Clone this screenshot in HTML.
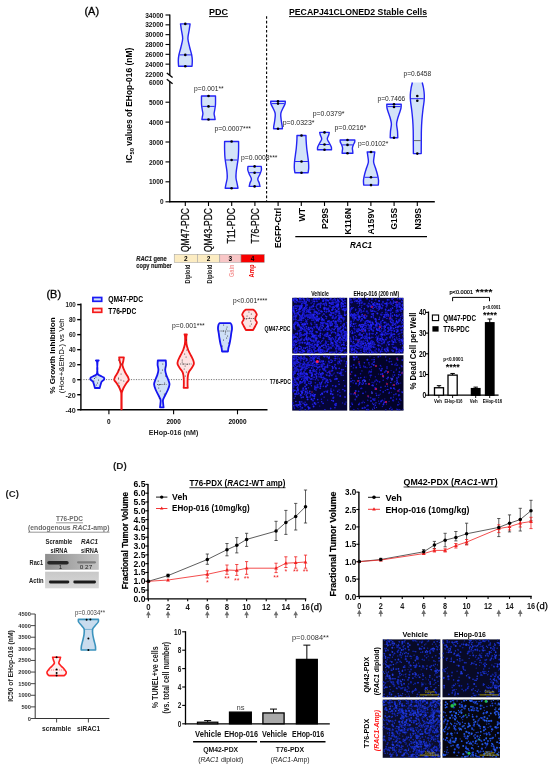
<!DOCTYPE html>
<html><head><meta charset="utf-8"><title>Figure</title>
<style>
html,body{margin:0;padding:0;background:#fff;}
body{width:550px;height:772px;overflow:hidden;}
svg{display:block;font-family:'Liberation Sans', Arial, sans-serif;}
</style></head>
<body>
<svg width="550" height="772" viewBox="0 0 550 772">
<rect width="550" height="772" fill="#fff"/>
<text x="84.5" y="14.6" font-size="10.5" textLength="14.5" lengthAdjust="spacingAndGlyphs" stroke="#000" stroke-width="0.3">(A)</text>
<text x="218.5" y="14.5" font-size="9" font-weight="bold" text-anchor="middle" textLength="19" lengthAdjust="spacingAndGlyphs">PDC</text>
<line x1="209" y1="16.6" x2="228" y2="16.6" stroke="#000" stroke-width="0.9"/>
<text x="289" y="14.5" font-size="9" font-weight="bold" textLength="138" lengthAdjust="spacingAndGlyphs">PECAPJ41CLONED2 Stable Cells</text>
<line x1="289" y1="16.6" x2="427" y2="16.6" stroke="#000" stroke-width="0.9"/>
<line x1="169.8" y1="14.5" x2="169.8" y2="75" stroke="#000" stroke-width="1.3"/>
<line x1="166.8" y1="73" x2="172.6" y2="77.6" stroke="#000" stroke-width="1.3"/>
<line x1="166.8" y1="79.2" x2="172.6" y2="83.8" stroke="#000" stroke-width="1.3"/>
<line x1="169.8" y1="81.8" x2="169.8" y2="202.2" stroke="#000" stroke-width="1.3"/>
<line x1="165.5" y1="15" x2="169.8" y2="15" stroke="#000" stroke-width="1.1"/>
<text x="163.5" y="17.6" font-size="7.2" font-weight="bold" text-anchor="end" fill="#111" textLength="18.3" lengthAdjust="spacingAndGlyphs">34000</text>
<line x1="165.5" y1="24.83" x2="169.8" y2="24.83" stroke="#000" stroke-width="1.1"/>
<text x="163.5" y="27.43" font-size="7.2" font-weight="bold" text-anchor="end" fill="#111" textLength="18.3" lengthAdjust="spacingAndGlyphs">32000</text>
<line x1="165.5" y1="34.66" x2="169.8" y2="34.66" stroke="#000" stroke-width="1.1"/>
<text x="163.5" y="37.26" font-size="7.2" font-weight="bold" text-anchor="end" fill="#111" textLength="18.3" lengthAdjust="spacingAndGlyphs">30000</text>
<line x1="165.5" y1="44.49" x2="169.8" y2="44.49" stroke="#000" stroke-width="1.1"/>
<text x="163.5" y="47.09" font-size="7.2" font-weight="bold" text-anchor="end" fill="#111" textLength="18.3" lengthAdjust="spacingAndGlyphs">28000</text>
<line x1="165.5" y1="54.32" x2="169.8" y2="54.32" stroke="#000" stroke-width="1.1"/>
<text x="163.5" y="56.92" font-size="7.2" font-weight="bold" text-anchor="end" fill="#111" textLength="18.3" lengthAdjust="spacingAndGlyphs">26000</text>
<line x1="165.5" y1="64.15" x2="169.8" y2="64.15" stroke="#000" stroke-width="1.1"/>
<text x="163.5" y="66.75" font-size="7.2" font-weight="bold" text-anchor="end" fill="#111" textLength="18.3" lengthAdjust="spacingAndGlyphs">24000</text>
<text x="163.5" y="76.6" font-size="7.2" font-weight="bold" text-anchor="end" fill="#111" textLength="18.3" lengthAdjust="spacingAndGlyphs">22000</text>
<text x="163.5" y="85" font-size="7.2" font-weight="bold" text-anchor="end" fill="#111" textLength="14.5" lengthAdjust="spacingAndGlyphs">6000</text>
<line x1="165.5" y1="102.2" x2="169.8" y2="102.2" stroke="#000" stroke-width="1.1"/>
<text x="163.5" y="104.8" font-size="7.2" font-weight="bold" text-anchor="end" fill="#111" textLength="14.5" lengthAdjust="spacingAndGlyphs">5000</text>
<line x1="165.5" y1="122.1" x2="169.8" y2="122.1" stroke="#000" stroke-width="1.1"/>
<text x="163.5" y="124.7" font-size="7.2" font-weight="bold" text-anchor="end" fill="#111" textLength="14.5" lengthAdjust="spacingAndGlyphs">4000</text>
<line x1="165.5" y1="142" x2="169.8" y2="142" stroke="#000" stroke-width="1.1"/>
<text x="163.5" y="144.6" font-size="7.2" font-weight="bold" text-anchor="end" fill="#111" textLength="14.5" lengthAdjust="spacingAndGlyphs">3000</text>
<line x1="165.5" y1="161.9" x2="169.8" y2="161.9" stroke="#000" stroke-width="1.1"/>
<text x="163.5" y="164.5" font-size="7.2" font-weight="bold" text-anchor="end" fill="#111" textLength="14.5" lengthAdjust="spacingAndGlyphs">2000</text>
<line x1="165.5" y1="181.8" x2="169.8" y2="181.8" stroke="#000" stroke-width="1.1"/>
<text x="163.5" y="184.4" font-size="7.2" font-weight="bold" text-anchor="end" fill="#111" textLength="14.5" lengthAdjust="spacingAndGlyphs">1000</text>
<text x="131.8" y="105.3" font-size="8.45" font-weight="bold" text-anchor="middle" transform="rotate(-90 131.8 105.3)">IC<tspan font-size="5.8" dy="2">50</tspan><tspan dy="-2"> values of EHop-016 (nM)</tspan></text>
<line x1="169.2" y1="201.8" x2="434.8" y2="201.8" stroke="#000" stroke-width="1.4"/>
<line x1="185.3" y1="201.8" x2="185.3" y2="206" stroke="#000" stroke-width="1.1"/>
<text x="188.9" y="208" font-size="10" text-anchor="end" textLength="44" lengthAdjust="spacingAndGlyphs" transform="rotate(-90 188.9 208)" stroke="#000" stroke-width="0.25">QM47-PDC</text>
<line x1="208.5" y1="201.8" x2="208.5" y2="206" stroke="#000" stroke-width="1.1"/>
<text x="212.1" y="208" font-size="10" text-anchor="end" textLength="44" lengthAdjust="spacingAndGlyphs" transform="rotate(-90 212.1 208)" stroke="#000" stroke-width="0.25">QM43-PDC</text>
<line x1="231.7" y1="201.8" x2="231.7" y2="206" stroke="#000" stroke-width="1.1"/>
<text x="235.3" y="208" font-size="10" text-anchor="end" textLength="35.5" lengthAdjust="spacingAndGlyphs" transform="rotate(-90 235.3 208)" stroke="#000" stroke-width="0.25">T11-PDC</text>
<line x1="254.9" y1="201.8" x2="254.9" y2="206" stroke="#000" stroke-width="1.1"/>
<text x="258.5" y="208" font-size="10" text-anchor="end" textLength="35.5" lengthAdjust="spacingAndGlyphs" transform="rotate(-90 258.5 208)" stroke="#000" stroke-width="0.25">T76-PDC</text>
<line x1="278.1" y1="201.8" x2="278.1" y2="206" stroke="#000" stroke-width="1.1"/>
<text x="281.4" y="208" font-size="9" font-weight="bold" text-anchor="end" textLength="40" lengthAdjust="spacingAndGlyphs" transform="rotate(-90 281.4 208)">EGFP-Ctrl</text>
<line x1="301.3" y1="201.8" x2="301.3" y2="206" stroke="#000" stroke-width="1.1"/>
<text x="304.6" y="208" font-size="9" font-weight="bold" text-anchor="end" textLength="13.5" lengthAdjust="spacingAndGlyphs" transform="rotate(-90 304.6 208)">WT</text>
<line x1="324.5" y1="201.8" x2="324.5" y2="206" stroke="#000" stroke-width="1.1"/>
<text x="327.8" y="208" font-size="9" font-weight="bold" text-anchor="end" textLength="21" lengthAdjust="spacingAndGlyphs" transform="rotate(-90 327.8 208)">P29S</text>
<line x1="347.7" y1="201.8" x2="347.7" y2="206" stroke="#000" stroke-width="1.1"/>
<text x="351" y="208" font-size="9" font-weight="bold" text-anchor="end" textLength="26.5" lengthAdjust="spacingAndGlyphs" transform="rotate(-90 351 208)">K116N</text>
<line x1="370.9" y1="201.8" x2="370.9" y2="206" stroke="#000" stroke-width="1.1"/>
<text x="374.2" y="208" font-size="9" font-weight="bold" text-anchor="end" textLength="26.5" lengthAdjust="spacingAndGlyphs" transform="rotate(-90 374.2 208)">A159V</text>
<line x1="394.1" y1="201.8" x2="394.1" y2="206" stroke="#000" stroke-width="1.1"/>
<text x="397.4" y="208" font-size="9" font-weight="bold" text-anchor="end" textLength="21.5" lengthAdjust="spacingAndGlyphs" transform="rotate(-90 397.4 208)">G15S</text>
<line x1="417.3" y1="201.8" x2="417.3" y2="206" stroke="#000" stroke-width="1.1"/>
<text x="420.6" y="208" font-size="9" font-weight="bold" text-anchor="end" textLength="21.5" lengthAdjust="spacingAndGlyphs" transform="rotate(-90 420.6 208)">N39S</text>
<line x1="165.5" y1="201.8" x2="169.8" y2="201.8" stroke="#000" stroke-width="1.1"/>
<text x="163.5" y="204.4" font-size="7.2" font-weight="bold" text-anchor="end" fill="#111" textLength="3.6" lengthAdjust="spacingAndGlyphs">0</text>
<line x1="266.6" y1="16.2" x2="266.6" y2="201" stroke="#000" stroke-width="1.1" stroke-dasharray="2.6,2"/>
<line x1="295.3" y1="236.7" x2="427" y2="236.7" stroke="#000" stroke-width="1.3"/>
<text x="361" y="248.3" font-size="9" font-weight="bold" text-anchor="middle" font-style="italic" textLength="22" lengthAdjust="spacingAndGlyphs">RAC1</text>
<text x="136.3" y="260.8" font-size="7.2" font-weight="bold" fill="#222" textLength="30.5" lengthAdjust="spacingAndGlyphs" stroke="#222" stroke-width="0.2"><tspan font-style="italic">RAC1</tspan> gene</text>
<text x="136.3" y="267.8" font-size="7.2" font-weight="bold" fill="#222" textLength="35.5" lengthAdjust="spacingAndGlyphs" stroke="#222" stroke-width="0.2">copy number</text>
<rect x="174.2" y="254.4" width="23.1" height="8" fill="#fcecc2" stroke="#999" stroke-width="0.5"/>
<text x="185.75" y="261" font-size="6.5" font-weight="bold" text-anchor="middle">2</text>
<rect x="197.3" y="254.4" width="22.5" height="8" fill="#fcecc2" stroke="#999" stroke-width="0.5"/>
<text x="208.55" y="261" font-size="6.5" font-weight="bold" text-anchor="middle">2</text>
<rect x="219.8" y="254.4" width="21.2" height="8" fill="#f8c6c6" stroke="#999" stroke-width="0.5"/>
<text x="230.4" y="261" font-size="6.5" font-weight="bold" text-anchor="middle">3</text>
<rect x="241" y="254.4" width="23.3" height="8" fill="#f80000" stroke="#999" stroke-width="0.5"/>
<text x="252.65" y="261" font-size="6.5" font-weight="bold" text-anchor="middle">4</text>
<text x="189.6" y="264.5" font-size="6.6" font-weight="bold" text-anchor="end" fill="#222" textLength="19" lengthAdjust="spacingAndGlyphs" transform="rotate(-90 189.6 264.5)">Diploid</text>
<text x="211.7" y="264.5" font-size="6.6" font-weight="bold" text-anchor="end" fill="#222" textLength="19" lengthAdjust="spacingAndGlyphs" transform="rotate(-90 211.7 264.5)">Diploid</text>
<text x="233.5" y="264.5" font-size="6.6" font-weight="bold" text-anchor="end" fill="#f59a9a" textLength="12.5" lengthAdjust="spacingAndGlyphs" transform="rotate(-90 233.5 264.5)">Gain</text>
<text x="254.2" y="264.5" font-size="6.6" font-weight="bold" text-anchor="end" fill="#f00000" textLength="13" lengthAdjust="spacingAndGlyphs" transform="rotate(-90 254.2 264.5)">Amp</text>
<path d="M190.1,23.9 C189.95,24.92 189.57,27.57 189.2,30 C188.83,32.43 187.83,35.67 187.9,38.5 C187.97,41.33 188.97,44.25 189.6,47 C190.23,49.75 191.25,52.73 191.7,55 C192.15,57.27 192.25,58.72 192.3,60.6 C192.35,62.48 192.05,65.35 192,66.3 L178.6,66.3 C178.55,65.35 178.25,62.48 178.3,60.6 C178.35,58.72 178.45,57.27 178.9,55 C179.35,52.73 180.37,49.75 181,47 C181.63,44.25 182.63,41.33 182.7,38.5 C182.77,35.67 181.77,32.43 181.4,30 C181.03,27.57 180.65,24.92 180.5,23.9 Z" fill="#d3e3f8" stroke="#2424f4" stroke-width="1.4" stroke-linejoin="round"/>
<line x1="179.43" y1="54.9" x2="191.17" y2="54.9" stroke="#2424f4" stroke-width="1"/>
<circle cx="185.3" cy="23.9" r="1.3" fill="#000"/>
<circle cx="185.3" cy="54.9" r="1.3" fill="#000"/>
<circle cx="185.3" cy="66.3" r="1.3" fill="#000"/>
<path d="M215.5,96 C215.5,97.33 215.62,101.75 215.5,104 C215.38,106.25 215.03,107.9 214.8,109.5 C214.57,111.1 214.12,112.35 214.1,113.6 C214.08,114.85 214.53,116.02 214.7,117 C214.87,117.98 215.03,119.08 215.1,119.5 L201.9,119.5 C201.97,119.08 202.13,117.98 202.3,117 C202.47,116.02 202.92,114.85 202.9,113.6 C202.88,112.35 202.43,111.1 202.2,109.5 C201.97,107.9 201.62,106.25 201.5,104 C201.38,101.75 201.5,97.33 201.5,96 Z" fill="#d3e3f8" stroke="#2424f4" stroke-width="1.4" stroke-linejoin="round"/>
<line x1="202.31" y1="106.4" x2="214.69" y2="106.4" stroke="#2424f4" stroke-width="1"/>
<circle cx="208.5" cy="96" r="1.3" fill="#000"/>
<circle cx="208.5" cy="106.4" r="1.3" fill="#000"/>
<circle cx="208.5" cy="119.5" r="1.3" fill="#000"/>
<path d="M238.6,141.5 C238.6,142.92 238.67,147.25 238.6,150 C238.53,152.75 238.43,155.5 238.2,158 C237.97,160.5 237.53,162.67 237.2,165 C236.87,167.33 236.4,169.83 236.2,172 C236,174.17 235.83,176 236,178 C236.17,180 236.87,182.3 237.2,184 C237.53,185.7 237.87,187.5 238,188.2 L225.2,188.2 C225.33,187.5 225.67,185.7 226,184 C226.33,182.3 227.03,180 227.2,178 C227.37,176 227.2,174.17 227,172 C226.8,169.83 226.33,167.33 226,165 C225.67,162.67 225.23,160.5 225,158 C224.77,155.5 224.67,152.75 224.6,150 C224.53,147.25 224.6,142.92 224.6,141.5 Z" fill="#d3e3f8" stroke="#2424f4" stroke-width="1.4" stroke-linejoin="round"/>
<line x1="225.79" y1="160" x2="237.41" y2="160" stroke="#2424f4" stroke-width="1"/>
<circle cx="231.6" cy="141.5" r="1.3" fill="#000"/>
<circle cx="231.6" cy="160" r="1.3" fill="#000"/>
<circle cx="231.6" cy="188.2" r="1.3" fill="#000"/>
<path d="M261.2,166.4 C261.23,167 261.6,168.73 261.4,170 C261.2,171.27 260.6,172.5 260,174 C259.4,175.5 257.93,177.5 257.8,179 C257.67,180.5 258.83,181.77 259.2,183 C259.57,184.23 259.87,185.83 260,186.4 L249.2,186.4 C249.33,185.83 249.63,184.23 250,183 C250.37,181.77 251.53,180.5 251.4,179 C251.27,177.5 249.8,175.5 249.2,174 C248.6,172.5 248,171.27 247.8,170 C247.6,168.73 247.97,167 248,166.4 Z" fill="#d3e3f8" stroke="#2424f4" stroke-width="1.4" stroke-linejoin="round"/>
<line x1="249.25" y1="172.7" x2="259.95" y2="172.7" stroke="#2424f4" stroke-width="1"/>
<circle cx="254.6" cy="166.4" r="1.3" fill="#000"/>
<circle cx="254.6" cy="172.7" r="1.3" fill="#000"/>
<circle cx="254.6" cy="186.4" r="1.3" fill="#000"/>
<path d="M285.3,101.3 C285.25,101.75 285.42,102.8 285,104 C284.58,105.2 283.5,106.9 282.8,108.5 C282.1,110.1 281.07,111.68 280.8,113.6 C280.53,115.52 280.97,117.93 281.2,120 C281.43,122.07 282,124.53 282.2,126 C282.4,127.47 282.37,128.33 282.4,128.8 L273.6,128.8 C273.63,128.33 273.6,127.47 273.8,126 C274,124.53 274.57,122.07 274.8,120 C275.03,117.93 275.47,115.52 275.2,113.6 C274.93,111.68 273.9,110.1 273.2,108.5 C272.5,106.9 271.42,105.2 271,104 C270.58,102.8 270.75,101.75 270.7,101.3 Z" fill="#d3e3f8" stroke="#2424f4" stroke-width="1.4" stroke-linejoin="round"/>
<line x1="271.46" y1="103.6" x2="284.54" y2="103.6" stroke="#2424f4" stroke-width="1"/>
<circle cx="278" cy="101.3" r="1.3" fill="#000"/>
<circle cx="278" cy="103.6" r="1.3" fill="#000"/>
<circle cx="278" cy="128.8" r="1.3" fill="#000"/>
<path d="M306,135.5 C306.02,136.25 305.98,137.92 306.1,140 C306.22,142.08 306.45,145.5 306.7,148 C306.95,150.5 307.3,152.67 307.6,155 C307.9,157.33 308.32,159.83 308.5,162 C308.68,164.17 308.77,166.22 308.7,168 C308.63,169.78 308.2,171.92 308.1,172.7 L294.9,172.7 C294.8,171.92 294.37,169.78 294.3,168 C294.23,166.22 294.32,164.17 294.5,162 C294.68,159.83 295.1,157.33 295.4,155 C295.7,152.67 296.05,150.5 296.3,148 C296.55,145.5 296.78,142.08 296.9,140 C297.02,137.92 296.98,136.25 297,135.5 Z" fill="#d3e3f8" stroke="#2424f4" stroke-width="1.4" stroke-linejoin="round"/>
<line x1="295.06" y1="161.5" x2="307.94" y2="161.5" stroke="#2424f4" stroke-width="1"/>
<circle cx="301.5" cy="135.5" r="1.3" fill="#000"/>
<circle cx="301.5" cy="161.5" r="1.3" fill="#000"/>
<circle cx="301.5" cy="172.7" r="1.3" fill="#000"/>
<path d="M329.3,132.4 C329.2,132.83 329.03,133.9 328.7,135 C328.37,136.1 327.2,137.67 327.3,139 C327.4,140.33 328.63,141.67 329.3,143 C329.97,144.33 330.93,145.87 331.3,147 C331.67,148.13 331.47,149.33 331.5,149.8 L317.5,149.8 C317.53,149.33 317.33,148.13 317.7,147 C318.07,145.87 319.03,144.33 319.7,143 C320.37,141.67 321.6,140.33 321.7,139 C321.8,137.67 320.63,136.1 320.3,135 C319.97,133.9 319.8,132.83 319.7,132.4 Z" fill="#d3e3f8" stroke="#2424f4" stroke-width="1.4" stroke-linejoin="round"/>
<line x1="319.45" y1="144.5" x2="329.55" y2="144.5" stroke="#2424f4" stroke-width="1"/>
<circle cx="324.5" cy="132.4" r="1.3" fill="#000"/>
<circle cx="324.5" cy="144.5" r="1.3" fill="#000"/>
<circle cx="324.5" cy="149.8" r="1.3" fill="#000"/>
<path d="M354.8,140 C354.78,140.33 354.95,141.17 354.7,142 C354.45,142.83 353.68,144 353.3,145 C352.92,146 352.5,147 352.4,148 C352.3,149 352.62,150.12 352.7,151 C352.78,151.88 352.87,152.92 352.9,153.3 L342.1,153.3 C342.13,152.92 342.22,151.88 342.3,151 C342.38,150.12 342.7,149 342.6,148 C342.5,147 342.08,146 341.7,145 C341.32,144 340.55,142.83 340.3,142 C340.05,141.17 340.22,140.33 340.2,140 Z" fill="#d3e3f8" stroke="#2424f4" stroke-width="1.4" stroke-linejoin="round"/>
<line x1="342.15" y1="144.9" x2="352.85" y2="144.9" stroke="#2424f4" stroke-width="1"/>
<circle cx="347.5" cy="140" r="1.3" fill="#000"/>
<circle cx="347.5" cy="144.9" r="1.3" fill="#000"/>
<circle cx="347.5" cy="153.3" r="1.3" fill="#000"/>
<path d="M374.8,152 C374.7,152.67 374.4,154.33 374.2,156 C374,157.67 373.38,160 373.6,162 C373.82,164 374.88,166 375.5,168 C376.12,170 376.8,172 377.3,174 C377.8,176 378.33,178.15 378.5,180 C378.67,181.85 378.33,184.25 378.3,185.1 L363.7,185.1 C363.67,184.25 363.33,181.85 363.5,180 C363.67,178.15 364.2,176 364.7,174 C365.2,172 365.88,170 366.5,168 C367.12,166 368.18,164 368.4,162 C368.62,160 368,157.67 367.8,156 C367.6,154.33 367.3,152.67 367.2,152 Z" fill="#d3e3f8" stroke="#2424f4" stroke-width="1.4" stroke-linejoin="round"/>
<line x1="364.54" y1="177.3" x2="377.46" y2="177.3" stroke="#2424f4" stroke-width="1"/>
<circle cx="371" cy="152" r="1.3" fill="#000"/>
<circle cx="371" cy="177.3" r="1.3" fill="#000"/>
<circle cx="371" cy="185.1" r="1.3" fill="#000"/>
<path d="M401.2,104.3 C401.17,104.92 401.28,106.55 401,108 C400.72,109.45 400.03,111.33 399.5,113 C398.97,114.67 398.28,116.17 397.8,118 C397.32,119.83 396.65,121.83 396.6,124 C396.55,126.17 397.3,128.72 397.5,131 C397.7,133.28 397.75,136.58 397.8,137.7 L390.2,137.7 C390.25,136.58 390.3,133.28 390.5,131 C390.7,128.72 391.45,126.17 391.4,124 C391.35,121.83 390.68,119.83 390.2,118 C389.72,116.17 389.03,114.67 388.5,113 C387.97,111.33 387.28,109.45 387,108 C386.72,106.55 386.83,104.92 386.8,104.3 Z" fill="#d3e3f8" stroke="#2424f4" stroke-width="1.4" stroke-linejoin="round"/>
<line x1="387.42" y1="106.6" x2="400.58" y2="106.6" stroke="#2424f4" stroke-width="1"/>
<circle cx="394" cy="104.3" r="1.3" fill="#000"/>
<circle cx="394" cy="107" r="1.3" fill="#000"/>
<circle cx="394" cy="137.7" r="1.3" fill="#000"/>
<path d="M422.2,82.5 C422.42,83.42 423.15,85.92 423.5,88 C423.85,90.08 424.2,92.83 424.3,95 C424.4,97.17 424.33,98.5 424.1,101 C423.87,103.5 423.27,106.83 422.9,110 C422.53,113.17 422.15,116.67 421.9,120 C421.65,123.33 421.5,126.67 421.4,130 C421.3,133.33 421.33,136.07 421.3,140 C421.27,143.93 421.22,151.33 421.2,153.6 L413.4,153.6 C413.38,151.33 413.33,143.93 413.3,140 C413.27,136.07 413.3,133.33 413.2,130 C413.1,126.67 412.95,123.33 412.7,120 C412.45,116.67 412.07,113.17 411.7,110 C411.33,106.83 410.73,103.5 410.5,101 C410.27,98.5 410.2,97.17 410.3,95 C410.4,92.83 410.75,90.08 411.1,88 C411.45,85.92 412.18,83.42 412.4,82.5 Z" fill="#d3e3f8" stroke="none" stroke-width="0"/>
<path d="M422.2,82.5 C422.42,83.42 423.15,85.92 423.5,88 C423.85,90.08 424.2,92.83 424.3,95 C424.4,97.17 424.33,98.5 424.1,101 C423.87,103.5 423.27,106.83 422.9,110 C422.53,113.17 422.15,116.67 421.9,120 C421.65,123.33 421.5,126.67 421.4,130 C421.3,133.33 421.33,136.07 421.3,140 C421.27,143.93 421.22,151.33 421.2,153.6 L413.4,153.6 C413.38,151.33 413.33,143.93 413.3,140 C413.27,136.07 413.3,133.33 413.2,130 C413.1,126.67 412.95,123.33 412.7,120 C412.45,116.67 412.07,113.17 411.7,110 C411.33,106.83 410.73,103.5 410.5,101 C410.27,98.5 410.2,97.17 410.3,95 C410.4,92.83 410.75,90.08 411.1,88 C411.45,85.92 412.18,83.42 412.4,82.5" fill="none" stroke="#2424f4" stroke-width="1.4" stroke-linejoin="round"/>
<line x1="410.92" y1="98.7" x2="423.68" y2="98.7" stroke="#2424f4" stroke-width="1"/>
<circle cx="417.3" cy="96" r="1.3" fill="#000"/>
<circle cx="417.3" cy="100.8" r="1.3" fill="#000"/>
<circle cx="417.3" cy="153.6" r="1.3" fill="#000"/>
<line x1="413.9" y1="140.6" x2="420.7" y2="140.6" stroke="#444" stroke-width="0.8"/>
<text x="194" y="91.3" font-size="7.6" fill="#1e1e1e" textLength="29.6" lengthAdjust="spacingAndGlyphs">p=0.001**</text>
<text x="214.5" y="131" font-size="7.6" fill="#1e1e1e" textLength="36.5" lengthAdjust="spacingAndGlyphs">p=0.0007***</text>
<text x="241" y="159.5" font-size="7.6" fill="#1e1e1e" textLength="36.5" lengthAdjust="spacingAndGlyphs">p=0.0008***</text>
<text x="282.7" y="125" font-size="7.6" fill="#1e1e1e" textLength="31.8" lengthAdjust="spacingAndGlyphs">p=0.0323*</text>
<text x="312.7" y="115.8" font-size="7.6" fill="#1e1e1e" textLength="31.8" lengthAdjust="spacingAndGlyphs">p=0.0379*</text>
<text x="334.5" y="130" font-size="7.6" fill="#1e1e1e" textLength="31.8" lengthAdjust="spacingAndGlyphs">p=0.0216*</text>
<text x="357.9" y="145.7" font-size="7.6" fill="#1e1e1e" textLength="30.4" lengthAdjust="spacingAndGlyphs">p=0.0102*</text>
<text x="377.6" y="100.8" font-size="7.6" fill="#1e1e1e" textLength="27.7" lengthAdjust="spacingAndGlyphs">p=0.7466</text>
<text x="403.5" y="76.3" font-size="7.6" fill="#1e1e1e" textLength="27.7" lengthAdjust="spacingAndGlyphs">p=0.6458</text>
<text x="46.5" y="297.6" font-size="10.5" textLength="14.5" lengthAdjust="spacingAndGlyphs" stroke="#000" stroke-width="0.3">(B)</text>
<line x1="80.9" y1="303.5" x2="80.9" y2="410.3" stroke="#000" stroke-width="1.4"/>
<line x1="77.2" y1="304.6" x2="80.9" y2="304.6" stroke="#000" stroke-width="1.4"/>
<text x="75.8" y="307.4" font-size="7.8" font-weight="bold" text-anchor="end" fill="#1a1a1a" textLength="10.35" lengthAdjust="spacingAndGlyphs">100</text>
<line x1="77.2" y1="319.62" x2="80.9" y2="319.62" stroke="#000" stroke-width="1.4"/>
<text x="75.8" y="322.42" font-size="7.8" font-weight="bold" text-anchor="end" fill="#1a1a1a" textLength="6.9" lengthAdjust="spacingAndGlyphs">80</text>
<line x1="77.2" y1="334.64" x2="80.9" y2="334.64" stroke="#000" stroke-width="1.4"/>
<text x="75.8" y="337.44" font-size="7.8" font-weight="bold" text-anchor="end" fill="#1a1a1a" textLength="6.9" lengthAdjust="spacingAndGlyphs">60</text>
<line x1="77.2" y1="349.66" x2="80.9" y2="349.66" stroke="#000" stroke-width="1.4"/>
<text x="75.8" y="352.46" font-size="7.8" font-weight="bold" text-anchor="end" fill="#1a1a1a" textLength="6.9" lengthAdjust="spacingAndGlyphs">40</text>
<line x1="77.2" y1="364.68" x2="80.9" y2="364.68" stroke="#000" stroke-width="1.4"/>
<text x="75.8" y="367.48" font-size="7.8" font-weight="bold" text-anchor="end" fill="#1a1a1a" textLength="6.9" lengthAdjust="spacingAndGlyphs">20</text>
<line x1="77.2" y1="379.7" x2="80.9" y2="379.7" stroke="#000" stroke-width="1.4"/>
<text x="75.8" y="382.5" font-size="7.8" font-weight="bold" text-anchor="end" fill="#1a1a1a" textLength="3.45" lengthAdjust="spacingAndGlyphs">0</text>
<line x1="77.2" y1="394.72" x2="80.9" y2="394.72" stroke="#000" stroke-width="1.4"/>
<text x="75.8" y="397.52" font-size="7.8" font-weight="bold" text-anchor="end" fill="#1a1a1a" textLength="10.35" lengthAdjust="spacingAndGlyphs">-20</text>
<line x1="77.2" y1="409.74" x2="80.9" y2="409.74" stroke="#000" stroke-width="1.4"/>
<text x="75.8" y="412.54" font-size="7.8" font-weight="bold" text-anchor="end" fill="#1a1a1a" textLength="10.35" lengthAdjust="spacingAndGlyphs">-40</text>
<line x1="80.2" y1="409.8" x2="267.5" y2="409.8" stroke="#000" stroke-width="1.4"/>
<line x1="108.9" y1="409.8" x2="108.9" y2="414.3" stroke="#000" stroke-width="1.1"/>
<text x="108.9" y="424.3" font-size="6.8" font-weight="bold" text-anchor="middle" textLength="3.6" lengthAdjust="spacingAndGlyphs">0</text>
<line x1="173.6" y1="409.8" x2="173.6" y2="414.3" stroke="#000" stroke-width="1.1"/>
<text x="173.6" y="424.3" font-size="6.8" font-weight="bold" text-anchor="middle" textLength="14.4" lengthAdjust="spacingAndGlyphs">2000</text>
<line x1="237.5" y1="409.8" x2="237.5" y2="414.3" stroke="#000" stroke-width="1.1"/>
<text x="237.5" y="424.3" font-size="6.8" font-weight="bold" text-anchor="middle" textLength="18" lengthAdjust="spacingAndGlyphs">20000</text>
<text x="173.6" y="435.4" font-size="7.8" font-weight="bold" text-anchor="middle" fill="#222" textLength="49.5" lengthAdjust="spacingAndGlyphs">EHop-016 (nM)</text>
<line x1="80.9" y1="379.6" x2="267" y2="379.6" stroke="#555" stroke-width="0.8" stroke-dasharray="1.2,1.3"/>
<text x="55" y="355.5" font-size="7.8" font-weight="bold" text-anchor="middle" textLength="76.5" lengthAdjust="spacingAndGlyphs" transform="rotate(-90 55 355.5)">% Growth Inhibition</text>
<text x="64.4" y="355.8" font-size="7.6" text-anchor="middle" textLength="75" lengthAdjust="spacingAndGlyphs" transform="rotate(-90 64.4 355.8)">(Hoe+&amp;EthD-) vs Veh</text>
<rect x="92.9" y="297.5" width="8.8" height="3.8" fill="#cfe0f7" stroke="#1b1bf5" stroke-width="1.7"/>
<rect x="92.9" y="308.5" width="8.8" height="3.8" fill="#fde3e3" stroke="#f51b1b" stroke-width="1.7"/>
<text x="108.3" y="302.3" font-size="8.2" font-weight="bold" textLength="34.7" lengthAdjust="spacingAndGlyphs">QM47-PDC</text>
<text x="108.3" y="313.5" font-size="8.2" font-weight="bold" textLength="28" lengthAdjust="spacingAndGlyphs">T76-PDC</text>
<path d="M98.7,360.5 C98.5,360.83 97.7,360.42 97.5,362.5 C97.3,364.58 97.12,370.83 97.5,373 C97.88,375.17 98.75,374.75 99.8,375.5 C100.85,376.25 103.08,376.83 103.8,377.5 C104.52,378.17 104.43,378.83 104.1,379.5 C103.77,380.17 102.35,380.75 101.8,381.5 C101.25,382.25 101.15,382.92 100.8,384 C100.45,385.08 99.88,387.33 99.7,388 L94.9,388 C94.72,387.33 94.15,385.08 93.8,384 C93.45,382.92 93.35,382.25 92.8,381.5 C92.25,380.75 90.83,380.17 90.5,379.5 C90.17,378.83 90.08,378.17 90.8,377.5 C91.52,376.83 93.75,376.25 94.8,375.5 C95.85,374.75 96.72,375.17 97.1,373 C97.48,370.83 97.3,364.58 97.1,362.5 C96.9,360.42 96.1,360.83 95.9,360.5 Z" fill="#cfe0f7" stroke="#1414f0" stroke-width="1.8" stroke-linejoin="round"/>
<path d="M123.9,357.3 C123.8,357.92 123.53,359.63 123.3,361 C123.07,362.37 122.22,363.67 122.5,365.5 C122.78,367.33 124.08,370.08 125,372 C125.92,373.92 127.38,375.67 128,377 C128.62,378.33 128.95,379 128.7,380 C128.45,381 127.37,381.67 126.5,383 C125.63,384.33 124.25,386.5 123.5,388 C122.75,389.5 122.3,390.83 122,392 C121.7,393.17 121.75,392.12 121.7,395 C121.65,397.88 121.7,406.92 121.7,409.3 L121.3,409.3 C121.3,406.92 121.35,397.88 121.3,395 C121.25,392.12 121.3,393.17 121,392 C120.7,390.83 120.25,389.5 119.5,388 C118.75,386.5 117.37,384.33 116.5,383 C115.63,381.67 114.55,381 114.3,380 C114.05,379 114.38,378.33 115,377 C115.62,375.67 117.08,373.92 118,372 C118.92,370.08 120.22,367.33 120.5,365.5 C120.78,363.67 119.93,362.37 119.7,361 C119.47,359.63 119.2,357.92 119.1,357.3 Z" fill="#fde3e3" stroke="#f01414" stroke-width="1.8" stroke-linejoin="round"/>
<path d="M165.8,360.5 C165.83,361.25 166.1,363.42 166,365 C165.9,366.58 165.15,368.33 165.2,370 C165.25,371.67 165.78,373.33 166.3,375 C166.82,376.67 167.77,378.42 168.3,380 C168.83,381.58 169.58,382.83 169.5,384.5 C169.42,386.17 168.58,388.08 167.8,390 C167.02,391.92 165.6,394.33 164.8,396 C164,397.67 163.27,398.67 163,400 C162.73,401.33 163.1,402.78 163.2,404 C163.3,405.22 163.53,406.75 163.6,407.3 L160,407.3 C160.07,406.75 160.3,405.22 160.4,404 C160.5,402.78 160.87,401.33 160.6,400 C160.33,398.67 159.6,397.67 158.8,396 C158,394.33 156.58,391.92 155.8,390 C155.02,388.08 154.18,386.17 154.1,384.5 C154.02,382.83 154.77,381.58 155.3,380 C155.83,378.42 156.78,376.67 157.3,375 C157.82,373.33 158.35,371.67 158.4,370 C158.45,368.33 157.7,366.58 157.6,365 C157.5,363.42 157.77,361.25 157.8,360.5 Z" fill="#cfe0f7" stroke="#1414f0" stroke-width="1.8" stroke-linejoin="round"/>
<path d="M186.9,334.3 C186.8,334.75 186.37,335.38 186.3,337 C186.23,338.62 186.18,341.83 186.5,344 C186.82,346.17 187.42,348 188.2,350 C188.98,352 190.32,354.17 191.2,356 C192.08,357.83 193.07,359.63 193.5,361 C193.93,362.37 194.1,363.03 193.8,364.2 C193.5,365.37 192.52,366.7 191.7,368 C190.88,369.3 189.53,370.67 188.9,372 C188.27,373.33 188.12,374.67 187.9,376 C187.68,377.33 187.65,378.33 187.6,380 C187.55,381.67 187.57,384.7 187.6,386 C187.63,387.3 187.77,387.5 187.8,387.8 L183.6,387.8 C183.63,387.5 183.77,387.3 183.8,386 C183.83,384.7 183.85,381.67 183.8,380 C183.75,378.33 183.72,377.33 183.5,376 C183.28,374.67 183.13,373.33 182.5,372 C181.87,370.67 180.52,369.3 179.7,368 C178.88,366.7 177.9,365.37 177.6,364.2 C177.3,363.03 177.47,362.37 177.9,361 C178.33,359.63 179.32,357.83 180.2,356 C181.08,354.17 182.42,352 183.2,350 C183.98,348 184.58,346.17 184.9,344 C185.22,341.83 185.17,338.62 185.1,337 C185.03,335.38 184.6,334.75 184.5,334.3 Z" fill="#fde3e3" stroke="#f01414" stroke-width="1.8" stroke-linejoin="round"/>
<path d="M230.5,323.2 C230.68,323.5 231.35,324.03 231.6,325 C231.85,325.97 232.05,327.67 232,329 C231.95,330.33 231.53,331.5 231.3,333 C231.07,334.5 230.9,336.17 230.6,338 C230.3,339.83 229.87,342.33 229.5,344 C229.13,345.67 228.65,346.75 228.4,348 C228.15,349.25 228.07,350.92 228,351.5 L222,351.5 C221.93,350.92 221.85,349.25 221.6,348 C221.35,346.75 220.87,345.67 220.5,344 C220.13,342.33 219.7,339.83 219.4,338 C219.1,336.17 218.93,334.5 218.7,333 C218.47,331.5 218.05,330.33 218,329 C217.95,327.67 218.15,325.97 218.4,325 C218.65,324.03 219.32,323.5 219.5,323.2 Z" fill="#cfe0f7" stroke="#1414f0" stroke-width="1.8" stroke-linejoin="round"/>
<path d="M253.3,309.6 C253.63,309.92 254.72,310.68 255.3,311.5 C255.88,312.32 256.77,313.5 256.8,314.5 C256.83,315.5 255.72,316.58 255.5,317.5 C255.28,318.42 255.27,319.17 255.5,320 C255.73,320.83 256.93,321.5 256.9,322.5 C256.87,323.5 255.93,324.75 255.3,326 C254.67,327.25 253.47,329.33 253.1,330 L245.9,330 C245.53,329.33 244.33,327.25 243.7,326 C243.07,324.75 242.13,323.5 242.1,322.5 C242.07,321.5 243.27,320.83 243.5,320 C243.73,319.17 243.72,318.42 243.5,317.5 C243.28,316.58 242.17,315.5 242.2,314.5 C242.23,313.5 243.12,312.32 243.7,311.5 C244.28,310.68 245.37,309.92 245.7,309.6 Z" fill="#fde3e3" stroke="#f01414" stroke-width="1.8" stroke-linejoin="round"/>
<circle cx="95.89" cy="377" r="0.5" fill="#2a2a2a"/>
<circle cx="94.51" cy="378.5" r="0.5" fill="#2a2a2a"/>
<circle cx="98.51" cy="380" r="0.5" fill="#2a2a2a"/>
<circle cx="93.88" cy="381" r="0.5" fill="#2a2a2a"/>
<circle cx="97.59" cy="383" r="0.5" fill="#2a2a2a"/>
<circle cx="96.23" cy="385" r="0.5" fill="#2a2a2a"/>
<circle cx="118.41" cy="360" r="0.5" fill="#2a2a2a"/>
<circle cx="121.55" cy="364" r="0.5" fill="#2a2a2a"/>
<circle cx="118.26" cy="370" r="0.5" fill="#2a2a2a"/>
<circle cx="121.04" cy="374" r="0.5" fill="#2a2a2a"/>
<circle cx="118.49" cy="378" r="0.5" fill="#2a2a2a"/>
<circle cx="118.63" cy="379" r="0.5" fill="#2a2a2a"/>
<circle cx="120.97" cy="380" r="0.5" fill="#2a2a2a"/>
<circle cx="123.79" cy="381" r="0.5" fill="#2a2a2a"/>
<circle cx="118.87" cy="383" r="0.5" fill="#2a2a2a"/>
<circle cx="119.56" cy="386" r="0.5" fill="#2a2a2a"/>
<circle cx="162.82" cy="364" r="0.5" fill="#2a2a2a"/>
<circle cx="165.38" cy="367" r="0.5" fill="#2a2a2a"/>
<circle cx="162.42" cy="370" r="0.5" fill="#2a2a2a"/>
<circle cx="160.97" cy="373" r="0.5" fill="#2a2a2a"/>
<circle cx="165.61" cy="376" r="0.5" fill="#2a2a2a"/>
<circle cx="158.17" cy="381" r="0.5" fill="#2a2a2a"/>
<circle cx="164.67" cy="383" r="0.5" fill="#2a2a2a"/>
<circle cx="160.12" cy="384.5" r="0.5" fill="#2a2a2a"/>
<circle cx="158.95" cy="385" r="0.5" fill="#2a2a2a"/>
<circle cx="158.74" cy="388" r="0.5" fill="#2a2a2a"/>
<circle cx="160.27" cy="391" r="0.5" fill="#2a2a2a"/>
<circle cx="164.33" cy="394" r="0.5" fill="#2a2a2a"/>
<circle cx="159.25" cy="398" r="0.5" fill="#2a2a2a"/>
<circle cx="186.35" cy="340" r="0.5" fill="#2a2a2a"/>
<circle cx="186.81" cy="350" r="0.5" fill="#2a2a2a"/>
<circle cx="184.68" cy="354" r="0.5" fill="#2a2a2a"/>
<circle cx="186.08" cy="357" r="0.5" fill="#2a2a2a"/>
<circle cx="182.2" cy="360" r="0.5" fill="#2a2a2a"/>
<circle cx="182.18" cy="362" r="0.5" fill="#2a2a2a"/>
<circle cx="183.35" cy="364" r="0.5" fill="#2a2a2a"/>
<circle cx="187.14" cy="364.5" r="0.5" fill="#2a2a2a"/>
<circle cx="185.12" cy="366" r="0.5" fill="#2a2a2a"/>
<circle cx="184.21" cy="369" r="0.5" fill="#2a2a2a"/>
<circle cx="186.38" cy="372" r="0.5" fill="#2a2a2a"/>
<circle cx="185.33" cy="376" r="0.5" fill="#2a2a2a"/>
<circle cx="223.6" cy="325" r="0.5" fill="#2a2a2a"/>
<circle cx="227.06" cy="327" r="0.5" fill="#2a2a2a"/>
<circle cx="226.39" cy="329" r="0.5" fill="#2a2a2a"/>
<circle cx="223.21" cy="331" r="0.5" fill="#2a2a2a"/>
<circle cx="225.52" cy="332" r="0.5" fill="#2a2a2a"/>
<circle cx="225.18" cy="334" r="0.5" fill="#2a2a2a"/>
<circle cx="227.63" cy="336" r="0.5" fill="#2a2a2a"/>
<circle cx="226.61" cy="338" r="0.5" fill="#2a2a2a"/>
<circle cx="223.52" cy="340" r="0.5" fill="#2a2a2a"/>
<circle cx="228.36" cy="343" r="0.5" fill="#2a2a2a"/>
<circle cx="222.33" cy="346" r="0.5" fill="#2a2a2a"/>
<circle cx="248.93" cy="312" r="0.5" fill="#2a2a2a"/>
<circle cx="251.3" cy="314" r="0.5" fill="#2a2a2a"/>
<circle cx="247.06" cy="316" r="0.5" fill="#2a2a2a"/>
<circle cx="249.42" cy="318" r="0.5" fill="#2a2a2a"/>
<circle cx="246.27" cy="319" r="0.5" fill="#2a2a2a"/>
<circle cx="250.68" cy="321" r="0.5" fill="#2a2a2a"/>
<circle cx="251.35" cy="324" r="0.5" fill="#2a2a2a"/>
<circle cx="250.01" cy="326" r="0.5" fill="#2a2a2a"/>
<line x1="157" y1="384.5" x2="166.5" y2="384.5" stroke="#333" stroke-width="0.7" stroke-dasharray="1,0.8"/>
<line x1="180" y1="364" x2="191.5" y2="364" stroke="#333" stroke-width="0.7" stroke-dasharray="1,0.8"/>
<line x1="219.5" y1="331" x2="230.5" y2="331" stroke="#333" stroke-width="0.7" stroke-dasharray="1,0.8"/>
<line x1="244" y1="318.5" x2="255" y2="318.5" stroke="#333" stroke-width="0.7" stroke-dasharray="1,0.8"/>
<text x="172" y="327.5" font-size="7.6" fill="#222" textLength="32.7" lengthAdjust="spacingAndGlyphs">p=0.001***</text>
<text x="233.1" y="303" font-size="7.6" fill="#222" textLength="34.3" lengthAdjust="spacingAndGlyphs">p&lt;0.001****</text>
<text x="320" y="295.5" font-size="6.4" font-weight="bold" text-anchor="middle" textLength="17.6" lengthAdjust="spacingAndGlyphs">Vehicle</text>
<text x="376.3" y="295.5" font-size="6.4" font-weight="bold" text-anchor="middle" textLength="45.8" lengthAdjust="spacingAndGlyphs">EHop-016 (200 nM)</text>
<text x="290.5" y="331.2" font-size="6.4" font-weight="bold" text-anchor="end" textLength="26" lengthAdjust="spacingAndGlyphs">QM47-PDC</text>
<text x="290.8" y="383.6" font-size="6.4" font-weight="bold" text-anchor="end" textLength="21" lengthAdjust="spacingAndGlyphs">T76-PDC</text>
<line x1="428.5" y1="311.5" x2="428.5" y2="395.8" stroke="#000" stroke-width="1.3"/>
<line x1="425.3" y1="395.2" x2="428.5" y2="395.2" stroke="#000" stroke-width="1.1"/>
<text x="426.3" y="398.1" font-size="8.2" font-weight="bold" text-anchor="end" textLength="3.7" lengthAdjust="spacingAndGlyphs">0</text>
<line x1="425.3" y1="374.5" x2="428.5" y2="374.5" stroke="#000" stroke-width="1.1"/>
<text x="426.3" y="377.4" font-size="8.2" font-weight="bold" text-anchor="end" textLength="7.4" lengthAdjust="spacingAndGlyphs">10</text>
<line x1="425.3" y1="353.8" x2="428.5" y2="353.8" stroke="#000" stroke-width="1.1"/>
<text x="426.3" y="356.7" font-size="8.2" font-weight="bold" text-anchor="end" textLength="7.4" lengthAdjust="spacingAndGlyphs">20</text>
<line x1="425.3" y1="333.1" x2="428.5" y2="333.1" stroke="#000" stroke-width="1.1"/>
<text x="426.3" y="336" font-size="8.2" font-weight="bold" text-anchor="end" textLength="7.4" lengthAdjust="spacingAndGlyphs">30</text>
<line x1="425.3" y1="312.4" x2="428.5" y2="312.4" stroke="#000" stroke-width="1.1"/>
<text x="426.3" y="315.3" font-size="8.2" font-weight="bold" text-anchor="end" textLength="7.4" lengthAdjust="spacingAndGlyphs">40</text>
<line x1="427.9" y1="395.2" x2="498.6" y2="395.2" stroke="#000" stroke-width="1.3"/>
<line x1="439" y1="385.68" x2="439" y2="387.75" stroke="#000" stroke-width="1"/>
<line x1="436.8" y1="385.68" x2="441.2" y2="385.68" stroke="#000" stroke-width="1"/>
<rect x="434.5" y="387.75" width="9" height="7.45" fill="#fff" stroke="#000" stroke-width="1.3"/>
<line x1="452.6" y1="373.46" x2="452.6" y2="375.12" stroke="#000" stroke-width="1"/>
<line x1="450.4" y1="373.46" x2="454.8" y2="373.46" stroke="#000" stroke-width="1"/>
<rect x="448" y="375.12" width="9.2" height="20.08" fill="#fff" stroke="#000" stroke-width="1.3"/>
<line x1="475.7" y1="387.13" x2="475.7" y2="388.58" stroke="#000" stroke-width="1"/>
<line x1="473.5" y1="387.13" x2="477.9" y2="387.13" stroke="#000" stroke-width="1"/>
<rect x="471.4" y="388.58" width="8.6" height="6.62" fill="#000" stroke="#000" stroke-width="1.3"/>
<line x1="489.75" y1="319.02" x2="489.75" y2="322.75" stroke="#000" stroke-width="1"/>
<line x1="487.55" y1="319.02" x2="491.95" y2="319.02" stroke="#000" stroke-width="1"/>
<rect x="485.5" y="322.75" width="8.5" height="72.45" fill="#000" stroke="#000" stroke-width="1.3"/>
<line x1="438.9" y1="395.2" x2="438.9" y2="398" stroke="#000" stroke-width="0.9"/>
<line x1="452.6" y1="395.2" x2="452.6" y2="398" stroke="#000" stroke-width="0.9"/>
<line x1="475.7" y1="395.2" x2="475.7" y2="398" stroke="#000" stroke-width="0.9"/>
<line x1="489.7" y1="395.2" x2="489.7" y2="398" stroke="#000" stroke-width="0.9"/>
<text x="438" y="402.8" font-size="5.6" font-weight="bold" text-anchor="middle" textLength="7.8" lengthAdjust="spacingAndGlyphs">Veh</text>
<text x="453.4" y="402.8" font-size="5.6" font-weight="bold" text-anchor="middle" textLength="18" lengthAdjust="spacingAndGlyphs">EHop-016</text>
<text x="473.7" y="402.8" font-size="5.6" font-weight="bold" text-anchor="middle" textLength="7.8" lengthAdjust="spacingAndGlyphs">Veh</text>
<text x="492.4" y="402.8" font-size="5.6" font-weight="bold" text-anchor="middle" textLength="19.5" lengthAdjust="spacingAndGlyphs">EHop-016</text>
<rect x="432.4" y="315" width="6.2" height="5.6" fill="#fff" stroke="#000" stroke-width="1.1"/>
<rect x="432.4" y="326.2" width="6.2" height="5.4" fill="#000"/>
<text x="443.2" y="321.2" font-size="8.2" font-weight="bold" textLength="32.8" lengthAdjust="spacingAndGlyphs">QM47-PDC</text>
<text x="443.2" y="331.8" font-size="8.2" font-weight="bold" textLength="26.3" lengthAdjust="spacingAndGlyphs">T76-PDC</text>
<path d="M452.6,301.2 V297.4 H489.5 V301.2" fill="none" stroke="#000" stroke-width="1"/>
<text x="449.5" y="293.6" font-size="6.2" textLength="23.5" lengthAdjust="spacingAndGlyphs" stroke="#000" stroke-width="0.2">p&lt;0.0001</text>
<text x="475.5" y="295.2" font-size="9" font-weight="bold" textLength="17" lengthAdjust="spacingAndGlyphs">****</text>
<text x="491.7" y="309.2" font-size="5.2" font-weight="bold" text-anchor="middle" textLength="17.7" lengthAdjust="spacingAndGlyphs">p&lt;0.0001</text>
<text x="490" y="317.8" font-size="8.5" font-weight="bold" text-anchor="middle" textLength="14" lengthAdjust="spacingAndGlyphs">****</text>
<text x="453.3" y="361.3" font-size="5.2" font-weight="bold" text-anchor="middle" textLength="20" lengthAdjust="spacingAndGlyphs">p&lt;0.0001</text>
<text x="452.8" y="370" font-size="8.5" font-weight="bold" text-anchor="middle" textLength="14" lengthAdjust="spacingAndGlyphs">****</text>
<text x="416.2" y="351" font-size="8.2" font-weight="bold" text-anchor="middle" textLength="77" lengthAdjust="spacingAndGlyphs" transform="rotate(-90 416.2 351)">% Dead Cell per Well</text>
<defs><filter id="mb" x="-5%" y="-5%" width="110%" height="110%"><feGaussianBlur stdDeviation="0.45"/></filter></defs>
<rect x="292.2" y="297.8" width="55" height="55.7" fill="#05053a"/>
<clipPath id="cb1"><rect x="292.2" y="297.8" width="55" height="55.7"/></clipPath>
<g clip-path="url(#cb1)"><g filter="url(#mb)"><g fill="#1c1cd8"><circle cx="336.0" cy="301.6" r="0.7"/><circle cx="299.3" cy="311.6" r="1.0"/><circle cx="313.8" cy="320.0" r="0.9"/><circle cx="346.8" cy="323.8" r="0.6"/><circle cx="342.5" cy="340.0" r="0.9"/><circle cx="297.0" cy="350.5" r="0.8"/><circle cx="300.8" cy="328.3" r="1.0"/><circle cx="307.4" cy="340.8" r="0.9"/><circle cx="338.4" cy="305.4" r="0.8"/><circle cx="329.1" cy="321.7" r="0.8"/><circle cx="306.1" cy="305.4" r="1.0"/><circle cx="297.1" cy="301.0" r="0.8"/><circle cx="314.5" cy="317.2" r="0.7"/><circle cx="299.9" cy="327.0" r="1.0"/><circle cx="304.9" cy="334.0" r="1.0"/><circle cx="326.4" cy="305.2" r="0.8"/><circle cx="304.9" cy="347.8" r="0.6"/><circle cx="342.4" cy="350.2" r="1.0"/><circle cx="314.5" cy="311.1" r="0.9"/><circle cx="299.9" cy="308.5" r="0.8"/><circle cx="309.8" cy="318.3" r="0.7"/><circle cx="344.7" cy="345.1" r="0.6"/><circle cx="305.9" cy="303.9" r="0.9"/><circle cx="346.4" cy="322.4" r="0.6"/><circle cx="313.1" cy="340.6" r="1.0"/><circle cx="336.9" cy="340.5" r="0.6"/><circle cx="308.6" cy="338.0" r="1.0"/><circle cx="296.5" cy="308.8" r="0.7"/><circle cx="340.8" cy="352.8" r="0.6"/><circle cx="304.9" cy="342.8" r="1.1"/><circle cx="309.4" cy="309.1" r="0.9"/><circle cx="303.7" cy="312.4" r="0.8"/><circle cx="312.9" cy="318.4" r="0.8"/><circle cx="324.4" cy="334.8" r="0.6"/><circle cx="341.5" cy="305.2" r="0.9"/><circle cx="294.6" cy="327.4" r="0.7"/><circle cx="336.9" cy="307.5" r="0.8"/><circle cx="301.8" cy="353.3" r="0.9"/><circle cx="310.7" cy="339.6" r="1.0"/><circle cx="346.0" cy="336.8" r="0.7"/><circle cx="298.1" cy="309.3" r="0.6"/><circle cx="337.6" cy="333.0" r="0.6"/><circle cx="326.2" cy="299.5" r="0.8"/><circle cx="311.3" cy="337.0" r="0.7"/><circle cx="307.8" cy="309.8" r="0.8"/><circle cx="299.2" cy="330.9" r="0.9"/><circle cx="301.1" cy="316.1" r="1.1"/><circle cx="335.9" cy="338.6" r="0.7"/><circle cx="341.4" cy="316.1" r="1.0"/><circle cx="335.3" cy="305.6" r="0.9"/><circle cx="296.5" cy="344.5" r="0.7"/><circle cx="306.7" cy="310.8" r="0.8"/><circle cx="315.2" cy="351.3" r="0.9"/><circle cx="293.3" cy="300.4" r="1.1"/><circle cx="340.2" cy="317.0" r="0.8"/><circle cx="310.4" cy="315.5" r="0.9"/><circle cx="312.9" cy="306.0" r="0.9"/><circle cx="303.9" cy="335.0" r="1.0"/><circle cx="328.7" cy="346.2" r="0.7"/><circle cx="327.5" cy="349.8" r="0.9"/><circle cx="341.5" cy="332.7" r="0.6"/><circle cx="332.2" cy="324.0" r="1.1"/><circle cx="330.9" cy="343.9" r="0.9"/><circle cx="323.2" cy="320.2" r="0.7"/><circle cx="306.2" cy="299.9" r="0.7"/><circle cx="294.3" cy="312.1" r="1.1"/><circle cx="339.9" cy="347.3" r="0.8"/><circle cx="316.3" cy="306.1" r="0.7"/><circle cx="330.8" cy="303.5" r="1.0"/><circle cx="307.2" cy="323.7" r="1.0"/><circle cx="300.3" cy="329.7" r="0.7"/><circle cx="299.9" cy="351.8" r="1.1"/><circle cx="306.8" cy="335.6" r="0.9"/><circle cx="326.4" cy="311.8" r="0.8"/><circle cx="316.4" cy="301.3" r="0.8"/><circle cx="294.4" cy="335.5" r="0.6"/><circle cx="344.3" cy="325.1" r="0.8"/><circle cx="315.2" cy="311.8" r="1.1"/><circle cx="314.1" cy="337.4" r="1.0"/><circle cx="321.6" cy="320.3" r="0.7"/><circle cx="293.8" cy="337.8" r="0.6"/><circle cx="330.4" cy="341.0" r="0.7"/><circle cx="338.4" cy="320.4" r="0.9"/><circle cx="319.1" cy="341.5" r="0.8"/><circle cx="328.1" cy="311.8" r="0.7"/><circle cx="322.3" cy="304.1" r="0.7"/><circle cx="339.7" cy="328.5" r="1.0"/><circle cx="322.1" cy="351.7" r="0.8"/><circle cx="317.5" cy="304.5" r="1.1"/><circle cx="301.4" cy="339.3" r="1.0"/><circle cx="344.8" cy="353.1" r="0.9"/><circle cx="311.8" cy="340.9" r="1.0"/><circle cx="300.8" cy="298.8" r="0.9"/><circle cx="300.5" cy="332.8" r="1.1"/><circle cx="313.6" cy="309.6" r="0.6"/><circle cx="295.8" cy="333.8" r="1.0"/><circle cx="312.9" cy="334.4" r="0.6"/><circle cx="344.7" cy="305.4" r="0.6"/><circle cx="346.9" cy="314.4" r="0.7"/><circle cx="340.7" cy="352.4" r="0.7"/><circle cx="294.3" cy="325.9" r="0.8"/><circle cx="332.3" cy="300.5" r="0.6"/><circle cx="304.5" cy="327.9" r="0.9"/><circle cx="332.4" cy="313.0" r="0.7"/><circle cx="337.6" cy="334.8" r="0.9"/><circle cx="302.0" cy="350.6" r="0.9"/><circle cx="307.3" cy="315.8" r="1.0"/><circle cx="339.0" cy="330.1" r="0.7"/><circle cx="296.6" cy="322.6" r="0.8"/><circle cx="301.9" cy="301.4" r="0.7"/><circle cx="303.4" cy="309.1" r="1.0"/><circle cx="300.2" cy="348.9" r="0.7"/><circle cx="315.8" cy="335.6" r="1.0"/><circle cx="328.4" cy="309.5" r="0.9"/><circle cx="308.2" cy="317.2" r="0.8"/><circle cx="303.2" cy="313.4" r="0.9"/><circle cx="324.0" cy="314.5" r="0.7"/><circle cx="311.5" cy="324.6" r="0.8"/><circle cx="335.5" cy="314.4" r="0.9"/><circle cx="333.3" cy="304.1" r="0.8"/><circle cx="335.7" cy="336.9" r="1.0"/><circle cx="304.2" cy="311.4" r="0.9"/><circle cx="308.6" cy="351.3" r="1.1"/><circle cx="314.8" cy="314.5" r="0.9"/><circle cx="311.7" cy="344.8" r="0.7"/><circle cx="317.2" cy="342.9" r="0.8"/><circle cx="312.2" cy="352.2" r="1.0"/><circle cx="336.8" cy="345.2" r="0.8"/><circle cx="301.3" cy="307.6" r="1.0"/><circle cx="329.0" cy="348.0" r="0.8"/><circle cx="303.9" cy="310.3" r="0.9"/><circle cx="295.5" cy="322.6" r="1.0"/><circle cx="335.0" cy="299.4" r="0.8"/><circle cx="320.4" cy="330.6" r="1.0"/><circle cx="336.4" cy="351.3" r="1.1"/><circle cx="331.9" cy="337.9" r="0.7"/><circle cx="298.0" cy="339.0" r="0.8"/><circle cx="335.9" cy="324.3" r="0.7"/><circle cx="321.3" cy="311.8" r="0.8"/><circle cx="296.9" cy="341.3" r="0.9"/><circle cx="292.6" cy="309.2" r="1.0"/><circle cx="313.2" cy="336.8" r="1.0"/><circle cx="313.8" cy="341.7" r="0.9"/><circle cx="327.3" cy="349.0" r="0.7"/><circle cx="318.5" cy="351.1" r="1.0"/><circle cx="302.5" cy="342.8" r="0.9"/><circle cx="320.2" cy="351.1" r="1.0"/><circle cx="293.5" cy="344.0" r="0.8"/><circle cx="343.0" cy="329.8" r="1.0"/><circle cx="333.6" cy="313.1" r="0.8"/><circle cx="310.9" cy="328.1" r="1.0"/><circle cx="309.9" cy="309.3" r="1.0"/><circle cx="339.2" cy="342.5" r="0.7"/><circle cx="309.4" cy="312.5" r="0.8"/><circle cx="313.3" cy="334.1" r="0.7"/><circle cx="335.5" cy="311.8" r="0.9"/><circle cx="340.2" cy="348.4" r="1.0"/><circle cx="305.4" cy="347.5" r="0.6"/><circle cx="308.9" cy="315.3" r="0.6"/><circle cx="307.0" cy="350.3" r="0.6"/><circle cx="314.9" cy="351.1" r="1.0"/><circle cx="326.5" cy="324.1" r="1.0"/><circle cx="312.5" cy="345.2" r="0.7"/><circle cx="341.5" cy="331.0" r="0.9"/><circle cx="296.1" cy="298.1" r="0.9"/><circle cx="335.4" cy="311.0" r="0.6"/><circle cx="308.2" cy="339.4" r="0.8"/><circle cx="340.0" cy="336.0" r="0.8"/><circle cx="322.9" cy="301.3" r="0.6"/><circle cx="295.0" cy="313.8" r="0.7"/><circle cx="312.1" cy="347.4" r="0.9"/><circle cx="332.3" cy="317.9" r="0.7"/><circle cx="303.6" cy="318.0" r="1.1"/><circle cx="328.2" cy="329.5" r="0.9"/><circle cx="335.6" cy="317.7" r="1.0"/><circle cx="340.5" cy="304.1" r="0.6"/><circle cx="305.1" cy="309.9" r="0.6"/><circle cx="331.3" cy="313.0" r="1.1"/><circle cx="300.2" cy="307.2" r="1.0"/><circle cx="327.7" cy="323.7" r="0.9"/><circle cx="344.6" cy="332.3" r="0.9"/><circle cx="322.6" cy="334.1" r="0.7"/><circle cx="309.3" cy="310.0" r="0.7"/><circle cx="325.0" cy="352.2" r="0.6"/><circle cx="301.3" cy="347.5" r="0.9"/><circle cx="346.8" cy="309.6" r="0.9"/><circle cx="339.4" cy="352.9" r="1.0"/><circle cx="294.0" cy="324.4" r="1.0"/><circle cx="311.1" cy="349.8" r="0.7"/><circle cx="301.1" cy="353.3" r="1.1"/><circle cx="326.9" cy="327.5" r="0.8"/><circle cx="331.2" cy="330.5" r="0.7"/><circle cx="303.5" cy="326.1" r="1.0"/><circle cx="315.1" cy="348.1" r="1.0"/><circle cx="344.8" cy="335.4" r="1.1"/><circle cx="343.1" cy="298.1" r="0.8"/><circle cx="338.1" cy="330.6" r="0.8"/><circle cx="305.6" cy="306.4" r="0.8"/><circle cx="331.0" cy="321.7" r="0.6"/><circle cx="346.6" cy="338.7" r="1.0"/><circle cx="315.1" cy="344.8" r="0.6"/><circle cx="299.2" cy="301.5" r="0.9"/><circle cx="331.6" cy="304.2" r="0.9"/><circle cx="322.0" cy="328.1" r="1.0"/><circle cx="346.6" cy="352.8" r="0.7"/><circle cx="332.7" cy="304.2" r="0.7"/><circle cx="305.0" cy="330.4" r="0.8"/><circle cx="336.8" cy="312.8" r="0.8"/><circle cx="338.5" cy="328.3" r="1.0"/><circle cx="346.0" cy="340.1" r="1.1"/><circle cx="309.3" cy="346.3" r="0.6"/><circle cx="328.3" cy="327.4" r="0.8"/></g><g fill="#2020e8"><circle cx="344.9" cy="306.2" r="0.7"/><circle cx="292.9" cy="344.1" r="0.7"/><circle cx="330.5" cy="312.3" r="0.7"/><circle cx="321.5" cy="341.2" r="0.7"/><circle cx="344.7" cy="318.1" r="0.7"/><circle cx="321.2" cy="349.8" r="1.0"/><circle cx="299.4" cy="306.3" r="1.0"/><circle cx="318.7" cy="341.1" r="0.6"/><circle cx="340.4" cy="350.3" r="0.9"/><circle cx="341.5" cy="306.4" r="0.9"/><circle cx="308.4" cy="351.3" r="1.1"/><circle cx="345.6" cy="303.6" r="0.6"/><circle cx="326.4" cy="300.2" r="1.1"/><circle cx="326.8" cy="327.4" r="0.8"/><circle cx="330.0" cy="352.5" r="1.0"/><circle cx="308.9" cy="310.8" r="0.9"/><circle cx="331.8" cy="325.3" r="0.9"/><circle cx="337.7" cy="330.3" r="0.9"/><circle cx="338.2" cy="328.9" r="0.9"/><circle cx="306.1" cy="301.9" r="1.0"/><circle cx="318.5" cy="335.9" r="0.9"/><circle cx="316.9" cy="312.8" r="1.1"/><circle cx="339.2" cy="313.4" r="0.9"/><circle cx="299.1" cy="325.8" r="1.0"/><circle cx="294.1" cy="316.6" r="0.9"/><circle cx="345.5" cy="315.2" r="0.7"/><circle cx="300.3" cy="319.7" r="1.1"/><circle cx="311.5" cy="351.0" r="1.1"/><circle cx="294.9" cy="324.2" r="1.1"/><circle cx="310.0" cy="338.9" r="0.9"/><circle cx="302.3" cy="342.5" r="1.0"/><circle cx="301.7" cy="305.2" r="1.0"/><circle cx="308.4" cy="329.4" r="1.0"/><circle cx="315.0" cy="298.8" r="1.0"/><circle cx="332.7" cy="307.4" r="0.7"/><circle cx="343.1" cy="303.9" r="1.0"/><circle cx="314.4" cy="344.9" r="0.7"/><circle cx="294.5" cy="350.1" r="0.8"/><circle cx="316.3" cy="299.1" r="0.8"/><circle cx="308.0" cy="343.0" r="0.9"/><circle cx="337.8" cy="306.6" r="1.0"/><circle cx="342.3" cy="303.6" r="0.9"/><circle cx="341.4" cy="302.6" r="0.7"/><circle cx="338.5" cy="309.1" r="1.1"/><circle cx="324.8" cy="351.1" r="0.9"/><circle cx="302.7" cy="314.6" r="1.0"/><circle cx="301.3" cy="334.4" r="0.7"/><circle cx="330.3" cy="325.7" r="0.8"/><circle cx="293.3" cy="345.6" r="0.9"/><circle cx="294.3" cy="328.1" r="1.0"/><circle cx="296.0" cy="342.3" r="0.9"/><circle cx="318.8" cy="348.2" r="0.7"/><circle cx="316.8" cy="298.6" r="0.9"/><circle cx="318.3" cy="320.8" r="0.9"/><circle cx="293.2" cy="337.9" r="1.0"/><circle cx="343.0" cy="318.2" r="0.9"/><circle cx="337.9" cy="331.3" r="0.8"/><circle cx="342.8" cy="340.3" r="0.7"/><circle cx="318.9" cy="319.1" r="1.0"/><circle cx="340.9" cy="326.9" r="0.9"/><circle cx="297.5" cy="322.7" r="0.9"/><circle cx="342.9" cy="337.1" r="0.8"/><circle cx="338.9" cy="318.5" r="1.0"/><circle cx="306.3" cy="304.7" r="0.7"/><circle cx="336.6" cy="348.7" r="0.8"/><circle cx="304.4" cy="301.0" r="0.9"/><circle cx="299.9" cy="297.9" r="0.9"/><circle cx="312.0" cy="300.1" r="0.7"/><circle cx="299.8" cy="307.8" r="1.0"/><circle cx="301.8" cy="305.4" r="0.9"/><circle cx="320.8" cy="322.6" r="0.7"/><circle cx="316.8" cy="299.2" r="0.7"/><circle cx="322.7" cy="351.0" r="1.1"/><circle cx="306.6" cy="344.4" r="0.8"/><circle cx="298.9" cy="320.4" r="0.9"/><circle cx="302.5" cy="315.9" r="0.9"/><circle cx="314.1" cy="303.3" r="0.6"/><circle cx="320.5" cy="305.8" r="0.9"/><circle cx="300.8" cy="340.1" r="0.7"/><circle cx="328.0" cy="335.9" r="0.7"/><circle cx="295.7" cy="308.5" r="0.6"/><circle cx="294.1" cy="334.8" r="0.7"/><circle cx="317.9" cy="342.1" r="0.8"/><circle cx="295.9" cy="348.7" r="1.0"/><circle cx="332.6" cy="337.5" r="0.6"/><circle cx="320.2" cy="335.5" r="0.9"/><circle cx="337.6" cy="328.9" r="0.7"/><circle cx="299.5" cy="333.5" r="0.7"/><circle cx="312.0" cy="309.3" r="0.7"/><circle cx="342.0" cy="350.4" r="0.8"/><circle cx="347.0" cy="331.4" r="0.7"/><circle cx="328.4" cy="329.3" r="0.8"/><circle cx="308.7" cy="316.9" r="0.6"/><circle cx="316.5" cy="312.3" r="1.1"/><circle cx="323.4" cy="345.2" r="1.0"/><circle cx="310.2" cy="331.4" r="1.1"/><circle cx="337.2" cy="335.6" r="0.8"/><circle cx="335.8" cy="342.0" r="1.0"/><circle cx="319.9" cy="347.6" r="1.1"/><circle cx="293.5" cy="307.0" r="1.0"/><circle cx="294.9" cy="301.9" r="0.9"/><circle cx="326.6" cy="304.6" r="0.7"/><circle cx="306.5" cy="331.6" r="1.1"/><circle cx="294.7" cy="340.9" r="0.8"/><circle cx="299.5" cy="314.7" r="0.8"/><circle cx="298.8" cy="324.9" r="0.8"/><circle cx="296.5" cy="351.9" r="1.1"/><circle cx="313.3" cy="306.2" r="1.0"/><circle cx="339.4" cy="317.2" r="0.9"/><circle cx="295.8" cy="340.0" r="0.7"/><circle cx="300.4" cy="335.7" r="0.9"/><circle cx="322.7" cy="340.6" r="0.7"/><circle cx="338.8" cy="329.6" r="0.8"/><circle cx="339.7" cy="328.5" r="1.0"/><circle cx="313.9" cy="347.1" r="0.8"/><circle cx="339.9" cy="342.5" r="0.7"/><circle cx="337.5" cy="299.8" r="0.8"/><circle cx="294.9" cy="345.8" r="0.9"/><circle cx="293.0" cy="338.0" r="0.7"/><circle cx="329.3" cy="335.4" r="0.7"/><circle cx="331.0" cy="322.4" r="1.0"/><circle cx="310.0" cy="344.7" r="1.0"/><circle cx="313.7" cy="299.6" r="0.9"/><circle cx="328.2" cy="336.5" r="0.7"/><circle cx="303.3" cy="324.0" r="1.0"/><circle cx="294.1" cy="326.4" r="0.9"/><circle cx="315.0" cy="344.4" r="1.0"/><circle cx="308.9" cy="312.4" r="0.7"/><circle cx="319.5" cy="327.7" r="0.8"/><circle cx="337.4" cy="301.9" r="0.6"/><circle cx="294.0" cy="341.7" r="0.9"/><circle cx="300.5" cy="317.0" r="0.7"/><circle cx="295.9" cy="341.4" r="1.0"/><circle cx="336.6" cy="304.5" r="0.6"/><circle cx="309.7" cy="346.6" r="0.9"/><circle cx="313.7" cy="298.3" r="0.7"/><circle cx="346.3" cy="338.7" r="0.9"/><circle cx="343.1" cy="301.5" r="0.9"/><circle cx="324.0" cy="320.3" r="0.7"/><circle cx="345.3" cy="327.4" r="0.9"/><circle cx="307.7" cy="352.0" r="1.0"/><circle cx="334.0" cy="302.1" r="0.6"/><circle cx="336.4" cy="323.1" r="0.7"/><circle cx="339.4" cy="316.7" r="0.8"/><circle cx="334.1" cy="329.6" r="1.0"/><circle cx="326.0" cy="323.3" r="0.9"/><circle cx="345.9" cy="328.2" r="0.6"/><circle cx="342.4" cy="344.4" r="0.6"/><circle cx="343.4" cy="326.7" r="0.9"/><circle cx="331.6" cy="352.9" r="0.8"/><circle cx="302.0" cy="303.4" r="0.8"/><circle cx="295.5" cy="308.4" r="0.8"/><circle cx="343.7" cy="328.7" r="0.7"/><circle cx="321.1" cy="311.2" r="1.0"/><circle cx="297.8" cy="324.4" r="1.1"/><circle cx="332.9" cy="345.6" r="1.1"/><circle cx="304.1" cy="299.8" r="0.7"/><circle cx="314.9" cy="337.3" r="1.0"/><circle cx="345.4" cy="348.2" r="1.0"/><circle cx="323.6" cy="307.9" r="0.7"/><circle cx="316.7" cy="316.7" r="1.1"/><circle cx="332.6" cy="317.8" r="1.0"/><circle cx="309.5" cy="343.0" r="0.9"/><circle cx="327.5" cy="333.1" r="1.1"/><circle cx="325.3" cy="345.1" r="0.9"/><circle cx="299.4" cy="346.2" r="0.9"/><circle cx="302.6" cy="349.5" r="0.6"/><circle cx="336.0" cy="342.5" r="0.9"/><circle cx="297.3" cy="334.8" r="0.7"/><circle cx="319.8" cy="326.9" r="0.6"/><circle cx="297.1" cy="300.5" r="0.7"/><circle cx="339.1" cy="334.6" r="0.9"/><circle cx="309.9" cy="307.4" r="0.8"/><circle cx="312.8" cy="317.5" r="0.7"/><circle cx="306.1" cy="334.3" r="1.0"/><circle cx="305.4" cy="337.5" r="0.6"/><circle cx="344.2" cy="324.0" r="1.0"/><circle cx="296.0" cy="322.6" r="1.1"/><circle cx="316.0" cy="319.0" r="1.1"/><circle cx="303.6" cy="299.1" r="1.0"/><circle cx="306.3" cy="326.6" r="0.9"/><circle cx="310.7" cy="340.5" r="0.7"/><circle cx="340.0" cy="317.7" r="0.8"/><circle cx="293.4" cy="308.6" r="1.0"/><circle cx="339.4" cy="319.3" r="1.0"/><circle cx="301.1" cy="307.9" r="0.9"/><circle cx="316.7" cy="324.7" r="0.9"/><circle cx="340.7" cy="331.3" r="0.8"/><circle cx="339.5" cy="348.8" r="0.7"/><circle cx="343.8" cy="344.8" r="1.0"/><circle cx="320.1" cy="337.1" r="0.9"/><circle cx="295.1" cy="352.8" r="1.0"/><circle cx="327.7" cy="344.5" r="0.7"/><circle cx="318.3" cy="341.6" r="1.1"/><circle cx="301.0" cy="335.9" r="0.8"/><circle cx="312.4" cy="328.7" r="0.9"/><circle cx="311.1" cy="303.1" r="0.7"/><circle cx="319.6" cy="313.5" r="0.9"/><circle cx="318.6" cy="349.6" r="1.1"/><circle cx="312.0" cy="331.5" r="1.1"/><circle cx="299.5" cy="349.0" r="0.9"/><circle cx="300.9" cy="306.1" r="1.0"/><circle cx="322.1" cy="298.6" r="0.8"/><circle cx="307.9" cy="300.0" r="0.9"/><circle cx="336.4" cy="310.6" r="0.7"/><circle cx="319.0" cy="318.4" r="0.8"/><circle cx="307.7" cy="349.2" r="0.8"/><circle cx="304.9" cy="303.3" r="1.0"/></g><g fill="#1616c0"><circle cx="311.8" cy="331.8" r="0.7"/><circle cx="295.1" cy="297.8" r="0.7"/><circle cx="326.0" cy="301.7" r="0.8"/><circle cx="335.7" cy="324.1" r="0.9"/><circle cx="335.2" cy="339.6" r="0.7"/><circle cx="336.6" cy="305.9" r="1.1"/><circle cx="293.7" cy="309.7" r="1.0"/><circle cx="306.5" cy="321.1" r="1.1"/><circle cx="316.6" cy="331.9" r="0.9"/><circle cx="338.0" cy="306.8" r="0.9"/><circle cx="315.4" cy="317.7" r="0.8"/><circle cx="307.1" cy="305.0" r="1.1"/><circle cx="314.5" cy="327.7" r="0.8"/><circle cx="339.3" cy="301.5" r="0.8"/><circle cx="328.3" cy="328.2" r="1.1"/><circle cx="340.1" cy="335.1" r="0.7"/><circle cx="294.7" cy="308.1" r="0.6"/><circle cx="345.1" cy="352.0" r="0.7"/><circle cx="304.2" cy="308.0" r="0.6"/><circle cx="319.9" cy="309.0" r="0.6"/><circle cx="337.1" cy="305.8" r="0.8"/><circle cx="328.4" cy="337.7" r="0.8"/><circle cx="296.5" cy="306.0" r="1.0"/><circle cx="322.4" cy="315.2" r="0.8"/><circle cx="296.3" cy="302.8" r="0.7"/><circle cx="299.5" cy="343.5" r="1.0"/><circle cx="311.1" cy="315.4" r="0.6"/><circle cx="313.7" cy="346.3" r="1.1"/><circle cx="305.9" cy="312.6" r="0.7"/><circle cx="343.5" cy="320.7" r="0.7"/><circle cx="311.1" cy="314.4" r="1.1"/><circle cx="307.1" cy="339.7" r="0.9"/><circle cx="342.8" cy="333.8" r="0.7"/><circle cx="321.3" cy="322.2" r="0.6"/><circle cx="315.0" cy="337.3" r="0.8"/><circle cx="333.2" cy="299.6" r="0.8"/><circle cx="326.1" cy="312.4" r="0.8"/><circle cx="333.3" cy="345.0" r="0.7"/><circle cx="292.4" cy="347.0" r="0.8"/><circle cx="298.0" cy="331.0" r="0.7"/><circle cx="297.2" cy="306.9" r="0.8"/><circle cx="328.9" cy="321.1" r="1.0"/><circle cx="300.0" cy="342.7" r="0.9"/><circle cx="308.8" cy="344.4" r="1.1"/><circle cx="319.9" cy="334.4" r="0.7"/><circle cx="303.1" cy="320.3" r="0.7"/><circle cx="317.1" cy="326.8" r="1.0"/><circle cx="346.8" cy="332.9" r="1.0"/><circle cx="304.4" cy="314.0" r="0.8"/><circle cx="317.0" cy="301.3" r="0.9"/><circle cx="300.2" cy="299.3" r="1.1"/><circle cx="330.5" cy="338.8" r="0.9"/><circle cx="335.8" cy="333.8" r="0.8"/><circle cx="293.4" cy="312.1" r="1.0"/><circle cx="342.3" cy="340.6" r="0.8"/><circle cx="323.8" cy="313.8" r="0.9"/><circle cx="341.3" cy="339.3" r="0.9"/><circle cx="332.0" cy="352.1" r="0.9"/><circle cx="339.1" cy="335.7" r="0.8"/><circle cx="314.2" cy="298.5" r="0.8"/><circle cx="311.7" cy="345.2" r="0.8"/><circle cx="346.3" cy="335.6" r="1.0"/><circle cx="297.8" cy="305.8" r="1.0"/><circle cx="307.8" cy="316.8" r="0.6"/><circle cx="308.3" cy="343.9" r="0.9"/><circle cx="312.5" cy="343.6" r="0.9"/><circle cx="335.0" cy="323.0" r="1.0"/><circle cx="309.2" cy="301.0" r="1.0"/><circle cx="336.6" cy="340.8" r="0.9"/><circle cx="295.3" cy="305.9" r="1.1"/><circle cx="324.6" cy="322.4" r="0.8"/><circle cx="343.1" cy="319.2" r="0.6"/><circle cx="309.9" cy="310.8" r="0.8"/><circle cx="297.6" cy="313.9" r="0.6"/><circle cx="325.2" cy="344.0" r="1.0"/><circle cx="338.5" cy="348.8" r="0.8"/><circle cx="299.5" cy="334.9" r="0.9"/><circle cx="294.2" cy="336.9" r="1.0"/><circle cx="345.4" cy="310.3" r="0.7"/><circle cx="305.4" cy="316.5" r="1.1"/><circle cx="337.0" cy="345.0" r="0.9"/><circle cx="325.7" cy="329.6" r="0.7"/><circle cx="317.5" cy="328.3" r="0.8"/><circle cx="314.0" cy="349.3" r="1.1"/><circle cx="322.8" cy="325.2" r="1.1"/><circle cx="295.3" cy="299.0" r="0.9"/><circle cx="310.7" cy="317.4" r="0.9"/><circle cx="314.1" cy="353.1" r="1.0"/><circle cx="323.8" cy="330.2" r="1.1"/><circle cx="320.7" cy="326.6" r="0.8"/><circle cx="311.1" cy="327.3" r="0.7"/><circle cx="312.4" cy="302.0" r="0.7"/><circle cx="327.2" cy="300.2" r="1.0"/><circle cx="339.2" cy="315.3" r="1.0"/><circle cx="305.6" cy="319.5" r="0.7"/><circle cx="301.7" cy="317.8" r="1.1"/><circle cx="314.0" cy="318.0" r="1.0"/><circle cx="314.4" cy="301.4" r="1.0"/><circle cx="334.8" cy="347.0" r="0.7"/><circle cx="325.6" cy="300.4" r="0.7"/><circle cx="347.1" cy="332.1" r="0.9"/><circle cx="338.7" cy="349.4" r="1.0"/><circle cx="333.0" cy="316.0" r="1.0"/><circle cx="297.1" cy="300.0" r="0.7"/><circle cx="300.1" cy="301.8" r="1.0"/><circle cx="299.7" cy="341.0" r="0.7"/><circle cx="326.4" cy="346.4" r="1.1"/><circle cx="337.6" cy="304.6" r="1.0"/><circle cx="316.4" cy="341.9" r="0.6"/><circle cx="338.2" cy="330.6" r="1.1"/><circle cx="326.6" cy="309.6" r="1.0"/><circle cx="294.7" cy="305.9" r="0.7"/><circle cx="340.2" cy="340.9" r="0.9"/><circle cx="339.1" cy="311.5" r="1.0"/><circle cx="292.5" cy="312.9" r="0.6"/><circle cx="314.2" cy="350.2" r="0.6"/><circle cx="323.2" cy="352.8" r="0.9"/><circle cx="306.4" cy="337.4" r="1.0"/><circle cx="328.0" cy="328.4" r="0.9"/><circle cx="304.1" cy="329.5" r="1.0"/><circle cx="344.8" cy="309.6" r="1.0"/><circle cx="345.3" cy="308.7" r="1.0"/><circle cx="306.9" cy="315.9" r="0.8"/><circle cx="341.6" cy="333.2" r="0.9"/><circle cx="321.1" cy="325.3" r="0.7"/><circle cx="326.2" cy="318.5" r="0.8"/><circle cx="329.1" cy="339.0" r="0.6"/><circle cx="347.1" cy="343.3" r="0.7"/><circle cx="311.0" cy="323.2" r="0.9"/><circle cx="303.3" cy="302.9" r="0.7"/><circle cx="336.0" cy="337.2" r="0.8"/><circle cx="311.1" cy="350.4" r="0.6"/><circle cx="323.5" cy="300.1" r="1.1"/><circle cx="329.2" cy="339.3" r="1.0"/><circle cx="337.6" cy="320.4" r="0.9"/><circle cx="328.7" cy="348.2" r="0.8"/><circle cx="313.6" cy="316.3" r="0.7"/><circle cx="333.4" cy="299.8" r="0.7"/><circle cx="319.3" cy="352.1" r="1.1"/><circle cx="301.1" cy="329.8" r="1.0"/><circle cx="341.4" cy="309.0" r="0.6"/><circle cx="332.8" cy="307.3" r="0.6"/><circle cx="345.6" cy="341.1" r="0.9"/><circle cx="317.0" cy="344.4" r="1.0"/><circle cx="294.5" cy="343.8" r="0.8"/><circle cx="329.5" cy="320.8" r="0.7"/><circle cx="333.0" cy="316.8" r="1.0"/><circle cx="300.5" cy="335.2" r="0.9"/><circle cx="341.6" cy="339.2" r="0.9"/><circle cx="299.4" cy="337.0" r="0.9"/><circle cx="312.0" cy="336.8" r="1.0"/><circle cx="321.8" cy="323.8" r="0.7"/><circle cx="317.2" cy="316.8" r="0.8"/><circle cx="335.7" cy="339.2" r="0.7"/><circle cx="311.7" cy="306.9" r="1.1"/><circle cx="312.2" cy="347.1" r="0.6"/><circle cx="338.9" cy="345.1" r="0.8"/><circle cx="309.2" cy="314.3" r="0.9"/><circle cx="338.9" cy="321.8" r="0.7"/><circle cx="316.5" cy="337.2" r="0.8"/><circle cx="301.1" cy="299.8" r="0.8"/><circle cx="330.2" cy="339.4" r="0.7"/><circle cx="316.7" cy="338.4" r="1.1"/><circle cx="343.7" cy="317.6" r="0.7"/><circle cx="304.5" cy="308.6" r="0.8"/><circle cx="296.3" cy="323.0" r="0.7"/><circle cx="299.9" cy="318.1" r="1.0"/><circle cx="302.8" cy="324.0" r="1.0"/><circle cx="304.6" cy="351.3" r="0.8"/><circle cx="324.3" cy="322.7" r="0.9"/><circle cx="341.6" cy="351.4" r="0.6"/><circle cx="322.0" cy="320.1" r="1.0"/><circle cx="345.5" cy="306.1" r="0.9"/><circle cx="306.7" cy="312.6" r="0.6"/><circle cx="338.3" cy="321.4" r="0.6"/><circle cx="343.5" cy="309.8" r="0.8"/><circle cx="326.0" cy="348.0" r="0.8"/><circle cx="299.4" cy="301.3" r="0.8"/><circle cx="314.0" cy="326.9" r="1.0"/><circle cx="298.0" cy="301.7" r="0.8"/><circle cx="334.6" cy="318.5" r="1.1"/><circle cx="326.2" cy="303.6" r="0.9"/><circle cx="301.5" cy="307.5" r="0.8"/><circle cx="298.1" cy="343.1" r="0.7"/><circle cx="328.5" cy="300.9" r="0.7"/><circle cx="292.8" cy="340.3" r="1.0"/><circle cx="304.7" cy="315.5" r="1.1"/><circle cx="336.4" cy="353.0" r="1.0"/><circle cx="309.7" cy="317.0" r="1.0"/><circle cx="336.4" cy="321.4" r="0.7"/><circle cx="316.7" cy="305.7" r="0.7"/><circle cx="344.4" cy="305.9" r="1.0"/><circle cx="298.6" cy="312.0" r="0.9"/><circle cx="312.0" cy="352.3" r="0.8"/><circle cx="343.3" cy="332.1" r="0.8"/><circle cx="346.7" cy="336.1" r="1.0"/><circle cx="336.3" cy="316.6" r="0.9"/><circle cx="340.7" cy="342.9" r="0.8"/><circle cx="297.6" cy="325.3" r="0.7"/><circle cx="344.1" cy="353.4" r="0.9"/><circle cx="344.9" cy="300.4" r="1.0"/><circle cx="304.0" cy="331.3" r="0.6"/><circle cx="305.0" cy="323.6" r="1.1"/><circle cx="309.5" cy="299.4" r="0.7"/><circle cx="317.2" cy="318.4" r="1.1"/><circle cx="298.3" cy="339.4" r="0.7"/><circle cx="303.1" cy="312.3" r="1.0"/><circle cx="297.8" cy="320.5" r="0.7"/><circle cx="294.7" cy="337.6" r="0.7"/><circle cx="307.0" cy="307.3" r="0.8"/><circle cx="332.1" cy="346.0" r="0.7"/><circle cx="303.0" cy="326.7" r="0.8"/><circle cx="339.6" cy="337.3" r="0.6"/><circle cx="332.5" cy="309.4" r="1.0"/><circle cx="327.1" cy="336.4" r="0.6"/><circle cx="314.7" cy="322.2" r="1.0"/><circle cx="300.7" cy="306.4" r="1.0"/><circle cx="341.2" cy="321.6" r="1.0"/><circle cx="298.9" cy="309.7" r="0.8"/><circle cx="302.3" cy="298.1" r="0.8"/><circle cx="311.9" cy="316.5" r="0.9"/><circle cx="334.1" cy="332.2" r="1.0"/></g><g fill="#2626f8"><circle cx="295.5" cy="336.9" r="1.1"/><circle cx="307.9" cy="319.3" r="0.6"/><circle cx="301.4" cy="320.2" r="0.7"/><circle cx="339.7" cy="313.3" r="0.8"/><circle cx="344.8" cy="331.3" r="0.7"/><circle cx="311.1" cy="333.6" r="0.7"/><circle cx="332.1" cy="307.3" r="0.7"/><circle cx="318.3" cy="349.9" r="1.0"/><circle cx="326.6" cy="346.8" r="0.6"/><circle cx="296.9" cy="300.1" r="1.1"/><circle cx="341.6" cy="302.9" r="1.0"/><circle cx="330.3" cy="335.4" r="0.9"/><circle cx="344.4" cy="335.8" r="1.0"/><circle cx="331.4" cy="348.0" r="0.8"/><circle cx="335.4" cy="321.6" r="1.0"/><circle cx="318.9" cy="348.6" r="0.7"/><circle cx="301.4" cy="306.8" r="1.1"/><circle cx="322.5" cy="323.0" r="1.0"/><circle cx="333.4" cy="320.8" r="0.9"/><circle cx="297.3" cy="347.8" r="0.9"/><circle cx="315.6" cy="340.3" r="1.1"/><circle cx="344.0" cy="338.0" r="1.0"/><circle cx="331.0" cy="314.9" r="0.8"/><circle cx="296.7" cy="310.5" r="0.8"/><circle cx="292.6" cy="314.1" r="0.6"/><circle cx="293.5" cy="310.8" r="1.1"/><circle cx="335.6" cy="348.7" r="0.7"/><circle cx="327.9" cy="324.6" r="0.7"/><circle cx="338.5" cy="335.2" r="0.8"/><circle cx="325.2" cy="328.4" r="0.8"/><circle cx="316.8" cy="332.3" r="1.0"/><circle cx="314.2" cy="301.5" r="0.8"/><circle cx="335.0" cy="326.3" r="0.9"/><circle cx="332.5" cy="343.2" r="1.1"/><circle cx="307.3" cy="343.2" r="0.9"/><circle cx="300.0" cy="308.9" r="0.9"/><circle cx="346.9" cy="338.1" r="0.9"/><circle cx="338.6" cy="339.3" r="1.0"/><circle cx="318.0" cy="344.6" r="1.0"/><circle cx="344.8" cy="310.8" r="1.0"/><circle cx="303.2" cy="351.0" r="0.9"/><circle cx="334.1" cy="352.3" r="0.8"/><circle cx="335.5" cy="332.8" r="0.8"/><circle cx="319.8" cy="318.9" r="0.7"/><circle cx="307.6" cy="347.1" r="0.6"/><circle cx="306.3" cy="338.9" r="0.7"/><circle cx="306.5" cy="336.8" r="0.7"/><circle cx="331.4" cy="332.9" r="0.8"/><circle cx="320.8" cy="303.4" r="0.9"/><circle cx="320.4" cy="333.4" r="0.9"/><circle cx="332.3" cy="332.0" r="0.7"/><circle cx="337.0" cy="305.9" r="1.0"/><circle cx="317.9" cy="314.2" r="0.7"/><circle cx="327.3" cy="334.5" r="1.1"/><circle cx="321.9" cy="345.9" r="1.0"/><circle cx="330.5" cy="325.5" r="0.8"/><circle cx="320.3" cy="324.8" r="0.6"/><circle cx="326.6" cy="316.7" r="0.8"/><circle cx="323.8" cy="320.0" r="0.6"/><circle cx="337.6" cy="340.9" r="0.9"/><circle cx="346.5" cy="345.6" r="0.7"/><circle cx="332.3" cy="302.5" r="1.0"/><circle cx="296.6" cy="315.1" r="0.7"/><circle cx="312.2" cy="333.7" r="0.8"/><circle cx="312.9" cy="335.9" r="1.0"/><circle cx="342.9" cy="325.3" r="0.8"/><circle cx="318.9" cy="329.4" r="1.0"/><circle cx="293.7" cy="299.7" r="1.0"/><circle cx="344.3" cy="348.5" r="0.9"/><circle cx="327.4" cy="351.1" r="0.8"/><circle cx="338.2" cy="300.4" r="1.0"/><circle cx="307.1" cy="344.6" r="0.7"/><circle cx="295.3" cy="347.7" r="0.7"/><circle cx="338.1" cy="304.4" r="1.1"/><circle cx="324.3" cy="309.1" r="1.0"/><circle cx="338.5" cy="346.0" r="0.6"/><circle cx="337.1" cy="346.0" r="1.0"/><circle cx="323.9" cy="347.8" r="0.7"/><circle cx="294.2" cy="351.9" r="0.8"/><circle cx="308.1" cy="311.4" r="0.9"/><circle cx="320.9" cy="352.9" r="1.1"/><circle cx="337.4" cy="326.6" r="1.0"/><circle cx="307.0" cy="332.9" r="1.0"/><circle cx="340.1" cy="298.0" r="0.9"/><circle cx="340.2" cy="331.6" r="0.8"/><circle cx="313.3" cy="315.7" r="1.0"/><circle cx="313.1" cy="314.5" r="1.0"/><circle cx="345.5" cy="331.7" r="0.8"/><circle cx="341.2" cy="351.0" r="0.7"/><circle cx="308.7" cy="327.7" r="0.9"/><circle cx="343.3" cy="306.4" r="0.8"/><circle cx="322.7" cy="319.4" r="0.8"/><circle cx="297.3" cy="312.8" r="0.7"/><circle cx="303.6" cy="350.8" r="0.7"/><circle cx="329.5" cy="302.9" r="1.0"/><circle cx="295.8" cy="315.1" r="0.7"/><circle cx="301.9" cy="318.2" r="0.9"/><circle cx="293.6" cy="337.0" r="1.1"/><circle cx="303.8" cy="348.7" r="0.6"/><circle cx="330.2" cy="338.9" r="0.9"/><circle cx="322.1" cy="311.7" r="0.8"/><circle cx="297.3" cy="333.3" r="0.9"/><circle cx="329.1" cy="311.0" r="0.9"/><circle cx="324.5" cy="311.2" r="0.7"/><circle cx="334.0" cy="307.2" r="0.9"/><circle cx="338.3" cy="311.9" r="0.7"/><circle cx="292.4" cy="344.6" r="1.0"/><circle cx="302.5" cy="335.1" r="0.7"/><circle cx="326.7" cy="351.3" r="0.8"/><circle cx="302.4" cy="328.7" r="0.9"/><circle cx="295.5" cy="316.6" r="1.1"/><circle cx="299.7" cy="298.2" r="0.8"/><circle cx="343.1" cy="330.4" r="0.8"/><circle cx="343.0" cy="309.6" r="1.0"/><circle cx="314.5" cy="335.6" r="0.6"/><circle cx="321.0" cy="350.2" r="0.6"/><circle cx="321.3" cy="317.3" r="0.8"/><circle cx="306.6" cy="322.0" r="0.7"/><circle cx="317.7" cy="319.9" r="0.9"/><circle cx="340.3" cy="337.8" r="0.8"/><circle cx="342.2" cy="300.6" r="0.8"/><circle cx="322.2" cy="319.0" r="1.0"/><circle cx="328.7" cy="349.3" r="0.7"/><circle cx="336.9" cy="311.1" r="1.0"/><circle cx="309.9" cy="318.0" r="0.8"/><circle cx="320.9" cy="323.0" r="0.8"/><circle cx="323.2" cy="300.9" r="1.0"/><circle cx="299.4" cy="309.4" r="1.1"/><circle cx="331.3" cy="342.5" r="0.8"/><circle cx="312.0" cy="334.7" r="0.6"/><circle cx="319.8" cy="347.4" r="1.1"/><circle cx="333.5" cy="306.4" r="0.6"/><circle cx="326.2" cy="336.3" r="0.8"/><circle cx="324.8" cy="308.0" r="1.1"/><circle cx="329.9" cy="337.3" r="0.6"/><circle cx="327.2" cy="308.9" r="1.0"/><circle cx="297.3" cy="337.8" r="0.7"/><circle cx="342.1" cy="336.0" r="0.8"/><circle cx="319.1" cy="298.7" r="1.0"/><circle cx="341.1" cy="331.8" r="0.8"/><circle cx="310.4" cy="312.6" r="0.8"/><circle cx="343.8" cy="342.8" r="0.9"/><circle cx="300.1" cy="330.5" r="0.6"/><circle cx="346.0" cy="333.9" r="0.9"/><circle cx="309.2" cy="350.4" r="0.8"/><circle cx="314.4" cy="335.8" r="0.8"/><circle cx="294.6" cy="313.3" r="0.9"/><circle cx="339.8" cy="337.5" r="1.0"/><circle cx="344.7" cy="313.0" r="0.7"/><circle cx="316.2" cy="338.6" r="1.0"/><circle cx="299.6" cy="298.5" r="0.9"/><circle cx="314.2" cy="335.3" r="0.7"/><circle cx="305.5" cy="348.4" r="0.6"/><circle cx="293.8" cy="319.1" r="0.7"/><circle cx="301.1" cy="327.4" r="0.9"/><circle cx="304.2" cy="339.9" r="1.0"/><circle cx="293.0" cy="317.9" r="0.7"/><circle cx="327.9" cy="326.2" r="1.1"/><circle cx="328.7" cy="344.4" r="0.6"/><circle cx="319.0" cy="303.9" r="0.8"/><circle cx="298.7" cy="324.5" r="0.7"/><circle cx="292.8" cy="334.2" r="0.6"/><circle cx="330.7" cy="298.7" r="1.0"/><circle cx="305.0" cy="324.4" r="1.1"/><circle cx="337.7" cy="297.8" r="0.7"/><circle cx="299.6" cy="315.7" r="0.7"/><circle cx="317.2" cy="316.3" r="0.8"/><circle cx="332.0" cy="310.1" r="0.9"/><circle cx="336.4" cy="326.4" r="1.0"/><circle cx="330.7" cy="315.4" r="0.9"/><circle cx="306.5" cy="339.1" r="1.1"/><circle cx="304.7" cy="308.1" r="1.0"/><circle cx="331.6" cy="338.7" r="0.7"/><circle cx="328.1" cy="300.5" r="0.9"/><circle cx="341.9" cy="299.2" r="0.9"/><circle cx="333.0" cy="308.9" r="0.8"/><circle cx="344.7" cy="315.1" r="1.0"/><circle cx="310.2" cy="353.0" r="1.1"/><circle cx="322.3" cy="325.7" r="0.7"/><circle cx="320.3" cy="349.7" r="0.7"/><circle cx="302.3" cy="324.5" r="1.1"/><circle cx="314.4" cy="317.5" r="0.8"/><circle cx="338.9" cy="338.4" r="0.9"/><circle cx="341.4" cy="317.3" r="1.1"/><circle cx="292.9" cy="347.4" r="0.8"/><circle cx="297.1" cy="349.3" r="0.7"/><circle cx="294.3" cy="316.1" r="0.7"/><circle cx="335.3" cy="328.3" r="0.6"/><circle cx="297.9" cy="313.2" r="1.0"/><circle cx="317.3" cy="345.9" r="1.1"/><circle cx="315.1" cy="324.0" r="0.6"/><circle cx="329.5" cy="337.5" r="0.6"/><circle cx="340.1" cy="299.0" r="0.6"/><circle cx="309.2" cy="329.4" r="0.8"/><circle cx="327.9" cy="321.4" r="0.9"/><circle cx="320.3" cy="307.2" r="0.8"/><circle cx="297.2" cy="348.1" r="0.7"/><circle cx="310.6" cy="312.6" r="0.7"/><circle cx="297.7" cy="325.8" r="0.7"/><circle cx="323.1" cy="322.7" r="0.9"/><circle cx="326.3" cy="334.5" r="0.6"/><circle cx="328.7" cy="308.1" r="0.7"/><circle cx="337.2" cy="324.7" r="0.7"/><circle cx="341.4" cy="345.1" r="0.8"/><circle cx="323.6" cy="326.5" r="0.6"/><circle cx="293.0" cy="310.5" r="0.8"/><circle cx="320.6" cy="352.5" r="0.9"/><circle cx="298.5" cy="314.0" r="0.7"/><circle cx="316.7" cy="320.4" r="1.0"/><circle cx="301.3" cy="348.9" r="0.6"/><circle cx="304.3" cy="351.3" r="0.9"/></g><g fill="#1a1acc"><circle cx="340.4" cy="315.3" r="0.9"/><circle cx="315.2" cy="318.4" r="1.1"/><circle cx="344.5" cy="334.3" r="0.8"/><circle cx="302.7" cy="352.6" r="0.7"/><circle cx="333.4" cy="339.0" r="0.9"/><circle cx="293.5" cy="350.8" r="0.7"/><circle cx="336.5" cy="343.4" r="0.7"/><circle cx="341.6" cy="334.7" r="0.9"/><circle cx="325.7" cy="341.0" r="0.7"/><circle cx="332.1" cy="328.8" r="0.9"/><circle cx="317.1" cy="327.5" r="1.1"/><circle cx="322.7" cy="322.3" r="0.8"/><circle cx="307.0" cy="298.7" r="0.7"/><circle cx="294.2" cy="298.8" r="1.1"/><circle cx="294.6" cy="344.3" r="0.9"/><circle cx="319.1" cy="298.0" r="1.0"/><circle cx="296.9" cy="341.1" r="0.7"/><circle cx="321.0" cy="330.3" r="0.7"/><circle cx="307.5" cy="315.4" r="0.7"/><circle cx="306.8" cy="347.3" r="0.9"/><circle cx="302.5" cy="310.2" r="0.9"/><circle cx="336.4" cy="301.3" r="0.6"/><circle cx="325.6" cy="316.1" r="0.8"/><circle cx="316.4" cy="308.1" r="0.7"/><circle cx="302.6" cy="301.4" r="0.7"/><circle cx="294.4" cy="314.2" r="0.7"/><circle cx="302.9" cy="302.0" r="0.7"/><circle cx="337.0" cy="343.4" r="0.8"/><circle cx="314.6" cy="342.1" r="0.7"/><circle cx="316.1" cy="306.5" r="0.6"/><circle cx="340.8" cy="323.5" r="0.6"/><circle cx="295.1" cy="349.4" r="1.1"/><circle cx="330.1" cy="347.4" r="1.0"/><circle cx="305.8" cy="338.2" r="0.6"/><circle cx="309.2" cy="311.7" r="0.8"/><circle cx="328.1" cy="341.5" r="0.6"/><circle cx="295.8" cy="317.3" r="0.7"/><circle cx="341.4" cy="307.2" r="0.7"/><circle cx="316.5" cy="307.6" r="0.6"/><circle cx="295.2" cy="329.4" r="0.9"/><circle cx="304.5" cy="330.3" r="0.7"/><circle cx="314.3" cy="312.5" r="0.9"/><circle cx="341.3" cy="330.9" r="0.9"/><circle cx="306.8" cy="328.6" r="1.0"/><circle cx="340.6" cy="316.1" r="1.1"/><circle cx="343.8" cy="340.5" r="1.1"/><circle cx="311.4" cy="316.0" r="1.0"/><circle cx="333.0" cy="307.2" r="1.0"/><circle cx="304.9" cy="316.4" r="0.9"/><circle cx="330.8" cy="330.5" r="1.0"/><circle cx="324.1" cy="303.9" r="0.8"/><circle cx="311.9" cy="334.3" r="0.8"/><circle cx="328.4" cy="309.5" r="0.7"/><circle cx="335.4" cy="309.4" r="0.9"/><circle cx="341.2" cy="331.7" r="0.9"/><circle cx="335.5" cy="344.5" r="0.9"/><circle cx="335.3" cy="300.0" r="1.0"/><circle cx="325.7" cy="334.5" r="1.1"/><circle cx="339.6" cy="308.1" r="0.6"/><circle cx="295.1" cy="299.6" r="1.0"/><circle cx="307.8" cy="297.9" r="0.8"/><circle cx="336.8" cy="346.1" r="0.7"/><circle cx="329.9" cy="348.7" r="0.6"/><circle cx="324.5" cy="298.3" r="0.9"/><circle cx="303.9" cy="302.9" r="0.7"/><circle cx="335.5" cy="306.5" r="0.8"/><circle cx="325.6" cy="303.0" r="1.0"/><circle cx="336.1" cy="306.5" r="0.6"/><circle cx="298.2" cy="323.2" r="0.7"/><circle cx="300.1" cy="333.4" r="0.9"/><circle cx="343.8" cy="319.5" r="1.0"/><circle cx="305.9" cy="321.3" r="0.8"/><circle cx="336.7" cy="347.1" r="0.6"/><circle cx="308.0" cy="314.8" r="0.7"/><circle cx="316.4" cy="326.3" r="1.1"/><circle cx="293.9" cy="316.4" r="0.9"/><circle cx="308.0" cy="317.4" r="0.9"/><circle cx="321.1" cy="303.3" r="0.8"/><circle cx="341.0" cy="321.2" r="0.7"/><circle cx="303.6" cy="347.5" r="0.6"/><circle cx="319.6" cy="328.6" r="0.9"/><circle cx="311.7" cy="307.2" r="0.6"/><circle cx="316.4" cy="332.3" r="0.6"/><circle cx="311.6" cy="332.8" r="0.7"/><circle cx="315.9" cy="340.0" r="1.0"/><circle cx="309.3" cy="333.4" r="1.0"/><circle cx="298.4" cy="340.3" r="1.1"/><circle cx="301.1" cy="322.6" r="0.7"/><circle cx="333.5" cy="302.5" r="1.1"/><circle cx="293.6" cy="319.8" r="0.8"/><circle cx="301.9" cy="338.2" r="0.6"/><circle cx="329.3" cy="329.4" r="0.9"/><circle cx="326.3" cy="343.0" r="0.9"/><circle cx="304.4" cy="339.0" r="0.7"/><circle cx="312.7" cy="330.1" r="0.9"/><circle cx="304.7" cy="329.7" r="0.9"/><circle cx="331.9" cy="300.2" r="0.6"/><circle cx="306.2" cy="308.6" r="1.0"/><circle cx="344.4" cy="298.6" r="0.7"/><circle cx="318.8" cy="299.6" r="0.6"/><circle cx="330.3" cy="322.8" r="1.1"/><circle cx="296.4" cy="316.1" r="1.0"/><circle cx="323.9" cy="319.4" r="0.6"/><circle cx="318.8" cy="310.4" r="1.0"/><circle cx="295.7" cy="353.0" r="0.9"/><circle cx="329.7" cy="314.7" r="1.0"/><circle cx="324.5" cy="305.8" r="0.7"/><circle cx="322.5" cy="350.0" r="1.1"/><circle cx="338.3" cy="315.6" r="1.0"/><circle cx="294.8" cy="322.7" r="0.7"/><circle cx="327.8" cy="308.8" r="1.1"/><circle cx="336.0" cy="302.7" r="1.0"/><circle cx="311.9" cy="317.9" r="0.9"/><circle cx="300.6" cy="352.5" r="0.7"/><circle cx="318.9" cy="347.4" r="0.9"/><circle cx="292.3" cy="339.4" r="0.9"/><circle cx="306.9" cy="334.5" r="0.6"/><circle cx="300.7" cy="311.8" r="0.8"/><circle cx="330.4" cy="322.8" r="1.0"/><circle cx="326.5" cy="327.0" r="0.7"/><circle cx="303.2" cy="329.6" r="0.7"/><circle cx="315.9" cy="331.6" r="0.7"/><circle cx="302.7" cy="352.5" r="0.9"/><circle cx="306.6" cy="315.2" r="1.0"/><circle cx="294.5" cy="344.4" r="0.7"/><circle cx="314.4" cy="309.1" r="0.7"/><circle cx="326.5" cy="303.9" r="0.7"/><circle cx="294.3" cy="327.1" r="0.6"/><circle cx="342.0" cy="339.3" r="1.0"/><circle cx="301.3" cy="319.3" r="1.1"/><circle cx="305.4" cy="330.5" r="1.0"/><circle cx="346.8" cy="308.2" r="0.8"/><circle cx="343.3" cy="347.6" r="0.6"/><circle cx="322.9" cy="322.7" r="1.0"/><circle cx="326.7" cy="311.3" r="0.6"/><circle cx="333.6" cy="313.1" r="1.1"/><circle cx="306.8" cy="311.4" r="0.9"/><circle cx="331.4" cy="340.8" r="0.9"/><circle cx="304.2" cy="323.3" r="0.8"/><circle cx="327.5" cy="329.9" r="1.1"/><circle cx="338.2" cy="333.5" r="0.9"/><circle cx="343.8" cy="308.6" r="1.0"/><circle cx="324.7" cy="304.8" r="0.8"/><circle cx="330.3" cy="324.1" r="1.1"/><circle cx="339.0" cy="328.8" r="0.9"/><circle cx="325.9" cy="341.9" r="1.0"/><circle cx="331.1" cy="338.8" r="1.1"/><circle cx="334.5" cy="298.2" r="0.7"/><circle cx="334.6" cy="341.0" r="1.0"/><circle cx="345.0" cy="302.9" r="0.9"/><circle cx="345.2" cy="333.6" r="0.9"/><circle cx="295.9" cy="319.6" r="1.0"/><circle cx="338.7" cy="301.8" r="1.0"/><circle cx="295.9" cy="337.0" r="0.7"/><circle cx="330.0" cy="299.6" r="1.0"/><circle cx="318.3" cy="328.3" r="0.7"/><circle cx="298.8" cy="351.3" r="0.7"/><circle cx="301.4" cy="330.4" r="0.8"/><circle cx="340.1" cy="321.2" r="1.0"/><circle cx="347.1" cy="333.4" r="0.7"/><circle cx="299.7" cy="320.4" r="0.6"/><circle cx="313.9" cy="304.3" r="0.7"/><circle cx="335.9" cy="323.0" r="1.0"/><circle cx="317.6" cy="308.8" r="0.9"/><circle cx="320.4" cy="343.1" r="1.1"/><circle cx="292.9" cy="335.4" r="1.0"/><circle cx="338.8" cy="346.8" r="1.1"/><circle cx="323.7" cy="303.7" r="1.0"/><circle cx="331.7" cy="321.7" r="0.9"/><circle cx="347.2" cy="329.1" r="0.7"/><circle cx="336.3" cy="348.1" r="1.0"/><circle cx="345.9" cy="338.0" r="0.8"/><circle cx="319.1" cy="297.9" r="1.0"/><circle cx="329.5" cy="305.7" r="0.9"/><circle cx="318.2" cy="313.2" r="0.8"/><circle cx="324.7" cy="335.5" r="1.1"/><circle cx="326.1" cy="342.7" r="0.7"/><circle cx="293.1" cy="342.4" r="1.0"/><circle cx="330.1" cy="306.5" r="0.9"/><circle cx="323.5" cy="338.4" r="1.1"/><circle cx="300.4" cy="340.2" r="1.1"/><circle cx="311.5" cy="345.2" r="0.7"/><circle cx="342.5" cy="347.9" r="1.1"/><circle cx="297.0" cy="313.4" r="0.9"/><circle cx="304.5" cy="309.5" r="0.9"/><circle cx="326.5" cy="334.2" r="1.0"/><circle cx="304.4" cy="335.1" r="0.8"/><circle cx="301.1" cy="322.2" r="0.7"/><circle cx="300.6" cy="346.5" r="0.8"/><circle cx="309.7" cy="348.4" r="1.0"/><circle cx="316.5" cy="350.9" r="1.0"/><circle cx="335.2" cy="326.6" r="1.1"/><circle cx="320.2" cy="304.0" r="0.9"/><circle cx="326.6" cy="308.3" r="0.9"/><circle cx="305.6" cy="330.5" r="0.6"/><circle cx="295.2" cy="319.0" r="0.9"/><circle cx="312.0" cy="320.2" r="0.9"/></g></g></g>
<rect x="349.3" y="297.8" width="54.2" height="55.7" fill="#05053a"/>
<clipPath id="cb2"><rect x="349.3" y="297.8" width="54.2" height="55.7"/></clipPath>
<g clip-path="url(#cb2)"><g filter="url(#mb)"><g fill="#1c1cd8"><circle cx="365.0" cy="327.6" r="0.9"/><circle cx="393.9" cy="334.2" r="0.9"/><circle cx="381.4" cy="336.2" r="0.7"/><circle cx="369.5" cy="348.5" r="0.9"/><circle cx="358.0" cy="314.1" r="1.0"/><circle cx="364.6" cy="330.8" r="0.7"/><circle cx="366.5" cy="333.7" r="0.7"/><circle cx="400.2" cy="307.4" r="0.6"/><circle cx="402.5" cy="306.6" r="0.7"/><circle cx="362.5" cy="346.7" r="0.9"/><circle cx="355.5" cy="339.6" r="0.8"/><circle cx="355.7" cy="323.6" r="0.8"/><circle cx="397.9" cy="311.1" r="0.8"/><circle cx="381.0" cy="314.5" r="0.9"/><circle cx="401.9" cy="313.9" r="0.7"/><circle cx="380.8" cy="325.9" r="0.7"/><circle cx="393.4" cy="301.0" r="0.6"/><circle cx="395.8" cy="325.1" r="0.8"/><circle cx="371.5" cy="351.2" r="0.8"/><circle cx="351.8" cy="346.7" r="0.7"/><circle cx="351.7" cy="313.9" r="0.7"/><circle cx="402.4" cy="340.7" r="0.7"/><circle cx="358.8" cy="328.9" r="1.0"/><circle cx="377.9" cy="342.1" r="0.7"/><circle cx="395.5" cy="323.4" r="0.8"/><circle cx="361.0" cy="350.1" r="0.7"/><circle cx="397.0" cy="306.8" r="0.9"/><circle cx="398.6" cy="320.1" r="0.8"/><circle cx="387.3" cy="333.5" r="0.7"/><circle cx="403.3" cy="338.4" r="0.9"/><circle cx="388.9" cy="299.9" r="0.8"/><circle cx="353.5" cy="338.6" r="0.7"/><circle cx="369.9" cy="349.0" r="0.7"/><circle cx="357.0" cy="315.9" r="0.7"/><circle cx="365.8" cy="318.0" r="0.7"/><circle cx="379.4" cy="319.2" r="0.7"/><circle cx="372.9" cy="333.9" r="0.7"/><circle cx="350.0" cy="347.9" r="0.7"/><circle cx="383.9" cy="316.9" r="0.8"/><circle cx="380.6" cy="322.7" r="0.8"/><circle cx="376.3" cy="348.6" r="0.7"/><circle cx="368.2" cy="324.8" r="1.0"/><circle cx="400.6" cy="351.1" r="0.9"/><circle cx="373.1" cy="330.9" r="0.7"/><circle cx="355.0" cy="350.9" r="0.9"/><circle cx="361.0" cy="298.7" r="0.7"/><circle cx="384.4" cy="341.2" r="0.9"/><circle cx="365.4" cy="331.7" r="0.7"/><circle cx="358.9" cy="316.5" r="0.8"/><circle cx="385.8" cy="339.4" r="1.0"/><circle cx="402.7" cy="343.7" r="0.9"/><circle cx="387.1" cy="347.1" r="0.7"/><circle cx="351.8" cy="352.5" r="1.0"/><circle cx="370.9" cy="341.2" r="0.8"/><circle cx="372.0" cy="330.1" r="0.8"/><circle cx="373.7" cy="305.5" r="1.0"/><circle cx="384.0" cy="342.7" r="1.0"/><circle cx="386.2" cy="314.7" r="0.8"/><circle cx="369.5" cy="353.2" r="0.6"/><circle cx="361.3" cy="310.2" r="0.7"/><circle cx="367.2" cy="337.8" r="0.7"/><circle cx="350.6" cy="314.2" r="0.6"/><circle cx="353.2" cy="336.6" r="0.7"/><circle cx="371.5" cy="328.9" r="0.7"/><circle cx="373.3" cy="330.8" r="0.9"/><circle cx="402.7" cy="299.3" r="0.7"/><circle cx="399.8" cy="333.4" r="0.7"/><circle cx="349.4" cy="301.8" r="0.8"/><circle cx="400.3" cy="351.0" r="1.0"/><circle cx="351.3" cy="314.5" r="1.0"/><circle cx="394.6" cy="339.4" r="1.0"/><circle cx="399.1" cy="338.8" r="0.7"/><circle cx="393.2" cy="341.8" r="0.7"/><circle cx="385.3" cy="330.1" r="0.8"/><circle cx="349.6" cy="312.2" r="0.7"/><circle cx="397.6" cy="304.6" r="0.9"/><circle cx="391.0" cy="327.8" r="0.9"/><circle cx="398.5" cy="321.8" r="0.9"/><circle cx="392.7" cy="312.5" r="0.8"/><circle cx="376.7" cy="336.2" r="0.6"/><circle cx="396.1" cy="306.2" r="0.8"/><circle cx="388.2" cy="327.7" r="1.0"/><circle cx="376.9" cy="324.2" r="1.0"/><circle cx="394.3" cy="336.3" r="0.6"/><circle cx="349.6" cy="305.3" r="0.9"/><circle cx="353.5" cy="307.6" r="0.7"/><circle cx="354.4" cy="316.5" r="1.0"/><circle cx="359.1" cy="308.7" r="0.8"/><circle cx="355.5" cy="310.2" r="0.6"/><circle cx="401.5" cy="330.2" r="0.9"/><circle cx="398.7" cy="303.0" r="0.7"/><circle cx="361.7" cy="302.8" r="1.0"/><circle cx="375.8" cy="324.8" r="0.8"/><circle cx="394.6" cy="331.3" r="0.7"/><circle cx="378.8" cy="307.0" r="1.0"/><circle cx="375.5" cy="334.5" r="0.7"/><circle cx="372.5" cy="342.4" r="0.9"/><circle cx="386.5" cy="325.1" r="1.0"/><circle cx="398.2" cy="351.8" r="0.8"/><circle cx="390.6" cy="318.1" r="1.0"/><circle cx="360.5" cy="327.3" r="0.8"/><circle cx="352.5" cy="349.9" r="1.0"/><circle cx="400.6" cy="318.6" r="0.6"/><circle cx="351.0" cy="302.4" r="0.8"/><circle cx="391.2" cy="334.4" r="1.0"/><circle cx="396.4" cy="352.5" r="1.0"/><circle cx="351.6" cy="323.2" r="0.8"/><circle cx="362.3" cy="331.5" r="0.7"/><circle cx="392.1" cy="299.2" r="0.9"/><circle cx="378.5" cy="323.5" r="0.9"/><circle cx="359.1" cy="341.1" r="0.8"/><circle cx="402.3" cy="340.4" r="1.0"/><circle cx="351.3" cy="351.0" r="0.6"/><circle cx="366.3" cy="325.9" r="0.8"/><circle cx="376.0" cy="351.6" r="0.7"/><circle cx="356.0" cy="338.0" r="0.6"/><circle cx="381.4" cy="351.0" r="0.7"/><circle cx="357.4" cy="343.2" r="0.6"/><circle cx="376.2" cy="306.6" r="0.7"/><circle cx="390.1" cy="337.4" r="1.0"/><circle cx="396.1" cy="342.6" r="0.7"/><circle cx="366.1" cy="321.3" r="0.9"/><circle cx="359.2" cy="353.0" r="0.8"/><circle cx="364.9" cy="318.4" r="0.8"/><circle cx="364.6" cy="347.9" r="0.8"/><circle cx="386.2" cy="306.4" r="0.7"/><circle cx="384.6" cy="314.5" r="0.6"/><circle cx="355.9" cy="318.1" r="1.0"/><circle cx="398.3" cy="351.1" r="0.6"/><circle cx="398.1" cy="311.7" r="0.6"/><circle cx="359.0" cy="311.2" r="0.8"/><circle cx="360.8" cy="345.3" r="1.0"/><circle cx="392.8" cy="337.0" r="0.7"/><circle cx="381.4" cy="338.5" r="0.8"/><circle cx="360.0" cy="300.2" r="0.9"/><circle cx="361.5" cy="326.4" r="0.7"/><circle cx="363.1" cy="324.9" r="0.9"/><circle cx="366.5" cy="348.1" r="0.9"/><circle cx="396.3" cy="302.1" r="1.0"/><circle cx="359.1" cy="319.1" r="1.0"/><circle cx="372.0" cy="299.1" r="1.0"/><circle cx="388.0" cy="342.2" r="0.9"/><circle cx="366.1" cy="349.6" r="1.0"/><circle cx="401.9" cy="301.5" r="1.0"/><circle cx="385.8" cy="322.3" r="0.8"/><circle cx="367.4" cy="339.8" r="0.8"/><circle cx="392.4" cy="325.2" r="1.0"/><circle cx="350.3" cy="311.1" r="1.0"/><circle cx="359.9" cy="329.7" r="0.7"/><circle cx="389.1" cy="329.8" r="0.7"/><circle cx="400.1" cy="350.5" r="1.0"/><circle cx="368.0" cy="313.1" r="0.8"/><circle cx="384.6" cy="334.4" r="0.8"/><circle cx="379.4" cy="326.9" r="0.8"/><circle cx="387.1" cy="338.1" r="0.7"/><circle cx="382.2" cy="338.8" r="0.9"/><circle cx="402.3" cy="325.8" r="0.8"/><circle cx="366.8" cy="315.6" r="0.7"/><circle cx="368.4" cy="345.1" r="0.9"/><circle cx="375.5" cy="305.7" r="0.8"/><circle cx="372.1" cy="333.6" r="0.9"/><circle cx="397.3" cy="305.6" r="1.0"/><circle cx="401.3" cy="307.9" r="0.7"/><circle cx="392.2" cy="298.3" r="0.8"/><circle cx="359.6" cy="333.7" r="0.9"/><circle cx="366.5" cy="346.0" r="0.8"/><circle cx="365.1" cy="321.4" r="0.6"/><circle cx="366.7" cy="316.5" r="0.7"/><circle cx="401.1" cy="339.7" r="1.0"/><circle cx="396.8" cy="315.8" r="1.0"/><circle cx="351.1" cy="325.1" r="0.6"/><circle cx="382.9" cy="320.5" r="0.8"/><circle cx="376.7" cy="304.2" r="1.0"/><circle cx="353.3" cy="321.1" r="0.7"/><circle cx="358.8" cy="317.2" r="1.0"/><circle cx="369.2" cy="330.5" r="1.0"/><circle cx="370.7" cy="342.2" r="0.9"/><circle cx="356.6" cy="331.0" r="0.9"/><circle cx="364.4" cy="316.1" r="1.0"/><circle cx="359.8" cy="343.1" r="0.7"/><circle cx="351.9" cy="345.1" r="0.6"/><circle cx="359.2" cy="346.5" r="1.0"/><circle cx="363.2" cy="337.8" r="0.8"/><circle cx="385.5" cy="332.7" r="1.0"/><circle cx="389.0" cy="303.5" r="0.7"/><circle cx="382.8" cy="305.6" r="0.9"/><circle cx="394.3" cy="330.9" r="1.0"/><circle cx="382.2" cy="347.8" r="0.7"/><circle cx="373.4" cy="324.4" r="0.7"/><circle cx="353.4" cy="316.0" r="0.9"/><circle cx="357.4" cy="345.1" r="1.0"/><circle cx="396.6" cy="308.1" r="0.8"/><circle cx="373.1" cy="308.4" r="0.9"/><circle cx="402.8" cy="335.8" r="0.8"/><circle cx="373.3" cy="346.7" r="0.8"/><circle cx="401.6" cy="321.6" r="0.7"/></g><g fill="#2020e8"><circle cx="378.9" cy="342.4" r="0.6"/><circle cx="380.0" cy="339.7" r="0.8"/><circle cx="358.9" cy="343.9" r="0.6"/><circle cx="373.1" cy="344.0" r="0.8"/><circle cx="354.3" cy="349.3" r="0.9"/><circle cx="370.0" cy="328.0" r="1.0"/><circle cx="362.7" cy="336.5" r="0.7"/><circle cx="359.5" cy="303.4" r="0.8"/><circle cx="359.8" cy="333.8" r="0.6"/><circle cx="361.1" cy="341.3" r="0.9"/><circle cx="360.7" cy="300.5" r="1.0"/><circle cx="402.3" cy="298.5" r="0.9"/><circle cx="374.8" cy="305.1" r="0.9"/><circle cx="373.2" cy="315.9" r="0.8"/><circle cx="364.4" cy="303.9" r="0.8"/><circle cx="398.8" cy="326.4" r="0.9"/><circle cx="371.1" cy="329.5" r="0.7"/><circle cx="402.6" cy="347.4" r="0.8"/><circle cx="399.2" cy="336.2" r="0.7"/><circle cx="403.3" cy="322.6" r="0.9"/><circle cx="349.8" cy="299.9" r="0.8"/><circle cx="352.2" cy="348.6" r="1.0"/><circle cx="382.1" cy="308.0" r="0.8"/><circle cx="391.3" cy="330.6" r="0.9"/><circle cx="393.4" cy="300.9" r="0.6"/><circle cx="369.4" cy="352.6" r="0.8"/><circle cx="393.5" cy="323.0" r="0.8"/><circle cx="381.6" cy="334.2" r="0.9"/><circle cx="378.9" cy="319.4" r="0.7"/><circle cx="385.6" cy="309.3" r="0.9"/><circle cx="402.8" cy="320.0" r="0.7"/><circle cx="363.9" cy="316.9" r="1.0"/><circle cx="351.9" cy="307.9" r="0.8"/><circle cx="352.2" cy="316.2" r="0.6"/><circle cx="370.7" cy="322.8" r="0.8"/><circle cx="388.1" cy="323.4" r="0.6"/><circle cx="361.1" cy="347.6" r="0.9"/><circle cx="363.8" cy="348.6" r="0.8"/><circle cx="403.4" cy="343.4" r="0.9"/><circle cx="360.8" cy="343.6" r="0.7"/><circle cx="380.4" cy="334.2" r="0.7"/><circle cx="350.3" cy="315.5" r="0.9"/><circle cx="370.9" cy="324.5" r="1.0"/><circle cx="380.7" cy="327.3" r="0.8"/><circle cx="394.1" cy="302.0" r="0.8"/><circle cx="378.7" cy="349.0" r="0.7"/><circle cx="389.5" cy="341.5" r="0.8"/><circle cx="367.9" cy="320.5" r="0.7"/><circle cx="372.7" cy="311.0" r="1.0"/><circle cx="403.2" cy="328.8" r="0.7"/><circle cx="370.5" cy="350.1" r="0.9"/><circle cx="370.4" cy="346.7" r="0.9"/><circle cx="403.4" cy="325.4" r="0.8"/><circle cx="367.5" cy="320.8" r="0.9"/><circle cx="361.6" cy="329.2" r="0.7"/><circle cx="389.1" cy="328.0" r="0.6"/><circle cx="389.1" cy="333.5" r="0.7"/><circle cx="394.7" cy="338.9" r="0.6"/><circle cx="396.2" cy="348.2" r="0.9"/><circle cx="362.0" cy="319.1" r="1.0"/><circle cx="358.1" cy="345.9" r="0.9"/><circle cx="368.3" cy="347.2" r="0.6"/><circle cx="380.0" cy="331.3" r="0.9"/><circle cx="369.6" cy="338.5" r="0.9"/><circle cx="394.5" cy="314.4" r="0.6"/><circle cx="380.5" cy="351.5" r="0.9"/><circle cx="371.9" cy="325.1" r="0.8"/><circle cx="398.9" cy="350.9" r="0.6"/><circle cx="403.3" cy="306.7" r="0.6"/><circle cx="401.1" cy="311.4" r="0.7"/><circle cx="359.1" cy="330.2" r="0.8"/><circle cx="354.0" cy="298.9" r="0.8"/><circle cx="363.9" cy="351.3" r="0.9"/><circle cx="387.8" cy="347.7" r="0.7"/><circle cx="378.7" cy="349.9" r="0.6"/><circle cx="365.3" cy="343.1" r="1.0"/><circle cx="388.3" cy="331.3" r="0.9"/><circle cx="359.0" cy="316.6" r="1.0"/><circle cx="393.7" cy="328.6" r="0.9"/><circle cx="371.1" cy="326.8" r="1.0"/><circle cx="359.8" cy="317.1" r="1.0"/><circle cx="359.2" cy="334.7" r="1.0"/><circle cx="350.4" cy="345.9" r="1.0"/><circle cx="365.2" cy="329.9" r="1.0"/><circle cx="394.5" cy="306.5" r="0.6"/><circle cx="375.7" cy="326.9" r="0.7"/><circle cx="377.1" cy="308.6" r="0.7"/><circle cx="397.2" cy="330.1" r="0.7"/><circle cx="379.2" cy="309.0" r="0.9"/><circle cx="402.9" cy="325.9" r="1.0"/><circle cx="361.0" cy="320.4" r="0.9"/><circle cx="369.3" cy="325.7" r="0.8"/><circle cx="401.3" cy="309.3" r="0.7"/><circle cx="353.4" cy="337.3" r="0.8"/><circle cx="357.7" cy="348.5" r="0.8"/><circle cx="371.7" cy="302.1" r="0.9"/><circle cx="392.0" cy="330.2" r="0.8"/><circle cx="402.3" cy="353.1" r="0.6"/><circle cx="397.5" cy="331.0" r="0.8"/><circle cx="358.6" cy="316.5" r="1.0"/><circle cx="361.1" cy="342.7" r="0.8"/><circle cx="379.0" cy="300.7" r="0.8"/><circle cx="382.8" cy="333.7" r="0.7"/><circle cx="392.6" cy="316.5" r="0.6"/><circle cx="376.8" cy="340.3" r="0.7"/><circle cx="358.2" cy="342.3" r="1.0"/><circle cx="376.3" cy="303.0" r="0.6"/><circle cx="383.8" cy="339.9" r="0.8"/><circle cx="379.2" cy="300.9" r="1.0"/><circle cx="351.2" cy="341.3" r="0.9"/><circle cx="379.0" cy="305.1" r="0.6"/><circle cx="367.5" cy="353.2" r="1.0"/><circle cx="351.6" cy="308.5" r="1.0"/><circle cx="388.4" cy="351.0" r="0.6"/><circle cx="388.3" cy="315.7" r="1.0"/><circle cx="397.4" cy="322.8" r="1.0"/><circle cx="384.8" cy="326.1" r="1.0"/><circle cx="363.8" cy="333.3" r="0.7"/><circle cx="357.7" cy="329.4" r="0.9"/><circle cx="375.7" cy="319.5" r="1.0"/><circle cx="349.8" cy="351.7" r="0.8"/><circle cx="403.2" cy="341.7" r="0.8"/><circle cx="369.5" cy="333.4" r="0.9"/><circle cx="391.2" cy="304.2" r="0.7"/><circle cx="376.7" cy="328.1" r="0.6"/><circle cx="352.3" cy="316.4" r="0.9"/><circle cx="356.9" cy="344.4" r="1.0"/><circle cx="356.1" cy="350.5" r="0.6"/><circle cx="397.2" cy="339.5" r="0.6"/><circle cx="351.0" cy="321.5" r="1.0"/><circle cx="400.0" cy="303.8" r="0.9"/><circle cx="357.9" cy="331.4" r="0.9"/><circle cx="363.4" cy="316.2" r="1.0"/><circle cx="398.0" cy="309.9" r="0.7"/><circle cx="393.0" cy="351.0" r="1.0"/><circle cx="387.9" cy="348.6" r="0.6"/><circle cx="352.5" cy="326.5" r="0.7"/><circle cx="351.5" cy="346.2" r="1.0"/><circle cx="384.9" cy="326.9" r="0.9"/><circle cx="354.1" cy="314.2" r="0.9"/><circle cx="357.2" cy="331.7" r="0.7"/><circle cx="371.6" cy="346.6" r="1.0"/><circle cx="352.3" cy="333.3" r="0.9"/><circle cx="390.6" cy="322.1" r="0.7"/></g><g fill="#1616c0"><circle cx="392.0" cy="350.2" r="0.9"/><circle cx="360.3" cy="347.8" r="0.6"/><circle cx="396.5" cy="352.9" r="1.0"/><circle cx="379.3" cy="298.1" r="0.7"/><circle cx="350.7" cy="339.8" r="1.0"/><circle cx="381.9" cy="332.7" r="0.9"/><circle cx="360.0" cy="309.3" r="1.0"/><circle cx="375.8" cy="311.7" r="0.8"/><circle cx="386.6" cy="306.8" r="0.9"/><circle cx="354.7" cy="301.4" r="0.9"/><circle cx="354.4" cy="326.6" r="0.8"/><circle cx="399.7" cy="320.0" r="0.9"/><circle cx="370.5" cy="321.5" r="0.9"/><circle cx="363.8" cy="341.7" r="0.7"/><circle cx="358.5" cy="306.5" r="0.7"/><circle cx="396.2" cy="327.0" r="0.8"/><circle cx="379.1" cy="343.1" r="0.8"/><circle cx="368.0" cy="306.8" r="1.0"/><circle cx="381.8" cy="349.2" r="0.9"/><circle cx="351.9" cy="325.7" r="0.6"/><circle cx="391.5" cy="322.6" r="0.9"/><circle cx="360.7" cy="309.4" r="0.7"/><circle cx="361.9" cy="305.5" r="0.8"/><circle cx="381.1" cy="330.1" r="0.8"/><circle cx="381.7" cy="304.2" r="1.0"/><circle cx="354.9" cy="332.8" r="0.6"/><circle cx="352.8" cy="316.2" r="0.7"/><circle cx="391.2" cy="333.1" r="1.0"/><circle cx="386.4" cy="345.1" r="0.7"/><circle cx="362.4" cy="336.6" r="0.7"/><circle cx="396.6" cy="320.6" r="0.6"/><circle cx="378.1" cy="336.8" r="0.8"/><circle cx="375.7" cy="299.7" r="0.9"/><circle cx="373.4" cy="346.2" r="0.9"/><circle cx="376.4" cy="329.7" r="0.7"/><circle cx="374.8" cy="347.3" r="0.9"/><circle cx="357.3" cy="303.2" r="0.8"/><circle cx="363.6" cy="316.9" r="0.9"/><circle cx="402.6" cy="308.3" r="0.6"/><circle cx="371.2" cy="346.6" r="1.0"/><circle cx="355.7" cy="309.5" r="0.9"/><circle cx="379.7" cy="317.9" r="0.8"/><circle cx="373.4" cy="304.3" r="1.0"/><circle cx="399.6" cy="338.5" r="0.7"/><circle cx="358.8" cy="325.7" r="0.8"/><circle cx="402.5" cy="306.4" r="0.6"/><circle cx="358.9" cy="348.8" r="0.7"/><circle cx="354.0" cy="352.7" r="0.9"/><circle cx="396.3" cy="329.4" r="0.7"/><circle cx="392.4" cy="346.9" r="0.7"/><circle cx="371.2" cy="345.8" r="0.8"/><circle cx="386.7" cy="337.6" r="0.8"/><circle cx="381.2" cy="343.8" r="0.8"/><circle cx="362.1" cy="337.3" r="0.6"/><circle cx="367.7" cy="343.5" r="1.0"/><circle cx="349.5" cy="302.9" r="0.7"/><circle cx="379.7" cy="325.3" r="0.7"/><circle cx="402.6" cy="350.1" r="0.9"/><circle cx="363.8" cy="349.1" r="0.6"/><circle cx="353.7" cy="339.6" r="0.7"/><circle cx="373.1" cy="351.8" r="0.7"/><circle cx="370.4" cy="305.2" r="0.9"/><circle cx="382.1" cy="343.5" r="1.0"/><circle cx="378.3" cy="330.2" r="0.9"/><circle cx="364.7" cy="303.7" r="1.0"/><circle cx="361.0" cy="346.3" r="0.7"/><circle cx="362.1" cy="330.9" r="0.6"/><circle cx="378.2" cy="310.2" r="0.8"/><circle cx="367.2" cy="305.4" r="0.9"/><circle cx="362.7" cy="301.8" r="0.6"/><circle cx="367.6" cy="322.4" r="0.7"/><circle cx="367.0" cy="334.7" r="0.8"/><circle cx="399.1" cy="314.9" r="0.7"/><circle cx="398.5" cy="334.2" r="1.0"/><circle cx="373.1" cy="304.1" r="1.0"/><circle cx="352.2" cy="301.8" r="0.6"/><circle cx="370.4" cy="321.5" r="0.8"/><circle cx="365.1" cy="353.2" r="0.6"/><circle cx="388.8" cy="330.0" r="1.0"/><circle cx="376.5" cy="303.8" r="0.9"/><circle cx="355.8" cy="347.7" r="0.9"/><circle cx="396.1" cy="318.6" r="0.8"/><circle cx="400.5" cy="344.5" r="0.7"/><circle cx="380.8" cy="335.0" r="0.7"/><circle cx="391.1" cy="309.7" r="1.0"/><circle cx="387.4" cy="342.9" r="0.8"/><circle cx="358.0" cy="339.7" r="0.7"/><circle cx="397.8" cy="329.3" r="0.7"/><circle cx="390.9" cy="329.7" r="0.6"/><circle cx="361.9" cy="347.6" r="1.0"/><circle cx="383.0" cy="301.8" r="1.0"/><circle cx="363.6" cy="304.0" r="0.6"/><circle cx="362.8" cy="342.5" r="0.8"/><circle cx="365.3" cy="322.1" r="0.6"/><circle cx="378.8" cy="335.7" r="0.6"/><circle cx="385.5" cy="312.6" r="0.8"/><circle cx="355.0" cy="346.8" r="1.0"/><circle cx="374.0" cy="327.8" r="1.0"/><circle cx="381.0" cy="321.4" r="0.9"/><circle cx="381.3" cy="325.2" r="0.8"/><circle cx="391.8" cy="335.7" r="0.7"/><circle cx="397.8" cy="348.9" r="0.7"/><circle cx="376.0" cy="337.5" r="0.7"/><circle cx="386.5" cy="316.1" r="1.0"/><circle cx="383.0" cy="314.6" r="0.6"/><circle cx="391.4" cy="304.0" r="0.8"/><circle cx="360.4" cy="345.5" r="1.0"/><circle cx="399.5" cy="349.6" r="1.0"/><circle cx="352.6" cy="331.6" r="0.7"/><circle cx="399.7" cy="320.4" r="0.6"/><circle cx="392.2" cy="341.3" r="0.9"/><circle cx="381.5" cy="326.7" r="0.8"/><circle cx="356.9" cy="339.4" r="1.0"/><circle cx="401.3" cy="330.1" r="1.0"/><circle cx="356.1" cy="328.9" r="0.7"/><circle cx="365.5" cy="337.4" r="0.6"/><circle cx="386.2" cy="348.8" r="1.0"/><circle cx="369.3" cy="327.1" r="1.0"/><circle cx="390.1" cy="319.8" r="0.8"/><circle cx="381.1" cy="323.4" r="0.7"/><circle cx="376.2" cy="307.0" r="0.9"/><circle cx="355.3" cy="323.6" r="0.7"/><circle cx="351.8" cy="330.6" r="0.8"/><circle cx="397.3" cy="301.8" r="0.7"/><circle cx="390.6" cy="301.5" r="0.6"/><circle cx="361.3" cy="303.1" r="0.9"/><circle cx="357.7" cy="299.9" r="0.7"/><circle cx="349.6" cy="336.5" r="0.6"/><circle cx="395.9" cy="347.5" r="0.9"/><circle cx="381.0" cy="339.2" r="0.7"/><circle cx="373.5" cy="333.5" r="0.6"/><circle cx="387.5" cy="313.5" r="0.6"/><circle cx="366.1" cy="311.8" r="0.6"/><circle cx="358.0" cy="320.6" r="0.6"/><circle cx="354.2" cy="319.8" r="1.0"/><circle cx="392.7" cy="338.0" r="0.7"/><circle cx="351.0" cy="309.2" r="1.0"/><circle cx="399.3" cy="325.8" r="0.9"/><circle cx="379.4" cy="317.1" r="0.6"/><circle cx="386.6" cy="333.9" r="1.0"/><circle cx="365.8" cy="347.5" r="0.9"/><circle cx="379.9" cy="340.2" r="0.9"/><circle cx="359.9" cy="339.8" r="0.7"/><circle cx="387.0" cy="302.5" r="0.9"/><circle cx="375.1" cy="344.4" r="0.7"/><circle cx="402.9" cy="349.6" r="1.0"/><circle cx="390.5" cy="308.8" r="0.6"/><circle cx="368.1" cy="353.5" r="0.7"/><circle cx="356.4" cy="347.9" r="0.6"/><circle cx="371.3" cy="328.7" r="0.7"/><circle cx="366.3" cy="351.1" r="1.0"/><circle cx="375.0" cy="350.2" r="0.8"/><circle cx="357.5" cy="329.8" r="1.0"/><circle cx="374.6" cy="307.4" r="0.7"/><circle cx="352.2" cy="346.3" r="0.9"/><circle cx="400.2" cy="298.4" r="0.9"/><circle cx="354.8" cy="329.8" r="0.7"/><circle cx="352.9" cy="318.7" r="0.6"/><circle cx="360.7" cy="335.0" r="0.6"/><circle cx="386.8" cy="353.4" r="0.8"/><circle cx="375.0" cy="352.1" r="0.9"/><circle cx="402.7" cy="303.0" r="0.6"/><circle cx="356.4" cy="326.0" r="0.8"/><circle cx="377.7" cy="338.1" r="1.0"/><circle cx="373.1" cy="323.8" r="0.7"/><circle cx="356.6" cy="300.4" r="0.6"/><circle cx="360.6" cy="321.2" r="0.7"/><circle cx="365.9" cy="327.9" r="0.8"/><circle cx="383.3" cy="326.6" r="0.8"/><circle cx="390.6" cy="310.8" r="1.0"/><circle cx="375.5" cy="305.7" r="0.7"/><circle cx="366.7" cy="323.3" r="0.6"/></g><g fill="#2626f8"><circle cx="373.1" cy="341.8" r="0.8"/><circle cx="371.0" cy="306.7" r="1.0"/><circle cx="393.3" cy="303.1" r="0.9"/><circle cx="372.9" cy="323.8" r="0.9"/><circle cx="373.4" cy="347.3" r="0.6"/><circle cx="403.3" cy="309.4" r="0.9"/><circle cx="394.3" cy="324.3" r="0.8"/><circle cx="403.2" cy="326.1" r="0.9"/><circle cx="357.0" cy="319.7" r="0.7"/><circle cx="350.7" cy="338.1" r="0.7"/><circle cx="382.6" cy="334.8" r="1.0"/><circle cx="355.2" cy="314.6" r="0.6"/><circle cx="386.0" cy="313.9" r="0.6"/><circle cx="376.9" cy="325.9" r="0.8"/><circle cx="385.1" cy="303.6" r="0.9"/><circle cx="400.7" cy="310.0" r="0.8"/><circle cx="371.2" cy="311.2" r="0.8"/><circle cx="356.1" cy="345.0" r="0.9"/><circle cx="387.6" cy="349.7" r="0.9"/><circle cx="350.3" cy="324.6" r="1.0"/><circle cx="367.5" cy="298.5" r="0.6"/><circle cx="394.1" cy="347.7" r="0.9"/><circle cx="362.7" cy="326.5" r="0.8"/><circle cx="402.3" cy="305.0" r="0.9"/><circle cx="390.8" cy="314.9" r="0.7"/><circle cx="393.0" cy="327.9" r="0.6"/><circle cx="360.2" cy="330.5" r="0.8"/><circle cx="372.0" cy="314.1" r="0.8"/><circle cx="364.6" cy="345.9" r="0.8"/><circle cx="383.0" cy="302.8" r="0.6"/><circle cx="375.4" cy="319.1" r="1.0"/><circle cx="384.1" cy="328.8" r="0.6"/><circle cx="385.1" cy="314.9" r="0.7"/><circle cx="371.7" cy="353.0" r="1.0"/><circle cx="369.6" cy="344.0" r="0.9"/><circle cx="354.1" cy="352.3" r="0.8"/><circle cx="369.4" cy="334.7" r="0.8"/><circle cx="376.8" cy="353.0" r="0.8"/><circle cx="379.7" cy="324.4" r="0.9"/><circle cx="388.8" cy="310.2" r="1.0"/><circle cx="367.9" cy="348.9" r="0.9"/><circle cx="362.2" cy="327.6" r="0.8"/><circle cx="351.6" cy="349.8" r="1.0"/><circle cx="371.5" cy="329.3" r="0.7"/><circle cx="363.9" cy="324.9" r="1.0"/><circle cx="379.9" cy="306.2" r="0.9"/><circle cx="362.0" cy="335.1" r="1.0"/><circle cx="359.7" cy="305.1" r="0.7"/><circle cx="359.7" cy="325.0" r="1.0"/><circle cx="386.6" cy="303.8" r="1.0"/><circle cx="384.5" cy="328.0" r="0.7"/><circle cx="366.8" cy="320.5" r="0.6"/><circle cx="386.9" cy="318.5" r="0.7"/><circle cx="354.2" cy="349.0" r="0.7"/><circle cx="361.5" cy="338.1" r="1.0"/><circle cx="381.8" cy="334.6" r="0.9"/><circle cx="379.2" cy="328.4" r="0.8"/><circle cx="374.7" cy="302.7" r="0.7"/><circle cx="384.4" cy="322.6" r="1.0"/><circle cx="366.8" cy="333.2" r="0.6"/><circle cx="402.6" cy="350.0" r="0.8"/><circle cx="363.6" cy="329.0" r="0.9"/><circle cx="396.8" cy="312.1" r="0.6"/><circle cx="378.7" cy="345.5" r="1.0"/><circle cx="373.1" cy="352.7" r="0.7"/><circle cx="400.0" cy="342.1" r="0.7"/><circle cx="392.5" cy="308.1" r="0.9"/><circle cx="395.5" cy="302.5" r="0.8"/><circle cx="352.8" cy="314.9" r="0.9"/><circle cx="397.6" cy="298.8" r="0.6"/><circle cx="393.5" cy="298.0" r="0.7"/><circle cx="366.1" cy="345.0" r="0.9"/><circle cx="384.1" cy="316.7" r="1.0"/><circle cx="353.6" cy="324.1" r="1.0"/><circle cx="373.4" cy="304.3" r="1.0"/><circle cx="364.4" cy="308.8" r="0.7"/><circle cx="400.9" cy="309.3" r="0.8"/><circle cx="401.9" cy="340.1" r="0.9"/><circle cx="375.8" cy="321.6" r="0.9"/><circle cx="364.5" cy="317.4" r="0.9"/><circle cx="364.2" cy="347.6" r="0.7"/><circle cx="368.6" cy="343.2" r="1.0"/><circle cx="356.2" cy="344.1" r="0.7"/><circle cx="399.3" cy="352.7" r="0.8"/><circle cx="377.4" cy="341.6" r="0.7"/><circle cx="349.9" cy="331.8" r="0.9"/><circle cx="396.2" cy="304.7" r="0.9"/><circle cx="364.9" cy="338.6" r="0.8"/><circle cx="369.3" cy="322.0" r="1.0"/><circle cx="350.4" cy="326.1" r="0.9"/><circle cx="377.4" cy="313.5" r="1.0"/><circle cx="380.5" cy="307.9" r="0.7"/><circle cx="363.8" cy="340.8" r="0.6"/><circle cx="354.7" cy="314.0" r="0.7"/><circle cx="395.6" cy="327.5" r="0.8"/><circle cx="365.1" cy="323.2" r="0.9"/><circle cx="390.8" cy="328.1" r="1.0"/><circle cx="396.7" cy="332.1" r="0.8"/><circle cx="387.4" cy="299.9" r="0.8"/><circle cx="385.1" cy="326.9" r="1.0"/><circle cx="387.9" cy="350.7" r="0.9"/><circle cx="397.1" cy="310.3" r="0.9"/><circle cx="391.6" cy="322.5" r="0.6"/><circle cx="359.2" cy="339.5" r="0.8"/><circle cx="359.4" cy="316.5" r="0.9"/><circle cx="371.8" cy="344.0" r="0.6"/><circle cx="361.4" cy="324.7" r="0.8"/><circle cx="390.8" cy="313.3" r="0.8"/><circle cx="376.8" cy="333.0" r="0.9"/><circle cx="388.9" cy="344.5" r="1.0"/><circle cx="380.4" cy="338.7" r="0.8"/><circle cx="376.9" cy="329.7" r="0.6"/><circle cx="363.1" cy="343.7" r="1.0"/><circle cx="362.3" cy="324.3" r="0.6"/><circle cx="360.6" cy="326.1" r="0.9"/><circle cx="399.4" cy="306.7" r="1.0"/><circle cx="377.6" cy="303.9" r="0.9"/><circle cx="393.0" cy="320.9" r="0.8"/><circle cx="356.9" cy="300.9" r="1.0"/><circle cx="364.8" cy="351.9" r="0.7"/><circle cx="384.6" cy="349.4" r="0.8"/><circle cx="401.5" cy="308.3" r="0.7"/><circle cx="350.9" cy="345.6" r="0.7"/><circle cx="355.3" cy="335.5" r="0.6"/><circle cx="402.8" cy="320.0" r="0.9"/><circle cx="349.8" cy="298.5" r="0.8"/><circle cx="362.0" cy="329.6" r="1.0"/><circle cx="368.9" cy="346.6" r="1.0"/><circle cx="401.1" cy="327.1" r="0.7"/><circle cx="399.5" cy="298.6" r="0.9"/><circle cx="390.4" cy="316.3" r="0.8"/><circle cx="390.5" cy="321.3" r="0.8"/><circle cx="402.3" cy="309.3" r="0.7"/><circle cx="368.7" cy="306.3" r="0.7"/><circle cx="382.8" cy="339.5" r="0.8"/><circle cx="387.8" cy="310.6" r="0.6"/><circle cx="352.6" cy="332.9" r="0.9"/><circle cx="375.7" cy="324.9" r="1.0"/><circle cx="371.9" cy="337.2" r="0.7"/><circle cx="365.3" cy="330.5" r="1.0"/><circle cx="372.5" cy="322.4" r="0.9"/><circle cx="392.9" cy="325.3" r="0.8"/><circle cx="367.4" cy="341.0" r="0.9"/><circle cx="380.3" cy="353.4" r="0.9"/><circle cx="402.1" cy="341.7" r="0.8"/><circle cx="384.5" cy="316.0" r="0.7"/><circle cx="397.8" cy="327.0" r="1.0"/><circle cx="369.0" cy="321.2" r="0.8"/><circle cx="379.2" cy="330.1" r="0.8"/><circle cx="397.8" cy="331.0" r="0.9"/><circle cx="401.9" cy="323.0" r="0.8"/><circle cx="386.1" cy="351.5" r="0.8"/><circle cx="364.4" cy="349.7" r="0.9"/><circle cx="377.7" cy="330.1" r="0.9"/><circle cx="396.6" cy="315.7" r="0.9"/><circle cx="396.6" cy="349.6" r="0.9"/><circle cx="390.2" cy="318.2" r="0.6"/><circle cx="381.8" cy="328.6" r="0.7"/><circle cx="355.0" cy="318.1" r="1.0"/><circle cx="353.4" cy="341.7" r="0.7"/><circle cx="355.7" cy="315.7" r="0.6"/><circle cx="379.4" cy="304.3" r="1.0"/><circle cx="394.8" cy="315.3" r="0.7"/><circle cx="370.3" cy="343.6" r="0.9"/><circle cx="379.1" cy="328.1" r="0.6"/><circle cx="370.4" cy="345.7" r="0.8"/><circle cx="371.1" cy="325.3" r="1.0"/><circle cx="403.4" cy="329.4" r="0.7"/><circle cx="396.6" cy="321.5" r="0.9"/><circle cx="358.9" cy="298.5" r="1.0"/><circle cx="401.6" cy="351.6" r="1.0"/><circle cx="363.0" cy="331.0" r="0.6"/><circle cx="362.2" cy="314.7" r="0.9"/><circle cx="376.8" cy="323.0" r="0.9"/><circle cx="386.9" cy="314.4" r="0.7"/><circle cx="376.7" cy="329.0" r="0.9"/><circle cx="377.4" cy="339.4" r="0.8"/><circle cx="353.0" cy="317.7" r="0.8"/><circle cx="377.6" cy="338.5" r="0.9"/><circle cx="354.1" cy="343.5" r="0.7"/><circle cx="391.2" cy="335.6" r="0.9"/><circle cx="388.1" cy="324.5" r="0.8"/><circle cx="361.9" cy="344.2" r="0.7"/><circle cx="393.4" cy="342.2" r="0.9"/><circle cx="394.5" cy="334.2" r="0.8"/><circle cx="388.2" cy="314.6" r="0.8"/><circle cx="366.8" cy="336.2" r="0.7"/><circle cx="380.6" cy="346.1" r="0.7"/><circle cx="366.9" cy="298.6" r="0.8"/><circle cx="371.4" cy="316.9" r="0.9"/><circle cx="359.0" cy="301.7" r="0.9"/><circle cx="356.8" cy="351.9" r="1.0"/><circle cx="403.1" cy="317.0" r="0.7"/><circle cx="373.3" cy="313.8" r="0.9"/><circle cx="382.5" cy="320.5" r="0.7"/><circle cx="369.3" cy="337.5" r="0.9"/></g><g fill="#1a1acc"><circle cx="386.9" cy="312.2" r="0.7"/><circle cx="356.6" cy="315.0" r="0.8"/><circle cx="400.2" cy="310.1" r="1.0"/><circle cx="357.8" cy="340.4" r="0.7"/><circle cx="360.7" cy="350.6" r="0.7"/><circle cx="396.6" cy="314.7" r="0.7"/><circle cx="359.2" cy="330.0" r="0.8"/><circle cx="384.6" cy="327.5" r="0.8"/><circle cx="400.7" cy="326.3" r="0.8"/><circle cx="351.9" cy="302.2" r="0.7"/><circle cx="366.7" cy="333.8" r="0.8"/><circle cx="357.6" cy="319.5" r="0.8"/><circle cx="369.0" cy="342.3" r="0.6"/><circle cx="361.4" cy="302.3" r="0.7"/><circle cx="373.2" cy="330.4" r="1.0"/><circle cx="403.0" cy="350.3" r="1.0"/><circle cx="392.7" cy="305.3" r="0.7"/><circle cx="350.1" cy="312.1" r="0.8"/><circle cx="374.5" cy="344.5" r="0.9"/><circle cx="365.8" cy="325.2" r="0.9"/><circle cx="376.0" cy="320.3" r="0.9"/><circle cx="378.7" cy="349.5" r="1.0"/><circle cx="392.6" cy="334.6" r="1.0"/><circle cx="401.8" cy="332.5" r="0.9"/><circle cx="358.2" cy="312.4" r="1.0"/><circle cx="396.0" cy="312.1" r="0.6"/><circle cx="369.1" cy="303.8" r="0.8"/><circle cx="385.1" cy="329.6" r="0.7"/><circle cx="362.1" cy="341.3" r="0.8"/><circle cx="353.8" cy="346.0" r="0.9"/><circle cx="365.1" cy="336.1" r="0.9"/><circle cx="380.6" cy="307.4" r="0.7"/><circle cx="362.1" cy="311.6" r="0.7"/><circle cx="369.5" cy="301.0" r="0.7"/><circle cx="377.3" cy="306.1" r="0.7"/><circle cx="355.7" cy="345.1" r="0.9"/><circle cx="390.7" cy="316.6" r="0.7"/><circle cx="388.5" cy="315.5" r="0.8"/><circle cx="403.2" cy="339.0" r="0.7"/><circle cx="371.3" cy="305.4" r="0.7"/><circle cx="363.7" cy="311.1" r="0.9"/><circle cx="354.6" cy="345.2" r="0.7"/><circle cx="390.4" cy="314.6" r="0.7"/><circle cx="386.2" cy="323.6" r="0.6"/><circle cx="384.9" cy="330.6" r="0.9"/><circle cx="353.0" cy="342.9" r="0.8"/><circle cx="356.4" cy="336.6" r="0.8"/><circle cx="379.7" cy="307.3" r="0.9"/><circle cx="365.2" cy="336.9" r="0.9"/><circle cx="382.1" cy="337.4" r="0.7"/><circle cx="396.2" cy="351.3" r="0.7"/><circle cx="396.7" cy="304.0" r="0.7"/><circle cx="358.2" cy="320.2" r="0.8"/><circle cx="366.9" cy="311.2" r="1.0"/><circle cx="399.2" cy="340.4" r="1.0"/><circle cx="374.3" cy="343.0" r="0.7"/><circle cx="354.8" cy="315.3" r="0.9"/><circle cx="386.9" cy="334.4" r="0.6"/><circle cx="364.6" cy="348.9" r="1.0"/><circle cx="378.1" cy="340.7" r="0.8"/><circle cx="369.0" cy="346.9" r="0.8"/><circle cx="392.0" cy="319.5" r="0.9"/><circle cx="396.3" cy="310.7" r="0.9"/><circle cx="355.3" cy="298.1" r="0.8"/><circle cx="378.3" cy="351.1" r="0.6"/><circle cx="401.9" cy="349.4" r="0.7"/><circle cx="376.2" cy="349.6" r="0.6"/><circle cx="371.7" cy="351.3" r="0.9"/><circle cx="357.8" cy="344.2" r="0.8"/><circle cx="370.7" cy="310.1" r="0.9"/><circle cx="371.8" cy="340.8" r="0.9"/><circle cx="370.5" cy="345.7" r="0.9"/><circle cx="399.8" cy="319.2" r="0.6"/><circle cx="356.0" cy="300.5" r="0.9"/><circle cx="351.0" cy="299.8" r="1.0"/><circle cx="363.6" cy="326.2" r="0.7"/><circle cx="356.6" cy="312.5" r="0.7"/><circle cx="349.6" cy="308.1" r="0.7"/><circle cx="382.9" cy="318.9" r="0.6"/><circle cx="377.7" cy="345.3" r="0.7"/><circle cx="352.8" cy="349.6" r="0.9"/><circle cx="373.5" cy="317.7" r="0.8"/><circle cx="361.5" cy="316.2" r="0.9"/><circle cx="370.9" cy="338.0" r="0.7"/><circle cx="396.6" cy="307.0" r="0.7"/><circle cx="351.9" cy="302.6" r="0.8"/><circle cx="368.5" cy="337.7" r="0.8"/><circle cx="361.1" cy="312.1" r="0.9"/><circle cx="390.6" cy="302.7" r="0.9"/><circle cx="354.8" cy="332.4" r="0.8"/><circle cx="396.2" cy="337.0" r="0.6"/><circle cx="395.2" cy="341.0" r="1.0"/><circle cx="392.0" cy="344.3" r="0.7"/><circle cx="357.4" cy="353.4" r="1.0"/><circle cx="387.0" cy="305.0" r="1.0"/><circle cx="393.6" cy="344.3" r="0.7"/><circle cx="384.9" cy="335.4" r="0.7"/><circle cx="363.1" cy="320.7" r="0.6"/><circle cx="394.9" cy="342.5" r="0.6"/><circle cx="397.8" cy="316.0" r="1.0"/><circle cx="359.9" cy="333.2" r="0.9"/><circle cx="388.1" cy="328.3" r="1.0"/><circle cx="399.6" cy="314.5" r="0.7"/><circle cx="372.2" cy="314.3" r="0.8"/><circle cx="392.6" cy="344.3" r="0.9"/><circle cx="390.3" cy="302.5" r="0.8"/><circle cx="400.8" cy="316.6" r="0.9"/><circle cx="392.8" cy="323.1" r="1.0"/><circle cx="368.5" cy="303.2" r="0.8"/><circle cx="399.5" cy="302.8" r="0.9"/><circle cx="366.9" cy="334.8" r="1.0"/><circle cx="361.9" cy="331.1" r="0.8"/><circle cx="354.1" cy="328.4" r="0.9"/><circle cx="349.9" cy="338.4" r="0.9"/><circle cx="375.2" cy="324.4" r="0.6"/><circle cx="390.1" cy="329.9" r="0.8"/><circle cx="399.1" cy="304.8" r="1.0"/><circle cx="361.1" cy="352.8" r="1.0"/><circle cx="385.7" cy="310.7" r="0.7"/><circle cx="374.4" cy="311.4" r="0.8"/><circle cx="391.6" cy="319.4" r="1.0"/><circle cx="371.2" cy="347.4" r="0.9"/><circle cx="380.8" cy="331.0" r="0.7"/><circle cx="381.7" cy="308.4" r="0.9"/><circle cx="358.9" cy="346.4" r="0.8"/><circle cx="403.0" cy="329.8" r="0.7"/><circle cx="387.6" cy="331.5" r="0.8"/><circle cx="389.2" cy="319.0" r="0.7"/><circle cx="372.0" cy="343.5" r="0.7"/><circle cx="385.2" cy="350.7" r="0.9"/><circle cx="366.7" cy="338.3" r="1.0"/><circle cx="400.4" cy="306.1" r="0.7"/><circle cx="364.0" cy="349.7" r="0.7"/><circle cx="361.5" cy="307.3" r="0.7"/><circle cx="392.4" cy="315.7" r="0.9"/><circle cx="390.2" cy="337.1" r="1.0"/><circle cx="396.8" cy="338.0" r="0.8"/><circle cx="358.9" cy="340.8" r="0.9"/><circle cx="360.4" cy="334.9" r="0.6"/><circle cx="392.0" cy="340.4" r="0.8"/><circle cx="403.0" cy="349.5" r="1.0"/><circle cx="388.6" cy="334.0" r="0.6"/><circle cx="379.5" cy="339.0" r="0.9"/><circle cx="402.2" cy="315.4" r="0.8"/><circle cx="400.9" cy="353.4" r="0.7"/><circle cx="360.7" cy="334.4" r="0.6"/><circle cx="390.6" cy="308.6" r="0.6"/><circle cx="390.6" cy="326.7" r="0.9"/><circle cx="371.8" cy="306.3" r="0.9"/><circle cx="382.7" cy="351.4" r="0.6"/><circle cx="373.0" cy="337.5" r="0.7"/><circle cx="397.2" cy="315.6" r="0.7"/><circle cx="384.9" cy="317.3" r="0.9"/><circle cx="400.3" cy="299.1" r="0.7"/><circle cx="368.0" cy="328.6" r="0.8"/><circle cx="369.2" cy="350.9" r="0.8"/><circle cx="365.8" cy="340.3" r="0.7"/><circle cx="367.1" cy="298.7" r="0.9"/><circle cx="383.6" cy="331.4" r="1.0"/><circle cx="367.3" cy="347.2" r="0.7"/><circle cx="379.0" cy="349.7" r="0.9"/><circle cx="362.5" cy="329.3" r="0.9"/><circle cx="350.7" cy="322.3" r="0.8"/><circle cx="399.5" cy="320.8" r="1.0"/><circle cx="382.1" cy="312.6" r="0.8"/><circle cx="372.1" cy="344.1" r="0.9"/><circle cx="360.1" cy="298.9" r="0.9"/><circle cx="389.5" cy="325.3" r="0.8"/><circle cx="381.6" cy="341.0" r="1.0"/><circle cx="381.8" cy="315.1" r="0.7"/><circle cx="360.9" cy="338.6" r="0.8"/><circle cx="359.7" cy="310.4" r="0.9"/></g><circle cx="372.0" cy="307.0" r="0.9" fill="#c01050"/><circle cx="365.0" cy="315.0" r="0.8" fill="#a01060"/><circle cx="390.0" cy="318.0" r="0.8" fill="#b01050"/><circle cx="380.0" cy="327.0" r="0.9" fill="#c01050"/><circle cx="397.0" cy="302.0" r="0.7" fill="#c01050"/><circle cx="358.0" cy="341.0" r="0.7" fill="#a01060"/><circle cx="363.0" cy="331.0" r="0.7" fill="#a01060"/></g></g>
<rect x="292.2" y="355.2" width="55" height="55.4" fill="#050536"/>
<clipPath id="cb3"><rect x="292.2" y="355.2" width="55" height="55.4"/></clipPath>
<g clip-path="url(#cb3)"><g filter="url(#mb)"><g fill="#1c1cd8"><circle cx="314.9" cy="361.8" r="0.9"/><circle cx="315.3" cy="362.4" r="0.7"/><circle cx="339.9" cy="360.0" r="0.8"/><circle cx="309.2" cy="408.2" r="1.0"/><circle cx="321.1" cy="375.9" r="0.9"/><circle cx="292.3" cy="361.7" r="1.0"/><circle cx="320.4" cy="374.7" r="0.7"/><circle cx="296.0" cy="357.0" r="0.6"/><circle cx="306.8" cy="396.6" r="0.7"/><circle cx="313.8" cy="359.9" r="0.9"/><circle cx="292.8" cy="362.0" r="0.9"/><circle cx="293.5" cy="363.7" r="1.0"/><circle cx="304.6" cy="363.7" r="0.9"/><circle cx="341.9" cy="369.7" r="1.0"/><circle cx="313.5" cy="362.1" r="0.9"/><circle cx="319.5" cy="372.4" r="0.6"/><circle cx="299.2" cy="377.9" r="0.6"/><circle cx="297.8" cy="386.5" r="0.7"/><circle cx="318.0" cy="367.7" r="0.8"/><circle cx="297.4" cy="369.2" r="1.0"/><circle cx="309.0" cy="381.5" r="0.8"/><circle cx="316.9" cy="387.5" r="1.0"/><circle cx="299.1" cy="364.3" r="0.6"/><circle cx="305.1" cy="386.5" r="1.0"/><circle cx="327.2" cy="356.7" r="1.0"/><circle cx="306.3" cy="395.3" r="0.8"/><circle cx="314.2" cy="357.9" r="0.9"/><circle cx="321.4" cy="364.1" r="0.6"/><circle cx="292.7" cy="381.2" r="1.0"/><circle cx="303.2" cy="388.2" r="0.9"/><circle cx="322.9" cy="379.7" r="0.9"/><circle cx="296.1" cy="381.5" r="0.6"/><circle cx="305.4" cy="370.0" r="0.7"/><circle cx="309.0" cy="377.5" r="0.7"/><circle cx="344.8" cy="390.4" r="0.6"/><circle cx="338.1" cy="363.7" r="0.7"/><circle cx="313.2" cy="371.6" r="0.7"/><circle cx="303.8" cy="364.1" r="0.9"/><circle cx="326.3" cy="381.0" r="1.0"/><circle cx="320.2" cy="388.3" r="1.0"/><circle cx="304.8" cy="390.0" r="0.6"/><circle cx="329.2" cy="375.7" r="0.9"/><circle cx="337.8" cy="356.8" r="0.6"/><circle cx="307.7" cy="393.0" r="1.0"/><circle cx="292.7" cy="382.6" r="0.8"/><circle cx="301.5" cy="397.5" r="0.8"/><circle cx="300.8" cy="372.9" r="0.9"/><circle cx="309.7" cy="372.5" r="1.0"/><circle cx="294.4" cy="359.6" r="0.8"/><circle cx="337.9" cy="394.8" r="0.6"/><circle cx="293.1" cy="389.2" r="0.7"/><circle cx="315.8" cy="387.7" r="0.9"/><circle cx="340.2" cy="396.0" r="0.9"/><circle cx="302.4" cy="389.0" r="0.6"/><circle cx="324.2" cy="391.9" r="0.8"/><circle cx="346.9" cy="363.1" r="0.9"/><circle cx="317.2" cy="363.0" r="0.6"/><circle cx="316.9" cy="362.9" r="1.0"/><circle cx="325.2" cy="361.8" r="0.6"/><circle cx="345.0" cy="397.0" r="0.9"/><circle cx="312.7" cy="365.7" r="1.0"/><circle cx="330.7" cy="408.5" r="0.9"/><circle cx="329.1" cy="371.7" r="0.8"/><circle cx="318.9" cy="364.5" r="0.7"/><circle cx="300.2" cy="363.8" r="0.9"/><circle cx="310.9" cy="381.5" r="0.7"/><circle cx="300.8" cy="359.8" r="0.9"/><circle cx="328.8" cy="361.5" r="1.0"/><circle cx="322.8" cy="367.9" r="0.6"/><circle cx="310.6" cy="395.8" r="0.8"/><circle cx="321.1" cy="383.7" r="0.9"/><circle cx="298.3" cy="377.4" r="0.6"/><circle cx="316.5" cy="378.0" r="0.9"/><circle cx="333.2" cy="398.1" r="1.0"/><circle cx="314.3" cy="364.7" r="0.8"/><circle cx="295.6" cy="365.6" r="0.6"/><circle cx="293.2" cy="373.1" r="0.8"/><circle cx="297.2" cy="366.3" r="0.9"/><circle cx="298.5" cy="379.9" r="0.8"/><circle cx="294.2" cy="398.2" r="0.8"/><circle cx="318.1" cy="402.5" r="0.7"/><circle cx="323.7" cy="377.5" r="0.9"/><circle cx="294.5" cy="368.6" r="0.8"/><circle cx="336.0" cy="403.7" r="1.0"/><circle cx="320.4" cy="373.9" r="0.8"/><circle cx="314.8" cy="366.3" r="0.7"/><circle cx="299.8" cy="358.8" r="0.7"/><circle cx="307.0" cy="365.6" r="1.0"/><circle cx="293.4" cy="377.5" r="0.7"/><circle cx="323.1" cy="373.5" r="0.9"/><circle cx="314.6" cy="374.1" r="0.7"/><circle cx="311.9" cy="372.4" r="0.7"/><circle cx="306.7" cy="359.0" r="1.0"/><circle cx="308.1" cy="406.9" r="0.9"/><circle cx="321.5" cy="361.1" r="0.9"/><circle cx="298.9" cy="393.4" r="1.0"/><circle cx="296.8" cy="383.0" r="0.8"/><circle cx="319.6" cy="361.4" r="1.0"/><circle cx="306.6" cy="374.2" r="1.0"/><circle cx="309.4" cy="377.9" r="0.8"/><circle cx="315.9" cy="404.0" r="0.7"/><circle cx="294.2" cy="372.3" r="0.6"/><circle cx="309.9" cy="365.2" r="0.9"/><circle cx="295.0" cy="382.8" r="0.8"/><circle cx="319.8" cy="406.0" r="0.6"/><circle cx="310.3" cy="383.7" r="0.8"/><circle cx="314.8" cy="389.0" r="0.9"/><circle cx="310.0" cy="383.8" r="0.8"/><circle cx="333.6" cy="397.2" r="0.8"/><circle cx="306.7" cy="394.8" r="0.8"/><circle cx="320.3" cy="384.4" r="0.7"/><circle cx="304.4" cy="357.2" r="1.0"/><circle cx="307.4" cy="380.0" r="0.9"/><circle cx="306.0" cy="368.3" r="1.0"/><circle cx="306.0" cy="361.5" r="0.6"/><circle cx="295.6" cy="369.0" r="0.7"/></g><g fill="#2020e8"><circle cx="312.7" cy="356.2" r="0.8"/><circle cx="311.5" cy="368.1" r="0.8"/><circle cx="304.6" cy="373.3" r="0.9"/><circle cx="335.7" cy="386.3" r="1.0"/><circle cx="311.1" cy="357.6" r="0.8"/><circle cx="317.7" cy="399.6" r="0.8"/><circle cx="313.2" cy="359.6" r="0.9"/><circle cx="308.6" cy="383.3" r="0.7"/><circle cx="300.6" cy="395.5" r="0.9"/><circle cx="314.5" cy="395.1" r="1.0"/><circle cx="293.7" cy="358.8" r="0.9"/><circle cx="298.2" cy="389.8" r="1.0"/><circle cx="313.4" cy="369.7" r="0.6"/><circle cx="323.2" cy="403.5" r="0.8"/><circle cx="329.8" cy="375.8" r="0.8"/><circle cx="296.3" cy="405.1" r="1.0"/><circle cx="319.1" cy="377.1" r="0.6"/><circle cx="304.2" cy="380.6" r="0.9"/><circle cx="304.2" cy="355.4" r="0.8"/><circle cx="321.4" cy="365.0" r="0.7"/><circle cx="332.3" cy="370.4" r="1.0"/><circle cx="307.9" cy="376.9" r="1.0"/><circle cx="301.1" cy="376.5" r="0.7"/><circle cx="294.5" cy="372.0" r="1.0"/><circle cx="300.6" cy="404.5" r="0.9"/><circle cx="333.8" cy="390.1" r="0.6"/><circle cx="321.4" cy="373.4" r="0.7"/><circle cx="304.5" cy="383.0" r="0.8"/><circle cx="301.7" cy="392.0" r="0.8"/><circle cx="299.7" cy="365.3" r="0.7"/><circle cx="321.6" cy="366.7" r="0.9"/><circle cx="305.4" cy="405.2" r="0.8"/><circle cx="306.5" cy="366.2" r="0.7"/><circle cx="304.1" cy="372.2" r="0.9"/><circle cx="336.0" cy="368.5" r="0.9"/><circle cx="306.6" cy="404.4" r="1.0"/><circle cx="324.3" cy="355.9" r="1.0"/><circle cx="316.8" cy="373.4" r="0.8"/><circle cx="309.3" cy="361.1" r="0.7"/><circle cx="319.8" cy="359.7" r="0.7"/><circle cx="339.2" cy="368.4" r="0.8"/><circle cx="316.5" cy="376.2" r="0.9"/><circle cx="314.2" cy="355.8" r="0.8"/><circle cx="316.2" cy="355.7" r="0.7"/><circle cx="292.6" cy="383.0" r="0.7"/><circle cx="296.3" cy="360.1" r="0.7"/><circle cx="326.0" cy="391.3" r="0.7"/><circle cx="322.5" cy="373.0" r="0.9"/><circle cx="332.8" cy="385.7" r="0.8"/><circle cx="317.6" cy="358.2" r="0.9"/><circle cx="311.0" cy="382.3" r="0.7"/><circle cx="312.6" cy="363.6" r="1.0"/><circle cx="316.2" cy="366.4" r="0.8"/><circle cx="342.9" cy="389.5" r="0.8"/><circle cx="314.3" cy="377.2" r="0.7"/><circle cx="334.2" cy="373.0" r="0.6"/><circle cx="339.1" cy="384.2" r="0.8"/><circle cx="312.4" cy="395.5" r="0.9"/><circle cx="297.9" cy="390.2" r="0.9"/><circle cx="327.2" cy="372.8" r="0.8"/><circle cx="321.1" cy="377.3" r="0.9"/><circle cx="298.5" cy="392.0" r="0.6"/><circle cx="337.7" cy="391.4" r="0.8"/><circle cx="307.2" cy="391.0" r="0.8"/><circle cx="293.1" cy="365.9" r="1.0"/><circle cx="294.9" cy="405.1" r="0.6"/><circle cx="338.7" cy="381.4" r="0.7"/><circle cx="327.1" cy="367.0" r="0.9"/><circle cx="324.9" cy="409.7" r="0.8"/><circle cx="300.9" cy="366.2" r="0.8"/><circle cx="314.0" cy="355.5" r="0.7"/><circle cx="309.8" cy="356.0" r="0.9"/><circle cx="318.5" cy="356.6" r="0.7"/><circle cx="318.3" cy="387.1" r="0.7"/><circle cx="320.7" cy="374.2" r="1.0"/><circle cx="304.5" cy="375.6" r="0.9"/><circle cx="310.6" cy="393.9" r="0.8"/><circle cx="299.9" cy="383.3" r="1.0"/><circle cx="301.9" cy="393.6" r="0.9"/><circle cx="296.9" cy="360.3" r="0.8"/><circle cx="295.9" cy="362.3" r="0.8"/><circle cx="314.4" cy="396.2" r="1.0"/><circle cx="329.0" cy="372.0" r="0.9"/><circle cx="310.9" cy="357.9" r="0.6"/><circle cx="293.0" cy="358.0" r="0.6"/><circle cx="313.9" cy="395.9" r="0.9"/><circle cx="295.0" cy="394.0" r="1.0"/><circle cx="329.1" cy="363.0" r="0.6"/><circle cx="331.3" cy="391.4" r="1.0"/><circle cx="345.0" cy="404.1" r="0.8"/><circle cx="296.1" cy="394.1" r="1.0"/><circle cx="304.7" cy="366.1" r="0.8"/><circle cx="296.6" cy="370.7" r="1.0"/><circle cx="319.5" cy="366.8" r="1.0"/><circle cx="323.7" cy="363.8" r="1.0"/><circle cx="312.1" cy="394.8" r="0.8"/><circle cx="311.5" cy="373.3" r="1.0"/><circle cx="311.2" cy="360.6" r="1.0"/><circle cx="314.7" cy="355.6" r="1.0"/><circle cx="304.5" cy="369.9" r="0.7"/><circle cx="293.5" cy="374.7" r="1.0"/><circle cx="325.9" cy="386.5" r="1.0"/><circle cx="335.7" cy="405.2" r="1.0"/><circle cx="314.3" cy="398.4" r="0.9"/><circle cx="293.0" cy="371.3" r="0.7"/><circle cx="292.8" cy="360.2" r="0.8"/><circle cx="296.8" cy="391.0" r="0.8"/><circle cx="343.3" cy="369.7" r="0.7"/><circle cx="332.3" cy="366.6" r="0.9"/><circle cx="320.7" cy="394.8" r="0.8"/><circle cx="304.6" cy="358.5" r="0.9"/><circle cx="341.6" cy="356.1" r="0.6"/><circle cx="302.3" cy="382.2" r="0.8"/><circle cx="329.1" cy="357.5" r="1.0"/><circle cx="339.3" cy="373.5" r="0.8"/><circle cx="315.5" cy="374.4" r="1.0"/><circle cx="307.2" cy="378.8" r="1.0"/><circle cx="299.2" cy="366.0" r="0.7"/><circle cx="322.7" cy="362.9" r="0.6"/><circle cx="323.0" cy="368.9" r="0.9"/><circle cx="301.0" cy="357.0" r="1.0"/><circle cx="309.4" cy="365.0" r="0.8"/><circle cx="300.5" cy="381.7" r="0.8"/><circle cx="323.3" cy="386.2" r="0.8"/><circle cx="294.8" cy="361.8" r="0.7"/><circle cx="294.4" cy="384.9" r="0.8"/><circle cx="330.5" cy="374.0" r="0.7"/><circle cx="317.7" cy="367.5" r="1.0"/><circle cx="346.0" cy="402.1" r="0.7"/><circle cx="306.6" cy="379.1" r="0.8"/><circle cx="301.0" cy="374.4" r="0.9"/><circle cx="297.1" cy="356.6" r="0.7"/><circle cx="296.0" cy="385.2" r="0.9"/><circle cx="307.5" cy="397.3" r="1.0"/><circle cx="332.8" cy="367.9" r="1.0"/><circle cx="333.3" cy="401.0" r="0.9"/><circle cx="315.3" cy="404.3" r="0.7"/><circle cx="306.4" cy="384.5" r="0.8"/><circle cx="320.5" cy="386.2" r="0.9"/><circle cx="307.5" cy="362.9" r="0.7"/><circle cx="322.1" cy="374.7" r="0.7"/><circle cx="306.6" cy="384.9" r="0.9"/></g><g fill="#1616c0"><circle cx="332.3" cy="361.0" r="1.0"/><circle cx="295.2" cy="396.2" r="0.8"/><circle cx="316.8" cy="364.5" r="1.0"/><circle cx="301.8" cy="401.9" r="0.8"/><circle cx="329.5" cy="371.0" r="0.7"/><circle cx="301.4" cy="367.7" r="0.8"/><circle cx="305.5" cy="383.0" r="0.6"/><circle cx="325.7" cy="371.0" r="0.9"/><circle cx="302.0" cy="378.2" r="0.8"/><circle cx="326.3" cy="374.8" r="0.8"/><circle cx="301.2" cy="369.4" r="0.6"/><circle cx="320.8" cy="362.3" r="0.8"/><circle cx="297.6" cy="387.7" r="0.9"/><circle cx="319.9" cy="369.6" r="0.9"/><circle cx="313.2" cy="377.3" r="0.7"/><circle cx="304.6" cy="394.3" r="0.8"/><circle cx="325.6" cy="378.8" r="1.0"/><circle cx="342.5" cy="402.9" r="0.7"/><circle cx="292.3" cy="374.2" r="0.7"/><circle cx="325.3" cy="382.7" r="1.0"/><circle cx="327.7" cy="400.2" r="0.6"/><circle cx="301.6" cy="391.6" r="0.8"/><circle cx="294.5" cy="408.5" r="0.8"/><circle cx="299.4" cy="366.4" r="0.9"/><circle cx="322.6" cy="365.9" r="1.0"/><circle cx="309.6" cy="370.7" r="0.6"/><circle cx="342.0" cy="357.3" r="0.8"/><circle cx="315.6" cy="366.4" r="0.7"/><circle cx="331.0" cy="389.0" r="0.8"/><circle cx="301.6" cy="358.3" r="0.6"/><circle cx="299.4" cy="383.8" r="0.8"/><circle cx="319.4" cy="356.4" r="0.9"/><circle cx="321.4" cy="399.2" r="0.8"/><circle cx="309.9" cy="381.5" r="0.7"/><circle cx="309.9" cy="370.2" r="0.8"/><circle cx="307.2" cy="360.1" r="1.0"/><circle cx="304.2" cy="367.6" r="0.8"/><circle cx="292.6" cy="361.2" r="0.9"/><circle cx="344.2" cy="360.9" r="0.7"/><circle cx="306.0" cy="392.5" r="0.7"/><circle cx="337.5" cy="358.8" r="0.6"/><circle cx="293.0" cy="390.9" r="0.7"/><circle cx="309.6" cy="393.1" r="0.9"/><circle cx="314.6" cy="355.4" r="0.8"/><circle cx="294.1" cy="366.4" r="0.8"/><circle cx="300.0" cy="366.6" r="0.9"/><circle cx="318.7" cy="374.4" r="0.8"/><circle cx="295.3" cy="361.1" r="0.7"/><circle cx="302.8" cy="368.7" r="0.9"/><circle cx="339.8" cy="392.6" r="0.7"/><circle cx="303.2" cy="359.5" r="0.6"/><circle cx="305.0" cy="406.1" r="0.8"/><circle cx="292.4" cy="363.7" r="0.9"/><circle cx="318.9" cy="373.8" r="0.7"/><circle cx="302.0" cy="363.5" r="0.8"/><circle cx="324.6" cy="368.8" r="1.0"/><circle cx="308.8" cy="367.2" r="0.9"/><circle cx="329.0" cy="371.8" r="1.0"/><circle cx="303.9" cy="371.6" r="0.6"/><circle cx="304.4" cy="373.3" r="0.7"/><circle cx="295.0" cy="380.3" r="1.0"/><circle cx="293.2" cy="391.6" r="0.9"/><circle cx="331.3" cy="371.0" r="0.9"/><circle cx="334.7" cy="355.8" r="0.7"/><circle cx="299.9" cy="362.4" r="0.7"/><circle cx="295.5" cy="369.0" r="0.8"/><circle cx="300.8" cy="372.0" r="0.6"/><circle cx="313.8" cy="365.5" r="0.9"/><circle cx="343.0" cy="356.8" r="1.0"/><circle cx="314.6" cy="356.3" r="0.9"/><circle cx="294.2" cy="355.4" r="0.9"/><circle cx="335.7" cy="378.7" r="0.9"/><circle cx="322.3" cy="394.0" r="0.9"/><circle cx="293.5" cy="385.4" r="1.0"/><circle cx="300.1" cy="404.6" r="0.7"/><circle cx="302.4" cy="374.4" r="1.0"/><circle cx="316.8" cy="355.9" r="0.9"/><circle cx="324.9" cy="367.1" r="0.9"/><circle cx="339.3" cy="362.2" r="0.6"/><circle cx="313.4" cy="393.9" r="0.7"/><circle cx="305.1" cy="374.3" r="0.8"/><circle cx="308.4" cy="387.7" r="0.8"/><circle cx="317.6" cy="384.7" r="1.0"/><circle cx="312.4" cy="374.0" r="0.9"/><circle cx="313.1" cy="379.2" r="0.7"/><circle cx="330.1" cy="362.7" r="0.8"/><circle cx="301.3" cy="395.5" r="0.7"/><circle cx="297.5" cy="376.7" r="0.7"/><circle cx="305.9" cy="376.5" r="0.7"/><circle cx="302.2" cy="367.7" r="0.7"/><circle cx="345.6" cy="371.5" r="0.7"/><circle cx="312.6" cy="404.4" r="0.9"/><circle cx="317.5" cy="364.5" r="0.8"/><circle cx="316.0" cy="364.9" r="0.7"/><circle cx="339.1" cy="390.0" r="0.7"/><circle cx="298.5" cy="362.1" r="0.8"/><circle cx="338.1" cy="361.3" r="0.8"/><circle cx="296.4" cy="370.2" r="1.0"/><circle cx="319.8" cy="376.5" r="0.7"/><circle cx="315.3" cy="379.7" r="0.8"/><circle cx="292.3" cy="403.3" r="1.0"/><circle cx="344.8" cy="386.0" r="0.9"/><circle cx="339.3" cy="358.5" r="0.7"/><circle cx="313.2" cy="368.0" r="0.8"/><circle cx="300.8" cy="370.4" r="0.9"/><circle cx="307.2" cy="374.3" r="0.9"/><circle cx="341.6" cy="372.1" r="0.9"/><circle cx="295.5" cy="381.9" r="0.8"/><circle cx="329.8" cy="362.5" r="0.8"/><circle cx="300.5" cy="358.3" r="1.0"/><circle cx="315.8" cy="357.0" r="1.0"/><circle cx="293.6" cy="386.9" r="1.0"/><circle cx="312.4" cy="358.3" r="1.0"/><circle cx="337.9" cy="355.8" r="0.7"/><circle cx="298.0" cy="405.0" r="0.9"/><circle cx="299.5" cy="365.9" r="0.6"/><circle cx="330.7" cy="390.3" r="0.8"/><circle cx="305.4" cy="367.0" r="0.8"/><circle cx="302.9" cy="390.2" r="0.7"/><circle cx="302.9" cy="365.1" r="1.0"/><circle cx="318.9" cy="376.2" r="0.8"/><circle cx="346.2" cy="363.8" r="1.0"/><circle cx="335.9" cy="355.5" r="1.0"/><circle cx="300.5" cy="357.5" r="0.9"/><circle cx="304.2" cy="367.8" r="0.8"/><circle cx="304.2" cy="378.5" r="0.7"/><circle cx="298.9" cy="375.1" r="0.9"/><circle cx="324.5" cy="364.5" r="0.7"/></g><g fill="#2626f8"><circle cx="296.8" cy="392.1" r="0.8"/><circle cx="302.8" cy="373.3" r="0.8"/><circle cx="312.0" cy="378.8" r="0.6"/><circle cx="310.3" cy="370.6" r="0.8"/><circle cx="331.0" cy="360.0" r="0.8"/><circle cx="328.8" cy="358.4" r="0.9"/><circle cx="313.3" cy="370.6" r="1.0"/><circle cx="308.0" cy="365.1" r="0.9"/><circle cx="306.1" cy="377.3" r="0.9"/><circle cx="297.0" cy="382.9" r="0.6"/><circle cx="327.3" cy="391.9" r="0.9"/><circle cx="327.9" cy="382.3" r="0.9"/><circle cx="294.4" cy="356.5" r="1.0"/><circle cx="339.4" cy="361.9" r="0.9"/><circle cx="299.9" cy="403.9" r="0.8"/><circle cx="293.7" cy="405.8" r="0.7"/><circle cx="294.9" cy="373.3" r="0.9"/><circle cx="294.7" cy="370.9" r="0.7"/><circle cx="306.1" cy="388.7" r="1.0"/><circle cx="323.1" cy="361.2" r="1.0"/><circle cx="307.1" cy="368.2" r="0.8"/><circle cx="314.6" cy="402.9" r="1.0"/><circle cx="305.6" cy="391.8" r="1.0"/><circle cx="303.3" cy="364.4" r="0.7"/><circle cx="337.4" cy="372.8" r="0.8"/><circle cx="301.1" cy="391.3" r="0.8"/><circle cx="309.8" cy="391.4" r="0.8"/><circle cx="311.3" cy="365.3" r="0.8"/><circle cx="297.8" cy="389.3" r="0.8"/><circle cx="304.6" cy="404.3" r="0.9"/><circle cx="304.2" cy="376.1" r="0.6"/><circle cx="307.1" cy="374.4" r="1.0"/><circle cx="300.7" cy="369.6" r="0.7"/><circle cx="300.3" cy="381.7" r="0.9"/><circle cx="301.6" cy="379.4" r="0.6"/><circle cx="298.7" cy="362.5" r="0.8"/><circle cx="321.6" cy="382.5" r="0.8"/><circle cx="299.2" cy="366.0" r="0.6"/><circle cx="294.8" cy="390.3" r="0.9"/><circle cx="309.3" cy="408.0" r="0.7"/><circle cx="312.2" cy="375.1" r="1.0"/><circle cx="306.2" cy="373.5" r="1.0"/><circle cx="302.3" cy="392.2" r="1.0"/><circle cx="306.8" cy="397.2" r="0.6"/><circle cx="330.8" cy="381.1" r="0.9"/><circle cx="294.2" cy="362.9" r="0.8"/><circle cx="319.0" cy="358.2" r="0.8"/><circle cx="336.8" cy="378.7" r="1.0"/><circle cx="311.5" cy="399.2" r="1.0"/><circle cx="303.5" cy="380.8" r="0.7"/><circle cx="311.4" cy="385.7" r="0.7"/><circle cx="303.1" cy="403.3" r="0.7"/><circle cx="295.8" cy="401.5" r="0.8"/><circle cx="300.6" cy="394.8" r="0.7"/><circle cx="311.6" cy="376.0" r="1.0"/><circle cx="303.1" cy="397.1" r="0.9"/><circle cx="308.8" cy="407.9" r="0.9"/><circle cx="324.3" cy="369.3" r="0.9"/><circle cx="332.7" cy="394.3" r="0.9"/><circle cx="324.3" cy="378.8" r="0.8"/><circle cx="327.6" cy="365.8" r="0.9"/><circle cx="345.4" cy="355.6" r="0.7"/><circle cx="345.6" cy="366.2" r="0.8"/><circle cx="302.1" cy="358.2" r="0.8"/><circle cx="324.4" cy="356.5" r="1.0"/><circle cx="297.8" cy="359.6" r="0.8"/><circle cx="335.9" cy="376.1" r="0.7"/><circle cx="314.9" cy="371.4" r="0.7"/><circle cx="298.9" cy="404.9" r="0.9"/><circle cx="331.6" cy="362.4" r="0.7"/><circle cx="293.9" cy="369.1" r="0.6"/><circle cx="325.3" cy="366.9" r="0.7"/><circle cx="306.4" cy="360.2" r="0.8"/><circle cx="330.8" cy="393.8" r="1.0"/><circle cx="300.6" cy="373.5" r="1.0"/><circle cx="316.5" cy="362.6" r="0.8"/><circle cx="334.9" cy="407.8" r="0.7"/><circle cx="340.7" cy="373.4" r="1.0"/><circle cx="297.8" cy="378.4" r="1.0"/><circle cx="321.7" cy="401.8" r="0.7"/><circle cx="301.5" cy="369.1" r="0.9"/><circle cx="304.1" cy="362.4" r="0.6"/><circle cx="295.0" cy="363.4" r="0.6"/><circle cx="310.4" cy="370.7" r="1.0"/><circle cx="297.2" cy="387.9" r="0.8"/><circle cx="307.0" cy="377.9" r="0.6"/><circle cx="298.4" cy="385.1" r="0.8"/><circle cx="299.7" cy="401.9" r="1.0"/><circle cx="331.8" cy="400.4" r="0.7"/><circle cx="327.3" cy="380.2" r="1.0"/><circle cx="343.7" cy="380.5" r="0.6"/><circle cx="316.0" cy="390.0" r="0.7"/><circle cx="302.9" cy="367.1" r="0.8"/><circle cx="313.7" cy="358.3" r="1.0"/><circle cx="322.1" cy="393.4" r="1.0"/><circle cx="293.1" cy="383.7" r="0.8"/><circle cx="294.2" cy="407.1" r="0.7"/><circle cx="310.9" cy="363.1" r="0.6"/><circle cx="294.9" cy="364.0" r="0.9"/><circle cx="297.1" cy="361.6" r="0.9"/><circle cx="296.3" cy="378.3" r="0.7"/><circle cx="315.1" cy="394.5" r="0.7"/><circle cx="307.6" cy="399.4" r="0.9"/><circle cx="297.4" cy="384.3" r="0.9"/><circle cx="313.6" cy="406.5" r="0.9"/><circle cx="310.0" cy="397.0" r="0.7"/><circle cx="335.8" cy="358.6" r="0.8"/><circle cx="293.4" cy="358.7" r="0.8"/><circle cx="346.5" cy="361.7" r="0.8"/><circle cx="297.9" cy="373.9" r="1.0"/><circle cx="292.6" cy="403.9" r="0.7"/><circle cx="305.2" cy="378.0" r="1.0"/><circle cx="298.7" cy="371.1" r="0.7"/><circle cx="314.7" cy="387.0" r="0.7"/><circle cx="324.1" cy="397.2" r="0.6"/><circle cx="294.5" cy="379.3" r="1.0"/><circle cx="322.1" cy="377.7" r="0.7"/></g><g fill="#1a1acc"><circle cx="340.2" cy="363.7" r="0.7"/><circle cx="317.9" cy="362.2" r="0.9"/><circle cx="338.0" cy="372.4" r="0.6"/><circle cx="304.3" cy="381.0" r="0.7"/><circle cx="313.9" cy="369.7" r="1.0"/><circle cx="329.8" cy="365.4" r="0.7"/><circle cx="295.3" cy="363.4" r="0.9"/><circle cx="293.0" cy="390.5" r="0.8"/><circle cx="341.4" cy="360.7" r="1.0"/><circle cx="314.9" cy="386.1" r="0.9"/><circle cx="334.3" cy="358.4" r="0.6"/><circle cx="294.6" cy="358.2" r="1.0"/><circle cx="316.7" cy="369.6" r="0.9"/><circle cx="340.5" cy="372.4" r="0.8"/><circle cx="324.6" cy="355.8" r="0.9"/><circle cx="298.6" cy="371.8" r="0.8"/><circle cx="292.9" cy="377.1" r="0.6"/><circle cx="335.5" cy="367.6" r="0.9"/><circle cx="307.9" cy="364.6" r="1.0"/><circle cx="317.2" cy="385.6" r="0.7"/><circle cx="305.8" cy="393.3" r="0.7"/><circle cx="298.8" cy="357.5" r="0.9"/><circle cx="311.4" cy="383.0" r="0.8"/><circle cx="295.5" cy="368.5" r="0.7"/><circle cx="344.7" cy="390.7" r="1.0"/><circle cx="337.7" cy="363.0" r="0.7"/><circle cx="305.1" cy="382.7" r="0.8"/><circle cx="316.4" cy="371.9" r="0.9"/><circle cx="320.5" cy="384.5" r="0.9"/><circle cx="306.1" cy="368.9" r="0.7"/><circle cx="298.9" cy="373.5" r="1.0"/><circle cx="334.5" cy="366.5" r="0.7"/><circle cx="304.5" cy="357.9" r="1.0"/><circle cx="302.4" cy="382.0" r="0.9"/><circle cx="322.2" cy="365.0" r="0.9"/><circle cx="305.4" cy="381.1" r="1.0"/><circle cx="308.5" cy="410.0" r="0.8"/><circle cx="301.4" cy="371.1" r="0.6"/><circle cx="297.6" cy="394.3" r="0.8"/><circle cx="301.4" cy="366.1" r="0.7"/><circle cx="296.8" cy="355.3" r="0.9"/><circle cx="295.2" cy="373.2" r="0.6"/><circle cx="327.2" cy="385.3" r="1.0"/><circle cx="334.9" cy="404.5" r="0.9"/><circle cx="323.9" cy="369.9" r="0.9"/><circle cx="300.6" cy="375.0" r="0.7"/><circle cx="297.2" cy="405.1" r="0.9"/><circle cx="319.6" cy="370.8" r="0.6"/><circle cx="301.1" cy="397.8" r="0.6"/><circle cx="292.8" cy="385.4" r="0.6"/><circle cx="293.0" cy="402.6" r="0.7"/><circle cx="298.9" cy="375.6" r="0.9"/><circle cx="305.3" cy="409.8" r="0.9"/><circle cx="303.3" cy="390.3" r="1.0"/><circle cx="296.3" cy="367.5" r="0.9"/><circle cx="295.2" cy="381.9" r="1.0"/><circle cx="319.6" cy="382.9" r="0.8"/><circle cx="310.7" cy="379.2" r="1.0"/><circle cx="300.3" cy="406.6" r="0.9"/><circle cx="304.7" cy="379.6" r="0.9"/><circle cx="335.0" cy="360.3" r="0.9"/><circle cx="296.3" cy="358.3" r="1.0"/><circle cx="307.1" cy="366.0" r="0.9"/><circle cx="294.2" cy="372.2" r="0.6"/><circle cx="294.8" cy="377.8" r="0.7"/><circle cx="304.8" cy="378.0" r="1.0"/><circle cx="335.3" cy="356.6" r="0.9"/><circle cx="300.8" cy="360.9" r="0.7"/><circle cx="310.6" cy="372.6" r="0.8"/><circle cx="329.7" cy="373.4" r="0.9"/><circle cx="317.5" cy="386.9" r="0.9"/><circle cx="331.8" cy="375.4" r="0.9"/><circle cx="295.4" cy="368.2" r="0.9"/><circle cx="295.3" cy="371.9" r="0.8"/><circle cx="321.0" cy="365.0" r="0.8"/><circle cx="325.1" cy="370.5" r="0.8"/><circle cx="327.1" cy="379.9" r="1.0"/><circle cx="326.8" cy="375.2" r="0.9"/><circle cx="314.1" cy="360.7" r="0.9"/><circle cx="293.7" cy="363.3" r="0.7"/><circle cx="343.0" cy="375.2" r="0.8"/><circle cx="294.8" cy="368.0" r="0.9"/><circle cx="303.1" cy="374.1" r="0.9"/><circle cx="335.0" cy="379.2" r="1.0"/><circle cx="301.7" cy="382.6" r="0.9"/><circle cx="322.8" cy="403.1" r="0.7"/><circle cx="318.4" cy="380.1" r="0.6"/><circle cx="345.0" cy="356.6" r="0.9"/><circle cx="309.8" cy="408.1" r="0.9"/><circle cx="308.4" cy="355.2" r="0.9"/><circle cx="308.5" cy="362.7" r="1.0"/><circle cx="296.9" cy="379.5" r="0.7"/><circle cx="297.0" cy="363.3" r="1.0"/><circle cx="327.8" cy="390.3" r="0.6"/><circle cx="303.6" cy="361.4" r="0.7"/><circle cx="315.1" cy="370.6" r="0.7"/><circle cx="293.9" cy="356.5" r="1.0"/><circle cx="306.1" cy="364.4" r="0.9"/><circle cx="311.4" cy="378.8" r="1.0"/><circle cx="322.2" cy="381.3" r="0.7"/><circle cx="296.5" cy="368.1" r="0.7"/><circle cx="293.1" cy="376.9" r="0.8"/><circle cx="299.7" cy="410.4" r="0.8"/><circle cx="327.6" cy="364.2" r="0.8"/><circle cx="296.1" cy="359.1" r="0.8"/><circle cx="293.0" cy="356.5" r="0.6"/><circle cx="304.6" cy="380.3" r="0.7"/><circle cx="333.2" cy="374.1" r="0.6"/><circle cx="296.3" cy="356.5" r="1.0"/><circle cx="316.1" cy="363.3" r="0.7"/><circle cx="303.5" cy="359.4" r="0.9"/><circle cx="317.2" cy="379.8" r="0.6"/><circle cx="298.0" cy="407.6" r="0.7"/><circle cx="341.3" cy="375.1" r="0.9"/><circle cx="305.1" cy="402.2" r="0.8"/><circle cx="313.3" cy="357.7" r="0.8"/><circle cx="298.3" cy="388.9" r="0.6"/><circle cx="300.0" cy="377.0" r="1.0"/><circle cx="297.1" cy="405.9" r="1.0"/><circle cx="303.9" cy="357.1" r="0.7"/><circle cx="313.0" cy="400.6" r="1.0"/><circle cx="330.0" cy="379.6" r="0.8"/><circle cx="302.3" cy="407.8" r="1.0"/><circle cx="311.8" cy="365.1" r="0.6"/><circle cx="303.9" cy="379.0" r="0.8"/><circle cx="314.7" cy="355.5" r="0.7"/><circle cx="301.2" cy="372.6" r="0.9"/><circle cx="327.5" cy="367.3" r="0.9"/><circle cx="335.1" cy="364.8" r="1.0"/><circle cx="329.5" cy="356.6" r="0.6"/><circle cx="306.9" cy="378.0" r="0.7"/><circle cx="315.4" cy="382.8" r="0.8"/><circle cx="303.0" cy="376.7" r="1.0"/><circle cx="326.1" cy="381.6" r="0.6"/><circle cx="300.9" cy="408.9" r="0.7"/><circle cx="310.0" cy="359.1" r="0.8"/><circle cx="298.8" cy="370.0" r="1.0"/></g><circle cx="317.3" cy="361.5" r="1.6" fill="#ff2050"/><circle cx="312.0" cy="392.0" r="0.8" fill="#901060"/><circle cx="330.0" cy="372.0" r="0.7" fill="#901060"/></g></g>
<rect x="349.3" y="355.2" width="54.2" height="55.4" fill="#030328"/>
<clipPath id="cb4"><rect x="349.3" y="355.2" width="54.2" height="55.4"/></clipPath>
<g clip-path="url(#cb4)"><g filter="url(#mb)"><g fill="#1414b0"><circle cx="382.4" cy="406.5" r="0.8"/><circle cx="397.8" cy="365.0" r="0.7"/><circle cx="374.9" cy="398.8" r="0.8"/><circle cx="367.0" cy="367.8" r="0.7"/><circle cx="390.7" cy="388.0" r="0.9"/><circle cx="386.6" cy="360.4" r="0.8"/><circle cx="353.2" cy="367.9" r="0.7"/><circle cx="394.8" cy="381.7" r="0.7"/><circle cx="374.2" cy="406.2" r="0.6"/><circle cx="389.3" cy="361.7" r="0.9"/><circle cx="402.0" cy="373.8" r="0.8"/><circle cx="371.5" cy="369.8" r="0.7"/><circle cx="369.0" cy="409.7" r="0.5"/><circle cx="389.6" cy="392.5" r="0.6"/><circle cx="387.5" cy="379.0" r="0.8"/><circle cx="361.5" cy="384.0" r="0.7"/><circle cx="374.1" cy="357.6" r="0.7"/><circle cx="359.2" cy="380.7" r="1.0"/><circle cx="369.7" cy="367.4" r="0.6"/><circle cx="349.6" cy="359.0" r="0.8"/><circle cx="399.7" cy="395.6" r="0.7"/><circle cx="392.6" cy="385.2" r="0.8"/><circle cx="351.3" cy="378.4" r="0.7"/><circle cx="368.4" cy="396.9" r="0.8"/><circle cx="351.9" cy="403.3" r="0.8"/><circle cx="374.8" cy="387.3" r="0.6"/><circle cx="352.0" cy="403.0" r="0.6"/><circle cx="400.9" cy="400.6" r="0.7"/><circle cx="366.6" cy="405.9" r="0.6"/><circle cx="398.2" cy="404.7" r="0.6"/><circle cx="392.5" cy="374.9" r="0.5"/><circle cx="397.9" cy="384.2" r="0.5"/><circle cx="385.8" cy="409.9" r="0.9"/><circle cx="391.2" cy="398.0" r="0.8"/><circle cx="370.6" cy="397.7" r="0.9"/><circle cx="396.8" cy="377.9" r="0.9"/><circle cx="358.2" cy="395.1" r="0.9"/><circle cx="393.4" cy="400.5" r="0.9"/><circle cx="389.1" cy="401.4" r="0.6"/><circle cx="372.1" cy="382.3" r="0.8"/><circle cx="399.6" cy="409.8" r="0.9"/><circle cx="390.8" cy="407.3" r="0.8"/><circle cx="353.9" cy="409.8" r="0.7"/><circle cx="365.7" cy="391.9" r="0.7"/><circle cx="358.3" cy="359.1" r="0.8"/><circle cx="358.4" cy="385.7" r="0.6"/><circle cx="382.3" cy="400.3" r="0.7"/><circle cx="384.9" cy="398.9" r="0.6"/><circle cx="396.5" cy="409.2" r="0.6"/><circle cx="373.8" cy="382.7" r="0.7"/><circle cx="359.8" cy="365.4" r="0.9"/><circle cx="362.5" cy="381.9" r="0.8"/><circle cx="394.9" cy="389.3" r="0.8"/><circle cx="394.5" cy="374.9" r="1.0"/><circle cx="380.4" cy="370.4" r="0.6"/><circle cx="353.4" cy="409.2" r="0.5"/><circle cx="401.4" cy="365.6" r="0.9"/><circle cx="371.4" cy="385.6" r="0.5"/><circle cx="381.0" cy="366.5" r="0.5"/><circle cx="362.7" cy="408.5" r="0.6"/><circle cx="392.1" cy="408.9" r="0.6"/><circle cx="350.5" cy="406.6" r="0.8"/><circle cx="360.5" cy="373.7" r="0.8"/><circle cx="396.2" cy="363.3" r="0.8"/><circle cx="380.2" cy="394.1" r="0.7"/><circle cx="371.4" cy="366.7" r="0.6"/><circle cx="387.0" cy="366.9" r="0.9"/><circle cx="350.5" cy="386.6" r="0.7"/><circle cx="366.1" cy="377.0" r="0.5"/><circle cx="396.2" cy="393.9" r="0.6"/><circle cx="395.0" cy="364.7" r="0.9"/><circle cx="375.3" cy="376.8" r="0.7"/><circle cx="355.2" cy="399.5" r="0.9"/><circle cx="361.0" cy="388.6" r="1.0"/><circle cx="372.0" cy="359.8" r="0.8"/></g><g fill="#1818c8"><circle cx="374.2" cy="407.4" r="0.6"/><circle cx="387.5" cy="373.4" r="0.7"/><circle cx="369.5" cy="371.6" r="1.0"/><circle cx="374.2" cy="398.9" r="0.5"/><circle cx="378.7" cy="397.5" r="0.6"/><circle cx="389.8" cy="358.8" r="0.7"/><circle cx="374.9" cy="381.2" r="0.8"/><circle cx="383.2" cy="391.9" r="0.9"/><circle cx="357.8" cy="408.5" r="0.6"/><circle cx="400.3" cy="374.9" r="0.9"/><circle cx="356.8" cy="357.0" r="0.9"/><circle cx="368.7" cy="372.8" r="0.6"/><circle cx="379.4" cy="403.6" r="0.9"/><circle cx="380.4" cy="390.5" r="0.8"/><circle cx="391.1" cy="370.4" r="0.5"/><circle cx="376.0" cy="393.3" r="0.8"/><circle cx="370.3" cy="375.5" r="0.9"/><circle cx="363.1" cy="401.1" r="0.6"/><circle cx="365.1" cy="367.0" r="0.9"/><circle cx="364.4" cy="402.5" r="0.8"/><circle cx="370.8" cy="367.0" r="0.7"/><circle cx="364.2" cy="408.0" r="0.8"/><circle cx="373.3" cy="362.2" r="0.7"/><circle cx="383.9" cy="400.9" r="0.6"/><circle cx="352.8" cy="380.6" r="0.8"/><circle cx="367.9" cy="405.6" r="1.0"/><circle cx="382.1" cy="400.1" r="0.7"/><circle cx="351.2" cy="366.2" r="0.8"/><circle cx="398.5" cy="402.1" r="0.7"/><circle cx="351.6" cy="372.0" r="0.9"/><circle cx="399.8" cy="403.9" r="0.6"/><circle cx="354.5" cy="357.4" r="0.9"/><circle cx="399.3" cy="391.8" r="0.5"/><circle cx="403.1" cy="409.6" r="0.7"/><circle cx="354.5" cy="380.9" r="0.7"/><circle cx="393.8" cy="372.5" r="0.6"/><circle cx="379.6" cy="381.8" r="0.9"/><circle cx="398.5" cy="377.1" r="0.9"/><circle cx="373.2" cy="385.8" r="0.8"/><circle cx="360.3" cy="367.3" r="0.9"/><circle cx="387.0" cy="368.5" r="0.7"/><circle cx="391.5" cy="392.2" r="0.5"/><circle cx="399.4" cy="389.6" r="0.9"/><circle cx="386.4" cy="378.5" r="0.6"/><circle cx="397.1" cy="378.8" r="0.7"/><circle cx="372.6" cy="403.2" r="0.7"/><circle cx="378.9" cy="395.4" r="0.8"/><circle cx="396.9" cy="380.3" r="0.9"/><circle cx="401.9" cy="391.6" r="0.5"/><circle cx="396.5" cy="399.1" r="0.8"/><circle cx="380.5" cy="365.5" r="0.8"/><circle cx="353.6" cy="365.0" r="1.0"/><circle cx="382.0" cy="368.7" r="0.9"/><circle cx="389.3" cy="392.3" r="0.7"/><circle cx="376.3" cy="380.1" r="0.9"/><circle cx="365.9" cy="410.6" r="0.6"/><circle cx="384.7" cy="372.1" r="0.9"/><circle cx="377.6" cy="381.1" r="0.8"/><circle cx="368.8" cy="362.8" r="0.9"/><circle cx="363.8" cy="366.0" r="0.7"/><circle cx="359.7" cy="403.2" r="0.7"/><circle cx="397.7" cy="409.7" r="0.9"/><circle cx="391.2" cy="361.6" r="0.8"/><circle cx="358.6" cy="391.3" r="0.9"/><circle cx="353.3" cy="394.0" r="0.8"/><circle cx="364.4" cy="377.3" r="0.8"/><circle cx="402.4" cy="372.4" r="0.9"/><circle cx="371.6" cy="375.2" r="0.6"/><circle cx="364.6" cy="407.3" r="0.8"/><circle cx="391.9" cy="410.0" r="1.0"/><circle cx="371.1" cy="371.8" r="1.0"/><circle cx="399.8" cy="399.2" r="0.9"/><circle cx="370.4" cy="376.9" r="0.5"/><circle cx="387.5" cy="386.2" r="0.6"/><circle cx="353.1" cy="382.9" r="0.6"/><circle cx="365.3" cy="407.7" r="0.8"/><circle cx="392.9" cy="400.3" r="0.8"/><circle cx="373.4" cy="400.0" r="0.7"/><circle cx="374.7" cy="403.8" r="0.6"/><circle cx="399.5" cy="368.0" r="0.8"/><circle cx="381.4" cy="400.9" r="1.0"/><circle cx="364.0" cy="379.6" r="0.9"/><circle cx="392.7" cy="400.7" r="0.6"/><circle cx="361.8" cy="388.2" r="0.7"/><circle cx="386.1" cy="382.8" r="0.5"/><circle cx="399.0" cy="394.8" r="0.9"/><circle cx="396.4" cy="369.1" r="0.7"/><circle cx="349.4" cy="394.0" r="0.9"/><circle cx="379.4" cy="368.8" r="0.8"/><circle cx="372.1" cy="363.9" r="0.9"/><circle cx="374.8" cy="389.2" r="0.6"/><circle cx="386.0" cy="371.0" r="0.9"/><circle cx="355.9" cy="358.9" r="0.6"/><circle cx="371.0" cy="401.0" r="1.0"/><circle cx="397.8" cy="404.9" r="0.8"/><circle cx="361.9" cy="370.9" r="0.7"/><circle cx="368.0" cy="409.2" r="0.8"/><circle cx="365.9" cy="383.7" r="0.9"/><circle cx="374.6" cy="400.1" r="0.9"/></g><g fill="#2020e0"><circle cx="359.3" cy="384.0" r="0.9"/><circle cx="387.3" cy="389.5" r="0.8"/><circle cx="374.6" cy="408.3" r="0.6"/><circle cx="353.6" cy="357.0" r="1.0"/><circle cx="382.4" cy="374.1" r="1.0"/><circle cx="393.9" cy="388.2" r="1.0"/><circle cx="393.8" cy="372.0" r="0.7"/><circle cx="380.4" cy="355.7" r="0.9"/><circle cx="351.0" cy="381.4" r="0.9"/><circle cx="380.9" cy="387.4" r="0.8"/><circle cx="397.6" cy="359.9" r="0.9"/><circle cx="381.1" cy="370.5" r="1.0"/><circle cx="396.2" cy="370.0" r="0.6"/><circle cx="356.6" cy="396.7" r="0.9"/><circle cx="350.8" cy="374.5" r="0.5"/><circle cx="359.8" cy="382.6" r="0.9"/><circle cx="373.0" cy="399.1" r="0.9"/><circle cx="398.6" cy="383.6" r="0.8"/><circle cx="363.6" cy="366.8" r="0.5"/><circle cx="362.7" cy="384.4" r="0.7"/><circle cx="388.2" cy="377.4" r="0.9"/><circle cx="391.0" cy="388.3" r="0.9"/><circle cx="362.1" cy="402.8" r="0.8"/><circle cx="376.5" cy="384.1" r="0.6"/><circle cx="354.6" cy="392.9" r="0.7"/><circle cx="392.0" cy="364.4" r="0.8"/><circle cx="390.7" cy="398.0" r="0.7"/><circle cx="397.1" cy="357.9" r="0.7"/><circle cx="362.4" cy="408.2" r="0.9"/><circle cx="398.6" cy="374.6" r="0.8"/><circle cx="359.2" cy="363.8" r="0.9"/><circle cx="374.3" cy="361.9" r="0.8"/><circle cx="356.2" cy="367.5" r="0.9"/><circle cx="389.7" cy="408.7" r="0.8"/><circle cx="351.1" cy="393.9" r="0.6"/><circle cx="360.8" cy="377.7" r="0.8"/><circle cx="380.8" cy="374.3" r="0.7"/><circle cx="393.4" cy="397.1" r="0.6"/><circle cx="356.0" cy="383.6" r="1.0"/><circle cx="372.6" cy="385.2" r="1.0"/><circle cx="358.6" cy="378.1" r="0.8"/><circle cx="378.2" cy="356.9" r="0.8"/><circle cx="358.1" cy="410.2" r="0.6"/><circle cx="367.8" cy="400.2" r="0.6"/><circle cx="355.2" cy="394.8" r="0.8"/><circle cx="372.3" cy="385.4" r="0.5"/><circle cx="385.3" cy="390.3" r="0.6"/><circle cx="370.4" cy="371.9" r="0.5"/><circle cx="371.7" cy="391.6" r="0.7"/><circle cx="380.9" cy="401.7" r="0.8"/><circle cx="383.2" cy="380.2" r="0.7"/><circle cx="383.7" cy="403.7" r="0.6"/><circle cx="373.4" cy="404.5" r="0.7"/><circle cx="396.4" cy="383.9" r="0.8"/><circle cx="363.0" cy="393.3" r="0.9"/><circle cx="384.3" cy="402.3" r="0.9"/><circle cx="390.6" cy="378.1" r="0.6"/><circle cx="397.0" cy="365.2" r="0.7"/><circle cx="375.4" cy="405.3" r="0.8"/><circle cx="383.4" cy="404.4" r="0.9"/><circle cx="393.9" cy="394.8" r="0.7"/><circle cx="363.8" cy="380.3" r="0.8"/><circle cx="362.7" cy="380.6" r="0.8"/><circle cx="402.3" cy="392.3" r="0.9"/><circle cx="390.8" cy="382.5" r="0.8"/><circle cx="391.7" cy="379.9" r="0.8"/><circle cx="366.5" cy="409.5" r="0.6"/><circle cx="387.6" cy="377.9" r="0.6"/><circle cx="367.4" cy="359.8" r="1.0"/><circle cx="399.4" cy="371.9" r="0.9"/><circle cx="358.8" cy="404.4" r="0.9"/><circle cx="369.2" cy="364.8" r="0.6"/><circle cx="372.6" cy="409.3" r="0.7"/><circle cx="370.0" cy="356.7" r="0.5"/><circle cx="376.0" cy="402.7" r="0.7"/><circle cx="373.7" cy="365.0" r="1.0"/><circle cx="388.2" cy="389.4" r="0.5"/><circle cx="378.4" cy="373.9" r="0.5"/><circle cx="355.7" cy="391.1" r="1.0"/><circle cx="383.3" cy="376.8" r="0.9"/><circle cx="395.8" cy="394.0" r="0.7"/><circle cx="398.3" cy="390.7" r="0.7"/><circle cx="378.7" cy="401.1" r="0.6"/><circle cx="356.3" cy="357.0" r="0.8"/><circle cx="386.4" cy="404.0" r="0.6"/><circle cx="355.3" cy="375.4" r="1.0"/><circle cx="363.2" cy="383.4" r="0.6"/><circle cx="385.7" cy="356.9" r="0.7"/><circle cx="400.8" cy="383.1" r="0.5"/><circle cx="397.2" cy="382.2" r="1.0"/><circle cx="389.0" cy="393.3" r="0.7"/><circle cx="375.6" cy="388.3" r="1.0"/><circle cx="363.5" cy="382.9" r="0.6"/><circle cx="376.6" cy="395.4" r="0.8"/><circle cx="393.2" cy="376.8" r="0.7"/><circle cx="374.1" cy="359.6" r="0.9"/><circle cx="402.3" cy="360.1" r="0.9"/><circle cx="376.5" cy="407.4" r="0.6"/><circle cx="385.3" cy="386.3" r="0.7"/><circle cx="369.4" cy="379.8" r="0.5"/><circle cx="354.2" cy="359.7" r="0.9"/><circle cx="368.3" cy="410.3" r="0.9"/><circle cx="352.4" cy="404.5" r="0.8"/><circle cx="401.9" cy="366.6" r="0.8"/><circle cx="398.5" cy="395.7" r="0.6"/><circle cx="364.4" cy="362.8" r="0.8"/></g><circle cx="359.0" cy="362.0" r="0.8" fill="#b01050"/><circle cx="376.0" cy="366.0" r="0.9" fill="#c81860"/><circle cx="383.0" cy="376.0" r="1.0" fill="#c81860"/><circle cx="388.0" cy="372.0" r="1.0" fill="#b81858"/><circle cx="358.0" cy="381.0" r="0.9" fill="#b01858"/><circle cx="365.0" cy="381.0" r="1.2" fill="#3838c8"/><circle cx="369.0" cy="384.0" r="0.9" fill="#c81860"/><circle cx="376.0" cy="389.0" r="1.1" fill="#c81860"/><circle cx="387.0" cy="384.0" r="0.9" fill="#b01050"/><circle cx="392.0" cy="379.0" r="1.2" fill="#3838c8"/><circle cx="394.0" cy="385.0" r="0.9" fill="#c02060"/><circle cx="355.0" cy="393.0" r="0.9" fill="#c81860"/><circle cx="368.0" cy="396.0" r="0.8" fill="#c81860"/><circle cx="372.0" cy="393.0" r="1.0" fill="#3838c8"/><circle cx="386.0" cy="402.0" r="1.1" fill="#c81860"/><circle cx="398.0" cy="391.0" r="0.8" fill="#b01050"/><circle cx="402.0" cy="373.0" r="0.8" fill="#b01050"/><circle cx="350.0" cy="374.0" r="0.8" fill="#b01050"/><circle cx="397.0" cy="359.0" r="0.8" fill="#b01050"/></g></g>
<text x="5.6" y="496.6" font-size="9.6" font-weight="bold" fill="#222" textLength="13.4" lengthAdjust="spacingAndGlyphs">(C)</text>
<text x="69.5" y="521" font-size="7.2" font-weight="bold" text-anchor="middle" fill="#6a6a6a" textLength="27" lengthAdjust="spacingAndGlyphs">T76-PDC</text>
<line x1="56" y1="522.8" x2="83" y2="522.8" stroke="#6a6a6a" stroke-width="0.7"/>
<text x="28" y="530.4" font-size="7.2" font-weight="bold" fill="#6a6a6a" textLength="81.5" lengthAdjust="spacingAndGlyphs">(endogenous <tspan font-style="italic">RAC1</tspan>-amp)</text>
<line x1="28" y1="532.2" x2="109.5" y2="532.2" stroke="#6a6a6a" stroke-width="0.7"/>
<text x="59" y="544.4" font-size="6.6" font-weight="bold" text-anchor="middle" fill="#222" textLength="26.8" lengthAdjust="spacingAndGlyphs">Scramble</text>
<text x="59" y="553" font-size="6.6" font-weight="bold" text-anchor="middle" fill="#222" textLength="17" lengthAdjust="spacingAndGlyphs">siRNA</text>
<text x="89.5" y="544.4" font-size="6.6" font-weight="bold" text-anchor="middle" fill="#222" font-style="italic" textLength="17" lengthAdjust="spacingAndGlyphs">RAC1</text>
<text x="89.5" y="553" font-size="6.6" font-weight="bold" text-anchor="middle" fill="#222" textLength="17" lengthAdjust="spacingAndGlyphs">siRNA</text>
<defs><linearGradient id="gb1" x1="0" y1="0" x2="1" y2="0"><stop offset="0" stop-color="#8e8e8e"/><stop offset="0.45" stop-color="#a6a6a6"/><stop offset="1" stop-color="#c4c4c4"/></linearGradient><linearGradient id="gb2" x1="0" y1="0" x2="0" y2="1"><stop offset="0" stop-color="#c8c8c8"/><stop offset="1" stop-color="#d8d8d8"/></linearGradient><filter id="blr" x="-20%" y="-50%" width="140%" height="200%"><feGaussianBlur stdDeviation="0.7"/></filter></defs>
<rect x="45.1" y="553.9" width="53.7" height="15.9" fill="url(#gb1)"/>
<rect x="47.2" y="561" width="21.5" height="3.6" rx="1.8" fill="#262626" filter="url(#blr)"/>
<rect x="77" y="561.2" width="19" height="2.2" rx="1.1" fill="#7c7c7c" filter="url(#blr)"/>
<text x="60.4" y="569.4" font-size="6.2" text-anchor="middle" fill="#222">1</text>
<text x="86" y="569.4" font-size="6.2" text-anchor="middle" fill="#222" textLength="12.5" lengthAdjust="spacingAndGlyphs">0 27</text>
<rect x="45.1" y="571.7" width="53.7" height="16.6" fill="url(#gb2)"/>
<rect x="48.9" y="580.6" width="20.4" height="2.8" rx="1.4" fill="#1e1e1e" filter="url(#blr)"/>
<rect x="73.3" y="580.6" width="22.7" height="2.8" rx="1.4" fill="#1e1e1e" filter="url(#blr)"/>
<text x="43" y="565" font-size="6.8" font-weight="bold" text-anchor="end" fill="#222" textLength="13.4" lengthAdjust="spacingAndGlyphs">Rac1</text>
<text x="43.6" y="583" font-size="6.8" font-weight="bold" text-anchor="end" fill="#222" textLength="14.6" lengthAdjust="spacingAndGlyphs">Actin</text>
<line x1="35.2" y1="614" x2="35.2" y2="719" stroke="#333" stroke-width="1"/>
<line x1="31" y1="718.5" x2="35.2" y2="718.5" stroke="#333" stroke-width="0.9"/>
<text x="31" y="720.5" font-size="5.6" font-weight="bold" text-anchor="end" fill="#333" textLength="3.2" lengthAdjust="spacingAndGlyphs">0</text>
<line x1="31" y1="706.89" x2="35.2" y2="706.89" stroke="#333" stroke-width="0.9"/>
<text x="31" y="708.89" font-size="5.6" font-weight="bold" text-anchor="end" fill="#333" textLength="9.6" lengthAdjust="spacingAndGlyphs">500</text>
<line x1="31" y1="695.28" x2="35.2" y2="695.28" stroke="#333" stroke-width="0.9"/>
<text x="31" y="697.28" font-size="5.6" font-weight="bold" text-anchor="end" fill="#333" textLength="12.8" lengthAdjust="spacingAndGlyphs">1000</text>
<line x1="31" y1="683.67" x2="35.2" y2="683.67" stroke="#333" stroke-width="0.9"/>
<text x="31" y="685.67" font-size="5.6" font-weight="bold" text-anchor="end" fill="#333" textLength="12.8" lengthAdjust="spacingAndGlyphs">1500</text>
<line x1="31" y1="672.06" x2="35.2" y2="672.06" stroke="#333" stroke-width="0.9"/>
<text x="31" y="674.06" font-size="5.6" font-weight="bold" text-anchor="end" fill="#333" textLength="12.8" lengthAdjust="spacingAndGlyphs">2000</text>
<line x1="31" y1="660.45" x2="35.2" y2="660.45" stroke="#333" stroke-width="0.9"/>
<text x="31" y="662.45" font-size="5.6" font-weight="bold" text-anchor="end" fill="#333" textLength="12.8" lengthAdjust="spacingAndGlyphs">2500</text>
<line x1="31" y1="648.84" x2="35.2" y2="648.84" stroke="#333" stroke-width="0.9"/>
<text x="31" y="650.84" font-size="5.6" font-weight="bold" text-anchor="end" fill="#333" textLength="12.8" lengthAdjust="spacingAndGlyphs">3000</text>
<line x1="31" y1="637.23" x2="35.2" y2="637.23" stroke="#333" stroke-width="0.9"/>
<text x="31" y="639.23" font-size="5.6" font-weight="bold" text-anchor="end" fill="#333" textLength="12.8" lengthAdjust="spacingAndGlyphs">3500</text>
<line x1="31" y1="625.62" x2="35.2" y2="625.62" stroke="#333" stroke-width="0.9"/>
<text x="31" y="627.62" font-size="5.6" font-weight="bold" text-anchor="end" fill="#333" textLength="12.8" lengthAdjust="spacingAndGlyphs">4000</text>
<line x1="31" y1="614.01" x2="35.2" y2="614.01" stroke="#333" stroke-width="0.9"/>
<text x="31" y="616.01" font-size="5.6" font-weight="bold" text-anchor="end" fill="#333" textLength="12.8" lengthAdjust="spacingAndGlyphs">4500</text>
<line x1="35.2" y1="718.5" x2="109.4" y2="718.5" stroke="#333" stroke-width="1"/>
<line x1="56.6" y1="718.5" x2="56.6" y2="722.5" stroke="#333" stroke-width="0.9"/>
<line x1="88.4" y1="718.5" x2="88.4" y2="722.5" stroke="#333" stroke-width="0.9"/>
<text x="56.6" y="730.6" font-size="7.4" font-weight="bold" text-anchor="middle" fill="#222" textLength="29" lengthAdjust="spacingAndGlyphs">scramble</text>
<text x="88.6" y="730.6" font-size="7.4" font-weight="bold" text-anchor="middle" fill="#222" textLength="23" lengthAdjust="spacingAndGlyphs">siRAC1</text>
<text x="13.2" y="666" font-size="7.4" font-weight="bold" text-anchor="middle" fill="#222" textLength="71.6" lengthAdjust="spacingAndGlyphs" transform="rotate(-90 13.2 666)">IC50 of EHop-016 (nM)</text>
<path d="M60.6,657.2 C60.47,657.67 60.1,659.03 59.8,660 C59.5,660.97 58.58,662 58.8,663 C59.02,664 60.22,665 61.1,666 C61.98,667 63.25,668 64.1,669 C64.95,670 65.92,671.17 66.2,672 C66.48,672.83 66.15,673.4 65.8,674 C65.45,674.6 64.38,675.33 64.1,675.6 L49.1,675.6 C48.82,675.33 47.75,674.6 47.4,674 C47.05,673.4 46.72,672.83 47,672 C47.28,671.17 48.25,670 49.1,669 C49.95,668 51.22,667 52.1,666 C52.98,665 54.18,664 54.4,663 C54.62,662 53.7,660.97 53.4,660 C53.1,659.03 52.73,657.67 52.6,657.2 Z" fill="#fdf0f0" stroke="#ff2020" stroke-width="1.6" stroke-linejoin="round"/>
<line x1="48.9" y1="670" x2="64.3" y2="670" stroke="#ff2020" stroke-width="0.6" stroke-dasharray="1,1"/>
<circle cx="56.6" cy="657.2" r="1" fill="#000"/>
<circle cx="56.6" cy="669.6" r="1" fill="#000"/>
<circle cx="56.6" cy="673" r="1" fill="#000"/>
<circle cx="56.6" cy="675.6" r="1" fill="#000"/>
<path d="M98.4,619.4 C98.37,619.83 98.78,620.9 98.2,622 C97.62,623.1 95.82,624.83 94.9,626 C93.98,627.17 93.07,627.67 92.7,629 C92.33,630.33 92.5,632.17 92.7,634 C92.9,635.83 93.45,638 93.9,640 C94.35,642 95.12,644.33 95.4,646 C95.68,647.67 95.57,649.33 95.6,650 L81.2,650 C81.23,649.33 81.12,647.67 81.4,646 C81.68,644.33 82.45,642 82.9,640 C83.35,638 83.9,635.83 84.1,634 C84.3,632.17 84.47,630.33 84.1,629 C83.73,627.67 82.82,627.17 81.9,626 C80.98,624.83 79.18,623.1 78.6,622 C78.02,620.9 78.43,619.83 78.4,619.4 Z" fill="#c9dcee" stroke="#3b93bd" stroke-width="1.6" stroke-linejoin="round"/>
<line x1="84.6" y1="629.4" x2="92.2" y2="629.4" stroke="#3b93bd" stroke-width="0.6"/>
<circle cx="86.6" cy="619.8" r="1" fill="#000"/>
<circle cx="90.4" cy="619.5" r="1" fill="#000"/>
<circle cx="88.4" cy="638.6" r="1" fill="#000"/>
<circle cx="88.4" cy="650" r="1" fill="#000"/>
<text x="75" y="615" font-size="7.2" fill="#444" textLength="30" lengthAdjust="spacingAndGlyphs">p=0.0034**</text>
<text x="113" y="468.9" font-size="9.6" font-weight="bold" fill="#222" textLength="13.8" lengthAdjust="spacingAndGlyphs">(D)</text>
<line x1="148" y1="484.37" x2="148" y2="599.5" stroke="#000" stroke-width="1.4"/>
<line x1="145.4" y1="598.9" x2="148.4" y2="598.9" stroke="#000" stroke-width="1.1"/>
<text x="145.5" y="601.9" font-size="8.6" font-weight="bold" text-anchor="end" textLength="12" lengthAdjust="spacingAndGlyphs">0.0</text>
<line x1="145.4" y1="590.09" x2="148.4" y2="590.09" stroke="#000" stroke-width="1.1"/>
<text x="145.5" y="593.09" font-size="8.6" font-weight="bold" text-anchor="end" textLength="12" lengthAdjust="spacingAndGlyphs">0.5</text>
<line x1="145.4" y1="581.28" x2="148.4" y2="581.28" stroke="#000" stroke-width="1.1"/>
<text x="145.5" y="584.28" font-size="8.6" font-weight="bold" text-anchor="end" textLength="12" lengthAdjust="spacingAndGlyphs">1.0</text>
<line x1="145.4" y1="572.47" x2="148.4" y2="572.47" stroke="#000" stroke-width="1.1"/>
<text x="145.5" y="575.47" font-size="8.6" font-weight="bold" text-anchor="end" textLength="12" lengthAdjust="spacingAndGlyphs">1.5</text>
<line x1="145.4" y1="563.66" x2="148.4" y2="563.66" stroke="#000" stroke-width="1.1"/>
<text x="145.5" y="566.66" font-size="8.6" font-weight="bold" text-anchor="end" textLength="12" lengthAdjust="spacingAndGlyphs">2.0</text>
<line x1="145.4" y1="554.85" x2="148.4" y2="554.85" stroke="#000" stroke-width="1.1"/>
<text x="145.5" y="557.85" font-size="8.6" font-weight="bold" text-anchor="end" textLength="12" lengthAdjust="spacingAndGlyphs">2.5</text>
<line x1="145.4" y1="546.04" x2="148.4" y2="546.04" stroke="#000" stroke-width="1.1"/>
<text x="145.5" y="549.04" font-size="8.6" font-weight="bold" text-anchor="end" textLength="12" lengthAdjust="spacingAndGlyphs">3.0</text>
<line x1="145.4" y1="537.23" x2="148.4" y2="537.23" stroke="#000" stroke-width="1.1"/>
<text x="145.5" y="540.23" font-size="8.6" font-weight="bold" text-anchor="end" textLength="12" lengthAdjust="spacingAndGlyphs">3.5</text>
<line x1="145.4" y1="528.42" x2="148.4" y2="528.42" stroke="#000" stroke-width="1.1"/>
<text x="145.5" y="531.42" font-size="8.6" font-weight="bold" text-anchor="end" textLength="12" lengthAdjust="spacingAndGlyphs">4.0</text>
<line x1="145.4" y1="519.61" x2="148.4" y2="519.61" stroke="#000" stroke-width="1.1"/>
<text x="145.5" y="522.61" font-size="8.6" font-weight="bold" text-anchor="end" textLength="12" lengthAdjust="spacingAndGlyphs">4.5</text>
<line x1="145.4" y1="510.8" x2="148.4" y2="510.8" stroke="#000" stroke-width="1.1"/>
<text x="145.5" y="513.8" font-size="8.6" font-weight="bold" text-anchor="end" textLength="12" lengthAdjust="spacingAndGlyphs">5.0</text>
<line x1="145.4" y1="501.99" x2="148.4" y2="501.99" stroke="#000" stroke-width="1.1"/>
<text x="145.5" y="504.99" font-size="8.6" font-weight="bold" text-anchor="end" textLength="12" lengthAdjust="spacingAndGlyphs">5.5</text>
<line x1="145.4" y1="493.18" x2="148.4" y2="493.18" stroke="#000" stroke-width="1.1"/>
<text x="145.5" y="496.18" font-size="8.6" font-weight="bold" text-anchor="end" textLength="12" lengthAdjust="spacingAndGlyphs">6.0</text>
<line x1="145.4" y1="484.37" x2="148.4" y2="484.37" stroke="#000" stroke-width="1.1"/>
<text x="145.5" y="487.37" font-size="8.6" font-weight="bold" text-anchor="end" textLength="12" lengthAdjust="spacingAndGlyphs">6.5</text>
<line x1="148" y1="598.9" x2="306.3" y2="598.9" stroke="#000" stroke-width="1.4"/>
<line x1="148.4" y1="598.9" x2="148.4" y2="601.3" stroke="#000" stroke-width="1.1"/>
<text x="148.4" y="610.3" font-size="8.6" font-weight="bold" text-anchor="middle" fill="#1a1a1a" textLength="4.32" lengthAdjust="spacingAndGlyphs">0</text>
<line x1="168.04" y1="598.9" x2="168.04" y2="601.3" stroke="#000" stroke-width="1.1"/>
<text x="168.04" y="610.3" font-size="8.6" font-weight="bold" text-anchor="middle" fill="#1a1a1a" textLength="4.32" lengthAdjust="spacingAndGlyphs">2</text>
<line x1="187.68" y1="598.9" x2="187.68" y2="601.3" stroke="#000" stroke-width="1.1"/>
<text x="187.68" y="610.3" font-size="8.6" font-weight="bold" text-anchor="middle" fill="#1a1a1a" textLength="4.32" lengthAdjust="spacingAndGlyphs">4</text>
<line x1="207.32" y1="598.9" x2="207.32" y2="601.3" stroke="#000" stroke-width="1.1"/>
<text x="207.32" y="610.3" font-size="8.6" font-weight="bold" text-anchor="middle" fill="#1a1a1a" textLength="4.32" lengthAdjust="spacingAndGlyphs">6</text>
<line x1="226.96" y1="598.9" x2="226.96" y2="601.3" stroke="#000" stroke-width="1.1"/>
<text x="226.96" y="610.3" font-size="8.6" font-weight="bold" text-anchor="middle" fill="#1a1a1a" textLength="4.32" lengthAdjust="spacingAndGlyphs">8</text>
<line x1="246.6" y1="598.9" x2="246.6" y2="601.3" stroke="#000" stroke-width="1.1"/>
<text x="246.6" y="610.3" font-size="8.6" font-weight="bold" text-anchor="middle" fill="#1a1a1a" textLength="8.64" lengthAdjust="spacingAndGlyphs">10</text>
<line x1="266.24" y1="598.9" x2="266.24" y2="601.3" stroke="#000" stroke-width="1.1"/>
<text x="266.24" y="610.3" font-size="8.6" font-weight="bold" text-anchor="middle" fill="#1a1a1a" textLength="8.64" lengthAdjust="spacingAndGlyphs">12</text>
<line x1="285.88" y1="598.9" x2="285.88" y2="601.3" stroke="#000" stroke-width="1.1"/>
<text x="285.88" y="610.3" font-size="8.6" font-weight="bold" text-anchor="middle" fill="#1a1a1a" textLength="8.64" lengthAdjust="spacingAndGlyphs">14</text>
<line x1="305.52" y1="598.9" x2="305.52" y2="601.3" stroke="#000" stroke-width="1.1"/>
<text x="305.52" y="610.3" font-size="8.6" font-weight="bold" text-anchor="middle" fill="#1a1a1a" textLength="8.64" lengthAdjust="spacingAndGlyphs">16</text>
<text x="310.6" y="610" font-size="8.17" textLength="11.5" lengthAdjust="spacingAndGlyphs" stroke="#000" stroke-width="0.25">(d)</text>
<path d="M148.4,611 l-2.3,4.3 h1.7 v2.6 h1.2 v-2.6 h1.7 z" fill="#6e6e6e"/>
<path d="M168.04,611 l-2.3,4.3 h1.7 v2.6 h1.2 v-2.6 h1.7 z" fill="#6e6e6e"/>
<path d="M207.32,611 l-2.3,4.3 h1.7 v2.6 h1.2 v-2.6 h1.7 z" fill="#6e6e6e"/>
<path d="M226.96,611 l-2.3,4.3 h1.7 v2.6 h1.2 v-2.6 h1.7 z" fill="#6e6e6e"/>
<path d="M246.6,611 l-2.3,4.3 h1.7 v2.6 h1.2 v-2.6 h1.7 z" fill="#6e6e6e"/>
<path d="M276.06,611 l-2.3,4.3 h1.7 v2.6 h1.2 v-2.6 h1.7 z" fill="#6e6e6e"/>
<path d="M295.7,611 l-2.3,4.3 h1.7 v2.6 h1.2 v-2.6 h1.7 z" fill="#6e6e6e"/>
<line x1="168.04" y1="574.2" x2="168.04" y2="577" stroke="#333" stroke-width="0.8"/>
<line x1="166.44" y1="574.2" x2="169.64" y2="574.2" stroke="#333" stroke-width="0.8"/>
<line x1="166.44" y1="577" x2="169.64" y2="577" stroke="#333" stroke-width="0.8"/>
<line x1="207.32" y1="554" x2="207.32" y2="564.3" stroke="#333" stroke-width="0.8"/>
<line x1="205.72" y1="554" x2="208.92" y2="554" stroke="#333" stroke-width="0.8"/>
<line x1="205.72" y1="564.3" x2="208.92" y2="564.3" stroke="#333" stroke-width="0.8"/>
<line x1="226.96" y1="543.5" x2="226.96" y2="555.8" stroke="#333" stroke-width="0.8"/>
<line x1="225.36" y1="543.5" x2="228.56" y2="543.5" stroke="#333" stroke-width="0.8"/>
<line x1="225.36" y1="555.8" x2="228.56" y2="555.8" stroke="#333" stroke-width="0.8"/>
<line x1="236.78" y1="537.6" x2="236.78" y2="552.9" stroke="#333" stroke-width="0.8"/>
<line x1="235.18" y1="537.6" x2="238.38" y2="537.6" stroke="#333" stroke-width="0.8"/>
<line x1="235.18" y1="552.9" x2="238.38" y2="552.9" stroke="#333" stroke-width="0.8"/>
<line x1="246.6" y1="533.3" x2="246.6" y2="546.4" stroke="#333" stroke-width="0.8"/>
<line x1="245" y1="533.3" x2="248.2" y2="533.3" stroke="#333" stroke-width="0.8"/>
<line x1="245" y1="546.4" x2="248.2" y2="546.4" stroke="#333" stroke-width="0.8"/>
<line x1="276.06" y1="521.3" x2="276.06" y2="540.5" stroke="#333" stroke-width="0.8"/>
<line x1="274.46" y1="521.3" x2="277.66" y2="521.3" stroke="#333" stroke-width="0.8"/>
<line x1="274.46" y1="540.5" x2="277.66" y2="540.5" stroke="#333" stroke-width="0.8"/>
<line x1="285.88" y1="510.4" x2="285.88" y2="534.4" stroke="#333" stroke-width="0.8"/>
<line x1="284.28" y1="510.4" x2="287.48" y2="510.4" stroke="#333" stroke-width="0.8"/>
<line x1="284.28" y1="534.4" x2="287.48" y2="534.4" stroke="#333" stroke-width="0.8"/>
<line x1="295.7" y1="503.4" x2="295.7" y2="530" stroke="#333" stroke-width="0.8"/>
<line x1="294.1" y1="503.4" x2="297.3" y2="503.4" stroke="#333" stroke-width="0.8"/>
<line x1="294.1" y1="530" x2="297.3" y2="530" stroke="#333" stroke-width="0.8"/>
<line x1="305.52" y1="490" x2="305.52" y2="523" stroke="#333" stroke-width="0.8"/>
<line x1="303.92" y1="490" x2="307.12" y2="490" stroke="#333" stroke-width="0.8"/>
<line x1="303.92" y1="523" x2="307.12" y2="523" stroke="#333" stroke-width="0.8"/>
<line x1="207.32" y1="570.8" x2="207.32" y2="578" stroke="#f02020" stroke-width="0.8"/>
<line x1="205.72" y1="570.8" x2="208.92" y2="570.8" stroke="#f02020" stroke-width="0.8"/>
<line x1="205.72" y1="578" x2="208.92" y2="578" stroke="#f02020" stroke-width="0.8"/>
<line x1="226.96" y1="565" x2="226.96" y2="574.3" stroke="#f02020" stroke-width="0.8"/>
<line x1="225.36" y1="565" x2="228.56" y2="565" stroke="#f02020" stroke-width="0.8"/>
<line x1="225.36" y1="574.3" x2="228.56" y2="574.3" stroke="#f02020" stroke-width="0.8"/>
<line x1="236.78" y1="564.5" x2="236.78" y2="575.4" stroke="#f02020" stroke-width="0.8"/>
<line x1="235.18" y1="564.5" x2="238.38" y2="564.5" stroke="#f02020" stroke-width="0.8"/>
<line x1="235.18" y1="575.4" x2="238.38" y2="575.4" stroke="#f02020" stroke-width="0.8"/>
<line x1="246.6" y1="561.6" x2="246.6" y2="574.3" stroke="#f02020" stroke-width="0.8"/>
<line x1="245" y1="561.6" x2="248.2" y2="561.6" stroke="#f02020" stroke-width="0.8"/>
<line x1="245" y1="574.3" x2="248.2" y2="574.3" stroke="#f02020" stroke-width="0.8"/>
<line x1="276.06" y1="563.2" x2="276.06" y2="572.6" stroke="#f02020" stroke-width="0.8"/>
<line x1="274.46" y1="563.2" x2="277.66" y2="563.2" stroke="#f02020" stroke-width="0.8"/>
<line x1="274.46" y1="572.6" x2="277.66" y2="572.6" stroke="#f02020" stroke-width="0.8"/>
<line x1="285.88" y1="556.8" x2="285.88" y2="567.5" stroke="#f02020" stroke-width="0.8"/>
<line x1="284.28" y1="556.8" x2="287.48" y2="556.8" stroke="#f02020" stroke-width="0.8"/>
<line x1="284.28" y1="567.5" x2="287.48" y2="567.5" stroke="#f02020" stroke-width="0.8"/>
<line x1="295.7" y1="556.8" x2="295.7" y2="568.2" stroke="#f02020" stroke-width="0.8"/>
<line x1="294.1" y1="556.8" x2="297.3" y2="556.8" stroke="#f02020" stroke-width="0.8"/>
<line x1="294.1" y1="568.2" x2="297.3" y2="568.2" stroke="#f02020" stroke-width="0.8"/>
<line x1="305.52" y1="555.1" x2="305.52" y2="568.2" stroke="#f02020" stroke-width="0.8"/>
<line x1="303.92" y1="555.1" x2="307.12" y2="555.1" stroke="#f02020" stroke-width="0.8"/>
<line x1="303.92" y1="568.2" x2="307.12" y2="568.2" stroke="#f02020" stroke-width="0.8"/>
<polyline points="148.4,581.3 168.0,575.6 207.3,559.5 227.0,549.7 236.8,545.3 246.6,539.4 276.1,531.1 285.9,522.4 295.7,516.5 305.5,506.7" fill="none" stroke="#333" stroke-width="0.8"/>
<polyline points="148.4,581.3 168.0,580.0 207.3,574.3 227.0,570.0 236.8,570.4 246.6,568.2 276.1,568.2 285.9,563.2 295.7,562.7 305.5,562.0" fill="none" stroke="#f02020" stroke-width="0.8"/>
<path d="M148.4,579.3 L150.3,582.7 L146.5,582.7 Z" fill="#f02020"/>
<path d="M168.0,578.0 L169.9,581.4 L166.1,581.4 Z" fill="#f02020"/>
<path d="M207.3,572.3 L209.2,575.7 L205.4,575.7 Z" fill="#f02020"/>
<path d="M227.0,568.0 L228.9,571.4 L225.1,571.4 Z" fill="#f02020"/>
<path d="M236.8,568.4 L238.7,571.8 L234.9,571.8 Z" fill="#f02020"/>
<path d="M246.6,566.2 L248.5,569.6 L244.7,569.6 Z" fill="#f02020"/>
<path d="M276.1,566.2 L278.0,569.6 L274.2,569.6 Z" fill="#f02020"/>
<path d="M285.9,561.2 L287.8,564.6 L284.0,564.6 Z" fill="#f02020"/>
<path d="M295.7,560.7 L297.6,564.1 L293.8,564.1 Z" fill="#f02020"/>
<path d="M305.5,560.0 L307.4,563.4 L303.6,563.4 Z" fill="#f02020"/>
<circle cx="148.4" cy="581.3" r="1.75" fill="#000"/>
<circle cx="168.04" cy="575.6" r="1.75" fill="#000"/>
<circle cx="207.32" cy="559.5" r="1.75" fill="#000"/>
<circle cx="226.96" cy="549.7" r="1.75" fill="#000"/>
<circle cx="236.78" cy="545.3" r="1.75" fill="#000"/>
<circle cx="246.6" cy="539.4" r="1.75" fill="#000"/>
<circle cx="276.06" cy="531.1" r="1.75" fill="#000"/>
<circle cx="285.88" cy="522.4" r="1.75" fill="#000"/>
<circle cx="295.7" cy="516.5" r="1.75" fill="#000"/>
<circle cx="305.52" cy="506.7" r="1.75" fill="#000"/>
<text x="207.32" y="585" font-size="7" text-anchor="middle" fill="#f02020">*</text>
<text x="226.96" y="580.5" font-size="7" text-anchor="middle" fill="#f02020">**</text>
<text x="236.78" y="582.7" font-size="7" text-anchor="middle" fill="#f02020">**</text>
<text x="246.6" y="580.5" font-size="7" text-anchor="middle" fill="#f02020">**</text>
<text x="276.06" y="579.5" font-size="7" text-anchor="middle" fill="#f02020">**</text>
<text x="285.88" y="574" font-size="7" text-anchor="middle" fill="#f02020">*</text>
<text x="295.7" y="574" font-size="7" text-anchor="middle" fill="#f02020">**</text>
<text x="305.52" y="574" font-size="7" text-anchor="middle" fill="#f02020">**</text>
<text x="128.1" y="540.5" font-size="8.3" font-weight="bold" text-anchor="middle" textLength="97.3" lengthAdjust="spacingAndGlyphs" transform="rotate(-90 128.1 540.5)" stroke="#000" stroke-width="0.2">Fractional Tumor Volume</text>
<text x="189.4" y="485.6" font-size="8.2" font-weight="bold" textLength="96" lengthAdjust="spacingAndGlyphs">T76-PDX (<tspan font-style="italic">RAC1</tspan>-WT amp)</text>
<line x1="189.4" y1="487.7" x2="285.5" y2="487.7" stroke="#000" stroke-width="0.8"/>
<line x1="156" y1="497.1" x2="167.4" y2="497.1" stroke="#000" stroke-width="0.9"/>
<circle cx="161.7" cy="497.1" r="1.7" fill="#000"/>
<text x="172.1" y="500.4" font-size="8.7" font-weight="bold" textLength="15.4" lengthAdjust="spacingAndGlyphs">Veh</text>
<line x1="156" y1="508.5" x2="167.4" y2="508.5" stroke="#f02020" stroke-width="0.9"/>
<path d="M161.7,506.6 L163.4,509.6 L160,509.6 Z" fill="#f02020"/>
<text x="172.1" y="511.4" font-size="8.7" font-weight="bold" textLength="77.6" lengthAdjust="spacingAndGlyphs">EHop-016 (10mg/kg)</text>
<line x1="358.9" y1="492.1" x2="358.9" y2="597.1" stroke="#000" stroke-width="1.4"/>
<line x1="356.3" y1="596.5" x2="359.3" y2="596.5" stroke="#000" stroke-width="1.1"/>
<text x="356.4" y="599.5" font-size="9" font-weight="bold" text-anchor="end" textLength="11.3" lengthAdjust="spacingAndGlyphs">0.0</text>
<line x1="356.3" y1="579.1" x2="359.3" y2="579.1" stroke="#000" stroke-width="1.1"/>
<text x="356.4" y="582.1" font-size="9" font-weight="bold" text-anchor="end" textLength="11.3" lengthAdjust="spacingAndGlyphs">0.5</text>
<line x1="356.3" y1="561.7" x2="359.3" y2="561.7" stroke="#000" stroke-width="1.1"/>
<text x="356.4" y="564.7" font-size="9" font-weight="bold" text-anchor="end" textLength="11.3" lengthAdjust="spacingAndGlyphs">1.0</text>
<line x1="356.3" y1="544.3" x2="359.3" y2="544.3" stroke="#000" stroke-width="1.1"/>
<text x="356.4" y="547.3" font-size="9" font-weight="bold" text-anchor="end" textLength="11.3" lengthAdjust="spacingAndGlyphs">1.5</text>
<line x1="356.3" y1="526.9" x2="359.3" y2="526.9" stroke="#000" stroke-width="1.1"/>
<text x="356.4" y="529.9" font-size="9" font-weight="bold" text-anchor="end" textLength="11.3" lengthAdjust="spacingAndGlyphs">2.0</text>
<line x1="356.3" y1="509.5" x2="359.3" y2="509.5" stroke="#000" stroke-width="1.1"/>
<text x="356.4" y="512.5" font-size="9" font-weight="bold" text-anchor="end" textLength="11.3" lengthAdjust="spacingAndGlyphs">2.5</text>
<line x1="356.3" y1="492.1" x2="359.3" y2="492.1" stroke="#000" stroke-width="1.1"/>
<text x="356.4" y="495.1" font-size="9" font-weight="bold" text-anchor="end" textLength="11.3" lengthAdjust="spacingAndGlyphs">3.0</text>
<line x1="358.9" y1="596.5" x2="531.8" y2="596.5" stroke="#000" stroke-width="1.4"/>
<line x1="359.3" y1="596.5" x2="359.3" y2="598.9" stroke="#000" stroke-width="1.1"/>
<text x="359.3" y="608.8" font-size="9" font-weight="bold" text-anchor="middle" fill="#1a1a1a" textLength="4.07" lengthAdjust="spacingAndGlyphs">0</text>
<line x1="380.76" y1="596.5" x2="380.76" y2="598.9" stroke="#000" stroke-width="1.1"/>
<text x="380.76" y="608.8" font-size="9" font-weight="bold" text-anchor="middle" fill="#1a1a1a" textLength="4.07" lengthAdjust="spacingAndGlyphs">2</text>
<line x1="402.22" y1="596.5" x2="402.22" y2="598.9" stroke="#000" stroke-width="1.1"/>
<text x="402.22" y="608.8" font-size="9" font-weight="bold" text-anchor="middle" fill="#1a1a1a" textLength="4.07" lengthAdjust="spacingAndGlyphs">4</text>
<line x1="423.68" y1="596.5" x2="423.68" y2="598.9" stroke="#000" stroke-width="1.1"/>
<text x="423.68" y="608.8" font-size="9" font-weight="bold" text-anchor="middle" fill="#1a1a1a" textLength="4.07" lengthAdjust="spacingAndGlyphs">6</text>
<line x1="445.14" y1="596.5" x2="445.14" y2="598.9" stroke="#000" stroke-width="1.1"/>
<text x="445.14" y="608.8" font-size="9" font-weight="bold" text-anchor="middle" fill="#1a1a1a" textLength="4.07" lengthAdjust="spacingAndGlyphs">8</text>
<line x1="466.6" y1="596.5" x2="466.6" y2="598.9" stroke="#000" stroke-width="1.1"/>
<text x="466.6" y="608.8" font-size="9" font-weight="bold" text-anchor="middle" fill="#1a1a1a" textLength="8.14" lengthAdjust="spacingAndGlyphs">10</text>
<line x1="488.06" y1="596.5" x2="488.06" y2="598.9" stroke="#000" stroke-width="1.1"/>
<text x="488.06" y="608.8" font-size="9" font-weight="bold" text-anchor="middle" fill="#1a1a1a" textLength="8.14" lengthAdjust="spacingAndGlyphs">12</text>
<line x1="509.52" y1="596.5" x2="509.52" y2="598.9" stroke="#000" stroke-width="1.1"/>
<text x="509.52" y="608.8" font-size="9" font-weight="bold" text-anchor="middle" fill="#1a1a1a" textLength="8.14" lengthAdjust="spacingAndGlyphs">14</text>
<line x1="530.98" y1="596.5" x2="530.98" y2="598.9" stroke="#000" stroke-width="1.1"/>
<text x="530.98" y="608.8" font-size="9" font-weight="bold" text-anchor="middle" fill="#1a1a1a" textLength="8.14" lengthAdjust="spacingAndGlyphs">16</text>
<text x="536.3" y="608.5" font-size="8.55" textLength="11.5" lengthAdjust="spacingAndGlyphs" stroke="#000" stroke-width="0.25">(d)</text>
<path d="M359.3,609.6 l-2.3,4.3 h1.7 v2.6 h1.2 v-2.6 h1.7 z" fill="#6e6e6e"/>
<path d="M380.76,609.6 l-2.3,4.3 h1.7 v2.6 h1.2 v-2.6 h1.7 z" fill="#6e6e6e"/>
<path d="M423.68,609.6 l-2.3,4.3 h1.7 v2.6 h1.2 v-2.6 h1.7 z" fill="#6e6e6e"/>
<path d="M445.14,609.6 l-2.3,4.3 h1.7 v2.6 h1.2 v-2.6 h1.7 z" fill="#6e6e6e"/>
<path d="M466.6,609.6 l-2.3,4.3 h1.7 v2.6 h1.2 v-2.6 h1.7 z" fill="#6e6e6e"/>
<path d="M498.79,609.6 l-2.3,4.3 h1.7 v2.6 h1.2 v-2.6 h1.7 z" fill="#6e6e6e"/>
<path d="M520.25,609.6 l-2.3,4.3 h1.7 v2.6 h1.2 v-2.6 h1.7 z" fill="#6e6e6e"/>
<line x1="380.76" y1="558.3" x2="380.76" y2="560.7" stroke="#333" stroke-width="0.8"/>
<line x1="379.16" y1="558.3" x2="382.36" y2="558.3" stroke="#333" stroke-width="0.8"/>
<line x1="379.16" y1="560.7" x2="382.36" y2="560.7" stroke="#333" stroke-width="0.8"/>
<line x1="423.68" y1="549.5" x2="423.68" y2="554" stroke="#333" stroke-width="0.8"/>
<line x1="422.08" y1="549.5" x2="425.28" y2="549.5" stroke="#333" stroke-width="0.8"/>
<line x1="422.08" y1="554" x2="425.28" y2="554" stroke="#333" stroke-width="0.8"/>
<line x1="434.41" y1="541.4" x2="434.41" y2="548.5" stroke="#333" stroke-width="0.8"/>
<line x1="432.81" y1="541.4" x2="436.01" y2="541.4" stroke="#333" stroke-width="0.8"/>
<line x1="432.81" y1="548.5" x2="436.01" y2="548.5" stroke="#333" stroke-width="0.8"/>
<line x1="445.14" y1="533.3" x2="445.14" y2="546.8" stroke="#333" stroke-width="0.8"/>
<line x1="443.54" y1="533.3" x2="446.74" y2="533.3" stroke="#333" stroke-width="0.8"/>
<line x1="443.54" y1="546.8" x2="446.74" y2="546.8" stroke="#333" stroke-width="0.8"/>
<line x1="455.87" y1="531.5" x2="455.87" y2="540.9" stroke="#333" stroke-width="0.8"/>
<line x1="454.27" y1="531.5" x2="457.47" y2="531.5" stroke="#333" stroke-width="0.8"/>
<line x1="454.27" y1="540.9" x2="457.47" y2="540.9" stroke="#333" stroke-width="0.8"/>
<line x1="466.6" y1="523.2" x2="466.6" y2="544.4" stroke="#333" stroke-width="0.8"/>
<line x1="465" y1="523.2" x2="468.2" y2="523.2" stroke="#333" stroke-width="0.8"/>
<line x1="465" y1="544.4" x2="468.2" y2="544.4" stroke="#333" stroke-width="0.8"/>
<line x1="498.79" y1="518.5" x2="498.79" y2="536.6" stroke="#333" stroke-width="0.8"/>
<line x1="497.19" y1="518.5" x2="500.39" y2="518.5" stroke="#333" stroke-width="0.8"/>
<line x1="497.19" y1="536.6" x2="500.39" y2="536.6" stroke="#333" stroke-width="0.8"/>
<line x1="509.52" y1="514.9" x2="509.52" y2="531.9" stroke="#333" stroke-width="0.8"/>
<line x1="507.92" y1="514.9" x2="511.12" y2="514.9" stroke="#333" stroke-width="0.8"/>
<line x1="507.92" y1="531.9" x2="511.12" y2="531.9" stroke="#333" stroke-width="0.8"/>
<line x1="520.25" y1="508.3" x2="520.25" y2="531" stroke="#333" stroke-width="0.8"/>
<line x1="518.65" y1="508.3" x2="521.85" y2="508.3" stroke="#333" stroke-width="0.8"/>
<line x1="518.65" y1="531" x2="521.85" y2="531" stroke="#333" stroke-width="0.8"/>
<line x1="530.98" y1="500.3" x2="530.98" y2="520.8" stroke="#333" stroke-width="0.8"/>
<line x1="529.38" y1="500.3" x2="532.58" y2="500.3" stroke="#333" stroke-width="0.8"/>
<line x1="529.38" y1="520.8" x2="532.58" y2="520.8" stroke="#333" stroke-width="0.8"/>
<line x1="434.41" y1="548.8" x2="434.41" y2="552" stroke="#f02020" stroke-width="0.8"/>
<line x1="432.81" y1="548.8" x2="436.01" y2="548.8" stroke="#f02020" stroke-width="0.8"/>
<line x1="432.81" y1="552" x2="436.01" y2="552" stroke="#f02020" stroke-width="0.8"/>
<line x1="445.14" y1="548.8" x2="445.14" y2="552" stroke="#f02020" stroke-width="0.8"/>
<line x1="443.54" y1="548.8" x2="446.74" y2="548.8" stroke="#f02020" stroke-width="0.8"/>
<line x1="443.54" y1="552" x2="446.74" y2="552" stroke="#f02020" stroke-width="0.8"/>
<line x1="455.87" y1="543.5" x2="455.87" y2="548" stroke="#f02020" stroke-width="0.8"/>
<line x1="454.27" y1="543.5" x2="457.47" y2="543.5" stroke="#f02020" stroke-width="0.8"/>
<line x1="454.27" y1="548" x2="457.47" y2="548" stroke="#f02020" stroke-width="0.8"/>
<line x1="466.6" y1="539.5" x2="466.6" y2="545" stroke="#f02020" stroke-width="0.8"/>
<line x1="465" y1="539.5" x2="468.2" y2="539.5" stroke="#f02020" stroke-width="0.8"/>
<line x1="465" y1="545" x2="468.2" y2="545" stroke="#f02020" stroke-width="0.8"/>
<line x1="498.79" y1="524.8" x2="498.79" y2="532.6" stroke="#f02020" stroke-width="0.8"/>
<line x1="497.19" y1="524.8" x2="500.39" y2="524.8" stroke="#f02020" stroke-width="0.8"/>
<line x1="497.19" y1="532.6" x2="500.39" y2="532.6" stroke="#f02020" stroke-width="0.8"/>
<line x1="509.52" y1="523.5" x2="509.52" y2="530" stroke="#f02020" stroke-width="0.8"/>
<line x1="507.92" y1="523.5" x2="511.12" y2="523.5" stroke="#f02020" stroke-width="0.8"/>
<line x1="507.92" y1="530" x2="511.12" y2="530" stroke="#f02020" stroke-width="0.8"/>
<line x1="520.25" y1="519.5" x2="520.25" y2="527" stroke="#f02020" stroke-width="0.8"/>
<line x1="518.65" y1="519.5" x2="521.85" y2="519.5" stroke="#f02020" stroke-width="0.8"/>
<line x1="518.65" y1="527" x2="521.85" y2="527" stroke="#f02020" stroke-width="0.8"/>
<line x1="530.98" y1="517.3" x2="530.98" y2="528.6" stroke="#f02020" stroke-width="0.8"/>
<line x1="529.38" y1="517.3" x2="532.58" y2="517.3" stroke="#f02020" stroke-width="0.8"/>
<line x1="529.38" y1="528.6" x2="532.58" y2="528.6" stroke="#f02020" stroke-width="0.8"/>
<polyline points="359.3,561.6 380.8,559.5 423.7,551.8 434.4,545.0 445.1,540.2 455.9,537.4 466.6,533.8 498.8,527.4 509.5,523.2 520.2,519.6 531.0,510.7" fill="none" stroke="#333" stroke-width="0.8"/>
<polyline points="359.3,561.6 380.8,560.0 423.7,553.6 434.4,550.4 445.1,550.4 455.9,545.6 466.6,542.1 498.8,528.6 509.5,526.7 520.2,523.2 531.0,521.5" fill="none" stroke="#f02020" stroke-width="0.8"/>
<path d="M359.3,559.6 L361.2,563.0 L357.4,563.0 Z" fill="#f02020"/>
<path d="M380.8,558.0 L382.7,561.4 L378.9,561.4 Z" fill="#f02020"/>
<path d="M423.7,551.6 L425.6,555.0 L421.8,555.0 Z" fill="#f02020"/>
<path d="M434.4,548.4 L436.3,551.8 L432.5,551.8 Z" fill="#f02020"/>
<path d="M445.1,548.4 L447.0,551.8 L443.2,551.8 Z" fill="#f02020"/>
<path d="M455.9,543.6 L457.8,547.0 L454.0,547.0 Z" fill="#f02020"/>
<path d="M466.6,540.1 L468.5,543.5 L464.7,543.5 Z" fill="#f02020"/>
<path d="M498.8,526.6 L500.7,530.0 L496.9,530.0 Z" fill="#f02020"/>
<path d="M509.5,524.7 L511.4,528.1 L507.6,528.1 Z" fill="#f02020"/>
<path d="M520.2,521.2 L522.1,524.6 L518.4,524.6 Z" fill="#f02020"/>
<path d="M531.0,519.5 L532.9,522.9 L529.1,522.9 Z" fill="#f02020"/>
<circle cx="359.3" cy="561.6" r="1.75" fill="#000"/>
<circle cx="380.76" cy="559.5" r="1.75" fill="#000"/>
<circle cx="423.68" cy="551.8" r="1.75" fill="#000"/>
<circle cx="434.41" cy="545" r="1.75" fill="#000"/>
<circle cx="445.14" cy="540.2" r="1.75" fill="#000"/>
<circle cx="455.87" cy="537.4" r="1.75" fill="#000"/>
<circle cx="466.6" cy="533.8" r="1.75" fill="#000"/>
<circle cx="498.79" cy="527.4" r="1.75" fill="#000"/>
<circle cx="509.52" cy="523.2" r="1.75" fill="#000"/>
<circle cx="520.25" cy="519.6" r="1.75" fill="#000"/>
<circle cx="530.98" cy="510.7" r="1.75" fill="#000"/>
<text x="336.4" y="544" font-size="8.8" font-weight="bold" text-anchor="middle" textLength="105" lengthAdjust="spacingAndGlyphs" transform="rotate(-90 336.4 544)" stroke="#000" stroke-width="0.2">Fractional Tumor Volume</text>
<text x="403.6" y="484.8" font-size="8.8" font-weight="bold" textLength="94" lengthAdjust="spacingAndGlyphs">QM42-PDX (<tspan font-style="italic">RAC1</tspan>-WT)</text>
<line x1="403.6" y1="487" x2="497.5" y2="487" stroke="#000" stroke-width="0.8"/>
<line x1="368" y1="497.3" x2="380" y2="497.3" stroke="#000" stroke-width="0.9"/>
<circle cx="374" cy="497.3" r="1.8" fill="#000"/>
<text x="385.5" y="500.7" font-size="9.2" font-weight="bold" textLength="16.5" lengthAdjust="spacingAndGlyphs">Veh</text>
<line x1="368" y1="509.3" x2="380" y2="509.3" stroke="#f02020" stroke-width="0.9"/>
<path d="M374,507.3 L375.8,510.4 L372.2,510.4 Z" fill="#f02020"/>
<text x="385.5" y="512.7" font-size="9.2" font-weight="bold" textLength="84" lengthAdjust="spacingAndGlyphs">EHop-016 (10mg/kg)</text>
<line x1="185.5" y1="631.2" x2="185.5" y2="724.4" stroke="#000" stroke-width="1.3"/>
<line x1="182.2" y1="723.8" x2="185.5" y2="723.8" stroke="#000" stroke-width="1.1"/>
<text x="181.3" y="726.8" font-size="8.6" font-weight="bold" text-anchor="end" fill="#222" textLength="3.6" lengthAdjust="spacingAndGlyphs">0</text>
<line x1="182.2" y1="705.4" x2="185.5" y2="705.4" stroke="#000" stroke-width="1.1"/>
<text x="181.3" y="708.4" font-size="8.6" font-weight="bold" text-anchor="end" fill="#222" textLength="3.6" lengthAdjust="spacingAndGlyphs">2</text>
<line x1="182.2" y1="687" x2="185.5" y2="687" stroke="#000" stroke-width="1.1"/>
<text x="181.3" y="690" font-size="8.6" font-weight="bold" text-anchor="end" fill="#222" textLength="3.6" lengthAdjust="spacingAndGlyphs">4</text>
<line x1="182.2" y1="668.6" x2="185.5" y2="668.6" stroke="#000" stroke-width="1.1"/>
<text x="181.3" y="671.6" font-size="8.6" font-weight="bold" text-anchor="end" fill="#222" textLength="3.6" lengthAdjust="spacingAndGlyphs">6</text>
<line x1="182.2" y1="650.2" x2="185.5" y2="650.2" stroke="#000" stroke-width="1.1"/>
<text x="181.3" y="653.2" font-size="8.6" font-weight="bold" text-anchor="end" fill="#222" textLength="3.6" lengthAdjust="spacingAndGlyphs">8</text>
<line x1="182.2" y1="631.8" x2="185.5" y2="631.8" stroke="#000" stroke-width="1.1"/>
<text x="181.3" y="634.8" font-size="8.6" font-weight="bold" text-anchor="end" fill="#222" textLength="7.2" lengthAdjust="spacingAndGlyphs">10</text>
<line x1="184.9" y1="723.8" x2="329.8" y2="723.8" stroke="#000" stroke-width="1.3"/>
<line x1="207.65" y1="720.58" x2="207.65" y2="722.24" stroke="#000" stroke-width="1"/>
<line x1="204.15" y1="720.58" x2="211.15" y2="720.58" stroke="#000" stroke-width="1"/>
<rect x="197.5" y="722.24" width="20.3" height="1.56" fill="#fff" stroke="#000" stroke-width="1.3"/>
<rect x="229.5" y="712.12" width="21.8" height="11.68" fill="#000" stroke="#000" stroke-width="1.3"/>
<line x1="273.5" y1="709.08" x2="273.5" y2="712.94" stroke="#000" stroke-width="1"/>
<line x1="270" y1="709.08" x2="277" y2="709.08" stroke="#000" stroke-width="1"/>
<rect x="262.9" y="712.94" width="21.2" height="10.86" fill="#a9a9a9" stroke="#000" stroke-width="1.3"/>
<line x1="306.85" y1="645.14" x2="306.85" y2="659.4" stroke="#000" stroke-width="1"/>
<line x1="303.35" y1="645.14" x2="310.35" y2="645.14" stroke="#000" stroke-width="1"/>
<rect x="296.4" y="659.4" width="20.9" height="64.4" fill="#000" stroke="#000" stroke-width="1.3"/>
<text x="240.5" y="709.8" font-size="7.6" text-anchor="middle" fill="#444">ns</text>
<text x="292" y="640" font-size="7.6" fill="#333" textLength="36.8" lengthAdjust="spacingAndGlyphs">p=0.0084**</text>
<text x="208.2" y="737.2" font-size="8.4" font-weight="bold" text-anchor="middle" fill="#111" textLength="26.2" lengthAdjust="spacingAndGlyphs">Vehicle</text>
<text x="241.1" y="737.2" font-size="8.4" font-weight="bold" text-anchor="middle" fill="#111" textLength="33.8" lengthAdjust="spacingAndGlyphs">EHop-016</text>
<text x="274.5" y="737.2" font-size="8.4" font-weight="bold" text-anchor="middle" fill="#111" textLength="25" lengthAdjust="spacingAndGlyphs">Vehicle</text>
<text x="308" y="737.2" font-size="8.4" font-weight="bold" text-anchor="middle" fill="#111" textLength="32" lengthAdjust="spacingAndGlyphs">EHop-016</text>
<line x1="193.1" y1="741.8" x2="257.1" y2="741.8" stroke="#000" stroke-width="1.5"/>
<line x1="260" y1="741.8" x2="325.5" y2="741.8" stroke="#000" stroke-width="1.5"/>
<text x="220.7" y="752" font-size="8" font-weight="bold" text-anchor="middle" fill="#111" textLength="35" lengthAdjust="spacingAndGlyphs">QM42-PDX</text>
<text x="220.7" y="761.6" font-size="8" text-anchor="middle" fill="#222" textLength="45" lengthAdjust="spacingAndGlyphs">(<tspan font-style="italic">RAC1</tspan> diploid)</text>
<text x="290" y="752" font-size="8" font-weight="bold" text-anchor="middle" fill="#111" textLength="28.5" lengthAdjust="spacingAndGlyphs">T76-PDX</text>
<text x="290" y="761.6" font-size="8" text-anchor="middle" fill="#222" textLength="39" lengthAdjust="spacingAndGlyphs">(<tspan font-style="italic">RAC1</tspan>-Amp)</text>
<text x="158.4" y="677.3" font-size="8.2" font-weight="bold" text-anchor="middle" fill="#222" textLength="61.8" lengthAdjust="spacingAndGlyphs" transform="rotate(-90 158.4 677.3)">% TUNEL+ve cells</text>
<text x="168.6" y="677.7" font-size="8.2" font-weight="bold" text-anchor="middle" fill="#222" textLength="71.8" lengthAdjust="spacingAndGlyphs" transform="rotate(-90 168.6 677.7)">(vs. total cell number)</text>
<text x="415.3" y="637" font-size="7.6" font-weight="bold" text-anchor="middle" textLength="25.4" lengthAdjust="spacingAndGlyphs">Vehicle</text>
<text x="469.9" y="637" font-size="7.6" font-weight="bold" text-anchor="middle" textLength="31.8" lengthAdjust="spacingAndGlyphs">EHop-016</text>
<text x="368.8" y="674.7" font-size="7.6" font-weight="bold" text-anchor="middle" textLength="35.8" lengthAdjust="spacingAndGlyphs" transform="rotate(-90 368.8 674.7)">QM42-PDX</text>
<text x="379" y="671.2" font-size="7.6" font-weight="bold" text-anchor="middle" textLength="48" lengthAdjust="spacingAndGlyphs" transform="rotate(-90 379 671.2)">(<tspan font-style="italic">RAC1</tspan> diploid)</text>
<text x="368.8" y="733.4" font-size="7.6" font-weight="bold" text-anchor="middle" textLength="29" lengthAdjust="spacingAndGlyphs" transform="rotate(-90 368.8 733.4)">T76-PDX</text>
<text x="379" y="730.5" font-size="7.6" font-weight="bold" text-anchor="middle" fill="#ff1a1a" font-style="italic" textLength="41.3" lengthAdjust="spacingAndGlyphs" transform="rotate(-90 379 730.5)">(RAC1-Amp)</text>
<rect x="382.7" y="639.4" width="57.7" height="57.9" fill="#080a26"/>
<clipPath id="cd1"><rect x="382.7" y="639.4" width="57.7" height="57.9"/></clipPath>
<g clip-path="url(#cd1)"><g filter="url(#mb)"><g fill="#1428b8"><circle cx="405.7" cy="656.5" r="0.9"/><circle cx="383.7" cy="685.6" r="0.9"/><circle cx="395.9" cy="696.9" r="0.9"/><circle cx="437.2" cy="649.7" r="0.8"/><circle cx="430.1" cy="667.0" r="1.0"/><circle cx="415.7" cy="666.9" r="1.0"/><circle cx="440.3" cy="678.2" r="0.5"/><circle cx="405.1" cy="670.0" r="0.7"/><circle cx="428.6" cy="679.9" r="0.6"/><circle cx="436.4" cy="646.3" r="0.7"/><circle cx="391.5" cy="682.3" r="0.8"/><circle cx="409.3" cy="696.3" r="0.8"/><circle cx="416.4" cy="665.4" r="1.0"/><circle cx="403.3" cy="675.0" r="0.6"/><circle cx="413.8" cy="641.1" r="0.5"/><circle cx="402.2" cy="641.9" r="1.0"/><circle cx="432.4" cy="678.9" r="0.7"/><circle cx="402.9" cy="687.7" r="0.8"/><circle cx="390.0" cy="680.4" r="0.5"/><circle cx="387.8" cy="640.1" r="0.7"/><circle cx="422.6" cy="673.7" r="0.8"/><circle cx="401.8" cy="688.4" r="0.9"/><circle cx="416.0" cy="674.7" r="0.9"/><circle cx="415.8" cy="689.4" r="0.8"/><circle cx="415.4" cy="667.6" r="0.7"/><circle cx="420.8" cy="652.4" r="0.7"/><circle cx="398.4" cy="650.4" r="0.9"/><circle cx="440.1" cy="658.0" r="0.9"/><circle cx="405.7" cy="656.3" r="0.7"/><circle cx="435.7" cy="682.8" r="0.8"/><circle cx="399.7" cy="648.5" r="0.8"/><circle cx="427.4" cy="687.8" r="0.7"/><circle cx="405.3" cy="648.7" r="0.9"/><circle cx="398.6" cy="644.4" r="0.7"/><circle cx="427.7" cy="648.2" r="0.6"/><circle cx="432.3" cy="657.2" r="0.8"/><circle cx="419.1" cy="692.3" r="0.7"/><circle cx="387.5" cy="696.5" r="0.9"/><circle cx="437.2" cy="641.6" r="0.8"/><circle cx="414.1" cy="655.2" r="0.6"/><circle cx="416.5" cy="664.3" r="0.7"/><circle cx="389.1" cy="640.3" r="0.6"/><circle cx="398.8" cy="684.6" r="0.5"/><circle cx="434.6" cy="680.3" r="1.0"/><circle cx="437.4" cy="672.5" r="0.8"/><circle cx="436.0" cy="673.0" r="0.9"/><circle cx="388.2" cy="657.6" r="0.7"/><circle cx="412.9" cy="678.2" r="0.9"/><circle cx="422.1" cy="646.5" r="0.8"/><circle cx="391.3" cy="665.1" r="0.6"/><circle cx="436.3" cy="693.0" r="1.0"/><circle cx="433.7" cy="651.1" r="0.8"/><circle cx="435.7" cy="655.7" r="0.8"/><circle cx="415.8" cy="651.8" r="0.7"/><circle cx="408.7" cy="684.0" r="0.8"/><circle cx="439.1" cy="660.9" r="0.8"/><circle cx="400.4" cy="648.1" r="0.6"/><circle cx="400.1" cy="654.8" r="1.0"/><circle cx="418.6" cy="663.1" r="0.7"/><circle cx="409.4" cy="674.7" r="1.0"/><circle cx="390.3" cy="689.6" r="0.6"/><circle cx="413.1" cy="651.3" r="0.8"/><circle cx="398.7" cy="645.5" r="0.8"/><circle cx="409.0" cy="667.1" r="0.6"/><circle cx="434.3" cy="666.0" r="0.6"/><circle cx="415.0" cy="676.6" r="0.7"/><circle cx="426.5" cy="657.7" r="0.8"/><circle cx="432.5" cy="694.7" r="0.9"/><circle cx="396.5" cy="688.1" r="0.9"/><circle cx="393.6" cy="684.2" r="0.9"/><circle cx="383.3" cy="682.1" r="1.0"/><circle cx="405.7" cy="675.9" r="0.5"/><circle cx="416.6" cy="690.0" r="0.5"/><circle cx="384.0" cy="696.7" r="0.9"/><circle cx="407.9" cy="646.3" r="0.7"/><circle cx="388.9" cy="667.6" r="1.0"/><circle cx="401.6" cy="674.6" r="0.8"/><circle cx="421.8" cy="685.9" r="0.7"/><circle cx="388.5" cy="641.5" r="0.6"/><circle cx="401.1" cy="683.5" r="0.7"/><circle cx="439.4" cy="645.2" r="0.7"/><circle cx="387.7" cy="657.8" r="0.7"/><circle cx="404.2" cy="641.8" r="0.9"/><circle cx="420.3" cy="674.3" r="0.5"/><circle cx="386.1" cy="678.2" r="0.6"/><circle cx="430.1" cy="681.9" r="1.0"/><circle cx="399.8" cy="673.3" r="1.0"/><circle cx="419.9" cy="641.9" r="0.7"/><circle cx="388.0" cy="677.7" r="0.5"/><circle cx="385.8" cy="661.2" r="0.9"/><circle cx="394.9" cy="685.0" r="0.5"/><circle cx="390.8" cy="678.8" r="0.9"/><circle cx="411.1" cy="658.6" r="0.6"/><circle cx="428.5" cy="640.9" r="0.8"/><circle cx="417.5" cy="694.4" r="0.9"/><circle cx="438.9" cy="658.2" r="0.9"/><circle cx="389.7" cy="692.7" r="0.9"/><circle cx="404.3" cy="680.0" r="0.8"/><circle cx="418.0" cy="675.8" r="0.8"/><circle cx="424.8" cy="690.9" r="0.5"/><circle cx="438.0" cy="681.3" r="0.8"/><circle cx="433.1" cy="650.4" r="0.9"/><circle cx="387.3" cy="675.0" r="1.0"/><circle cx="431.4" cy="665.8" r="0.9"/><circle cx="403.9" cy="651.9" r="0.5"/><circle cx="390.3" cy="644.7" r="1.0"/><circle cx="424.2" cy="668.1" r="0.5"/><circle cx="413.4" cy="691.2" r="0.6"/><circle cx="391.3" cy="670.4" r="0.7"/><circle cx="409.2" cy="691.5" r="0.8"/><circle cx="392.1" cy="643.7" r="0.8"/><circle cx="437.2" cy="649.1" r="0.7"/><circle cx="397.7" cy="652.3" r="0.8"/><circle cx="429.7" cy="677.2" r="0.8"/><circle cx="386.2" cy="669.9" r="0.7"/><circle cx="388.2" cy="641.2" r="0.5"/><circle cx="406.0" cy="676.8" r="0.6"/><circle cx="431.0" cy="649.4" r="0.9"/><circle cx="388.0" cy="665.5" r="0.8"/><circle cx="430.2" cy="652.9" r="1.0"/><circle cx="436.8" cy="670.9" r="0.6"/><circle cx="403.2" cy="646.5" r="0.8"/><circle cx="383.9" cy="656.1" r="0.5"/><circle cx="412.6" cy="693.3" r="0.5"/><circle cx="419.8" cy="677.2" r="0.7"/><circle cx="415.3" cy="690.2" r="0.6"/><circle cx="423.4" cy="696.6" r="0.7"/><circle cx="394.5" cy="653.4" r="0.9"/><circle cx="401.7" cy="655.5" r="0.6"/><circle cx="430.6" cy="693.1" r="0.7"/><circle cx="397.1" cy="647.2" r="0.8"/><circle cx="408.8" cy="688.0" r="0.8"/><circle cx="401.3" cy="657.3" r="0.7"/><circle cx="409.4" cy="662.1" r="0.8"/><circle cx="409.0" cy="677.6" r="0.8"/><circle cx="406.9" cy="690.8" r="0.6"/><circle cx="422.9" cy="684.4" r="0.9"/><circle cx="413.5" cy="662.8" r="0.7"/><circle cx="386.5" cy="648.1" r="0.5"/></g><g fill="#1830c8"><circle cx="421.8" cy="682.9" r="0.6"/><circle cx="400.5" cy="695.3" r="0.7"/><circle cx="389.5" cy="694.1" r="0.8"/><circle cx="393.0" cy="681.7" r="0.7"/><circle cx="425.9" cy="687.8" r="0.9"/><circle cx="439.0" cy="694.2" r="1.0"/><circle cx="387.9" cy="649.5" r="0.6"/><circle cx="400.7" cy="652.5" r="0.9"/><circle cx="387.0" cy="665.9" r="0.9"/><circle cx="396.1" cy="669.1" r="0.9"/><circle cx="391.1" cy="695.8" r="0.6"/><circle cx="409.0" cy="663.8" r="0.7"/><circle cx="392.6" cy="691.3" r="0.5"/><circle cx="383.4" cy="639.5" r="0.8"/><circle cx="410.0" cy="656.2" r="0.6"/><circle cx="429.9" cy="675.6" r="0.9"/><circle cx="387.0" cy="643.1" r="1.0"/><circle cx="418.0" cy="682.6" r="0.8"/><circle cx="419.6" cy="666.2" r="0.9"/><circle cx="389.8" cy="686.6" r="0.8"/><circle cx="435.8" cy="644.1" r="0.7"/><circle cx="418.0" cy="682.8" r="0.8"/><circle cx="401.7" cy="685.0" r="0.9"/><circle cx="384.6" cy="655.2" r="0.6"/><circle cx="405.0" cy="689.9" r="1.0"/><circle cx="422.3" cy="659.3" r="0.6"/><circle cx="435.5" cy="692.0" r="0.9"/><circle cx="390.1" cy="677.5" r="0.8"/><circle cx="414.5" cy="690.1" r="0.7"/><circle cx="437.0" cy="677.1" r="0.9"/><circle cx="419.6" cy="696.3" r="0.5"/><circle cx="384.1" cy="694.2" r="0.8"/><circle cx="388.7" cy="666.7" r="0.8"/><circle cx="385.7" cy="650.2" r="0.7"/><circle cx="390.3" cy="654.7" r="0.7"/><circle cx="417.8" cy="658.0" r="1.0"/><circle cx="416.6" cy="657.2" r="0.9"/><circle cx="415.7" cy="666.0" r="0.6"/><circle cx="389.7" cy="654.6" r="0.9"/><circle cx="395.4" cy="696.6" r="1.0"/><circle cx="422.2" cy="684.3" r="0.9"/><circle cx="398.9" cy="695.9" r="0.9"/><circle cx="386.5" cy="648.6" r="0.6"/><circle cx="415.6" cy="640.7" r="0.7"/><circle cx="398.0" cy="683.5" r="1.0"/><circle cx="401.8" cy="695.8" r="0.8"/><circle cx="385.7" cy="678.9" r="0.6"/><circle cx="439.4" cy="653.8" r="0.7"/><circle cx="438.7" cy="670.8" r="0.9"/><circle cx="382.9" cy="664.0" r="0.8"/><circle cx="435.3" cy="664.3" r="0.7"/><circle cx="397.3" cy="681.9" r="1.0"/><circle cx="404.6" cy="653.5" r="0.7"/><circle cx="391.1" cy="682.0" r="0.7"/><circle cx="388.0" cy="639.4" r="0.9"/><circle cx="435.1" cy="671.0" r="1.0"/><circle cx="403.4" cy="649.7" r="0.7"/><circle cx="409.8" cy="665.3" r="0.5"/><circle cx="387.0" cy="666.6" r="0.6"/><circle cx="416.6" cy="658.8" r="0.9"/><circle cx="415.0" cy="651.4" r="0.7"/><circle cx="398.2" cy="693.7" r="0.8"/><circle cx="408.3" cy="647.6" r="0.6"/><circle cx="386.6" cy="662.5" r="0.6"/><circle cx="404.1" cy="683.8" r="1.0"/><circle cx="426.0" cy="639.5" r="0.7"/><circle cx="384.6" cy="653.7" r="0.7"/><circle cx="391.1" cy="640.2" r="0.8"/><circle cx="387.4" cy="644.5" r="0.8"/><circle cx="389.8" cy="657.8" r="0.6"/><circle cx="415.1" cy="667.1" r="0.9"/><circle cx="398.0" cy="680.0" r="1.0"/><circle cx="391.1" cy="669.0" r="0.6"/><circle cx="434.1" cy="642.1" r="0.9"/><circle cx="396.0" cy="663.8" r="0.6"/><circle cx="406.8" cy="661.2" r="0.7"/><circle cx="408.2" cy="653.6" r="0.9"/><circle cx="389.4" cy="678.2" r="1.0"/><circle cx="404.8" cy="667.2" r="0.7"/><circle cx="397.4" cy="651.5" r="0.8"/><circle cx="387.2" cy="646.2" r="0.5"/><circle cx="402.4" cy="670.9" r="0.9"/><circle cx="386.5" cy="672.9" r="0.6"/><circle cx="422.9" cy="679.5" r="0.7"/><circle cx="430.3" cy="684.0" r="0.9"/><circle cx="397.0" cy="662.2" r="0.7"/><circle cx="437.2" cy="670.0" r="0.9"/><circle cx="419.6" cy="648.8" r="0.9"/><circle cx="417.0" cy="656.6" r="0.9"/><circle cx="385.6" cy="667.5" r="0.8"/><circle cx="392.9" cy="678.7" r="0.9"/><circle cx="384.9" cy="682.5" r="0.5"/><circle cx="397.2" cy="645.9" r="0.8"/><circle cx="385.0" cy="644.2" r="0.5"/><circle cx="400.0" cy="687.5" r="0.6"/><circle cx="427.2" cy="652.3" r="0.8"/><circle cx="439.2" cy="676.3" r="0.8"/><circle cx="433.4" cy="665.3" r="0.8"/><circle cx="437.6" cy="664.8" r="0.6"/><circle cx="423.6" cy="666.3" r="0.8"/><circle cx="421.1" cy="669.8" r="0.5"/><circle cx="405.1" cy="688.0" r="0.8"/><circle cx="400.2" cy="680.2" r="0.7"/><circle cx="400.1" cy="675.6" r="0.7"/><circle cx="402.3" cy="643.7" r="0.9"/><circle cx="384.7" cy="640.4" r="0.5"/><circle cx="385.1" cy="663.2" r="0.6"/><circle cx="408.0" cy="679.9" r="0.8"/><circle cx="423.2" cy="675.4" r="1.0"/><circle cx="435.8" cy="670.2" r="0.6"/><circle cx="390.0" cy="665.0" r="0.7"/><circle cx="425.6" cy="677.7" r="0.5"/><circle cx="391.9" cy="670.2" r="0.8"/><circle cx="425.9" cy="683.9" r="0.5"/></g><g fill="#1020a0"><circle cx="404.7" cy="666.4" r="0.7"/><circle cx="399.5" cy="647.9" r="1.0"/><circle cx="392.6" cy="684.0" r="0.7"/><circle cx="386.5" cy="650.7" r="0.8"/><circle cx="411.0" cy="669.5" r="1.0"/><circle cx="403.4" cy="639.5" r="0.8"/><circle cx="426.9" cy="654.3" r="0.8"/><circle cx="424.1" cy="660.1" r="0.9"/><circle cx="386.7" cy="641.6" r="0.9"/><circle cx="405.5" cy="659.3" r="1.0"/><circle cx="408.8" cy="677.8" r="0.7"/><circle cx="386.8" cy="681.9" r="0.5"/><circle cx="398.7" cy="681.7" r="0.8"/><circle cx="390.4" cy="681.6" r="0.7"/><circle cx="398.0" cy="646.8" r="0.9"/><circle cx="396.3" cy="644.9" r="0.7"/><circle cx="435.8" cy="668.2" r="0.8"/><circle cx="425.0" cy="689.4" r="0.8"/><circle cx="390.3" cy="661.2" r="0.8"/><circle cx="434.7" cy="674.9" r="0.7"/><circle cx="418.7" cy="674.5" r="0.5"/><circle cx="409.7" cy="671.7" r="1.0"/><circle cx="439.1" cy="640.8" r="0.6"/><circle cx="384.0" cy="690.9" r="0.6"/><circle cx="388.3" cy="671.9" r="0.6"/><circle cx="422.2" cy="667.7" r="0.6"/><circle cx="391.7" cy="651.1" r="0.5"/><circle cx="387.2" cy="659.8" r="0.8"/><circle cx="421.3" cy="649.0" r="0.9"/><circle cx="393.5" cy="682.4" r="0.9"/><circle cx="439.5" cy="649.2" r="0.7"/><circle cx="405.6" cy="642.9" r="0.5"/><circle cx="393.4" cy="654.9" r="0.6"/><circle cx="415.1" cy="683.5" r="1.0"/><circle cx="424.0" cy="683.0" r="0.5"/><circle cx="411.0" cy="682.7" r="0.9"/><circle cx="397.5" cy="652.3" r="0.8"/><circle cx="428.2" cy="656.3" r="0.7"/><circle cx="389.5" cy="696.6" r="0.7"/><circle cx="411.5" cy="656.6" r="0.8"/><circle cx="425.9" cy="643.9" r="0.7"/><circle cx="433.3" cy="684.6" r="0.7"/><circle cx="403.3" cy="647.7" r="0.8"/><circle cx="407.0" cy="689.4" r="0.7"/><circle cx="389.4" cy="642.3" r="0.9"/><circle cx="408.0" cy="669.6" r="0.6"/><circle cx="410.9" cy="682.0" r="1.0"/><circle cx="408.0" cy="647.5" r="0.7"/><circle cx="433.3" cy="647.3" r="0.5"/><circle cx="405.4" cy="652.1" r="0.5"/><circle cx="415.1" cy="640.2" r="1.0"/><circle cx="401.4" cy="657.7" r="0.6"/><circle cx="428.3" cy="693.2" r="1.0"/><circle cx="435.4" cy="639.5" r="0.8"/><circle cx="429.8" cy="650.9" r="1.0"/><circle cx="398.7" cy="686.7" r="0.9"/><circle cx="423.5" cy="667.1" r="0.7"/><circle cx="401.2" cy="644.9" r="0.5"/><circle cx="397.8" cy="656.0" r="0.7"/><circle cx="385.1" cy="683.0" r="1.0"/><circle cx="424.8" cy="655.9" r="0.8"/><circle cx="398.5" cy="677.0" r="1.0"/><circle cx="413.5" cy="684.6" r="0.7"/><circle cx="393.8" cy="642.9" r="0.8"/><circle cx="389.7" cy="665.7" r="0.8"/><circle cx="429.0" cy="683.5" r="0.5"/><circle cx="437.7" cy="647.1" r="0.8"/><circle cx="398.7" cy="683.1" r="0.8"/><circle cx="410.4" cy="665.1" r="0.8"/><circle cx="406.1" cy="673.9" r="0.6"/><circle cx="399.1" cy="686.9" r="0.6"/><circle cx="413.0" cy="640.4" r="1.0"/><circle cx="390.3" cy="640.7" r="0.6"/><circle cx="390.7" cy="665.2" r="0.8"/><circle cx="400.2" cy="661.5" r="1.0"/><circle cx="416.1" cy="677.6" r="0.6"/><circle cx="399.9" cy="656.0" r="0.5"/><circle cx="428.9" cy="660.0" r="0.5"/><circle cx="398.9" cy="641.6" r="0.5"/><circle cx="393.6" cy="691.3" r="0.7"/><circle cx="400.5" cy="688.7" r="0.8"/><circle cx="417.0" cy="657.4" r="0.7"/><circle cx="388.1" cy="676.2" r="0.8"/><circle cx="397.6" cy="662.5" r="0.8"/><circle cx="386.0" cy="687.6" r="0.8"/><circle cx="407.7" cy="686.5" r="0.9"/><circle cx="386.5" cy="644.3" r="0.7"/><circle cx="394.3" cy="685.9" r="1.0"/><circle cx="387.9" cy="645.1" r="0.8"/><circle cx="384.9" cy="648.5" r="0.9"/><circle cx="430.4" cy="669.4" r="0.6"/><circle cx="433.8" cy="660.7" r="1.0"/><circle cx="406.9" cy="696.5" r="0.8"/><circle cx="415.4" cy="689.7" r="0.9"/><circle cx="389.5" cy="694.4" r="0.8"/><circle cx="385.4" cy="676.9" r="0.7"/><circle cx="422.3" cy="641.4" r="1.0"/><circle cx="426.1" cy="679.1" r="0.5"/><circle cx="422.4" cy="659.6" r="0.8"/><circle cx="394.4" cy="647.7" r="0.5"/><circle cx="393.0" cy="654.8" r="0.6"/><circle cx="405.3" cy="694.6" r="0.6"/></g><g fill="#2038d8"><circle cx="426.0" cy="695.5" r="0.7"/><circle cx="438.4" cy="696.6" r="0.9"/><circle cx="387.1" cy="687.3" r="0.7"/><circle cx="393.4" cy="669.4" r="0.6"/><circle cx="393.4" cy="664.5" r="0.8"/><circle cx="433.3" cy="648.6" r="0.9"/><circle cx="402.6" cy="653.9" r="0.7"/><circle cx="412.9" cy="674.0" r="0.9"/><circle cx="431.0" cy="686.8" r="0.7"/><circle cx="415.6" cy="660.7" r="0.6"/><circle cx="399.0" cy="671.4" r="0.8"/><circle cx="391.8" cy="661.9" r="0.9"/><circle cx="427.4" cy="689.5" r="0.6"/><circle cx="399.5" cy="673.8" r="0.6"/><circle cx="425.9" cy="688.5" r="0.9"/><circle cx="392.0" cy="642.1" r="0.6"/><circle cx="408.9" cy="662.2" r="0.7"/><circle cx="402.5" cy="671.1" r="0.6"/><circle cx="382.8" cy="658.0" r="0.6"/><circle cx="405.0" cy="640.7" r="0.6"/><circle cx="393.4" cy="668.2" r="0.7"/><circle cx="389.5" cy="676.1" r="1.0"/><circle cx="416.9" cy="696.5" r="0.6"/><circle cx="434.3" cy="689.7" r="1.0"/><circle cx="382.9" cy="696.5" r="0.8"/><circle cx="414.8" cy="665.6" r="0.6"/><circle cx="403.6" cy="667.1" r="0.9"/><circle cx="406.0" cy="659.0" r="0.8"/><circle cx="410.5" cy="656.1" r="0.6"/><circle cx="424.7" cy="644.8" r="0.6"/><circle cx="387.7" cy="666.5" r="0.8"/><circle cx="439.7" cy="670.2" r="0.6"/><circle cx="392.8" cy="641.5" r="0.7"/><circle cx="399.4" cy="641.9" r="0.7"/><circle cx="422.7" cy="666.0" r="0.8"/><circle cx="402.6" cy="693.7" r="0.6"/><circle cx="408.0" cy="643.6" r="1.0"/><circle cx="431.4" cy="669.7" r="0.7"/><circle cx="395.2" cy="659.8" r="0.7"/><circle cx="407.6" cy="656.1" r="0.7"/><circle cx="435.1" cy="661.5" r="0.5"/><circle cx="426.5" cy="650.7" r="0.7"/><circle cx="405.2" cy="674.3" r="0.6"/><circle cx="384.6" cy="673.4" r="0.6"/><circle cx="406.1" cy="652.8" r="0.8"/><circle cx="436.1" cy="671.1" r="0.9"/><circle cx="407.1" cy="661.2" r="0.6"/><circle cx="416.9" cy="641.7" r="0.5"/><circle cx="387.9" cy="645.3" r="0.9"/><circle cx="391.5" cy="694.4" r="0.8"/><circle cx="385.9" cy="671.7" r="0.5"/><circle cx="408.9" cy="649.9" r="0.8"/><circle cx="384.2" cy="684.4" r="0.5"/><circle cx="413.7" cy="665.6" r="0.6"/><circle cx="389.4" cy="641.5" r="0.8"/><circle cx="412.9" cy="691.2" r="0.8"/><circle cx="439.5" cy="642.6" r="0.7"/><circle cx="425.6" cy="652.0" r="0.9"/><circle cx="390.1" cy="678.7" r="0.8"/><circle cx="402.5" cy="641.9" r="0.8"/><circle cx="394.3" cy="643.7" r="0.9"/><circle cx="412.2" cy="692.0" r="0.8"/><circle cx="415.2" cy="674.7" r="0.8"/><circle cx="392.4" cy="652.0" r="0.9"/><circle cx="426.6" cy="668.9" r="0.8"/><circle cx="393.2" cy="645.2" r="0.7"/><circle cx="418.0" cy="644.5" r="0.9"/><circle cx="427.2" cy="641.8" r="0.5"/><circle cx="387.5" cy="673.0" r="0.5"/><circle cx="404.8" cy="665.4" r="0.5"/><circle cx="408.7" cy="694.1" r="0.5"/><circle cx="392.8" cy="643.3" r="0.7"/><circle cx="401.7" cy="649.9" r="1.0"/><circle cx="408.1" cy="646.4" r="0.6"/><circle cx="410.8" cy="665.7" r="0.9"/><circle cx="385.9" cy="664.5" r="0.8"/><circle cx="395.0" cy="678.8" r="0.8"/><circle cx="400.7" cy="681.6" r="0.5"/><circle cx="392.6" cy="674.5" r="0.9"/><circle cx="385.5" cy="656.6" r="0.8"/><circle cx="424.2" cy="648.1" r="0.9"/><circle cx="385.5" cy="658.0" r="0.9"/><circle cx="392.3" cy="647.8" r="1.0"/><circle cx="392.7" cy="675.3" r="0.8"/><circle cx="401.1" cy="681.6" r="0.9"/><circle cx="385.5" cy="651.0" r="0.7"/><circle cx="402.7" cy="670.0" r="0.5"/><circle cx="387.1" cy="676.1" r="0.9"/><circle cx="402.6" cy="679.6" r="0.8"/><circle cx="434.4" cy="648.9" r="0.8"/><circle cx="392.4" cy="657.1" r="0.7"/><circle cx="401.3" cy="662.3" r="0.6"/><circle cx="409.8" cy="645.1" r="0.9"/><circle cx="397.0" cy="688.7" r="0.6"/><circle cx="415.3" cy="660.4" r="0.8"/><circle cx="388.6" cy="671.9" r="0.6"/><circle cx="435.9" cy="687.7" r="0.7"/><circle cx="427.1" cy="665.9" r="0.7"/><circle cx="421.8" cy="642.8" r="0.8"/><circle cx="415.8" cy="673.9" r="0.9"/><circle cx="434.6" cy="683.9" r="0.5"/><circle cx="432.3" cy="648.7" r="0.9"/><circle cx="388.1" cy="650.6" r="0.6"/><circle cx="407.2" cy="691.7" r="0.8"/><circle cx="391.8" cy="683.1" r="0.5"/><circle cx="419.7" cy="648.5" r="0.9"/><circle cx="398.4" cy="668.8" r="0.9"/><circle cx="417.9" cy="659.3" r="0.6"/><circle cx="384.2" cy="688.1" r="0.8"/><circle cx="386.4" cy="644.6" r="0.5"/><circle cx="383.0" cy="671.9" r="0.9"/><circle cx="415.6" cy="688.7" r="0.6"/><circle cx="415.0" cy="672.7" r="0.8"/><circle cx="422.6" cy="652.0" r="0.8"/><circle cx="427.7" cy="651.4" r="0.7"/><circle cx="385.7" cy="687.1" r="0.9"/><circle cx="398.4" cy="659.5" r="0.9"/><circle cx="388.0" cy="681.3" r="0.5"/><circle cx="419.5" cy="677.2" r="0.8"/><circle cx="390.1" cy="655.5" r="0.7"/><circle cx="408.9" cy="677.7" r="0.8"/><circle cx="438.7" cy="685.5" r="0.6"/><circle cx="404.1" cy="645.6" r="0.7"/><circle cx="432.3" cy="644.1" r="0.6"/><circle cx="384.0" cy="653.6" r="0.6"/></g></g></g>
<rect x="442.5" y="639.4" width="57.5" height="57.9" fill="#080a26"/>
<clipPath id="cd2"><rect x="442.5" y="639.4" width="57.5" height="57.9"/></clipPath>
<g clip-path="url(#cd2)"><g filter="url(#mb)"><g fill="#1428b8"><circle cx="447.3" cy="640.9" r="0.9"/><circle cx="476.2" cy="646.6" r="0.8"/><circle cx="450.0" cy="650.6" r="0.6"/><circle cx="483.7" cy="669.0" r="0.8"/><circle cx="458.7" cy="680.4" r="1.0"/><circle cx="479.8" cy="640.6" r="0.7"/><circle cx="498.6" cy="670.0" r="0.6"/><circle cx="499.1" cy="689.9" r="0.9"/><circle cx="471.0" cy="651.0" r="0.8"/><circle cx="491.4" cy="693.5" r="0.7"/><circle cx="490.0" cy="696.6" r="0.6"/><circle cx="459.4" cy="685.8" r="1.0"/><circle cx="477.3" cy="649.4" r="0.9"/><circle cx="495.1" cy="657.3" r="0.6"/><circle cx="451.0" cy="646.8" r="0.9"/><circle cx="468.5" cy="645.5" r="0.6"/><circle cx="480.9" cy="642.4" r="0.9"/><circle cx="458.2" cy="653.5" r="0.6"/><circle cx="454.3" cy="689.8" r="0.9"/><circle cx="448.9" cy="694.3" r="0.9"/><circle cx="478.8" cy="694.6" r="0.8"/><circle cx="458.5" cy="655.3" r="1.0"/><circle cx="445.9" cy="645.1" r="0.7"/><circle cx="479.1" cy="643.0" r="0.9"/><circle cx="478.4" cy="642.9" r="0.5"/><circle cx="494.4" cy="650.3" r="0.6"/><circle cx="455.4" cy="650.9" r="0.8"/><circle cx="489.5" cy="654.3" r="0.5"/><circle cx="480.1" cy="660.4" r="0.9"/><circle cx="442.8" cy="640.9" r="0.8"/><circle cx="497.7" cy="681.0" r="0.5"/><circle cx="473.9" cy="663.3" r="0.7"/><circle cx="454.0" cy="654.3" r="0.6"/><circle cx="444.6" cy="645.2" r="0.7"/><circle cx="467.7" cy="688.3" r="1.0"/><circle cx="499.5" cy="664.1" r="1.0"/><circle cx="494.1" cy="650.2" r="0.9"/><circle cx="495.8" cy="685.4" r="1.0"/><circle cx="443.1" cy="642.8" r="1.0"/><circle cx="484.4" cy="684.6" r="0.6"/><circle cx="488.9" cy="645.1" r="0.8"/><circle cx="451.4" cy="657.7" r="0.5"/><circle cx="468.0" cy="674.4" r="0.6"/><circle cx="452.9" cy="642.7" r="1.0"/><circle cx="498.2" cy="683.2" r="0.6"/><circle cx="484.9" cy="671.6" r="0.8"/><circle cx="478.5" cy="658.3" r="1.0"/><circle cx="465.3" cy="670.1" r="0.7"/><circle cx="483.4" cy="664.2" r="0.8"/><circle cx="478.4" cy="689.9" r="0.7"/><circle cx="499.5" cy="668.5" r="0.8"/><circle cx="453.6" cy="679.9" r="0.8"/><circle cx="497.2" cy="648.3" r="0.8"/><circle cx="499.5" cy="645.3" r="0.8"/><circle cx="459.7" cy="656.3" r="0.8"/><circle cx="494.6" cy="643.4" r="0.6"/><circle cx="452.2" cy="687.5" r="0.7"/><circle cx="480.1" cy="644.2" r="0.7"/><circle cx="448.5" cy="679.2" r="1.0"/><circle cx="482.4" cy="646.6" r="0.8"/><circle cx="490.3" cy="643.1" r="0.9"/><circle cx="490.4" cy="660.0" r="1.0"/><circle cx="449.1" cy="648.5" r="0.7"/><circle cx="477.0" cy="659.7" r="0.6"/><circle cx="465.7" cy="645.0" r="0.7"/><circle cx="477.1" cy="678.7" r="1.0"/><circle cx="456.2" cy="655.7" r="0.7"/><circle cx="443.8" cy="671.0" r="0.6"/><circle cx="457.0" cy="665.2" r="0.6"/><circle cx="458.3" cy="694.1" r="0.7"/><circle cx="472.6" cy="652.9" r="0.7"/><circle cx="455.2" cy="692.1" r="0.8"/><circle cx="486.6" cy="659.4" r="0.7"/><circle cx="493.5" cy="693.9" r="0.6"/><circle cx="463.3" cy="668.1" r="0.9"/><circle cx="462.1" cy="689.2" r="0.8"/><circle cx="463.7" cy="669.5" r="0.8"/><circle cx="487.6" cy="674.7" r="0.8"/><circle cx="453.9" cy="644.8" r="0.8"/><circle cx="488.7" cy="687.9" r="0.9"/><circle cx="457.1" cy="671.2" r="0.7"/><circle cx="452.2" cy="692.9" r="0.9"/><circle cx="471.9" cy="663.3" r="0.9"/><circle cx="487.7" cy="655.2" r="0.7"/><circle cx="468.4" cy="651.7" r="1.0"/><circle cx="483.6" cy="640.6" r="0.6"/><circle cx="464.3" cy="640.9" r="0.6"/><circle cx="469.0" cy="651.5" r="1.0"/><circle cx="455.4" cy="684.1" r="0.8"/><circle cx="483.4" cy="648.0" r="0.9"/><circle cx="487.1" cy="696.8" r="0.9"/><circle cx="499.3" cy="659.5" r="1.0"/><circle cx="464.6" cy="662.6" r="0.9"/><circle cx="490.1" cy="644.8" r="0.9"/><circle cx="484.9" cy="666.5" r="1.0"/><circle cx="462.0" cy="660.1" r="0.7"/><circle cx="445.7" cy="649.1" r="0.6"/><circle cx="494.3" cy="678.4" r="0.7"/></g><g fill="#1830c8"><circle cx="471.6" cy="642.8" r="0.6"/><circle cx="493.3" cy="646.4" r="0.6"/><circle cx="498.7" cy="643.1" r="1.0"/><circle cx="457.6" cy="643.5" r="0.7"/><circle cx="499.7" cy="664.4" r="0.9"/><circle cx="495.0" cy="645.0" r="0.9"/><circle cx="499.9" cy="685.7" r="1.0"/><circle cx="489.4" cy="653.4" r="0.7"/><circle cx="493.3" cy="683.9" r="0.9"/><circle cx="493.1" cy="691.7" r="0.8"/><circle cx="499.2" cy="655.2" r="0.6"/><circle cx="494.6" cy="654.3" r="0.6"/><circle cx="448.7" cy="652.2" r="0.7"/><circle cx="481.1" cy="675.0" r="0.9"/><circle cx="483.1" cy="641.1" r="1.0"/><circle cx="460.6" cy="673.8" r="0.7"/><circle cx="486.3" cy="653.9" r="0.6"/><circle cx="495.0" cy="676.4" r="0.9"/><circle cx="485.2" cy="694.2" r="0.7"/><circle cx="484.7" cy="665.4" r="0.8"/><circle cx="443.8" cy="677.5" r="0.8"/><circle cx="492.6" cy="691.1" r="0.8"/><circle cx="483.1" cy="671.7" r="1.0"/><circle cx="482.2" cy="650.0" r="0.7"/><circle cx="478.6" cy="644.6" r="0.7"/><circle cx="447.4" cy="667.2" r="0.5"/><circle cx="480.6" cy="655.8" r="0.8"/><circle cx="451.8" cy="675.8" r="0.7"/><circle cx="450.4" cy="648.8" r="0.7"/><circle cx="491.2" cy="652.4" r="0.6"/><circle cx="497.1" cy="663.8" r="0.6"/><circle cx="453.5" cy="685.6" r="1.0"/><circle cx="487.6" cy="647.4" r="0.6"/><circle cx="451.3" cy="661.3" r="0.8"/><circle cx="498.7" cy="695.2" r="0.9"/><circle cx="460.6" cy="652.1" r="0.9"/><circle cx="449.8" cy="650.8" r="0.9"/><circle cx="499.4" cy="643.6" r="0.8"/><circle cx="494.9" cy="687.7" r="0.7"/><circle cx="490.4" cy="679.3" r="0.8"/><circle cx="469.3" cy="645.1" r="0.5"/><circle cx="442.5" cy="671.1" r="0.6"/><circle cx="460.1" cy="660.9" r="0.6"/><circle cx="477.5" cy="650.5" r="0.8"/><circle cx="466.1" cy="644.3" r="0.7"/><circle cx="485.4" cy="639.5" r="0.8"/><circle cx="450.5" cy="649.3" r="0.7"/><circle cx="477.4" cy="645.7" r="0.9"/><circle cx="476.2" cy="655.6" r="0.7"/><circle cx="461.8" cy="644.3" r="0.7"/><circle cx="443.7" cy="678.1" r="1.0"/><circle cx="484.9" cy="650.2" r="0.7"/><circle cx="486.0" cy="673.4" r="0.7"/><circle cx="486.6" cy="646.2" r="0.8"/><circle cx="480.8" cy="657.0" r="0.7"/><circle cx="499.3" cy="694.8" r="0.9"/><circle cx="469.8" cy="642.8" r="0.6"/><circle cx="491.0" cy="676.2" r="0.9"/><circle cx="472.0" cy="647.8" r="0.9"/><circle cx="445.1" cy="671.6" r="0.8"/><circle cx="459.8" cy="658.7" r="0.9"/><circle cx="481.3" cy="662.8" r="0.6"/><circle cx="452.1" cy="642.2" r="0.9"/><circle cx="475.0" cy="661.6" r="0.6"/><circle cx="446.7" cy="660.3" r="0.6"/><circle cx="498.9" cy="691.4" r="0.9"/><circle cx="469.8" cy="677.8" r="0.8"/><circle cx="493.4" cy="682.5" r="0.6"/><circle cx="455.2" cy="693.8" r="0.8"/><circle cx="456.2" cy="641.8" r="1.0"/><circle cx="499.3" cy="675.3" r="0.7"/><circle cx="469.0" cy="676.9" r="0.6"/><circle cx="497.6" cy="639.8" r="0.6"/><circle cx="471.6" cy="644.5" r="0.8"/><circle cx="454.5" cy="685.6" r="0.6"/><circle cx="473.3" cy="688.7" r="0.7"/><circle cx="493.9" cy="666.4" r="0.9"/><circle cx="446.2" cy="645.2" r="1.0"/><circle cx="471.3" cy="649.5" r="0.7"/><circle cx="463.6" cy="644.4" r="0.9"/><circle cx="450.2" cy="661.5" r="0.6"/><circle cx="478.3" cy="673.3" r="0.5"/><circle cx="496.2" cy="680.4" r="0.8"/><circle cx="492.9" cy="693.8" r="0.7"/><circle cx="498.0" cy="695.8" r="0.6"/><circle cx="493.1" cy="695.4" r="0.9"/><circle cx="493.0" cy="674.9" r="0.7"/><circle cx="447.2" cy="647.1" r="1.0"/><circle cx="484.8" cy="641.4" r="0.8"/><circle cx="472.6" cy="642.6" r="0.6"/><circle cx="487.6" cy="653.7" r="0.8"/><circle cx="485.1" cy="660.0" r="0.8"/><circle cx="484.7" cy="691.2" r="0.6"/><circle cx="487.3" cy="687.7" r="0.7"/><circle cx="494.6" cy="685.7" r="0.9"/><circle cx="491.6" cy="650.4" r="0.5"/><circle cx="492.3" cy="655.8" r="0.8"/><circle cx="495.1" cy="656.8" r="0.7"/><circle cx="456.2" cy="689.5" r="0.6"/><circle cx="477.9" cy="672.8" r="0.9"/><circle cx="467.6" cy="653.5" r="0.9"/><circle cx="444.3" cy="670.0" r="0.8"/><circle cx="478.9" cy="639.4" r="0.8"/><circle cx="469.7" cy="647.5" r="0.8"/></g><g fill="#1020a0"><circle cx="494.3" cy="647.7" r="1.0"/><circle cx="465.9" cy="689.7" r="1.0"/><circle cx="491.0" cy="682.2" r="0.9"/><circle cx="473.9" cy="664.0" r="0.6"/><circle cx="468.4" cy="686.7" r="0.9"/><circle cx="491.4" cy="680.6" r="0.5"/><circle cx="485.0" cy="663.2" r="1.0"/><circle cx="499.1" cy="679.5" r="0.7"/><circle cx="476.6" cy="695.0" r="0.6"/><circle cx="480.9" cy="646.4" r="0.8"/><circle cx="475.7" cy="640.0" r="0.8"/><circle cx="443.9" cy="643.3" r="0.6"/><circle cx="486.8" cy="672.0" r="0.6"/><circle cx="492.4" cy="674.2" r="0.7"/><circle cx="474.1" cy="646.2" r="0.5"/><circle cx="443.9" cy="669.2" r="0.8"/><circle cx="486.6" cy="686.8" r="0.7"/><circle cx="494.7" cy="686.5" r="0.9"/><circle cx="483.2" cy="684.5" r="0.6"/><circle cx="498.2" cy="677.8" r="1.0"/><circle cx="465.3" cy="690.8" r="0.8"/><circle cx="490.5" cy="679.0" r="0.7"/><circle cx="495.9" cy="663.6" r="0.5"/><circle cx="499.9" cy="669.3" r="1.0"/><circle cx="482.1" cy="675.2" r="0.8"/><circle cx="454.9" cy="694.2" r="0.5"/><circle cx="481.8" cy="653.2" r="0.6"/><circle cx="462.8" cy="647.7" r="0.8"/><circle cx="443.5" cy="642.3" r="0.5"/><circle cx="463.2" cy="643.0" r="0.6"/><circle cx="451.9" cy="686.0" r="0.6"/><circle cx="499.9" cy="640.9" r="0.6"/><circle cx="457.8" cy="649.4" r="0.7"/><circle cx="492.7" cy="655.8" r="0.6"/><circle cx="494.9" cy="673.0" r="0.7"/><circle cx="495.0" cy="680.7" r="0.8"/><circle cx="497.6" cy="687.0" r="0.7"/><circle cx="473.3" cy="640.9" r="0.5"/><circle cx="494.9" cy="695.4" r="0.9"/><circle cx="479.6" cy="665.4" r="0.6"/><circle cx="488.2" cy="656.0" r="0.9"/><circle cx="447.3" cy="640.4" r="0.8"/><circle cx="442.7" cy="669.8" r="0.8"/><circle cx="475.5" cy="657.1" r="0.8"/><circle cx="492.4" cy="681.1" r="0.6"/><circle cx="492.7" cy="648.9" r="0.9"/><circle cx="480.7" cy="672.7" r="0.9"/><circle cx="489.2" cy="668.2" r="0.8"/><circle cx="452.1" cy="672.5" r="1.0"/><circle cx="469.4" cy="649.8" r="0.5"/><circle cx="461.5" cy="644.7" r="0.5"/><circle cx="488.2" cy="673.9" r="0.5"/><circle cx="467.7" cy="684.1" r="0.9"/><circle cx="497.5" cy="665.9" r="0.7"/><circle cx="480.1" cy="691.5" r="0.6"/><circle cx="483.0" cy="645.8" r="0.7"/><circle cx="495.7" cy="651.2" r="0.7"/><circle cx="491.9" cy="665.1" r="0.8"/><circle cx="459.4" cy="660.7" r="0.7"/><circle cx="475.2" cy="695.5" r="0.9"/><circle cx="494.3" cy="648.6" r="0.7"/><circle cx="495.0" cy="663.7" r="0.6"/><circle cx="491.5" cy="657.2" r="0.7"/><circle cx="497.9" cy="685.9" r="0.9"/><circle cx="443.1" cy="653.4" r="0.9"/><circle cx="461.6" cy="685.9" r="0.8"/><circle cx="476.1" cy="686.3" r="0.9"/><circle cx="446.9" cy="652.4" r="0.6"/><circle cx="489.5" cy="687.3" r="0.8"/><circle cx="492.8" cy="685.6" r="0.7"/><circle cx="444.2" cy="687.7" r="0.9"/><circle cx="483.4" cy="671.6" r="0.7"/><circle cx="473.4" cy="693.6" r="1.0"/><circle cx="457.9" cy="683.3" r="0.6"/><circle cx="488.8" cy="641.6" r="0.8"/><circle cx="490.2" cy="652.2" r="0.9"/><circle cx="472.5" cy="647.2" r="0.8"/><circle cx="496.1" cy="696.1" r="0.7"/><circle cx="488.5" cy="685.6" r="0.5"/><circle cx="463.7" cy="666.6" r="0.6"/><circle cx="449.1" cy="642.3" r="0.6"/><circle cx="488.5" cy="640.2" r="1.0"/><circle cx="476.2" cy="668.1" r="0.7"/><circle cx="476.8" cy="642.0" r="0.7"/><circle cx="459.1" cy="677.3" r="0.8"/><circle cx="452.7" cy="690.7" r="0.9"/><circle cx="470.1" cy="655.5" r="0.8"/><circle cx="446.4" cy="659.1" r="0.9"/><circle cx="488.9" cy="691.1" r="0.8"/><circle cx="447.4" cy="642.4" r="0.9"/><circle cx="491.8" cy="658.6" r="0.7"/><circle cx="445.1" cy="648.5" r="0.9"/><circle cx="485.7" cy="660.3" r="0.9"/><circle cx="478.9" cy="643.9" r="0.8"/><circle cx="460.1" cy="646.0" r="1.0"/><circle cx="484.1" cy="640.1" r="0.7"/><circle cx="475.0" cy="645.6" r="0.8"/><circle cx="470.3" cy="641.3" r="0.9"/><circle cx="447.3" cy="673.2" r="0.6"/><circle cx="449.3" cy="641.7" r="0.8"/><circle cx="477.2" cy="650.6" r="0.5"/><circle cx="479.1" cy="647.0" r="0.5"/><circle cx="495.9" cy="675.0" r="1.0"/><circle cx="481.7" cy="655.5" r="0.6"/><circle cx="471.0" cy="664.5" r="0.8"/><circle cx="473.1" cy="650.7" r="0.9"/><circle cx="493.8" cy="693.2" r="0.7"/><circle cx="463.1" cy="666.6" r="0.9"/><circle cx="451.0" cy="652.3" r="0.6"/></g><g fill="#2038d8"><circle cx="484.1" cy="673.3" r="0.9"/><circle cx="461.9" cy="673.6" r="1.0"/><circle cx="477.3" cy="691.6" r="0.8"/><circle cx="494.4" cy="680.1" r="0.8"/><circle cx="495.3" cy="656.1" r="0.9"/><circle cx="490.3" cy="694.4" r="0.7"/><circle cx="468.3" cy="644.7" r="0.5"/><circle cx="497.7" cy="664.6" r="0.8"/><circle cx="469.5" cy="648.6" r="0.6"/><circle cx="487.2" cy="691.6" r="0.7"/><circle cx="473.0" cy="679.3" r="0.8"/><circle cx="496.3" cy="655.3" r="0.8"/><circle cx="499.4" cy="693.5" r="0.7"/><circle cx="447.1" cy="658.2" r="0.7"/><circle cx="474.2" cy="695.4" r="0.7"/><circle cx="498.6" cy="686.7" r="0.8"/><circle cx="470.2" cy="646.4" r="0.6"/><circle cx="471.9" cy="689.9" r="0.8"/><circle cx="451.3" cy="659.0" r="0.8"/><circle cx="469.3" cy="642.5" r="0.7"/><circle cx="458.2" cy="650.1" r="0.6"/><circle cx="496.2" cy="655.6" r="0.8"/><circle cx="472.8" cy="646.4" r="0.8"/><circle cx="495.4" cy="688.1" r="0.6"/><circle cx="493.5" cy="679.5" r="0.8"/><circle cx="457.3" cy="659.7" r="0.7"/><circle cx="490.0" cy="692.7" r="1.0"/><circle cx="494.7" cy="687.4" r="0.6"/><circle cx="483.3" cy="685.3" r="0.6"/><circle cx="475.2" cy="649.7" r="0.9"/><circle cx="471.8" cy="663.1" r="0.8"/><circle cx="479.7" cy="650.9" r="0.7"/><circle cx="446.6" cy="646.3" r="0.8"/><circle cx="463.5" cy="690.8" r="0.6"/><circle cx="457.1" cy="655.2" r="1.0"/><circle cx="475.0" cy="680.2" r="0.8"/><circle cx="491.3" cy="658.7" r="0.8"/><circle cx="488.6" cy="671.3" r="0.6"/><circle cx="455.7" cy="645.9" r="1.0"/><circle cx="493.7" cy="659.0" r="0.5"/><circle cx="454.9" cy="695.0" r="0.8"/><circle cx="458.7" cy="665.8" r="1.0"/><circle cx="485.6" cy="690.3" r="0.7"/><circle cx="498.0" cy="676.9" r="0.8"/><circle cx="471.0" cy="640.3" r="0.9"/><circle cx="457.6" cy="697.3" r="0.5"/><circle cx="489.5" cy="651.9" r="0.9"/><circle cx="498.6" cy="688.7" r="0.5"/><circle cx="457.0" cy="641.6" r="0.8"/><circle cx="486.1" cy="639.7" r="0.9"/><circle cx="479.9" cy="662.5" r="0.6"/><circle cx="466.0" cy="662.8" r="0.7"/><circle cx="461.2" cy="671.9" r="1.0"/><circle cx="493.3" cy="682.7" r="0.9"/><circle cx="490.8" cy="647.9" r="0.9"/><circle cx="495.5" cy="658.0" r="0.9"/><circle cx="475.3" cy="690.5" r="0.6"/><circle cx="486.5" cy="664.4" r="0.7"/><circle cx="496.3" cy="687.5" r="0.9"/><circle cx="454.4" cy="653.4" r="0.9"/><circle cx="466.4" cy="644.5" r="0.9"/><circle cx="477.2" cy="676.3" r="0.8"/><circle cx="499.1" cy="678.4" r="0.5"/><circle cx="457.9" cy="680.6" r="0.9"/><circle cx="469.3" cy="677.9" r="0.8"/><circle cx="485.7" cy="655.7" r="0.8"/><circle cx="479.9" cy="654.2" r="0.6"/><circle cx="451.1" cy="652.2" r="0.8"/><circle cx="494.9" cy="687.1" r="0.7"/><circle cx="465.0" cy="670.2" r="0.5"/><circle cx="497.3" cy="642.8" r="0.7"/><circle cx="463.0" cy="666.9" r="0.6"/><circle cx="454.8" cy="642.2" r="0.7"/><circle cx="496.7" cy="688.7" r="0.6"/><circle cx="453.1" cy="690.2" r="0.6"/><circle cx="448.2" cy="650.0" r="0.7"/><circle cx="479.2" cy="655.6" r="0.7"/><circle cx="443.0" cy="657.3" r="0.9"/><circle cx="497.4" cy="666.5" r="1.0"/><circle cx="466.6" cy="675.7" r="0.8"/><circle cx="469.4" cy="640.6" r="0.7"/><circle cx="471.9" cy="696.7" r="0.7"/><circle cx="473.3" cy="655.4" r="0.9"/><circle cx="451.4" cy="652.4" r="0.6"/><circle cx="444.2" cy="685.7" r="0.9"/><circle cx="494.1" cy="667.1" r="0.5"/><circle cx="483.5" cy="684.0" r="0.8"/><circle cx="448.6" cy="676.3" r="0.9"/><circle cx="492.1" cy="687.1" r="0.7"/><circle cx="495.7" cy="652.4" r="0.8"/><circle cx="448.7" cy="652.3" r="0.9"/><circle cx="488.4" cy="696.8" r="0.5"/><circle cx="466.5" cy="645.0" r="1.0"/><circle cx="462.9" cy="659.9" r="0.5"/><circle cx="457.9" cy="693.7" r="0.9"/><circle cx="481.6" cy="657.3" r="0.8"/><circle cx="483.2" cy="650.4" r="1.0"/><circle cx="490.8" cy="687.9" r="0.8"/><circle cx="476.1" cy="664.6" r="0.9"/><circle cx="445.9" cy="668.7" r="0.7"/><circle cx="448.0" cy="676.5" r="0.9"/><circle cx="496.9" cy="681.9" r="0.7"/><circle cx="476.2" cy="680.4" r="0.7"/><circle cx="469.1" cy="658.3" r="0.6"/><circle cx="472.8" cy="646.1" r="0.7"/><circle cx="474.2" cy="684.1" r="1.0"/><circle cx="499.4" cy="679.0" r="0.8"/><circle cx="453.9" cy="662.0" r="1.0"/><circle cx="495.9" cy="672.9" r="0.6"/></g></g></g>
<rect x="382.7" y="699.6" width="57.7" height="58.2" fill="#0c0e2c"/>
<clipPath id="cd3"><rect x="382.7" y="699.6" width="57.7" height="58.2"/></clipPath>
<g clip-path="url(#cd3)"><g filter="url(#mb)"><g fill="#1428b8"><circle cx="409.5" cy="743.9" r="0.6"/><circle cx="414.3" cy="754.4" r="0.7"/><circle cx="405.7" cy="715.6" r="0.6"/><circle cx="406.2" cy="700.2" r="0.9"/><circle cx="395.3" cy="751.1" r="0.9"/><circle cx="389.9" cy="700.5" r="1.0"/><circle cx="416.0" cy="705.6" r="0.6"/><circle cx="418.2" cy="713.7" r="1.0"/><circle cx="382.8" cy="726.8" r="0.8"/><circle cx="415.6" cy="755.2" r="0.6"/><circle cx="403.5" cy="739.5" r="0.9"/><circle cx="437.4" cy="723.9" r="0.7"/><circle cx="427.6" cy="747.2" r="0.6"/><circle cx="426.4" cy="733.3" r="0.9"/><circle cx="422.0" cy="753.6" r="1.0"/><circle cx="408.7" cy="702.9" r="0.6"/><circle cx="394.6" cy="703.0" r="0.9"/><circle cx="438.0" cy="754.5" r="1.0"/><circle cx="417.0" cy="738.3" r="0.9"/><circle cx="408.9" cy="706.0" r="0.8"/><circle cx="413.6" cy="730.3" r="0.7"/><circle cx="418.4" cy="703.0" r="0.9"/><circle cx="425.2" cy="712.7" r="1.0"/><circle cx="437.3" cy="730.2" r="0.7"/><circle cx="415.7" cy="741.7" r="0.6"/><circle cx="413.1" cy="711.3" r="1.0"/><circle cx="438.4" cy="711.5" r="1.0"/><circle cx="424.8" cy="706.8" r="0.9"/><circle cx="418.2" cy="752.6" r="0.7"/><circle cx="406.5" cy="720.5" r="0.7"/><circle cx="406.0" cy="739.2" r="0.7"/><circle cx="413.9" cy="722.6" r="0.7"/><circle cx="416.9" cy="735.4" r="0.9"/><circle cx="405.6" cy="711.5" r="0.7"/><circle cx="389.6" cy="709.2" r="0.8"/><circle cx="418.7" cy="746.8" r="0.7"/><circle cx="414.2" cy="748.0" r="0.8"/><circle cx="417.5" cy="731.6" r="0.7"/><circle cx="438.8" cy="703.3" r="0.9"/><circle cx="402.3" cy="730.1" r="0.9"/><circle cx="439.1" cy="703.8" r="0.7"/><circle cx="394.8" cy="702.0" r="1.0"/><circle cx="412.5" cy="746.7" r="0.7"/><circle cx="418.0" cy="715.3" r="0.7"/><circle cx="396.4" cy="731.3" r="1.0"/><circle cx="420.9" cy="703.9" r="0.8"/><circle cx="440.0" cy="743.0" r="1.0"/><circle cx="387.3" cy="723.9" r="1.0"/><circle cx="413.8" cy="721.3" r="0.9"/><circle cx="392.0" cy="710.6" r="1.0"/><circle cx="432.1" cy="713.7" r="0.7"/><circle cx="420.3" cy="738.2" r="0.8"/><circle cx="387.2" cy="744.3" r="0.9"/><circle cx="438.2" cy="754.5" r="0.9"/><circle cx="392.0" cy="730.9" r="0.6"/><circle cx="394.2" cy="714.1" r="0.7"/><circle cx="402.3" cy="710.1" r="1.0"/><circle cx="388.7" cy="711.9" r="0.8"/><circle cx="392.5" cy="713.6" r="1.0"/><circle cx="400.8" cy="742.8" r="1.0"/><circle cx="423.1" cy="751.8" r="1.0"/><circle cx="409.1" cy="710.7" r="1.0"/><circle cx="394.1" cy="747.9" r="0.9"/><circle cx="433.0" cy="714.8" r="0.8"/><circle cx="409.7" cy="720.6" r="1.0"/><circle cx="388.1" cy="702.4" r="0.9"/><circle cx="394.1" cy="736.1" r="1.0"/><circle cx="437.7" cy="740.9" r="1.0"/><circle cx="422.8" cy="757.7" r="0.6"/><circle cx="402.1" cy="731.5" r="0.6"/><circle cx="405.1" cy="732.0" r="0.6"/><circle cx="419.9" cy="707.1" r="0.8"/><circle cx="410.9" cy="729.8" r="0.9"/><circle cx="396.6" cy="739.2" r="0.6"/><circle cx="396.2" cy="706.1" r="0.6"/><circle cx="430.4" cy="716.4" r="1.0"/><circle cx="434.3" cy="713.3" r="1.0"/><circle cx="435.1" cy="726.3" r="0.7"/><circle cx="401.9" cy="727.2" r="0.8"/><circle cx="386.5" cy="707.9" r="0.6"/><circle cx="401.8" cy="711.8" r="0.6"/><circle cx="437.6" cy="727.5" r="0.9"/><circle cx="439.8" cy="746.8" r="0.7"/><circle cx="395.3" cy="703.4" r="0.8"/><circle cx="432.5" cy="752.8" r="0.8"/><circle cx="413.1" cy="714.2" r="0.8"/><circle cx="432.7" cy="700.2" r="0.8"/><circle cx="418.5" cy="731.8" r="0.9"/><circle cx="432.9" cy="723.2" r="0.9"/><circle cx="425.8" cy="715.1" r="0.9"/><circle cx="428.9" cy="735.2" r="0.6"/><circle cx="421.3" cy="748.0" r="0.6"/><circle cx="415.4" cy="748.4" r="1.0"/><circle cx="424.9" cy="723.5" r="1.0"/><circle cx="405.7" cy="727.1" r="0.7"/><circle cx="396.7" cy="747.6" r="0.7"/><circle cx="388.9" cy="706.3" r="0.6"/><circle cx="399.3" cy="746.4" r="0.8"/><circle cx="408.1" cy="718.8" r="0.6"/><circle cx="402.3" cy="712.4" r="1.0"/><circle cx="389.9" cy="703.9" r="0.7"/><circle cx="416.5" cy="750.5" r="0.9"/><circle cx="403.3" cy="716.8" r="0.9"/><circle cx="403.7" cy="717.2" r="0.7"/><circle cx="401.6" cy="709.3" r="0.9"/><circle cx="383.3" cy="719.5" r="0.9"/><circle cx="414.3" cy="747.1" r="0.9"/><circle cx="413.7" cy="712.6" r="0.6"/><circle cx="404.5" cy="740.5" r="1.0"/><circle cx="433.8" cy="757.5" r="1.0"/><circle cx="408.6" cy="754.7" r="0.7"/><circle cx="412.2" cy="710.2" r="0.9"/><circle cx="394.8" cy="704.2" r="0.9"/><circle cx="429.1" cy="741.8" r="0.6"/><circle cx="435.8" cy="753.1" r="0.6"/><circle cx="415.6" cy="740.2" r="0.7"/><circle cx="418.9" cy="730.5" r="0.7"/><circle cx="396.0" cy="706.2" r="0.8"/><circle cx="410.7" cy="737.8" r="1.0"/><circle cx="429.0" cy="751.9" r="0.8"/><circle cx="406.7" cy="711.7" r="0.7"/><circle cx="396.2" cy="708.5" r="0.6"/><circle cx="435.2" cy="741.4" r="0.6"/><circle cx="399.7" cy="702.9" r="0.8"/><circle cx="429.4" cy="751.6" r="0.9"/><circle cx="400.7" cy="752.1" r="1.0"/><circle cx="405.4" cy="734.0" r="0.6"/><circle cx="398.9" cy="727.2" r="1.0"/><circle cx="423.3" cy="741.8" r="0.6"/><circle cx="385.2" cy="728.5" r="0.6"/><circle cx="421.3" cy="754.2" r="0.7"/><circle cx="411.2" cy="743.4" r="0.8"/><circle cx="439.9" cy="705.1" r="1.0"/><circle cx="440.1" cy="700.0" r="0.7"/><circle cx="389.4" cy="733.1" r="0.8"/><circle cx="435.3" cy="757.1" r="1.0"/><circle cx="401.4" cy="746.6" r="0.7"/><circle cx="403.3" cy="727.8" r="0.7"/><circle cx="400.5" cy="712.3" r="1.0"/><circle cx="416.2" cy="743.1" r="0.6"/><circle cx="436.1" cy="710.3" r="0.9"/><circle cx="420.3" cy="715.1" r="0.8"/><circle cx="433.2" cy="730.5" r="0.6"/><circle cx="398.9" cy="710.6" r="0.9"/><circle cx="430.4" cy="753.3" r="1.0"/><circle cx="382.9" cy="738.1" r="0.6"/><circle cx="408.6" cy="701.0" r="0.6"/><circle cx="402.3" cy="717.2" r="0.9"/><circle cx="400.8" cy="757.6" r="0.8"/><circle cx="425.9" cy="743.8" r="0.9"/><circle cx="425.0" cy="704.4" r="0.8"/><circle cx="396.8" cy="708.7" r="0.8"/><circle cx="430.0" cy="721.9" r="1.0"/><circle cx="411.4" cy="754.8" r="0.7"/><circle cx="390.4" cy="753.2" r="0.6"/><circle cx="401.1" cy="749.7" r="0.8"/><circle cx="427.7" cy="756.7" r="1.0"/><circle cx="389.4" cy="732.5" r="0.7"/><circle cx="430.4" cy="716.4" r="0.6"/><circle cx="404.2" cy="725.6" r="1.0"/><circle cx="402.9" cy="713.6" r="0.7"/><circle cx="428.9" cy="751.2" r="0.7"/><circle cx="434.3" cy="728.4" r="0.9"/><circle cx="409.1" cy="756.5" r="0.7"/><circle cx="437.9" cy="731.3" r="0.8"/><circle cx="430.2" cy="755.1" r="0.6"/><circle cx="384.8" cy="720.6" r="0.7"/><circle cx="398.0" cy="731.1" r="0.6"/><circle cx="419.9" cy="746.6" r="0.9"/><circle cx="395.6" cy="716.1" r="0.7"/><circle cx="415.8" cy="700.9" r="0.8"/><circle cx="383.2" cy="702.4" r="1.0"/><circle cx="399.7" cy="724.5" r="0.9"/><circle cx="395.4" cy="720.4" r="0.9"/><circle cx="394.3" cy="736.8" r="0.6"/><circle cx="437.5" cy="711.8" r="0.7"/><circle cx="407.5" cy="729.3" r="0.9"/><circle cx="419.0" cy="708.3" r="0.7"/><circle cx="437.7" cy="749.0" r="1.0"/><circle cx="439.4" cy="721.1" r="1.0"/><circle cx="388.5" cy="749.6" r="1.0"/><circle cx="420.5" cy="723.3" r="0.6"/><circle cx="392.0" cy="702.3" r="1.0"/><circle cx="436.5" cy="724.0" r="0.8"/><circle cx="400.1" cy="702.7" r="0.7"/><circle cx="434.7" cy="717.0" r="0.6"/><circle cx="421.1" cy="725.0" r="0.6"/><circle cx="411.1" cy="728.1" r="0.9"/><circle cx="394.9" cy="714.8" r="0.7"/><circle cx="430.3" cy="704.1" r="0.9"/><circle cx="397.3" cy="732.2" r="0.9"/><circle cx="428.3" cy="737.9" r="0.9"/><circle cx="418.6" cy="719.1" r="0.8"/><circle cx="425.4" cy="748.5" r="0.9"/><circle cx="389.4" cy="739.9" r="1.0"/><circle cx="396.3" cy="753.9" r="0.8"/><circle cx="387.9" cy="742.9" r="0.8"/><circle cx="439.4" cy="712.6" r="1.0"/><circle cx="436.4" cy="729.2" r="1.0"/><circle cx="421.8" cy="726.2" r="0.9"/><circle cx="440.4" cy="748.0" r="0.8"/><circle cx="421.7" cy="710.4" r="0.8"/><circle cx="435.8" cy="750.0" r="0.9"/><circle cx="391.5" cy="717.2" r="0.8"/><circle cx="399.2" cy="706.5" r="0.6"/><circle cx="406.4" cy="703.4" r="0.7"/><circle cx="392.9" cy="734.9" r="0.8"/><circle cx="397.3" cy="740.3" r="0.7"/><circle cx="405.7" cy="752.2" r="0.6"/><circle cx="393.2" cy="748.9" r="0.7"/><circle cx="405.6" cy="739.1" r="0.6"/><circle cx="417.1" cy="715.8" r="0.9"/><circle cx="399.6" cy="735.1" r="0.7"/><circle cx="424.2" cy="741.4" r="0.9"/><circle cx="420.3" cy="753.9" r="0.7"/><circle cx="416.6" cy="702.6" r="1.0"/><circle cx="419.1" cy="751.9" r="1.0"/><circle cx="437.8" cy="738.8" r="0.8"/><circle cx="411.8" cy="742.1" r="0.8"/><circle cx="439.5" cy="724.7" r="1.0"/><circle cx="433.8" cy="716.4" r="1.0"/><circle cx="415.3" cy="733.3" r="1.0"/><circle cx="393.1" cy="734.6" r="0.6"/><circle cx="435.0" cy="706.7" r="0.6"/><circle cx="438.0" cy="722.3" r="1.0"/><circle cx="388.8" cy="747.4" r="0.7"/><circle cx="416.7" cy="752.4" r="0.8"/><circle cx="406.2" cy="743.1" r="0.7"/><circle cx="429.4" cy="752.3" r="0.9"/><circle cx="405.3" cy="740.0" r="0.8"/><circle cx="422.4" cy="757.8" r="1.0"/><circle cx="384.3" cy="751.8" r="0.8"/><circle cx="392.0" cy="757.1" r="0.8"/><circle cx="435.9" cy="707.4" r="0.6"/><circle cx="415.2" cy="711.3" r="0.8"/><circle cx="427.3" cy="726.4" r="1.0"/><circle cx="417.7" cy="738.3" r="1.0"/><circle cx="423.8" cy="722.1" r="0.6"/><circle cx="399.0" cy="721.2" r="0.6"/><circle cx="430.6" cy="722.7" r="1.0"/><circle cx="399.7" cy="738.7" r="0.8"/><circle cx="430.7" cy="702.4" r="0.8"/><circle cx="422.3" cy="712.0" r="1.0"/><circle cx="395.1" cy="742.0" r="0.8"/><circle cx="402.3" cy="706.0" r="0.9"/><circle cx="392.9" cy="729.7" r="1.0"/><circle cx="402.8" cy="723.6" r="1.0"/><circle cx="397.4" cy="713.2" r="0.7"/><circle cx="413.2" cy="720.4" r="0.7"/><circle cx="437.8" cy="708.7" r="0.6"/><circle cx="408.1" cy="708.6" r="1.0"/><circle cx="391.0" cy="705.7" r="0.6"/><circle cx="387.0" cy="717.5" r="1.0"/><circle cx="431.4" cy="702.7" r="1.0"/><circle cx="420.3" cy="711.4" r="0.8"/><circle cx="411.6" cy="747.2" r="1.0"/></g><g fill="#1830c8"><circle cx="400.0" cy="741.9" r="0.8"/><circle cx="433.7" cy="714.1" r="1.0"/><circle cx="436.9" cy="715.6" r="0.7"/><circle cx="401.2" cy="725.9" r="1.0"/><circle cx="421.8" cy="749.9" r="0.7"/><circle cx="413.1" cy="733.5" r="0.9"/><circle cx="403.7" cy="718.7" r="0.7"/><circle cx="421.4" cy="746.4" r="0.8"/><circle cx="423.5" cy="741.8" r="0.9"/><circle cx="430.1" cy="729.8" r="1.0"/><circle cx="405.8" cy="709.9" r="0.7"/><circle cx="396.3" cy="736.6" r="0.9"/><circle cx="399.2" cy="721.9" r="1.0"/><circle cx="396.0" cy="737.3" r="0.7"/><circle cx="430.0" cy="741.7" r="0.6"/><circle cx="409.2" cy="719.1" r="0.8"/><circle cx="412.7" cy="730.5" r="1.0"/><circle cx="394.0" cy="734.0" r="0.6"/><circle cx="422.0" cy="733.8" r="1.0"/><circle cx="430.9" cy="723.8" r="0.6"/><circle cx="427.1" cy="708.1" r="1.0"/><circle cx="411.1" cy="708.4" r="0.6"/><circle cx="397.7" cy="704.0" r="0.6"/><circle cx="416.9" cy="744.6" r="0.6"/><circle cx="419.4" cy="741.3" r="0.7"/><circle cx="433.0" cy="702.2" r="0.9"/><circle cx="418.9" cy="736.3" r="1.0"/><circle cx="413.0" cy="728.7" r="0.9"/><circle cx="432.8" cy="705.8" r="0.8"/><circle cx="384.0" cy="724.3" r="0.6"/><circle cx="386.6" cy="728.3" r="0.9"/><circle cx="415.1" cy="712.7" r="1.0"/><circle cx="392.6" cy="724.2" r="0.6"/><circle cx="413.0" cy="756.5" r="0.7"/><circle cx="430.1" cy="729.4" r="0.8"/><circle cx="385.3" cy="740.9" r="0.6"/><circle cx="404.4" cy="717.1" r="0.6"/><circle cx="411.1" cy="737.2" r="1.0"/><circle cx="425.0" cy="743.0" r="0.8"/><circle cx="410.5" cy="735.3" r="0.7"/><circle cx="400.0" cy="709.2" r="0.9"/><circle cx="399.9" cy="733.2" r="0.7"/><circle cx="405.8" cy="721.5" r="0.8"/><circle cx="413.5" cy="747.2" r="0.8"/><circle cx="438.7" cy="721.3" r="0.6"/><circle cx="394.9" cy="746.5" r="0.6"/><circle cx="426.4" cy="703.0" r="0.7"/><circle cx="403.4" cy="713.6" r="0.8"/><circle cx="410.5" cy="712.8" r="1.0"/><circle cx="405.3" cy="710.4" r="0.6"/><circle cx="436.8" cy="729.1" r="0.7"/><circle cx="398.1" cy="713.7" r="0.6"/><circle cx="415.1" cy="701.9" r="0.7"/><circle cx="435.6" cy="704.3" r="0.7"/><circle cx="412.1" cy="757.3" r="0.7"/><circle cx="439.1" cy="715.4" r="0.7"/><circle cx="431.9" cy="738.8" r="0.6"/><circle cx="426.9" cy="722.4" r="1.0"/><circle cx="394.8" cy="736.5" r="0.6"/><circle cx="425.1" cy="701.2" r="0.8"/><circle cx="440.3" cy="734.2" r="0.8"/><circle cx="399.3" cy="750.7" r="0.7"/><circle cx="382.8" cy="729.7" r="0.6"/><circle cx="424.7" cy="715.6" r="0.9"/><circle cx="423.0" cy="720.6" r="0.6"/><circle cx="414.6" cy="744.6" r="0.6"/><circle cx="420.9" cy="747.0" r="0.7"/><circle cx="439.3" cy="700.6" r="0.6"/><circle cx="432.0" cy="737.3" r="1.0"/><circle cx="415.9" cy="706.0" r="1.0"/><circle cx="426.4" cy="742.2" r="0.8"/><circle cx="420.7" cy="743.2" r="1.0"/><circle cx="420.0" cy="699.9" r="0.9"/><circle cx="438.8" cy="715.6" r="0.8"/><circle cx="420.5" cy="705.4" r="0.9"/><circle cx="423.9" cy="751.3" r="0.9"/><circle cx="406.2" cy="716.6" r="1.0"/><circle cx="438.1" cy="732.0" r="0.7"/><circle cx="409.4" cy="744.9" r="0.8"/><circle cx="389.0" cy="737.8" r="0.8"/><circle cx="413.2" cy="713.4" r="0.7"/><circle cx="385.2" cy="716.1" r="1.0"/><circle cx="393.3" cy="733.1" r="0.6"/><circle cx="407.7" cy="730.4" r="0.8"/><circle cx="418.0" cy="732.8" r="0.6"/><circle cx="399.4" cy="704.6" r="0.7"/><circle cx="437.9" cy="709.1" r="0.7"/><circle cx="411.1" cy="756.8" r="1.0"/><circle cx="440.0" cy="729.6" r="0.6"/><circle cx="403.3" cy="716.7" r="0.9"/><circle cx="427.2" cy="712.4" r="0.6"/><circle cx="389.5" cy="750.6" r="0.8"/><circle cx="403.2" cy="732.2" r="1.0"/><circle cx="420.1" cy="733.8" r="0.7"/><circle cx="417.2" cy="716.1" r="0.8"/><circle cx="433.4" cy="722.1" r="1.0"/><circle cx="388.9" cy="716.6" r="0.8"/><circle cx="427.9" cy="723.0" r="0.7"/><circle cx="437.1" cy="702.8" r="0.8"/><circle cx="429.0" cy="732.9" r="0.9"/><circle cx="398.8" cy="700.5" r="0.9"/><circle cx="385.8" cy="713.0" r="0.6"/><circle cx="437.7" cy="701.9" r="0.7"/><circle cx="429.8" cy="744.2" r="0.6"/><circle cx="437.3" cy="718.4" r="0.6"/><circle cx="418.4" cy="744.3" r="0.9"/><circle cx="432.8" cy="731.2" r="0.8"/><circle cx="434.8" cy="732.5" r="1.0"/><circle cx="433.0" cy="720.3" r="0.6"/><circle cx="416.3" cy="736.9" r="0.9"/><circle cx="389.8" cy="728.9" r="0.8"/><circle cx="392.2" cy="716.6" r="0.8"/><circle cx="402.1" cy="716.1" r="1.0"/><circle cx="407.1" cy="738.8" r="0.8"/><circle cx="429.5" cy="730.7" r="0.8"/><circle cx="434.3" cy="709.8" r="0.6"/><circle cx="401.5" cy="710.4" r="0.9"/><circle cx="385.0" cy="709.3" r="0.9"/><circle cx="424.3" cy="726.7" r="0.8"/><circle cx="403.0" cy="718.2" r="0.7"/><circle cx="412.2" cy="730.7" r="0.6"/><circle cx="422.1" cy="751.5" r="0.8"/><circle cx="413.9" cy="722.5" r="1.0"/><circle cx="434.7" cy="707.0" r="0.9"/><circle cx="420.6" cy="744.3" r="0.9"/><circle cx="384.3" cy="736.4" r="1.0"/><circle cx="418.4" cy="723.2" r="0.6"/><circle cx="404.7" cy="724.4" r="0.7"/><circle cx="405.2" cy="713.4" r="1.0"/><circle cx="392.5" cy="729.2" r="0.8"/><circle cx="397.5" cy="733.6" r="0.7"/><circle cx="435.4" cy="721.2" r="0.6"/><circle cx="399.1" cy="745.5" r="0.7"/><circle cx="403.3" cy="741.3" r="0.8"/><circle cx="431.8" cy="723.8" r="0.8"/><circle cx="410.7" cy="741.6" r="0.7"/><circle cx="429.2" cy="745.0" r="0.6"/><circle cx="439.2" cy="711.1" r="0.9"/><circle cx="389.3" cy="721.5" r="1.0"/><circle cx="426.5" cy="757.5" r="1.0"/><circle cx="419.8" cy="724.1" r="0.7"/><circle cx="426.9" cy="746.6" r="0.8"/><circle cx="394.0" cy="752.5" r="0.6"/><circle cx="415.8" cy="721.0" r="1.0"/><circle cx="406.6" cy="750.8" r="0.8"/><circle cx="388.5" cy="720.6" r="1.0"/><circle cx="394.1" cy="708.9" r="0.8"/><circle cx="410.1" cy="705.5" r="0.9"/><circle cx="404.3" cy="750.3" r="0.7"/><circle cx="401.4" cy="714.9" r="0.6"/><circle cx="413.0" cy="710.3" r="0.6"/><circle cx="430.5" cy="704.9" r="1.0"/><circle cx="432.1" cy="726.0" r="0.8"/><circle cx="422.5" cy="720.6" r="0.6"/><circle cx="437.1" cy="731.6" r="1.0"/><circle cx="397.6" cy="705.8" r="0.6"/><circle cx="425.4" cy="707.0" r="0.6"/><circle cx="431.2" cy="715.3" r="1.0"/><circle cx="433.6" cy="726.4" r="0.8"/><circle cx="399.0" cy="726.6" r="0.6"/><circle cx="417.4" cy="716.0" r="0.6"/><circle cx="412.6" cy="710.8" r="0.7"/><circle cx="388.5" cy="728.8" r="0.9"/><circle cx="434.4" cy="747.5" r="0.6"/><circle cx="389.8" cy="730.3" r="0.8"/><circle cx="430.6" cy="729.0" r="0.9"/><circle cx="414.3" cy="742.3" r="1.0"/><circle cx="428.8" cy="732.4" r="0.6"/><circle cx="408.6" cy="749.6" r="0.7"/><circle cx="423.3" cy="716.7" r="1.0"/><circle cx="413.3" cy="751.4" r="0.8"/><circle cx="422.3" cy="700.1" r="0.6"/><circle cx="424.2" cy="754.8" r="0.6"/><circle cx="429.3" cy="706.3" r="0.6"/><circle cx="438.8" cy="734.9" r="0.6"/><circle cx="424.0" cy="748.7" r="0.8"/><circle cx="409.3" cy="739.8" r="0.6"/><circle cx="436.4" cy="702.1" r="0.8"/><circle cx="404.4" cy="705.6" r="0.9"/><circle cx="393.3" cy="726.3" r="1.0"/><circle cx="404.6" cy="757.7" r="0.8"/><circle cx="422.9" cy="711.9" r="1.0"/><circle cx="394.4" cy="723.1" r="0.8"/><circle cx="424.4" cy="743.9" r="0.8"/><circle cx="419.3" cy="751.5" r="1.0"/><circle cx="389.7" cy="702.4" r="0.9"/><circle cx="392.7" cy="706.3" r="0.7"/><circle cx="426.7" cy="756.5" r="1.0"/><circle cx="430.1" cy="720.2" r="0.6"/><circle cx="417.6" cy="735.3" r="0.6"/><circle cx="426.1" cy="748.0" r="0.7"/><circle cx="405.9" cy="752.8" r="0.7"/><circle cx="424.0" cy="721.3" r="0.9"/><circle cx="416.1" cy="729.1" r="0.7"/><circle cx="435.7" cy="754.9" r="0.9"/><circle cx="391.7" cy="755.0" r="0.9"/><circle cx="407.2" cy="725.3" r="0.6"/><circle cx="395.1" cy="704.2" r="1.0"/><circle cx="387.5" cy="753.1" r="0.6"/><circle cx="385.8" cy="700.7" r="1.0"/><circle cx="399.6" cy="709.2" r="0.7"/><circle cx="403.0" cy="720.4" r="0.6"/><circle cx="434.7" cy="746.4" r="0.8"/><circle cx="406.0" cy="721.9" r="1.0"/><circle cx="418.9" cy="740.8" r="0.7"/><circle cx="401.9" cy="717.5" r="0.7"/><circle cx="392.3" cy="721.3" r="0.9"/><circle cx="413.5" cy="734.6" r="0.7"/><circle cx="425.5" cy="716.5" r="0.6"/><circle cx="399.4" cy="742.0" r="0.9"/><circle cx="417.6" cy="736.9" r="1.0"/><circle cx="414.3" cy="746.3" r="0.6"/><circle cx="434.0" cy="699.9" r="1.0"/><circle cx="431.2" cy="756.6" r="0.7"/><circle cx="420.6" cy="744.5" r="1.0"/><circle cx="423.2" cy="714.5" r="0.6"/><circle cx="430.6" cy="704.1" r="0.8"/><circle cx="406.3" cy="723.3" r="0.7"/><circle cx="438.3" cy="700.4" r="0.9"/><circle cx="411.5" cy="702.5" r="0.8"/><circle cx="384.8" cy="704.6" r="0.9"/><circle cx="402.8" cy="736.2" r="0.6"/><circle cx="419.5" cy="722.0" r="0.7"/><circle cx="393.0" cy="711.0" r="0.6"/><circle cx="415.9" cy="752.9" r="0.8"/><circle cx="397.9" cy="742.9" r="0.7"/><circle cx="397.3" cy="715.5" r="0.8"/><circle cx="392.1" cy="735.8" r="1.0"/><circle cx="436.8" cy="711.1" r="0.9"/><circle cx="432.1" cy="751.2" r="0.9"/><circle cx="399.0" cy="729.3" r="1.0"/><circle cx="395.8" cy="705.8" r="0.7"/><circle cx="401.9" cy="704.4" r="0.6"/><circle cx="436.4" cy="750.9" r="0.7"/><circle cx="437.4" cy="718.8" r="1.0"/><circle cx="421.1" cy="725.4" r="0.8"/><circle cx="406.4" cy="710.9" r="1.0"/><circle cx="416.1" cy="735.6" r="1.0"/><circle cx="390.4" cy="711.7" r="0.8"/><circle cx="387.9" cy="750.1" r="0.8"/><circle cx="410.4" cy="734.0" r="0.8"/><circle cx="411.2" cy="715.0" r="1.0"/><circle cx="432.1" cy="715.2" r="0.6"/><circle cx="394.3" cy="749.9" r="1.0"/><circle cx="404.8" cy="730.0" r="0.7"/><circle cx="427.6" cy="709.6" r="0.9"/><circle cx="424.0" cy="701.1" r="0.8"/><circle cx="432.6" cy="718.5" r="0.8"/><circle cx="418.7" cy="704.6" r="0.6"/><circle cx="430.7" cy="740.9" r="0.6"/><circle cx="435.5" cy="725.0" r="0.7"/><circle cx="383.9" cy="700.3" r="0.6"/><circle cx="419.8" cy="700.6" r="0.8"/><circle cx="409.8" cy="720.4" r="0.6"/><circle cx="405.7" cy="750.1" r="1.0"/><circle cx="440.1" cy="726.1" r="0.9"/><circle cx="435.2" cy="746.5" r="0.6"/><circle cx="426.8" cy="725.9" r="0.7"/><circle cx="421.7" cy="734.3" r="0.6"/><circle cx="391.9" cy="711.0" r="1.0"/><circle cx="423.4" cy="701.5" r="0.9"/><circle cx="401.4" cy="747.8" r="0.7"/></g><g fill="#1020a0"><circle cx="387.2" cy="749.6" r="1.0"/><circle cx="417.6" cy="706.2" r="1.0"/><circle cx="421.4" cy="718.1" r="0.6"/><circle cx="392.1" cy="725.2" r="0.6"/><circle cx="389.0" cy="735.3" r="0.8"/><circle cx="425.8" cy="725.4" r="0.7"/><circle cx="425.6" cy="733.7" r="0.6"/><circle cx="432.9" cy="703.8" r="0.7"/><circle cx="397.9" cy="745.2" r="1.0"/><circle cx="386.9" cy="720.1" r="0.9"/><circle cx="422.3" cy="727.6" r="0.7"/><circle cx="427.5" cy="738.1" r="0.9"/><circle cx="433.3" cy="725.4" r="1.0"/><circle cx="397.8" cy="738.4" r="1.0"/><circle cx="431.9" cy="708.4" r="0.8"/><circle cx="415.2" cy="757.1" r="1.0"/><circle cx="438.3" cy="720.6" r="1.0"/><circle cx="403.1" cy="705.9" r="0.9"/><circle cx="396.8" cy="708.7" r="0.6"/><circle cx="418.8" cy="705.2" r="1.0"/><circle cx="423.8" cy="717.0" r="0.9"/><circle cx="421.9" cy="711.5" r="0.7"/><circle cx="436.4" cy="750.0" r="0.6"/><circle cx="433.0" cy="749.1" r="1.0"/><circle cx="406.4" cy="732.4" r="1.0"/><circle cx="428.9" cy="732.6" r="1.0"/><circle cx="420.9" cy="727.2" r="0.7"/><circle cx="398.9" cy="730.6" r="0.8"/><circle cx="425.0" cy="730.4" r="0.8"/><circle cx="420.6" cy="741.2" r="0.9"/><circle cx="419.0" cy="708.9" r="1.0"/><circle cx="412.0" cy="706.6" r="1.0"/><circle cx="433.6" cy="736.6" r="0.9"/><circle cx="439.4" cy="722.6" r="0.8"/><circle cx="427.6" cy="726.8" r="0.7"/><circle cx="396.4" cy="750.2" r="0.6"/><circle cx="433.0" cy="757.2" r="0.9"/><circle cx="395.3" cy="737.5" r="0.9"/><circle cx="430.2" cy="744.3" r="0.6"/><circle cx="419.4" cy="742.7" r="0.9"/><circle cx="386.2" cy="746.7" r="1.0"/><circle cx="425.1" cy="701.2" r="1.0"/><circle cx="437.6" cy="705.8" r="0.6"/><circle cx="425.4" cy="710.6" r="0.9"/><circle cx="440.3" cy="721.8" r="1.0"/><circle cx="425.2" cy="699.9" r="0.9"/><circle cx="418.3" cy="701.6" r="1.0"/><circle cx="385.0" cy="709.2" r="0.9"/><circle cx="403.7" cy="710.4" r="0.6"/><circle cx="409.1" cy="725.6" r="1.0"/><circle cx="416.4" cy="756.8" r="0.7"/><circle cx="424.6" cy="756.5" r="0.9"/><circle cx="439.2" cy="750.8" r="1.0"/><circle cx="407.5" cy="745.8" r="0.7"/><circle cx="435.5" cy="739.2" r="1.0"/><circle cx="396.3" cy="752.4" r="0.8"/><circle cx="419.8" cy="714.2" r="0.9"/><circle cx="428.2" cy="712.9" r="0.7"/><circle cx="432.3" cy="755.4" r="0.8"/><circle cx="422.8" cy="700.1" r="0.8"/><circle cx="387.5" cy="729.4" r="0.6"/><circle cx="436.2" cy="706.2" r="0.9"/><circle cx="400.3" cy="709.7" r="0.7"/><circle cx="418.6" cy="751.0" r="1.0"/><circle cx="411.3" cy="714.6" r="0.9"/><circle cx="425.1" cy="727.1" r="0.6"/><circle cx="408.0" cy="701.8" r="0.9"/><circle cx="402.7" cy="740.0" r="0.6"/><circle cx="433.0" cy="727.6" r="1.0"/><circle cx="436.9" cy="748.5" r="0.9"/><circle cx="386.1" cy="704.7" r="0.7"/><circle cx="383.0" cy="702.0" r="0.9"/><circle cx="436.7" cy="747.0" r="0.6"/><circle cx="392.6" cy="741.9" r="1.0"/><circle cx="420.1" cy="729.9" r="0.8"/><circle cx="426.2" cy="722.2" r="0.9"/><circle cx="418.0" cy="729.0" r="0.7"/><circle cx="406.7" cy="751.7" r="0.7"/><circle cx="430.9" cy="719.4" r="0.9"/><circle cx="407.3" cy="753.4" r="1.0"/><circle cx="431.0" cy="757.1" r="0.6"/><circle cx="421.0" cy="707.0" r="0.7"/><circle cx="421.8" cy="731.4" r="0.9"/><circle cx="395.6" cy="746.2" r="0.7"/><circle cx="419.7" cy="725.9" r="0.7"/><circle cx="415.8" cy="717.7" r="0.8"/><circle cx="427.6" cy="726.0" r="0.7"/><circle cx="423.2" cy="701.0" r="0.6"/><circle cx="434.9" cy="700.9" r="0.8"/><circle cx="410.2" cy="728.5" r="1.0"/><circle cx="412.1" cy="735.7" r="0.8"/><circle cx="405.9" cy="744.2" r="0.7"/><circle cx="407.1" cy="701.6" r="1.0"/><circle cx="406.8" cy="737.2" r="1.0"/><circle cx="439.7" cy="726.9" r="0.6"/><circle cx="399.5" cy="712.2" r="0.9"/><circle cx="412.8" cy="714.1" r="0.9"/><circle cx="427.2" cy="708.1" r="0.8"/><circle cx="431.0" cy="735.4" r="0.9"/><circle cx="427.2" cy="727.9" r="0.6"/><circle cx="404.9" cy="742.4" r="0.8"/><circle cx="413.5" cy="747.9" r="1.0"/><circle cx="416.7" cy="751.9" r="1.0"/><circle cx="418.4" cy="701.6" r="0.7"/><circle cx="399.1" cy="712.7" r="1.0"/><circle cx="417.2" cy="749.9" r="0.9"/><circle cx="428.2" cy="707.1" r="0.9"/><circle cx="386.5" cy="719.6" r="0.9"/><circle cx="422.4" cy="718.9" r="0.9"/><circle cx="420.6" cy="715.4" r="0.6"/><circle cx="398.9" cy="734.0" r="0.8"/><circle cx="425.8" cy="743.4" r="0.6"/><circle cx="432.5" cy="710.9" r="0.9"/><circle cx="398.0" cy="726.5" r="0.7"/><circle cx="439.9" cy="717.3" r="0.6"/><circle cx="413.7" cy="721.6" r="0.6"/><circle cx="420.6" cy="702.5" r="0.7"/><circle cx="386.5" cy="710.1" r="0.7"/><circle cx="424.1" cy="750.7" r="0.8"/><circle cx="404.8" cy="729.2" r="0.9"/><circle cx="400.4" cy="730.8" r="0.7"/><circle cx="439.9" cy="756.7" r="0.9"/><circle cx="429.4" cy="735.3" r="1.0"/><circle cx="431.1" cy="729.9" r="0.8"/><circle cx="398.0" cy="708.9" r="0.7"/><circle cx="401.8" cy="755.4" r="0.9"/><circle cx="430.4" cy="745.2" r="1.0"/><circle cx="413.0" cy="711.2" r="0.6"/><circle cx="422.0" cy="708.9" r="0.6"/><circle cx="437.1" cy="702.9" r="0.9"/><circle cx="427.4" cy="703.3" r="1.0"/><circle cx="392.7" cy="721.4" r="1.0"/><circle cx="429.0" cy="727.4" r="0.7"/><circle cx="403.0" cy="700.1" r="0.7"/><circle cx="431.4" cy="710.4" r="0.8"/><circle cx="389.7" cy="705.8" r="0.6"/><circle cx="400.3" cy="747.4" r="0.7"/><circle cx="403.5" cy="714.6" r="0.9"/><circle cx="429.5" cy="746.5" r="1.0"/><circle cx="429.9" cy="732.1" r="1.0"/><circle cx="401.6" cy="745.5" r="0.7"/><circle cx="414.9" cy="711.3" r="1.0"/><circle cx="422.7" cy="743.9" r="0.6"/><circle cx="417.2" cy="701.2" r="0.7"/><circle cx="426.7" cy="744.2" r="1.0"/><circle cx="409.1" cy="740.2" r="0.6"/><circle cx="433.3" cy="711.3" r="1.0"/><circle cx="406.3" cy="713.5" r="0.8"/><circle cx="414.9" cy="706.1" r="0.6"/><circle cx="399.4" cy="730.3" r="0.9"/><circle cx="428.8" cy="748.2" r="0.7"/><circle cx="419.1" cy="720.3" r="1.0"/><circle cx="408.3" cy="729.3" r="0.9"/><circle cx="416.1" cy="724.0" r="0.6"/><circle cx="412.5" cy="755.5" r="0.9"/><circle cx="420.6" cy="709.9" r="0.8"/><circle cx="399.1" cy="710.7" r="0.6"/><circle cx="397.1" cy="745.5" r="0.8"/><circle cx="425.2" cy="725.9" r="0.7"/><circle cx="395.3" cy="728.3" r="0.8"/><circle cx="410.5" cy="746.4" r="0.7"/><circle cx="427.7" cy="750.0" r="1.0"/><circle cx="398.1" cy="736.8" r="0.6"/><circle cx="411.0" cy="720.2" r="0.8"/><circle cx="424.1" cy="711.5" r="0.7"/><circle cx="429.2" cy="705.4" r="0.7"/><circle cx="417.5" cy="709.6" r="0.9"/><circle cx="421.7" cy="707.6" r="0.6"/><circle cx="422.4" cy="737.1" r="1.0"/><circle cx="430.9" cy="736.0" r="0.6"/><circle cx="402.1" cy="729.6" r="0.8"/><circle cx="414.5" cy="721.4" r="0.9"/><circle cx="423.8" cy="711.2" r="0.8"/><circle cx="413.6" cy="739.9" r="0.6"/><circle cx="438.1" cy="736.5" r="1.0"/><circle cx="433.1" cy="732.3" r="0.9"/><circle cx="416.3" cy="745.6" r="1.0"/><circle cx="434.2" cy="732.4" r="0.8"/><circle cx="432.1" cy="699.9" r="0.6"/><circle cx="432.3" cy="743.9" r="0.7"/><circle cx="420.8" cy="740.7" r="0.6"/><circle cx="408.7" cy="748.2" r="0.8"/><circle cx="393.9" cy="708.7" r="0.8"/><circle cx="437.1" cy="749.7" r="0.9"/><circle cx="438.5" cy="735.4" r="0.9"/><circle cx="419.8" cy="750.0" r="0.7"/><circle cx="419.2" cy="748.1" r="0.7"/><circle cx="422.4" cy="744.4" r="0.6"/><circle cx="435.9" cy="705.5" r="0.8"/><circle cx="415.8" cy="720.7" r="0.7"/><circle cx="419.6" cy="752.6" r="1.0"/><circle cx="412.4" cy="730.9" r="0.6"/><circle cx="399.4" cy="749.4" r="1.0"/><circle cx="386.8" cy="719.5" r="0.6"/><circle cx="423.8" cy="711.0" r="0.9"/><circle cx="397.1" cy="728.3" r="0.7"/><circle cx="402.4" cy="725.8" r="0.7"/><circle cx="389.2" cy="739.3" r="1.0"/><circle cx="407.5" cy="746.6" r="0.7"/><circle cx="419.6" cy="704.1" r="0.8"/><circle cx="412.6" cy="701.9" r="1.0"/><circle cx="395.2" cy="708.1" r="1.0"/><circle cx="412.0" cy="747.8" r="0.9"/><circle cx="436.4" cy="732.4" r="1.0"/><circle cx="435.0" cy="738.2" r="0.6"/><circle cx="431.5" cy="717.3" r="0.7"/><circle cx="435.8" cy="711.7" r="1.0"/><circle cx="431.2" cy="724.9" r="0.8"/><circle cx="425.7" cy="713.9" r="1.0"/><circle cx="402.5" cy="757.7" r="0.8"/><circle cx="434.1" cy="725.8" r="0.6"/><circle cx="426.5" cy="726.4" r="0.8"/><circle cx="427.2" cy="701.3" r="0.8"/><circle cx="430.5" cy="719.6" r="0.6"/><circle cx="416.3" cy="742.0" r="1.0"/><circle cx="385.8" cy="748.8" r="1.0"/><circle cx="427.0" cy="717.9" r="1.0"/><circle cx="412.6" cy="728.3" r="0.9"/><circle cx="433.0" cy="738.4" r="1.0"/><circle cx="386.5" cy="728.2" r="1.0"/><circle cx="399.2" cy="752.6" r="0.6"/><circle cx="434.2" cy="722.6" r="0.8"/><circle cx="436.0" cy="747.1" r="1.0"/><circle cx="384.3" cy="749.6" r="0.9"/><circle cx="439.0" cy="755.9" r="1.0"/><circle cx="408.7" cy="707.9" r="1.0"/><circle cx="411.3" cy="702.0" r="0.6"/><circle cx="428.4" cy="730.1" r="0.6"/><circle cx="402.6" cy="748.9" r="0.7"/><circle cx="416.9" cy="715.4" r="1.0"/><circle cx="420.2" cy="742.9" r="1.0"/><circle cx="402.1" cy="708.5" r="0.8"/><circle cx="406.2" cy="706.6" r="0.6"/><circle cx="408.0" cy="703.7" r="0.9"/><circle cx="416.5" cy="754.5" r="0.9"/><circle cx="411.7" cy="711.4" r="0.7"/><circle cx="440.3" cy="701.2" r="0.6"/><circle cx="407.8" cy="723.9" r="1.0"/><circle cx="387.8" cy="710.3" r="0.7"/><circle cx="440.3" cy="713.2" r="0.8"/><circle cx="411.4" cy="701.9" r="0.6"/><circle cx="428.2" cy="730.1" r="0.7"/><circle cx="386.3" cy="722.6" r="0.6"/><circle cx="431.2" cy="738.2" r="0.7"/><circle cx="408.7" cy="729.0" r="0.9"/><circle cx="429.1" cy="721.0" r="0.6"/><circle cx="438.8" cy="741.2" r="0.9"/><circle cx="415.7" cy="727.6" r="0.8"/><circle cx="431.7" cy="723.1" r="0.6"/><circle cx="400.5" cy="714.0" r="0.6"/><circle cx="432.5" cy="712.4" r="0.7"/><circle cx="422.6" cy="702.7" r="0.6"/><circle cx="425.1" cy="731.1" r="0.6"/><circle cx="397.2" cy="754.5" r="0.8"/><circle cx="394.5" cy="713.4" r="0.8"/><circle cx="407.9" cy="716.7" r="0.8"/><circle cx="388.7" cy="703.5" r="0.9"/><circle cx="415.0" cy="721.3" r="1.0"/><circle cx="385.3" cy="740.2" r="0.8"/><circle cx="430.1" cy="738.4" r="0.6"/><circle cx="401.8" cy="719.1" r="1.0"/><circle cx="396.6" cy="755.9" r="0.6"/></g><g fill="#2038d8"><circle cx="397.0" cy="745.3" r="0.6"/><circle cx="433.0" cy="718.9" r="0.8"/><circle cx="411.1" cy="704.4" r="1.0"/><circle cx="400.7" cy="718.3" r="0.9"/><circle cx="414.3" cy="706.1" r="0.8"/><circle cx="390.9" cy="756.4" r="0.9"/><circle cx="419.0" cy="726.1" r="0.8"/><circle cx="437.9" cy="755.9" r="0.8"/><circle cx="433.7" cy="720.3" r="0.9"/><circle cx="416.4" cy="714.7" r="0.9"/><circle cx="384.0" cy="739.4" r="0.8"/><circle cx="416.6" cy="730.3" r="0.6"/><circle cx="400.8" cy="730.5" r="0.9"/><circle cx="402.9" cy="755.4" r="1.0"/><circle cx="408.4" cy="750.4" r="0.7"/><circle cx="436.3" cy="719.9" r="0.9"/><circle cx="390.0" cy="754.4" r="0.8"/><circle cx="417.3" cy="707.1" r="0.6"/><circle cx="423.7" cy="708.8" r="0.6"/><circle cx="430.9" cy="726.8" r="1.0"/><circle cx="412.1" cy="713.9" r="0.6"/><circle cx="420.7" cy="700.9" r="0.8"/><circle cx="418.7" cy="712.2" r="0.7"/><circle cx="431.2" cy="749.4" r="0.8"/><circle cx="440.4" cy="747.5" r="1.0"/><circle cx="415.4" cy="713.1" r="1.0"/><circle cx="431.0" cy="712.8" r="0.6"/><circle cx="435.0" cy="701.2" r="0.8"/><circle cx="413.7" cy="730.9" r="1.0"/><circle cx="396.2" cy="705.5" r="0.7"/><circle cx="422.9" cy="705.7" r="0.8"/><circle cx="392.8" cy="750.0" r="0.8"/><circle cx="411.7" cy="755.7" r="0.9"/><circle cx="428.8" cy="723.2" r="1.0"/><circle cx="413.1" cy="743.0" r="0.8"/><circle cx="386.5" cy="710.1" r="1.0"/><circle cx="436.5" cy="750.4" r="1.0"/><circle cx="433.4" cy="747.4" r="0.6"/><circle cx="396.2" cy="741.2" r="1.0"/><circle cx="403.5" cy="754.4" r="0.7"/><circle cx="420.3" cy="714.9" r="1.0"/><circle cx="403.4" cy="712.7" r="1.0"/><circle cx="427.0" cy="702.7" r="1.0"/><circle cx="418.0" cy="716.6" r="0.8"/><circle cx="423.0" cy="706.8" r="0.9"/><circle cx="410.8" cy="729.5" r="0.8"/><circle cx="405.4" cy="715.5" r="0.8"/><circle cx="439.1" cy="745.3" r="0.6"/><circle cx="404.8" cy="732.4" r="1.0"/><circle cx="416.5" cy="738.2" r="0.7"/><circle cx="435.5" cy="754.4" r="0.8"/><circle cx="426.2" cy="715.5" r="0.7"/><circle cx="431.1" cy="720.3" r="0.9"/><circle cx="425.4" cy="736.8" r="0.6"/><circle cx="395.6" cy="705.7" r="0.7"/><circle cx="433.2" cy="715.0" r="0.9"/><circle cx="434.8" cy="750.1" r="0.7"/><circle cx="434.0" cy="748.2" r="0.6"/><circle cx="427.7" cy="719.6" r="0.8"/><circle cx="409.7" cy="714.7" r="0.9"/><circle cx="431.3" cy="722.4" r="0.7"/><circle cx="432.8" cy="716.3" r="0.9"/><circle cx="413.8" cy="713.5" r="0.9"/><circle cx="399.5" cy="721.7" r="0.9"/><circle cx="432.6" cy="753.7" r="0.8"/><circle cx="404.0" cy="730.0" r="0.7"/><circle cx="387.5" cy="733.1" r="0.6"/><circle cx="431.4" cy="739.5" r="0.6"/><circle cx="399.3" cy="702.8" r="0.6"/><circle cx="418.2" cy="719.5" r="0.7"/><circle cx="410.1" cy="751.9" r="0.6"/><circle cx="391.0" cy="738.5" r="0.9"/><circle cx="413.7" cy="748.7" r="0.7"/><circle cx="420.6" cy="729.5" r="0.8"/><circle cx="402.1" cy="703.6" r="0.6"/><circle cx="421.1" cy="741.9" r="1.0"/><circle cx="428.3" cy="740.1" r="0.6"/><circle cx="410.0" cy="720.8" r="1.0"/><circle cx="422.6" cy="734.2" r="0.8"/><circle cx="411.2" cy="717.9" r="0.9"/><circle cx="397.1" cy="755.4" r="0.8"/><circle cx="429.4" cy="716.6" r="0.9"/><circle cx="424.2" cy="700.5" r="0.8"/><circle cx="432.5" cy="719.3" r="0.6"/><circle cx="434.0" cy="711.0" r="0.7"/><circle cx="431.3" cy="750.4" r="0.6"/><circle cx="419.2" cy="750.6" r="1.0"/><circle cx="409.8" cy="724.8" r="0.9"/><circle cx="416.8" cy="742.8" r="1.0"/><circle cx="417.7" cy="712.0" r="0.9"/><circle cx="392.1" cy="748.2" r="0.8"/><circle cx="392.6" cy="725.1" r="0.7"/><circle cx="425.5" cy="729.6" r="1.0"/><circle cx="433.8" cy="739.9" r="0.8"/><circle cx="392.9" cy="754.1" r="0.7"/><circle cx="417.2" cy="727.6" r="0.6"/><circle cx="392.0" cy="724.8" r="0.7"/><circle cx="438.9" cy="741.7" r="1.0"/><circle cx="414.2" cy="749.8" r="0.9"/><circle cx="393.3" cy="745.3" r="1.0"/><circle cx="419.8" cy="740.0" r="0.6"/><circle cx="434.4" cy="732.5" r="0.7"/><circle cx="414.9" cy="746.8" r="0.6"/><circle cx="404.7" cy="740.4" r="0.7"/><circle cx="428.1" cy="725.9" r="0.8"/><circle cx="401.4" cy="730.3" r="0.9"/><circle cx="411.1" cy="755.0" r="0.7"/><circle cx="384.0" cy="727.1" r="0.8"/><circle cx="417.4" cy="709.3" r="0.7"/><circle cx="416.2" cy="705.5" r="0.9"/><circle cx="392.2" cy="733.0" r="1.0"/><circle cx="437.8" cy="711.0" r="0.7"/><circle cx="421.2" cy="751.8" r="1.0"/><circle cx="432.3" cy="709.4" r="0.6"/><circle cx="426.1" cy="745.9" r="0.9"/><circle cx="422.2" cy="706.0" r="0.6"/><circle cx="389.5" cy="735.1" r="0.6"/><circle cx="396.8" cy="726.5" r="0.7"/><circle cx="385.7" cy="707.9" r="0.9"/><circle cx="400.9" cy="724.1" r="0.6"/><circle cx="400.4" cy="701.2" r="0.7"/><circle cx="424.9" cy="708.5" r="1.0"/><circle cx="439.1" cy="716.0" r="1.0"/><circle cx="423.3" cy="724.4" r="0.6"/><circle cx="383.0" cy="704.6" r="0.7"/><circle cx="421.9" cy="752.0" r="0.8"/><circle cx="411.4" cy="700.6" r="0.9"/><circle cx="416.1" cy="746.7" r="0.9"/><circle cx="434.6" cy="757.5" r="0.6"/><circle cx="427.3" cy="733.2" r="0.7"/><circle cx="392.6" cy="747.5" r="0.8"/><circle cx="437.2" cy="736.3" r="1.0"/><circle cx="398.8" cy="751.6" r="0.6"/><circle cx="417.1" cy="746.0" r="0.9"/><circle cx="402.1" cy="705.5" r="1.0"/><circle cx="426.6" cy="728.5" r="0.7"/><circle cx="413.6" cy="715.3" r="0.9"/><circle cx="396.3" cy="707.4" r="0.9"/><circle cx="404.5" cy="728.4" r="0.6"/><circle cx="424.8" cy="745.1" r="0.7"/><circle cx="383.9" cy="705.2" r="0.7"/><circle cx="411.5" cy="756.1" r="0.7"/><circle cx="398.7" cy="727.5" r="0.7"/><circle cx="412.9" cy="754.5" r="1.0"/><circle cx="409.9" cy="724.9" r="0.8"/><circle cx="424.0" cy="739.7" r="0.6"/><circle cx="422.9" cy="733.6" r="0.6"/><circle cx="385.1" cy="753.4" r="0.6"/><circle cx="427.6" cy="751.1" r="0.8"/><circle cx="429.4" cy="743.9" r="0.7"/><circle cx="390.5" cy="720.8" r="0.8"/><circle cx="383.4" cy="701.8" r="1.0"/><circle cx="390.3" cy="747.7" r="0.9"/><circle cx="404.2" cy="753.3" r="0.9"/><circle cx="408.6" cy="737.2" r="0.8"/><circle cx="433.1" cy="751.7" r="1.0"/><circle cx="434.8" cy="721.2" r="0.7"/><circle cx="432.6" cy="750.5" r="0.6"/><circle cx="389.5" cy="716.4" r="0.8"/><circle cx="389.9" cy="709.1" r="0.7"/><circle cx="433.7" cy="701.9" r="1.0"/><circle cx="425.4" cy="715.1" r="1.0"/><circle cx="433.5" cy="717.2" r="0.9"/><circle cx="384.0" cy="750.8" r="0.6"/><circle cx="391.3" cy="699.8" r="0.7"/><circle cx="426.0" cy="756.1" r="1.0"/><circle cx="417.6" cy="753.9" r="0.6"/><circle cx="392.9" cy="744.7" r="0.9"/><circle cx="417.7" cy="710.7" r="0.8"/><circle cx="436.8" cy="747.1" r="0.6"/><circle cx="429.7" cy="721.0" r="0.7"/><circle cx="402.7" cy="721.0" r="0.6"/><circle cx="438.6" cy="756.4" r="0.9"/><circle cx="434.7" cy="752.7" r="0.6"/><circle cx="417.2" cy="743.6" r="0.6"/><circle cx="405.1" cy="724.4" r="1.0"/><circle cx="406.6" cy="713.8" r="0.9"/><circle cx="389.9" cy="708.6" r="0.9"/><circle cx="384.2" cy="702.3" r="0.8"/><circle cx="409.2" cy="710.8" r="1.0"/><circle cx="396.7" cy="744.9" r="0.7"/><circle cx="416.7" cy="724.0" r="1.0"/><circle cx="435.8" cy="730.5" r="0.9"/><circle cx="411.6" cy="722.3" r="0.8"/><circle cx="432.9" cy="755.9" r="0.9"/><circle cx="393.8" cy="739.3" r="0.6"/><circle cx="440.1" cy="744.4" r="1.0"/><circle cx="435.4" cy="704.7" r="1.0"/><circle cx="438.3" cy="703.6" r="0.7"/><circle cx="404.4" cy="754.7" r="0.7"/><circle cx="418.9" cy="755.4" r="0.8"/><circle cx="383.8" cy="740.5" r="0.6"/><circle cx="431.5" cy="706.2" r="0.8"/><circle cx="418.0" cy="747.1" r="1.0"/><circle cx="390.5" cy="706.6" r="0.8"/><circle cx="423.1" cy="725.4" r="0.6"/><circle cx="434.0" cy="712.7" r="0.9"/><circle cx="404.7" cy="722.1" r="0.9"/><circle cx="400.0" cy="703.7" r="0.6"/><circle cx="416.8" cy="757.1" r="1.0"/><circle cx="406.7" cy="719.9" r="1.0"/><circle cx="415.1" cy="720.3" r="0.6"/><circle cx="422.7" cy="701.8" r="0.7"/><circle cx="427.8" cy="745.6" r="1.0"/><circle cx="404.9" cy="724.9" r="0.7"/><circle cx="421.1" cy="714.3" r="1.0"/><circle cx="435.5" cy="735.7" r="0.6"/><circle cx="395.6" cy="710.9" r="0.9"/><circle cx="416.3" cy="700.6" r="0.8"/><circle cx="402.5" cy="711.2" r="1.0"/><circle cx="416.7" cy="745.6" r="0.7"/><circle cx="402.9" cy="746.3" r="0.7"/><circle cx="420.4" cy="734.4" r="0.8"/><circle cx="413.0" cy="739.5" r="0.6"/><circle cx="416.5" cy="718.4" r="1.0"/><circle cx="398.5" cy="710.4" r="0.7"/><circle cx="392.5" cy="744.5" r="1.0"/><circle cx="425.1" cy="745.5" r="0.9"/><circle cx="425.2" cy="731.9" r="1.0"/><circle cx="402.0" cy="721.9" r="1.0"/></g></g></g>
<rect x="442.5" y="699.6" width="57.5" height="58.2" fill="#06060f"/>
<clipPath id="cd4"><rect x="442.5" y="699.6" width="57.5" height="58.2"/></clipPath>
<g clip-path="url(#cd4)"><g filter="url(#mb)"><g fill="#1c48d8"><circle cx="468.0" cy="732.3" r="0.8"/><circle cx="447.8" cy="729.3" r="0.8"/><circle cx="483.9" cy="753.9" r="0.8"/><circle cx="486.3" cy="712.7" r="1.0"/><circle cx="477.1" cy="756.7" r="0.9"/><circle cx="477.6" cy="722.0" r="0.6"/><circle cx="449.0" cy="727.8" r="0.9"/><circle cx="477.4" cy="736.3" r="1.1"/><circle cx="445.4" cy="719.6" r="1.1"/><circle cx="497.3" cy="725.5" r="0.6"/><circle cx="444.6" cy="731.6" r="0.9"/><circle cx="468.8" cy="710.0" r="0.8"/><circle cx="489.7" cy="734.5" r="1.0"/><circle cx="481.9" cy="748.7" r="1.1"/><circle cx="455.2" cy="725.7" r="0.8"/><circle cx="471.0" cy="706.8" r="1.0"/><circle cx="462.0" cy="705.4" r="1.1"/><circle cx="490.2" cy="755.5" r="0.9"/><circle cx="461.6" cy="717.7" r="0.8"/><circle cx="446.9" cy="754.2" r="0.6"/><circle cx="457.1" cy="700.9" r="0.7"/><circle cx="479.8" cy="726.7" r="0.6"/><circle cx="452.0" cy="735.5" r="0.7"/><circle cx="472.9" cy="706.8" r="0.8"/><circle cx="475.1" cy="738.1" r="1.0"/><circle cx="454.6" cy="718.7" r="0.7"/><circle cx="471.3" cy="734.3" r="0.7"/><circle cx="476.7" cy="716.4" r="1.0"/><circle cx="455.4" cy="729.6" r="0.8"/><circle cx="474.3" cy="725.9" r="0.7"/><circle cx="454.0" cy="711.8" r="0.9"/><circle cx="468.3" cy="755.7" r="0.7"/><circle cx="453.0" cy="745.4" r="0.8"/><circle cx="467.7" cy="727.3" r="0.7"/><circle cx="459.6" cy="704.2" r="1.0"/><circle cx="473.0" cy="741.6" r="0.8"/><circle cx="446.7" cy="707.0" r="1.0"/><circle cx="459.1" cy="728.2" r="0.9"/><circle cx="487.1" cy="744.4" r="1.1"/><circle cx="445.0" cy="728.6" r="0.9"/><circle cx="472.6" cy="752.8" r="1.1"/><circle cx="456.2" cy="717.9" r="0.8"/><circle cx="473.3" cy="749.0" r="0.7"/><circle cx="473.8" cy="730.0" r="0.7"/><circle cx="457.4" cy="721.3" r="0.8"/><circle cx="495.3" cy="750.9" r="0.9"/><circle cx="481.8" cy="717.9" r="1.0"/><circle cx="448.1" cy="752.7" r="0.6"/><circle cx="464.1" cy="700.7" r="1.1"/><circle cx="498.7" cy="733.0" r="0.7"/><circle cx="457.3" cy="733.3" r="0.8"/><circle cx="447.8" cy="720.8" r="1.1"/><circle cx="485.4" cy="729.2" r="0.9"/><circle cx="498.1" cy="727.5" r="0.8"/><circle cx="446.7" cy="737.8" r="0.8"/><circle cx="468.9" cy="724.0" r="1.0"/><circle cx="471.6" cy="734.2" r="0.7"/><circle cx="476.6" cy="701.4" r="0.6"/><circle cx="497.4" cy="711.5" r="0.8"/><circle cx="451.9" cy="715.4" r="1.1"/><circle cx="447.2" cy="749.9" r="0.7"/><circle cx="486.3" cy="733.5" r="1.0"/><circle cx="474.2" cy="724.3" r="1.0"/><circle cx="473.2" cy="752.3" r="0.7"/><circle cx="483.8" cy="712.6" r="0.7"/><circle cx="444.6" cy="751.5" r="0.6"/><circle cx="496.1" cy="757.1" r="1.0"/><circle cx="450.7" cy="741.1" r="0.9"/><circle cx="495.4" cy="735.9" r="0.6"/><circle cx="453.5" cy="700.7" r="0.8"/><circle cx="480.8" cy="740.2" r="0.8"/><circle cx="475.3" cy="743.2" r="0.9"/><circle cx="460.5" cy="728.5" r="0.7"/><circle cx="493.2" cy="755.1" r="0.8"/><circle cx="492.0" cy="729.3" r="0.9"/><circle cx="484.1" cy="733.7" r="0.7"/><circle cx="477.1" cy="743.9" r="0.7"/><circle cx="459.4" cy="712.1" r="0.9"/><circle cx="447.7" cy="733.4" r="0.9"/><circle cx="499.2" cy="717.4" r="0.9"/><circle cx="445.5" cy="739.9" r="0.9"/><circle cx="488.9" cy="723.8" r="0.7"/><circle cx="494.7" cy="752.5" r="0.7"/><circle cx="489.4" cy="753.9" r="1.1"/><circle cx="499.4" cy="743.0" r="1.0"/><circle cx="454.8" cy="749.3" r="1.1"/><circle cx="452.0" cy="737.8" r="0.7"/><circle cx="483.8" cy="730.4" r="1.0"/><circle cx="489.2" cy="715.7" r="0.8"/><circle cx="452.4" cy="700.4" r="0.8"/><circle cx="493.9" cy="755.6" r="0.8"/><circle cx="462.5" cy="722.2" r="0.7"/><circle cx="443.4" cy="739.1" r="0.8"/><circle cx="484.4" cy="727.0" r="1.1"/><circle cx="443.7" cy="712.0" r="0.8"/><circle cx="486.2" cy="737.9" r="0.7"/><circle cx="488.9" cy="751.7" r="0.7"/><circle cx="451.2" cy="723.7" r="0.7"/><circle cx="472.5" cy="714.7" r="0.7"/><circle cx="495.8" cy="710.1" r="0.6"/><circle cx="488.1" cy="727.3" r="0.6"/><circle cx="479.4" cy="739.5" r="1.0"/><circle cx="478.0" cy="710.9" r="0.9"/><circle cx="497.2" cy="704.9" r="0.6"/><circle cx="479.3" cy="718.9" r="0.7"/><circle cx="478.7" cy="752.4" r="0.9"/><circle cx="462.0" cy="757.2" r="0.9"/><circle cx="462.2" cy="706.6" r="1.1"/><circle cx="499.0" cy="738.3" r="0.9"/><circle cx="468.9" cy="715.4" r="0.9"/><circle cx="487.0" cy="752.7" r="0.9"/><circle cx="472.9" cy="708.1" r="0.8"/><circle cx="470.7" cy="742.3" r="0.7"/><circle cx="479.1" cy="701.4" r="0.7"/></g><g fill="#2050e0"><circle cx="450.7" cy="701.5" r="1.0"/><circle cx="498.5" cy="755.0" r="0.9"/><circle cx="465.5" cy="705.8" r="1.0"/><circle cx="482.1" cy="700.1" r="0.8"/><circle cx="497.8" cy="733.0" r="0.9"/><circle cx="484.3" cy="754.7" r="1.0"/><circle cx="471.9" cy="748.1" r="1.1"/><circle cx="487.0" cy="712.2" r="1.1"/><circle cx="450.7" cy="711.9" r="0.8"/><circle cx="479.4" cy="757.6" r="1.0"/><circle cx="454.4" cy="727.4" r="0.7"/><circle cx="461.9" cy="709.8" r="0.7"/><circle cx="491.7" cy="729.3" r="0.8"/><circle cx="478.4" cy="739.0" r="0.8"/><circle cx="472.2" cy="701.0" r="0.8"/><circle cx="469.4" cy="732.9" r="0.9"/><circle cx="483.5" cy="726.7" r="0.6"/><circle cx="445.8" cy="727.4" r="0.8"/><circle cx="478.4" cy="746.5" r="0.8"/><circle cx="484.5" cy="717.1" r="1.1"/><circle cx="448.7" cy="742.0" r="0.8"/><circle cx="451.1" cy="733.5" r="1.0"/><circle cx="483.9" cy="707.5" r="0.7"/><circle cx="467.0" cy="716.9" r="0.7"/><circle cx="472.2" cy="754.7" r="0.9"/><circle cx="443.3" cy="729.8" r="0.9"/><circle cx="473.9" cy="722.4" r="0.7"/><circle cx="472.7" cy="716.8" r="1.0"/><circle cx="498.7" cy="703.6" r="1.0"/><circle cx="455.5" cy="740.2" r="1.0"/><circle cx="462.7" cy="726.5" r="1.1"/><circle cx="453.9" cy="703.5" r="1.0"/><circle cx="453.2" cy="741.8" r="0.7"/><circle cx="493.4" cy="749.0" r="0.8"/><circle cx="445.3" cy="705.0" r="0.9"/><circle cx="463.8" cy="715.9" r="0.9"/><circle cx="484.2" cy="739.9" r="1.0"/><circle cx="475.7" cy="702.2" r="0.9"/><circle cx="483.9" cy="730.2" r="0.8"/><circle cx="496.3" cy="727.5" r="1.0"/><circle cx="493.5" cy="746.2" r="1.0"/><circle cx="461.7" cy="741.2" r="0.9"/><circle cx="447.1" cy="734.5" r="0.7"/><circle cx="466.1" cy="748.2" r="1.1"/><circle cx="495.8" cy="708.0" r="0.7"/><circle cx="491.2" cy="720.9" r="1.1"/><circle cx="487.4" cy="743.6" r="1.0"/><circle cx="454.5" cy="728.5" r="1.0"/><circle cx="473.2" cy="755.8" r="0.9"/><circle cx="497.0" cy="747.8" r="1.0"/><circle cx="486.9" cy="751.9" r="0.9"/><circle cx="446.0" cy="726.4" r="0.7"/><circle cx="449.7" cy="742.5" r="1.0"/><circle cx="458.5" cy="710.5" r="0.7"/><circle cx="469.5" cy="743.6" r="1.0"/><circle cx="496.9" cy="747.6" r="0.8"/><circle cx="472.7" cy="710.1" r="0.7"/><circle cx="458.7" cy="722.6" r="0.9"/><circle cx="495.4" cy="734.7" r="0.6"/><circle cx="488.0" cy="741.0" r="0.9"/><circle cx="463.0" cy="716.7" r="0.9"/><circle cx="459.8" cy="724.4" r="0.9"/><circle cx="465.8" cy="751.6" r="0.9"/><circle cx="471.6" cy="710.2" r="1.1"/><circle cx="468.9" cy="713.7" r="0.6"/><circle cx="483.5" cy="713.6" r="1.0"/><circle cx="450.6" cy="739.1" r="0.7"/><circle cx="490.5" cy="740.8" r="0.7"/><circle cx="466.8" cy="742.8" r="1.1"/><circle cx="492.4" cy="729.4" r="1.0"/><circle cx="458.0" cy="744.7" r="1.0"/><circle cx="445.1" cy="754.9" r="1.0"/><circle cx="471.9" cy="728.1" r="0.8"/><circle cx="475.7" cy="755.6" r="1.0"/><circle cx="486.7" cy="724.1" r="0.6"/><circle cx="453.5" cy="706.1" r="0.6"/><circle cx="499.0" cy="717.9" r="0.7"/><circle cx="468.4" cy="741.3" r="0.8"/><circle cx="466.0" cy="738.3" r="0.9"/><circle cx="493.0" cy="737.8" r="1.0"/><circle cx="473.7" cy="719.7" r="1.0"/><circle cx="453.3" cy="741.5" r="1.1"/><circle cx="474.8" cy="710.1" r="0.7"/><circle cx="491.3" cy="701.1" r="0.7"/><circle cx="458.7" cy="747.8" r="0.9"/><circle cx="445.2" cy="712.8" r="0.7"/><circle cx="492.3" cy="743.9" r="0.9"/><circle cx="492.0" cy="738.4" r="0.9"/><circle cx="498.5" cy="713.0" r="1.0"/><circle cx="461.7" cy="706.9" r="0.6"/><circle cx="480.7" cy="705.7" r="1.1"/><circle cx="471.1" cy="743.8" r="1.0"/><circle cx="461.5" cy="729.9" r="0.7"/><circle cx="468.9" cy="750.5" r="0.7"/><circle cx="445.8" cy="702.2" r="1.0"/><circle cx="491.7" cy="743.4" r="0.6"/><circle cx="455.6" cy="726.1" r="0.7"/><circle cx="477.3" cy="708.1" r="0.9"/><circle cx="481.6" cy="701.1" r="0.9"/><circle cx="480.7" cy="708.7" r="1.0"/><circle cx="495.7" cy="714.5" r="0.9"/><circle cx="473.5" cy="754.4" r="0.6"/><circle cx="455.1" cy="715.8" r="1.1"/><circle cx="467.8" cy="749.2" r="1.1"/><circle cx="461.6" cy="702.1" r="0.7"/><circle cx="495.5" cy="750.0" r="0.9"/><circle cx="443.9" cy="755.3" r="1.0"/><circle cx="446.7" cy="737.9" r="0.9"/><circle cx="479.6" cy="737.2" r="0.6"/><circle cx="467.0" cy="756.3" r="0.9"/><circle cx="464.3" cy="734.1" r="1.0"/></g><g fill="#1838c0"><circle cx="458.9" cy="747.1" r="0.8"/><circle cx="453.7" cy="703.6" r="1.1"/><circle cx="478.9" cy="756.7" r="0.9"/><circle cx="486.9" cy="706.5" r="0.8"/><circle cx="490.5" cy="726.5" r="1.1"/><circle cx="446.4" cy="715.5" r="0.8"/><circle cx="453.8" cy="726.0" r="0.9"/><circle cx="491.4" cy="751.6" r="1.1"/><circle cx="444.0" cy="722.9" r="0.7"/><circle cx="482.2" cy="705.8" r="0.6"/><circle cx="449.5" cy="727.2" r="0.7"/><circle cx="496.7" cy="727.7" r="1.0"/><circle cx="460.2" cy="738.9" r="0.7"/><circle cx="492.3" cy="703.4" r="0.9"/><circle cx="457.2" cy="732.3" r="0.6"/><circle cx="474.0" cy="702.1" r="1.0"/><circle cx="468.2" cy="726.7" r="0.9"/><circle cx="452.7" cy="705.6" r="0.6"/><circle cx="453.0" cy="717.9" r="0.8"/><circle cx="469.6" cy="735.1" r="0.7"/><circle cx="475.1" cy="734.7" r="0.9"/><circle cx="478.4" cy="720.4" r="1.0"/><circle cx="443.4" cy="717.0" r="0.9"/><circle cx="450.6" cy="743.0" r="1.0"/><circle cx="454.8" cy="723.3" r="0.9"/><circle cx="494.1" cy="747.4" r="0.8"/><circle cx="497.6" cy="721.9" r="1.0"/><circle cx="458.6" cy="752.5" r="1.0"/><circle cx="446.6" cy="752.1" r="0.8"/><circle cx="480.3" cy="726.6" r="0.9"/><circle cx="472.4" cy="728.6" r="0.8"/><circle cx="466.0" cy="746.3" r="0.8"/><circle cx="460.1" cy="723.4" r="0.8"/><circle cx="467.4" cy="738.6" r="0.9"/><circle cx="499.8" cy="708.1" r="0.9"/><circle cx="488.9" cy="732.8" r="1.0"/><circle cx="447.4" cy="723.3" r="0.7"/><circle cx="486.1" cy="744.4" r="0.6"/><circle cx="491.6" cy="745.8" r="0.9"/><circle cx="491.5" cy="731.3" r="0.6"/><circle cx="454.3" cy="752.4" r="1.0"/><circle cx="477.5" cy="724.3" r="1.0"/><circle cx="476.8" cy="710.2" r="1.0"/><circle cx="446.9" cy="724.5" r="0.9"/><circle cx="447.5" cy="740.8" r="0.8"/><circle cx="473.4" cy="702.5" r="0.7"/><circle cx="487.1" cy="734.0" r="0.8"/><circle cx="485.5" cy="747.8" r="0.8"/><circle cx="466.4" cy="738.2" r="0.8"/><circle cx="477.2" cy="703.7" r="1.0"/><circle cx="478.0" cy="732.4" r="0.8"/><circle cx="464.7" cy="708.5" r="1.1"/><circle cx="457.3" cy="747.0" r="0.9"/><circle cx="454.8" cy="732.8" r="0.6"/><circle cx="490.6" cy="705.6" r="0.9"/><circle cx="486.4" cy="745.9" r="0.7"/><circle cx="459.9" cy="716.4" r="0.7"/><circle cx="494.6" cy="749.4" r="1.1"/><circle cx="474.3" cy="708.2" r="0.7"/><circle cx="448.6" cy="720.8" r="0.7"/><circle cx="484.4" cy="710.3" r="0.6"/><circle cx="473.6" cy="710.6" r="1.0"/><circle cx="481.5" cy="741.2" r="0.9"/><circle cx="483.4" cy="719.6" r="1.1"/><circle cx="473.0" cy="741.7" r="0.9"/><circle cx="453.9" cy="707.5" r="1.0"/><circle cx="447.6" cy="738.0" r="0.6"/><circle cx="495.4" cy="711.9" r="0.9"/><circle cx="498.0" cy="712.1" r="0.6"/><circle cx="473.4" cy="725.6" r="0.8"/><circle cx="471.7" cy="700.8" r="0.8"/><circle cx="475.8" cy="753.6" r="0.8"/><circle cx="462.7" cy="719.6" r="0.6"/><circle cx="447.2" cy="747.3" r="0.8"/><circle cx="476.4" cy="707.8" r="0.8"/><circle cx="494.7" cy="748.9" r="0.7"/><circle cx="455.7" cy="729.5" r="1.0"/><circle cx="495.3" cy="703.4" r="0.9"/><circle cx="456.6" cy="745.8" r="0.9"/><circle cx="464.6" cy="736.3" r="1.1"/><circle cx="461.5" cy="705.3" r="1.0"/><circle cx="469.5" cy="710.7" r="0.7"/><circle cx="467.1" cy="749.5" r="0.8"/><circle cx="499.7" cy="723.5" r="1.1"/><circle cx="480.5" cy="751.6" r="1.1"/><circle cx="485.2" cy="742.9" r="0.8"/><circle cx="486.9" cy="721.8" r="0.8"/><circle cx="480.7" cy="717.8" r="0.8"/><circle cx="480.3" cy="728.5" r="0.7"/><circle cx="452.8" cy="738.0" r="0.7"/><circle cx="444.1" cy="721.2" r="1.0"/><circle cx="455.8" cy="738.8" r="1.1"/></g><g fill="#2a60e8"><circle cx="450.1" cy="718.1" r="0.9"/><circle cx="497.1" cy="742.2" r="0.9"/><circle cx="497.7" cy="724.3" r="1.0"/><circle cx="486.2" cy="738.5" r="0.9"/><circle cx="468.5" cy="723.2" r="0.7"/><circle cx="461.4" cy="712.8" r="1.1"/><circle cx="455.1" cy="719.6" r="1.0"/><circle cx="467.8" cy="736.4" r="1.1"/><circle cx="450.1" cy="717.8" r="0.8"/><circle cx="451.5" cy="711.3" r="0.6"/><circle cx="498.0" cy="700.0" r="0.7"/><circle cx="476.2" cy="732.6" r="0.7"/><circle cx="466.4" cy="700.4" r="0.7"/><circle cx="494.7" cy="712.9" r="0.9"/><circle cx="466.8" cy="752.6" r="0.9"/><circle cx="459.5" cy="729.7" r="0.7"/><circle cx="445.4" cy="707.7" r="0.8"/><circle cx="451.9" cy="733.8" r="0.8"/><circle cx="468.5" cy="726.3" r="0.9"/><circle cx="492.7" cy="705.7" r="0.7"/><circle cx="484.7" cy="753.5" r="1.0"/><circle cx="498.8" cy="752.3" r="0.7"/><circle cx="494.7" cy="749.9" r="0.9"/><circle cx="463.2" cy="746.0" r="1.0"/><circle cx="464.0" cy="725.8" r="0.8"/><circle cx="498.8" cy="723.0" r="0.7"/><circle cx="498.8" cy="714.8" r="1.0"/><circle cx="475.0" cy="703.6" r="0.7"/><circle cx="485.3" cy="743.3" r="0.8"/><circle cx="442.8" cy="731.2" r="0.7"/><circle cx="489.0" cy="721.1" r="1.0"/><circle cx="470.9" cy="756.1" r="0.8"/><circle cx="457.4" cy="744.8" r="0.9"/><circle cx="465.0" cy="756.5" r="0.7"/><circle cx="465.1" cy="756.9" r="1.1"/><circle cx="487.3" cy="718.4" r="0.9"/><circle cx="455.5" cy="716.6" r="0.7"/><circle cx="492.8" cy="744.4" r="0.7"/><circle cx="470.0" cy="700.5" r="1.0"/><circle cx="499.9" cy="740.3" r="0.8"/><circle cx="483.9" cy="727.3" r="1.0"/><circle cx="466.3" cy="731.8" r="1.0"/><circle cx="477.6" cy="751.0" r="1.1"/><circle cx="458.4" cy="714.4" r="0.7"/><circle cx="465.1" cy="728.4" r="0.8"/><circle cx="484.7" cy="720.5" r="1.0"/><circle cx="475.9" cy="741.3" r="1.0"/><circle cx="451.1" cy="746.0" r="0.8"/><circle cx="476.9" cy="740.1" r="0.7"/><circle cx="499.9" cy="716.8" r="1.1"/><circle cx="470.6" cy="700.3" r="1.0"/><circle cx="454.1" cy="752.4" r="0.9"/><circle cx="450.2" cy="740.4" r="0.8"/><circle cx="451.7" cy="724.6" r="0.7"/><circle cx="467.0" cy="751.8" r="0.6"/><circle cx="450.5" cy="723.2" r="0.6"/><circle cx="465.3" cy="706.3" r="0.9"/><circle cx="487.0" cy="701.5" r="1.0"/><circle cx="454.6" cy="742.0" r="1.0"/><circle cx="486.6" cy="720.7" r="0.9"/><circle cx="456.9" cy="724.0" r="0.7"/><circle cx="497.4" cy="754.1" r="1.1"/><circle cx="499.2" cy="704.6" r="1.0"/><circle cx="494.9" cy="709.5" r="0.7"/><circle cx="470.9" cy="700.9" r="1.0"/><circle cx="460.9" cy="711.1" r="0.8"/><circle cx="450.1" cy="711.9" r="0.9"/><circle cx="483.1" cy="756.9" r="1.0"/><circle cx="466.9" cy="717.6" r="0.6"/><circle cx="483.3" cy="751.3" r="0.8"/><circle cx="471.7" cy="733.5" r="1.0"/><circle cx="465.1" cy="723.5" r="0.8"/><circle cx="493.4" cy="700.3" r="0.7"/><circle cx="486.7" cy="734.8" r="0.7"/><circle cx="496.5" cy="711.5" r="0.8"/><circle cx="480.8" cy="731.7" r="0.9"/><circle cx="455.9" cy="738.4" r="1.0"/><circle cx="447.3" cy="703.9" r="0.9"/><circle cx="495.4" cy="727.2" r="1.1"/><circle cx="457.1" cy="755.6" r="0.7"/><circle cx="482.4" cy="744.3" r="1.0"/><circle cx="468.8" cy="733.2" r="0.7"/><circle cx="480.4" cy="735.4" r="0.7"/><circle cx="472.8" cy="745.1" r="0.7"/><circle cx="499.0" cy="709.2" r="1.0"/><circle cx="499.4" cy="747.7" r="0.7"/><circle cx="460.9" cy="729.2" r="0.9"/><circle cx="459.9" cy="707.3" r="0.7"/><circle cx="490.1" cy="738.6" r="0.9"/><circle cx="490.8" cy="713.4" r="0.9"/><circle cx="469.9" cy="725.7" r="1.0"/><circle cx="472.1" cy="729.3" r="0.7"/><circle cx="473.9" cy="736.0" r="0.7"/><circle cx="443.0" cy="754.5" r="1.1"/><circle cx="463.8" cy="707.8" r="0.6"/><circle cx="468.7" cy="708.7" r="0.7"/><circle cx="479.0" cy="725.5" r="1.0"/><circle cx="456.1" cy="713.2" r="1.1"/><circle cx="475.4" cy="721.7" r="1.0"/><circle cx="463.3" cy="754.2" r="1.1"/><circle cx="487.4" cy="755.1" r="0.9"/><circle cx="451.4" cy="733.7" r="0.9"/><circle cx="492.2" cy="756.5" r="0.6"/></g><circle cx="452.2" cy="705.9" r="1.8" fill="#28c050"/><circle cx="455.0" cy="704.5" r="1.2" fill="#28c050"/><circle cx="486.0" cy="701.4" r="1.4" fill="#28c050"/><circle cx="465.7" cy="715.0" r="0.8" fill="#28b060"/><circle cx="479.2" cy="739.7" r="0.8" fill="#28b070"/><circle cx="469.0" cy="753.2" r="1.5" fill="#28c050"/></g></g>
<line x1="419.7" y1="694.9" x2="438.9" y2="694.9" stroke="#c8b400" stroke-width="0.8"/>
<text x="429.7" y="693.4" font-size="3.2" text-anchor="middle" fill="#c8b400">100μm</text>
<line x1="479.5" y1="694.9" x2="498.7" y2="694.9" stroke="#c8b400" stroke-width="0.8"/>
<text x="489.5" y="693.4" font-size="3.2" text-anchor="middle" fill="#c8b400">100μm</text>
<line x1="419.7" y1="755.1" x2="438.9" y2="755.1" stroke="#c8b400" stroke-width="0.8"/>
<text x="429.7" y="753.6" font-size="3.2" text-anchor="middle" fill="#c8b400">100μm</text>
<line x1="479.5" y1="755.1" x2="498.7" y2="755.1" stroke="#c8b400" stroke-width="0.8"/>
<text x="489.5" y="753.6" font-size="3.2" text-anchor="middle" fill="#c8b400">100μm</text>
</svg>
</body></html>
